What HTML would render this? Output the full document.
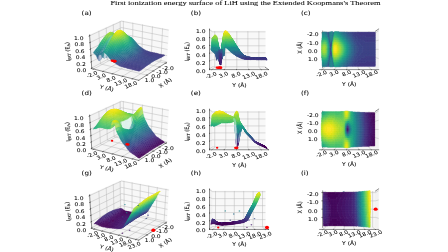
<!DOCTYPE html><html><head><meta charset="utf-8"><style>html,body{margin:0;padding:0;background:#fff;overflow:hidden}svg{display:block}text{stroke:#000;stroke-width:0.3px;stroke-opacity:0.35}</style></head><body><svg width="448" height="252" preserveAspectRatio="none" viewBox="0 0 746.666667 504" version="1.1"><defs><style type="text/css">*{stroke-linejoin: round; stroke-linecap: butt}</style></defs><g id="figure_1"><g id="patch_1"><path d="M 0 504 L 746.7 504 L 746.7 0 L 0 0 z" style="fill: #ffffff"/></g><g id="patch_2"><path d="M 136 164.8 L 292.3 164.8 L 292.3 35.8 L 136 35.8 z" style="fill: #ffffff"/></g><g id="pane3d_1"><g id="patch_3"><path d="M 203.2 104.7 L 277.8 124.8 L 281.3 58.9 L 202.5 41.1" style="fill: #f2f2f2; opacity: 0.5; stroke: #f2f2f2; stroke-linejoin: miter"/></g></g><g id="pane3d_2"><g id="patch_4"><path d="M 203.2 104.7 L 152.9 137.2 L 149.3 70 L 202.5 41.1" style="fill: #e6e6e6; opacity: 0.5; stroke: #e6e6e6; stroke-linejoin: miter"/></g></g><g id="pane3d_3"><g id="patch_5"><path d="M 203.2 104.7 L 152.9 137.2 L 231.2 160.6 L 277.8 124.8" style="fill: #ececec; opacity: 0.5; stroke: #ececec; stroke-linejoin: miter"/></g></g><g id="grid3d_1"><g id="Line3DCollection_1"><path d="M 275.9 126.3 L 201 106.1 L 200.2 42.3" style="fill: none; stroke: #b0b0b0; stroke-width: 0.8"/><path d="M 265.8 134 L 190.2 113.1 L 188.8 48.5" style="fill: none; stroke: #b0b0b0; stroke-width: 0.8"/><path d="M 255.5 142 L 179 120.3 L 177 55" style="fill: none; stroke: #b0b0b0; stroke-width: 0.8"/><path d="M 244.7 150.3 L 167.4 127.8 L 164.7 61.7" style="fill: none; stroke: #b0b0b0; stroke-width: 0.8"/></g></g><g id="grid3d_2"><g id="Line3DCollection_2"><path d="M 205.5 41.8 L 206.1 105.5 L 156 138.1" style="fill: none; stroke: #b0b0b0; stroke-width: 0.8"/><path d="M 221.4 45.4 L 221.1 109.6 L 171.7 142.8" style="fill: none; stroke: #b0b0b0; stroke-width: 0.8"/><path d="M 237.6 49 L 236.5 113.7 L 187.8 147.6" style="fill: none; stroke: #b0b0b0; stroke-width: 0.8"/><path d="M 254.1 52.8 L 252.2 117.9 L 204.2 152.6" style="fill: none; stroke: #b0b0b0; stroke-width: 0.8"/><path d="M 271 56.6 L 268.2 122.2 L 221 157.6" style="fill: none; stroke: #b0b0b0; stroke-width: 0.8"/></g></g><g id="grid3d_3"><g id="Line3DCollection_3"><path d="M 152.9 135.9 L 203.1 103.5 L 277.9 123.5" style="fill: none; stroke: #b0b0b0; stroke-width: 0.8"/><path d="M 152.2 123.6 L 203 91.8 L 278.5 111.4" style="fill: none; stroke: #b0b0b0; stroke-width: 0.8"/><path d="M 151.5 111 L 202.9 79.8 L 279.2 99" style="fill: none; stroke: #b0b0b0; stroke-width: 0.8"/><path d="M 150.8 98.1 L 202.8 67.6 L 279.8 86.4" style="fill: none; stroke: #b0b0b0; stroke-width: 0.8"/><path d="M 150.1 84.9 L 202.6 55.1 L 280.5 73.5" style="fill: none; stroke: #b0b0b0; stroke-width: 0.8"/><path d="M 149.4 71.5 L 202.5 42.4 L 281.2 60.3" style="fill: none; stroke: #b0b0b0; stroke-width: 0.8"/></g></g><g id="axis3d_1"><g id="line2d_1"><path d="M 277.8 124.8 L 231.2 160.6" style="fill: none; stroke: #000000; stroke-width: 0.8; stroke-linecap: square"/></g><g id="xtick_1"><g id="line2d_2"><path d="M 275.3 126.1 L 277.1 126.6" style="fill: none; stroke: #000000; stroke-width: 0.8; stroke-linecap: square"/></g><g id="text_1" transform="translate(-7.6 -7.5)"><text style="font-size: 10px; font-family: 'DejaVu Sans'; text-anchor: middle" x="287.5" y="146.8" transform="rotate(-0 287.5 146.8)">-2.0</text></g></g><g id="xtick_2"><g id="line2d_3"><path d="M 265.2 133.8 L 267.1 134.3" style="fill: none; stroke: #000000; stroke-width: 0.8; stroke-linecap: square"/></g><g id="text_2" transform="translate(-7.6 -7.5)"><text style="font-size: 10px; font-family: 'DejaVu Sans'; text-anchor: middle" x="277.7" y="154.7" transform="rotate(-0 277.7 154.7)">-1.0</text></g></g><g id="xtick_3"><g id="line2d_4"><path d="M 254.8 141.8 L 256.7 142.3" style="fill: none; stroke: #000000; stroke-width: 0.8; stroke-linecap: square"/></g><g id="text_3" transform="translate(-7.6 -7.5)"><text style="font-size: 10px; font-family: 'DejaVu Sans'; text-anchor: middle" x="267.5" y="163" transform="rotate(-0 267.5 163)">0.0</text></g></g><g id="xtick_4"><g id="line2d_5"><path d="M 244 150.1 L 246 150.6" style="fill: none; stroke: #000000; stroke-width: 0.8; stroke-linecap: square"/></g><g id="text_4" transform="translate(-7.6 -7.5)"><text style="font-size: 10px; font-family: 'DejaVu Sans'; text-anchor: middle" x="257" y="171.5" transform="rotate(-0 257 171.5)">1.0</text></g></g><g id="text_5" transform="translate(-6 -5)"><text style="font-size: 10px; font-family: 'DejaVu Sans'; text-anchor: middle" x="283.7" y="173.6" transform="rotate(-37.56 283.7 173.6)">X (Å)</text></g></g><g id="axis3d_2"><g id="line2d_6"><path d="M 152.9 137.2 L 231.2 160.6" style="fill: none; stroke: #000000; stroke-width: 0.8; stroke-linecap: square"/></g><g id="xtick_5"><g id="line2d_7"><path d="M 156.4 137.8 L 155.1 138.7" style="fill: none; stroke: #000000; stroke-width: 0.8; stroke-linecap: square"/></g><g id="text_6" transform="translate(5.4 -12.4)"><text style="font-size: 10px; font-family: 'DejaVu Sans'" transform="translate(140.3 168.3) rotate(-24)">-2.0</text></g></g><g id="xtick_6"><g id="line2d_8"><path d="M 172.1 142.5 L 170.9 143.4" style="fill: none; stroke: #000000; stroke-width: 0.8; stroke-linecap: square"/></g><g id="text_7" transform="translate(5.4 -12.4)"><text style="font-size: 10px; font-family: 'DejaVu Sans'" transform="translate(157.7 171.8) rotate(-24)">3.0</text></g></g><g id="xtick_7"><g id="line2d_9"><path d="M 188.2 147.3 L 186.9 148.2" style="fill: none; stroke: #000000; stroke-width: 0.8; stroke-linecap: square"/></g><g id="text_8" transform="translate(5.4 -12.4)"><text style="font-size: 10px; font-family: 'DejaVu Sans'" transform="translate(173.7 176.8) rotate(-24)">8.0</text></g></g><g id="xtick_8"><g id="line2d_10"><path d="M 204.6 152.3 L 203.4 153.2" style="fill: none; stroke: #000000; stroke-width: 0.8; stroke-linecap: square"/></g><g id="text_9" transform="translate(5.4 -12.4)"><text style="font-size: 10px; font-family: 'DejaVu Sans'" transform="translate(187.2 184.5) rotate(-24)">13.0</text></g></g><g id="xtick_9"><g id="line2d_11"><path d="M 221.4 157.3 L 220.2 158.2" style="fill: none; stroke: #000000; stroke-width: 0.8; stroke-linecap: square"/></g><g id="text_10" transform="translate(5.4 -12.4)"><text style="font-size: 10px; font-family: 'DejaVu Sans'" transform="translate(204 189.7) rotate(-24)">18.0</text></g></g><g id="text_11" transform="translate(4.2 -6.2)"><text style="font-size: 10px; font-family: 'DejaVu Sans'; text-anchor: middle" x="172.8" y="186.1" transform="rotate(-343.34 172.8 186.1)">Y (Å)</text></g></g><g id="axis3d_3"><g id="line2d_12"><path d="M 152.9 137.2 L 149.3 70" style="fill: none; stroke: #000000; stroke-width: 0.8; stroke-linecap: square"/></g><g id="xtick_10"><g id="line2d_13"><path d="M 153.3 135.6 L 152 136.5" style="fill: none; stroke: #000000; stroke-width: 0.8; stroke-linecap: square"/></g><g id="text_12" transform="translate(3.1 -1.5)"><text style="font-size: 10px; font-family: 'DejaVu Sans'; text-anchor: middle" x="132.9" y="145.5" transform="rotate(-0 132.9 145.5)">0.0</text></g></g><g id="xtick_11"><g id="line2d_14"><path d="M 152.6 123.3 L 151.3 124.1" style="fill: none; stroke: #000000; stroke-width: 0.8; stroke-linecap: square"/></g><g id="text_13" transform="translate(3.1 -1.5)"><text style="font-size: 10px; font-family: 'DejaVu Sans'; text-anchor: middle" x="132" y="133.1" transform="rotate(-0 132 133.1)">0.2</text></g></g><g id="xtick_12"><g id="line2d_15"><path d="M 152 110.7 L 150.6 111.5" style="fill: none; stroke: #000000; stroke-width: 0.8; stroke-linecap: square"/></g><g id="text_14" transform="translate(3.1 -1.5)"><text style="font-size: 10px; font-family: 'DejaVu Sans'; text-anchor: middle" x="131.1" y="120.5" transform="rotate(-0 131.1 120.5)">0.4</text></g></g><g id="xtick_13"><g id="line2d_16"><path d="M 151.3 97.8 L 149.9 98.6" style="fill: none; stroke: #000000; stroke-width: 0.8; stroke-linecap: square"/></g><g id="text_15" transform="translate(3.1 -1.5)"><text style="font-size: 10px; font-family: 'DejaVu Sans'; text-anchor: middle" x="130.1" y="107.6" transform="rotate(-0 130.1 107.6)">0.6</text></g></g><g id="xtick_14"><g id="line2d_17"><path d="M 150.6 84.7 L 149.2 85.4" style="fill: none; stroke: #000000; stroke-width: 0.8; stroke-linecap: square"/></g><g id="text_16" transform="translate(3.1 -1.5)"><text style="font-size: 10px; font-family: 'DejaVu Sans'; text-anchor: middle" x="129.2" y="94.4" transform="rotate(-0 129.2 94.4)">0.8</text></g></g><g id="xtick_15"><g id="line2d_18"><path d="M 149.8 71.2 L 148.4 72" style="fill: none; stroke: #000000; stroke-width: 0.8; stroke-linecap: square"/></g><g id="text_17" transform="translate(3.1 -1.5)"><text style="font-size: 10px; font-family: 'DejaVu Sans'; text-anchor: middle" x="128.2" y="80.9" transform="rotate(-0 128.2 80.9)">1.0</text></g></g><g id="text_18" transform="translate(7.7 -5.3) rotate(180 106.2 108.7)"><g transform="translate(102.4 89.5) rotate(-273.101591)"><text><tspan x="0" y="-0.4" style="font-size: 10px; font-family: 'DejaVu Sans'">I</tspan><tspan x="16.6" y="-0.4" style="font-size: 10px; font-family: 'DejaVu Sans'"></tspan><tspan x="19.8" y="-0.4" style="font-size: 10px; font-family: 'DejaVu Sans'">(</tspan><tspan x="23.7" y="-0.4" style="font-size: 10px; font-family: 'DejaVu Sans'">E</tspan><tspan x="34.8" y="-0.4" style="font-size: 10px; font-family: 'DejaVu Sans'">)</tspan><tspan x="3" y="1.2" style="font-style: oblique; font-size: 7px; font-family: 'DejaVu Sans'">E</tspan><tspan x="7.5" y="1.2" style="font-style: oblique; font-size: 7px; font-family: 'DejaVu Sans'">K</tspan><tspan x="12.1" y="1.2" style="font-style: oblique; font-size: 7px; font-family: 'DejaVu Sans'">T</tspan><tspan x="30.1" y="1.2" style="font-style: oblique; font-size: 7px; font-family: 'DejaVu Sans'">h</tspan></text></g></g></g><g id="axes_1"><g id="surf_0_0" transform="scale(0.5)" fill="currentColor" stroke="currentColor" stroke-width="1.2"><path d="M417 174l-4-4 3 19 4-6z" color="#485f93"/><path d="M420 183l-4 6 3-23 4-2z" color="#a7b9cd"/><path d="M414 166l-4-2 3 6 4 4z" color="#306a8e"/><path d="M413 170l-4-3 4 23 3-1z" color="#5975a0"/><path d="M410 161l-3-1 3 4 4 2z" color="#2b748e"/><path d="M407 157l-3-1 3 4 3 1z" color="#287c8e"/><path d="M404 153l-3 0 3 3 3 1z" color="#26828e"/><path d="M416 189l-3 1 2-22 4-2z" color="#b3c1d4"/><path d="M410 164l-4-2 3 5 4 3z" color="#2b748e"/><path d="M409 167l-3-3 3 22 4 4z" color="#5b81a4"/><path d="M407 160l-4-2 3 4 4 2z" color="#277e8e"/><path d="M401 153l-4-1 3 3 4 1z" color="#23898e"/><path d="M404 156l-4-1 3 3 4 2z" color="#25838e"/><path d="M413 190l-4-4 3-13 3-5z" color="#8ba4be"/><path d="M423 164l-4 2 3-4 4-2z" color="#287c8e"/><path d="M429 158l-4 1 3 18 4-9z" color="#3b8397"/><path d="M432 168l-4 9 4-19 3 8z" color="#48899e"/><path d="M426 160l-4 2 3-3 4-1z" color="#25838e"/><path d="M419 166l-4 2 4-5 3-1z" color="#287c8e"/><path d="M425 159l-3 2 3 24 3-8z" color="#508aa1"/><path d="M409 186l-4-7 3 1 4-7z" color="#32648e"/><path d="M406 162l-4-3 4 5 3 3z" color="#27808e"/><path d="M397 152l-4-2 3 2 4 3z" color="#21918c"/><path d="M400 155l-4-3 3 3 4 3z" color="#228d8d"/><path d="M403 158l-4-3 3 4 4 3z" color="#23888e"/><path d="M406 164l-4-4 3 19 4 7z" color="#5089a1"/><path d="M428 177l-3 8 3-32 4 5z" color="#c4dae0"/><path d="M422 161l-4 3 3 23 4-2z" color="#578ca5"/><path d="M422 162l-3 1 3-2 3-2z" color="#25848e"/><path d="M415 168l-3 5 3-8 4-2z" color="#297b8e"/><path d="M405 179l-4-7 4 19 3-11z" color="#3c6e94"/><path d="M412 173l-4 7 3-13 4-2z" color="#337d93"/><path d="M435 166l-3-8 3-9 3 1z" color="#339a96"/><path d="M393 150l-4-2 3 2 4 2z" color="#1f9a8a"/><path d="M419 163l-4 2 3-1 4-3z" color="#25848e"/><path d="M466 186l-3 0 3 3 4 0z" color="#355e8d"/><path d="M463 182l-3 0 3 4 3 0z" color="#32648e"/><path d="M470 189l-4 0 3 3 4 0z" color="#38598c"/><path d="M402 159l-3-4 3 5 4 4z" color="#228b8d"/><path d="M418 164l-4 6 4 12 3 5z" color="#45829b"/><path d="M460 179l-3-1 3 4 3 0z" color="#306a8e"/><path d="M473 192l-4 0 3 3 4-1z" color="#3a548c"/><path d="M457 175l-3-1 3 4 3 1z" color="#2d718e"/><path d="M476 194l-4 1 3 3 4-1z" color="#3c4f8a"/><path d="M396 152l-4-2 4 1 3 4z" color="#1f978b"/><path d="M425 185l-4 2 3-37 4 3z" color="#c9dee3"/><path d="M399 155l-3-4 3 4 3 4z" color="#20938c"/><path d="M401 172l-3-5 3 35 4-11z" color="#c6d4df"/><path d="M479 197l-4 1 4 2 3-1z" color="#3e4a89"/><path d="M408 180l-3 11 3-22 3-2z" color="#4c869f"/><path d="M454 170l-4-1 4 5 3 1z" color="#2a788e"/><path d="M482 199l-3 1 3 3 3-2z" color="#3f4788"/><path d="M451 166l-4-1 3 4 4 1z" color="#27808e"/><path d="M485 201l-3 2 3 2 3-2z" color="#414487"/><path d="M448 162l-4-2 3 5 4 1z" color="#24878e"/><path d="M405 191l-4 11 3-31 4-2z" color="#678fab"/><path d="M402 160l-4-4 3 16 4 7z" color="#41919c"/><path d="M445 158l-4-2 3 4 4 2z" color="#218f8d"/><path d="M488 203l-3 2 3 1 4-2z" color="#424186"/><path d="M441 154l-3-2 3 4 4 2z" color="#1f958b"/><path d="M415 165l-4 2 3 3 4-6z" color="#26828e"/><path d="M438 150l-3-1 3 3 3 2z" color="#1e9c89"/><path d="M492 204l-4 2 3 1 4-1z" color="#424086"/><path d="M401 202l-4 5 3-32 4-4z" color="#698aab"/><path d="M398 167l-4-3 3 43 4-5z" color="#ccd9e3"/><path d="M466 189l-3 0 3 3 3 0z" color="#355e8d"/><path d="M414 170l-3 10 3-7 4 9z" color="#2a768e"/><path d="M463 186l-4-1 4 4 3 0z" color="#32648e"/><path d="M469 192l-3 0 3 3 3 0z" color="#38598c"/><path d="M495 206l-4 1 4 2 3-2z" color="#423f85"/><path d="M472 195l-3 0 3 4 3-1z" color="#3a538b"/><path d="M460 182l-4-1 3 4 4 1z" color="#306a8e"/><path d="M475 198l-3 1 3 2 4-1z" color="#3d4e8a"/><path d="M457 178l-4-1 3 4 4 1z" color="#2d718e"/><path d="M411 167l-3 2 3 11 3-10z" color="#277e8e"/><path d="M479 200l-4 1 3 3 4-1z" color="#3e4a89"/><path d="M389 148l-4-2 4 1 3 3z" color="#20a386"/><path d="M454 174l-4-1 3 4 4 1z" color="#2a778e"/><path d="M498 207l-3 2 3 1 3-2z" color="#423f85"/><path d="M432 158l-4-5 3-6 4 2z" color="#23a08b"/><path d="M482 203l-4 1 4 2 3-1z" color="#404688"/><path d="M450 169l-3-1 3 5 4 1z" color="#27808e"/><path d="M421 187l-3-5 3-35 3 3z" color="#c8e1e3"/><path d="M408 169l-4 2 3 22 4-13z" color="#6d9fb1"/><path d="M485 205l-3 1 3 2 3-2z" color="#414487"/><path d="M399 155l-4-5 3 6 4 4z" color="#1f988b"/><path d="M392 150l-3-3 3 0 4 4z" color="#20a386"/><path d="M447 165l-3-2 3 5 3 1z" color="#24878e"/><path d="M404 171l-4 4 4 32 3-14z" color="#c7d6e0"/><path d="M501 208l-3 2 3 1 3-2z" color="#433e85"/><path d="M397 207l-3-3 2-21 4-8z" color="#6a88ab"/><path d="M396 151l-4-4 3 3 4 5z" color="#1fa188"/><path d="M444 160l-3-2 3 5 3 2z" color="#21908d"/><path d="M488 206l-3 2 3 1 3-2z" color="#414287"/><path d="M400 175l-4 8 4 30 4-6z" color="#cdd6e2"/><path d="M441 156l-4-2 4 4 3 2z" color="#1f978b"/><path d="M504 209l-3 2 3 1 4-2z" color="#433e85"/><path d="M438 152l-4-2 3 4 4 2z" color="#1f9e89"/><path d="M491 207l-3 2 3 2 4-2z" color="#424186"/><path d="M435 149l-4-2 3 3 4 2z" color="#20a386"/><path d="M411 180l-4 13 3-29 4 9z" color="#4b8ca0"/><path d="M469 195l-4 1 4 3 3 0z" color="#38588c"/><path d="M466 192l-4 0 3 4 4-1z" color="#355e8d"/><path d="M396 183l-3 14 3 12 4 4z" color="#9ba6c4"/><path d="M508 210l-4 2 3 1 4-2z" color="#433e85"/><path d="M472 199l-3 0 3 3 3-1z" color="#3b528b"/><path d="M463 189l-4-1 3 4 4 0z" color="#32648e"/><path d="M394 164l-4-1 4 41 3 3z" color="#cbdae3"/><path d="M398 156l-4-4 4 15 3 5z" color="#369b98"/><path d="M495 209l-4 2 3 1 4-2z" color="#424086"/><path d="M459 185l-3-1 3 4 4 1z" color="#306a8e"/><path d="M475 201l-3 1 3 3 3-1z" color="#3d4e8a"/><path d="M478 204l-3 1 3 3 4-2z" color="#3e4989"/><path d="M456 181l-3-1 3 4 3 1z" color="#2c718e"/><path d="M453 177l-3-2 3 5 3 1z" color="#2a788e"/><path d="M482 206l-4 2 3 1 4-1z" color="#404688"/><path d="M511 211l-4 2 4 1 3-3z" color="#433e85"/><path d="M498 210l-4 2 4 1 3-2z" color="#423f85"/><path d="M394 204l-4-9 3 2 3-14z" color="#3a6290"/><path d="M450 173l-4-2 4 4 3 2z" color="#27808e"/><path d="M385 146l-3-2 3-1 4 4z" color="#27ad81"/><path d="M485 208l-4 1 3 2 4-2z" color="#414487"/><path d="M447 168l-4-2 3 5 4 2z" color="#23888e"/><path d="M407 193l-3 14 2-49 4 6z" color="#6399ac"/><path d="M514 211l-3 3 3 0 3-2z" color="#433e85"/><path d="M501 211l-3 2 3 1 3-2z" color="#423f85"/><path d="M393 197l-4 19 3-18 4 11z" color="#3d4d8a"/><path d="M428 153l-4-3 3-6 4 3z" color="#23a983"/><path d="M488 209l-4 2 4 1 3-1z" color="#414287"/><path d="M444 163l-4-2 3 5 4 2z" color="#21918c"/><path d="M517 212l-3 2 3 1 4-2z" color="#433e85"/><path d="M504 212l-3 2 3 1 3-2z" color="#423f85"/><path d="M389 147l-4-4 3-1 4 5z" color="#29af7f"/><path d="M441 158l-4-3 3 6 4 2z" color="#1f998a"/><path d="M395 150l-4-4 3 6 4 4z" color="#21a585"/><path d="M491 211l-3 1 3 2 3-2z" color="#424186"/><path d="M418 182l-4-9 3-29 4 3z" color="#c7e5e2"/><path d="M390 195l-4-10 3 31 4-19z" color="#4e6d9a"/><path d="M437 154l-3-3 3 4 4 3z" color="#1fa188"/><path d="M469 199l-4 0 3 4 4-1z" color="#39568c"/><path d="M465 196l-3-1 3 4 4 0z" color="#365d8d"/><path d="M472 202l-4 1 3 3 4-1z" color="#3b518b"/><path d="M392 147l-4-5 3 4 4 4z" color="#27ad81"/><path d="M462 192l-3-1 3 4 3 1z" color="#33638d"/><path d="M475 205l-4 1 4 3 3-1z" color="#3e4c8a"/><path d="M434 150l-3-3 3 4 3 3z" color="#22a785"/><path d="M521 213l-4 2 3 1 4-2z" color="#433d84"/><path d="M507 213l-3 2 3 1 4-2z" color="#433e85"/><path d="M459 188l-4-1 4 4 3 1z" color="#306a8e"/><path d="M431 147l-4-3 4 3 3 3z" color="#27ad81"/><path d="M494 212l-3 2 3 1 4-2z" color="#424086"/><path d="M478 208l-3 1 3 2 3-2z" color="#3f4889"/><path d="M456 184l-4-1 3 4 4 1z" color="#2c718e"/><path d="M404 207l-4 6 2-59 4 4z" color="#6399ac"/><path d="M389 216l-3 16 2-45 4 11z" color="#cfd2e2"/><path d="M453 180l-4-2 3 5 4 1z" color="#29798e"/><path d="M524 214l-4 2 4 1 3-2z" color="#433d84"/><path d="M481 209l-3 2 3 1 3-1z" color="#404688"/><path d="M511 214l-4 2 4 0 3-2z" color="#433e85"/><path d="M498 213l-4 2 3 1 4-2z" color="#424086"/><path d="M386 185l-4-5 4 52 3-16z" color="#6d81aa"/><path d="M390 163l-4-1 4 33 4 9z" color="#cadee3"/><path d="M450 175l-4-2 3 5 4 2z" color="#26818e"/><path d="M394 152l-4-4 4 16 4 3z" color="#34a794"/><path d="M484 211l-3 1 3 2 4-2z" color="#404588"/><path d="M527 215l-3 2 3 1 3-2z" color="#433d84"/><path d="M514 214l-3 2 3 1 3-2z" color="#433e85"/><path d="M446 171l-3-3 3 5 4 2z" color="#23898e"/><path d="M501 214l-4 2 4 1 3-2z" color="#424086"/><path d="M488 212l-4 2 3 1 4-1z" color="#414287"/><path d="M382 144l-4-2 3-2 4 3z" color="#35b779"/><path d="M443 166l-3-3 3 5 3 3z" color="#20928c"/><path d="M530 216l-3 2 3 1 4-2z" color="#433d84"/><path d="M517 215l-3 2 3 1 3-2z" color="#433e85"/><path d="M504 215l-3 2 3 1 3-2z" color="#423f85"/><path d="M424 150l-3-3 3-6 3 3z" color="#2fb47c"/><path d="M491 214l-4 1 4 1 3-1z" color="#414287"/><path d="M471 206l-3 1 3 3 4-1z" color="#3c508b"/><path d="M468 203l-3 0 3 4 3-1z" color="#39558c"/><path d="M465 199l-4 1 4 3 3 0z" color="#365c8d"/><path d="M440 161l-4-4 4 6 3 3z" color="#1e9b8a"/><path d="M462 195l-4 0 3 5 4-1z" color="#33628d"/><path d="M475 209l-4 1 3 2 4-1z" color="#3e4c8a"/><path d="M382 180l-4-1 4 56 4-3z" color="#6e80aa"/><path d="M459 191l-4 0 3 4 4 0z" color="#306a8e"/><path d="M534 217l-4 2 4 1 3-2z" color="#433d84"/><path d="M520 216l-3 2 3 1 4-2z" color="#433e85"/><path d="M507 216l-3 2 3 1 4-3z" color="#423f85"/><path d="M437 155l-4-3 3 5 4 4z" color="#20a386"/><path d="M494 215l-3 1 3 1 3-1z" color="#424186"/><path d="M455 187l-3-1 3 5 4 0z" color="#2d718e"/><path d="M478 211l-4 1 3 2 4-2z" color="#3e4989"/><path d="M386 232l-4 3 2-54 4 6z" color="#ced3e2"/><path d="M385 143l-4-3 3-2 4 4z" color="#3bbb75"/><path d="M434 151l-4-3 3 4 4 3z" color="#25ac82"/><path d="M391 146l-4-5 3 7 4 4z" color="#2eb37c"/><path d="M400 213l-4-4 2-56 4 1z" color="#619eac"/><path d="M452 183l-3-2 3 5 3 1z" color="#29798e"/><path d="M481 212l-4 2 4 2 3-2z" color="#3f4788"/><path d="M537 218l-3 2 3 1 3-2z" color="#433d84"/><path d="M524 217l-4 2 4 1 3-2z" color="#433e85"/><path d="M431 147l-4-3 3 4 4 3z" color="#2db27d"/><path d="M511 216l-4 3 3 0 4-2z" color="#423f85"/><path d="M427 144l-3-3 3 3 4 3z" color="#35b779"/><path d="M497 216l-3 1 3 2 4-2z" color="#424186"/><path d="M388 142l-4-4 3 3 4 5z" color="#3bbb75"/><path d="M449 178l-3-2 3 5 3 2z" color="#26828e"/><path d="M414 173l-4-9 3-23 4 3z" color="#c4e8de"/><path d="M484 214l-3 2 3 1 3-2z" color="#404588"/><path d="M540 219l-3 2 3 1 4-3z" color="#433d84"/><path d="M527 218l-3 2 3 1 3-2z" color="#433e85"/><path d="M514 217l-4 2 4 1 3-2z" color="#423f85"/><path d="M501 217l-4 2 3 1 4-2z" color="#424086"/><path d="M446 173l-4-3 4 6 3 2z" color="#238a8d"/><path d="M487 215l-3 2 3 1 4-2z" color="#414487"/><path d="M390 148l-4-3 4 18 4 1z" color="#3cb292"/><path d="M378 179l-4 6 4 52 4-2z" color="#6e80aa"/><path d="M468 207l-4 0 3 4 4-1z" color="#3a538b"/><path d="M443 168l-4-3 3 5 4 3z" color="#20938c"/><path d="M544 219l-4 3 3 0 4-2z" color="#433d84"/><path d="M530 219l-3 2 3 1 4-2z" color="#433e85"/><path d="M465 203l-4 0 3 4 4 0z" color="#375a8c"/><path d="M517 218l-3 2 3 1 3-2z" color="#423f85"/><path d="M471 210l-4 1 4 2 3-1z" color="#3d4e8a"/><path d="M386 162l-4 1 4 22 4 10z" color="#c5dfe1"/><path d="M504 218l-4 2 4 1 3-2z" color="#424086"/><path d="M461 200l-3 0 3 3 4 0z" color="#34608d"/><path d="M382 235l-4 2 2-46 4-10z" color="#ced3e2"/><path d="M491 216l-4 2 3 1 4-2z" color="#414487"/><path d="M378 142l-4-2 3-3 4 3z" color="#46c06f"/><path d="M458 195l-3 0 3 5 3 0z" color="#31688e"/><path d="M474 212l-3 1 3 2 3-1z" color="#3e4c8a"/><path d="M440 163l-4-4 3 6 4 3z" color="#1e9c89"/><path d="M547 220l-4 2 4 1 3-2z" color="#433d84"/><path d="M534 220l-4 2 4 1 3-2z" color="#433e85"/><path d="M455 191l-4-1 4 5 3 0z" color="#2d708e"/><path d="M520 219l-3 2 3 1 4-2z" color="#423f85"/><path d="M507 219l-3 2 3 0 3-2z" color="#424086"/><path d="M477 214l-3 1 3 2 4-1z" color="#3f4889"/><path d="M494 217l-4 2 4 1 3-1z" color="#414287"/><path d="M421 147l-4-3 3-7 4 4z" color="#40bd72"/><path d="M436 157l-3-3 3 5 4 4z" color="#21a585"/><path d="M452 186l-4-1 3 5 4 1z" color="#2a788e"/><path d="M481 216l-4 1 3 2 4-2z" color="#3f4788"/><path d="M537 221l-3 2 3 1 3-2z" color="#433e85"/><path d="M524 220l-4 2 4 1 3-2z" color="#423f85"/><path d="M510 219l-3 2 3 1 4-2z" color="#424086"/><path d="M449 181l-4-2 3 6 4 1z" color="#26818e"/><path d="M497 219l-3 1 3 2 3-2z" color="#414287"/><path d="M433 152l-3-4 3 6 3 3z" color="#28ae80"/><path d="M378 237l-4-11 3-19 3-16z" color="#cfd2e2"/><path d="M381 140l-4-3 3-3 4 4z" color="#54c568"/><path d="M484 217l-4 2 4 1 3-2z" color="#404688"/><path d="M430 148l-4-4 4 4 3 4z" color="#34b679"/><path d="M540 222l-3 2 3 1 3-3z" color="#433d84"/><path d="M374 185l-4 10 4 31 4 11z" color="#6d81aa"/><path d="M527 221l-3 2 3 1 3-2z" color="#423f85"/><path d="M446 176l-4-3 3 6 4 2z" color="#238a8d"/><path d="M387 141l-4-4 3 8 4 3z" color="#42be71"/><path d="M514 220l-4 2 3 1 4-2z" color="#424086"/><path d="M500 220l-3 2 3 0 4-1z" color="#424186"/><path d="M396 209l-4-11 3-44 3-1z" color="#5da7ab"/><path d="M427 144l-4-4 3 4 4 4z" color="#40bd72"/><path d="M424 141l-4-4 3 3 4 4z" color="#4cc26c"/><path d="M464 207l-3 1 3 4 3-1z" color="#39568c"/><path d="M467 211l-3 1 3 3 4-2z" color="#3b518b"/><path d="M487 218l-3 2 3 1 3-2z" color="#404588"/><path d="M461 203l-4 1 4 4 3-1z" color="#355e8d"/><path d="M384 138l-4-4 3 3 4 4z" color="#54c568"/><path d="M458 200l-4 0 3 4 4-1z" color="#32658e"/><path d="M471 213l-4 2 3 2 4-2z" color="#3d4e8a"/><path d="M543 222l-3 3 3 1 4-3z" color="#433d84"/><path d="M442 170l-3-3 3 6 4 3z" color="#1f948c"/><path d="M530 222l-3 2 3 1 4-2z" color="#423f85"/><path d="M517 221l-4 2 4 1 3-2z" color="#424086"/><path d="M504 221l-4 1 3 1 4-2z" color="#424186"/><path d="M386 145l-4-3 4 20 4 1z" color="#4abc91"/><path d="M455 195l-4-1 3 6 4 0z" color="#2e6d8e"/><path d="M410 164l-4-6 3-20 4 3z" color="#a2dec3"/><path d="M474 215l-4 2 4 2 3-2z" color="#3e4a89"/><path d="M490 219l-3 2 3 1 4-2z" color="#414487"/><path d="M439 165l-4-3 4 5 3 3z" color="#1f9e89"/><path d="M534 223l-4 2 3 1 4-2z" color="#433e85"/><path d="M477 217l-3 2 3 2 3-2z" color="#3f4889"/><path d="M374 140l-4-2 3-3 4 2z" color="#5ac864"/><path d="M451 190l-3-1 3 5 4 1z" color="#2a768e"/><path d="M520 222l-3 2 3 1 4-2z" color="#424086"/><path d="M507 221l-4 2 4 1 3-2z" color="#424186"/><path d="M382 163l-4 1 4 16 4 5z" color="#7cc0bc"/><path d="M494 220l-4 2 3 2 4-2z" color="#414487"/><path d="M374 226l-4-14 3 12 4-17z" color="#3d4d8a"/><path d="M436 159l-4-3 3 6 4 3z" color="#22a785"/><path d="M448 185l-3-2 3 6 3 1z" color="#277f8e"/><path d="M480 219l-3 2 3 1 4-2z" color="#3f4788"/><path d="M537 224l-4 2 4 1 3-2z" color="#433e85"/><path d="M524 223l-4 2 3 1 4-2z" color="#424086"/><path d="M510 222l-3 2 3 1 3-2z" color="#424186"/><path d="M497 222l-4 2 4 0 3-2z" color="#414287"/><path d="M417 144l-4-3 3-8 4 4z" color="#5bc865"/><path d="M433 154l-4-4 3 6 4 3z" color="#2cb17e"/><path d="M445 179l-4-1 4 5 3 2z" color="#23898e"/><path d="M484 220l-4 2 3 1 4-2z" color="#404688"/><path d="M461 208l-4 1 3 4 4-1z" color="#375a8c"/><path d="M464 212l-4 1 4 3 3-1z" color="#3a548c"/><path d="M370 195l-3 14 3 3 4 14z" color="#4e6d9a"/><path d="M540 225l-3 2 3 1 3-2z" color="#433e85"/><path d="M527 224l-4 2 4 1 3-2z" color="#423f85"/><path d="M513 223l-3 2 3 1 4-2z" color="#424186"/><path d="M457 204l-3 0 3 5 4-1z" color="#33628d"/><path d="M467 215l-3 1 3 2 3-1z" color="#3b518b"/><path d="M500 222l-3 2 3 1 3-2z" color="#414287"/><path d="M377 137l-4-2 3-4 4 3z" color="#6ccd5a"/><path d="M430 148l-4-4 3 6 4 4z" color="#3aba76"/><path d="M487 221l-4 2 4 1 3-2z" color="#404688"/><path d="M454 200l-3 0 3 4 3 0z" color="#306a8e"/><path d="M470 217l-3 1 3 3 4-2z" color="#3d4d8a"/><path d="M442 173l-4-2 3 7 4 1z" color="#20938c"/><path d="M530 225l-3 2 3 1 3-2z" color="#423f85"/><path d="M517 224l-4 2 4 1 3-2z" color="#424186"/><path d="M383 137l-4-3 3 8 4 3z" color="#5cc863"/><path d="M474 219l-4 2 3 1 4-1z" color="#3e4a89"/><path d="M451 194l-4 0 4 6 3 0z" color="#2c728e"/><path d="M426 144l-3-4 3 4 4 4z" color="#4cc26c"/><path d="M503 223l-3 2 3 1 4-2z" color="#414287"/><path d="M382 142l-4-2 4 23 4-1z" color="#59c48f"/><path d="M490 222l-3 2 3 2 3-2z" color="#404588"/><path d="M423 140l-4-5 4 5 3 4z" color="#5ac864"/><path d="M420 137l-4-4 3 2 4 5z" color="#67cc5c"/><path d="M439 167l-4-2 3 6 4 2z" color="#1f9e89"/><path d="M380 134l-4-3 3 3 4 3z" color="#70cf57"/><path d="M477 221l-4 1 4 2 3-2z" color="#3e4989"/><path d="M533 226l-3 2 3 1 4-2z" color="#423f85"/><path d="M448 189l-4-1 3 6 4 0z" color="#287c8e"/><path d="M520 225l-3 2 3 1 3-2z" color="#424186"/><path d="M392 198l-4-11 3-32 4-1z" color="#5ab3a9"/><path d="M370 212l-4-10 4 31 3-9z" color="#9ba6c4"/><path d="M507 224l-4 2 4 1 3-2z" color="#414287"/><path d="M370 138l-4 0 3-4 4 1z" color="#69cd5b"/><path d="M378 164l-4 1 4 14 4 1z" color="#52b1a5"/><path d="M493 224l-3 2 3 0 4-2z" color="#414487"/><path d="M406 158l-4-4 3-19 4 3z" color="#9cddb1"/><path d="M435 162l-3-3 3 6 4 2z" color="#22a884"/><path d="M480 222l-3 2 3 1 3-2z" color="#3f4889"/><path d="M445 183l-4-1 3 6 4 1z" color="#24868e"/><path d="M537 227l-4 2 4 1 3-2z" color="#423f85"/><path d="M460 213l-3 2 3 2 4-1z" color="#39568c"/><path d="M523 226l-3 2 3 1 4-2z" color="#424186"/><path d="M457 209l-4 1 4 5 3-2z" color="#365d8d"/><path d="M510 225l-3 2 3 1 3-2z" color="#414287"/><path d="M367 209l-4 14 3-21 4 10z" color="#3a6290"/><path d="M497 224l-4 2 3 1 4-2z" color="#414487"/><path d="M464 216l-4 1 3 3 4-2z" color="#3a538b"/><path d="M483 223l-3 2 3 1 4-2z" color="#3f4788"/><path d="M454 204l-4 1 3 5 4-1z" color="#31668e"/><path d="M432 156l-3-3 3 6 3 3z" color="#2db27d"/><path d="M467 218l-4 2 3 3 4-2z" color="#3c4f8a"/><path d="M441 178l-3-2 3 6 4 1z" color="#21918c"/><path d="M527 227l-4 2 4 1 3-2z" color="#424086"/><path d="M451 200l-4 0 3 5 4-1z" color="#2e6e8e"/><path d="M513 226l-3 2 3 1 4-2z" color="#414287"/><path d="M470 221l-4 2 4 1 3-2z" color="#3e4c8a"/><path d="M500 225l-4 2 4 1 3-2z" color="#414487"/><path d="M413 141l-4-3 3-9 4 4z" color="#78d157"/><path d="M487 224l-4 2 3 2 4-2z" color="#404688"/><path d="M429 150l-4-3 4 6 3 3z" color="#3dbc74"/><path d="M447 194l-3 1 3 5 4 0z" color="#2a768e"/><path d="M373 135l-4-1 3-4 4 1z" color="#81d34d"/><path d="M530 228l-3 2 3 1 3-2z" color="#424086"/><path d="M473 222l-3 2 3 2 4-2z" color="#3e4a89"/><path d="M438 171l-3-2 3 7 3 2z" color="#1e9c89"/><path d="M517 227l-4 2 4 1 3-2z" color="#414287"/><path d="M374 165l-4 3 4 17 4-6z" color="#52b1a5"/><path d="M378 140l-4 0 4 24 4-1z" color="#63c98e"/><path d="M503 226l-3 2 3 1 4-2z" color="#414487"/><path d="M490 226l-4 2 4 1 3-3z" color="#404688"/><path d="M426 144l-4-4 3 7 4 3z" color="#54c568"/><path d="M379 134l-4-2 3 8 4 2z" color="#70cf57"/><path d="M477 224l-4 2 3 1 4-2z" color="#3e4989"/><path d="M444 188l-3 0 3 7 3-1z" color="#26828e"/><path d="M533 229l-3 2 3 1 4-2z" color="#424086"/><path d="M366 138l-4 0 3-4 4 0z" color="#77d153"/><path d="M363 223l-4 9 2-33 5 3z" color="#6a88ab"/><path d="M520 228l-3 2 3 1 3-2z" color="#414287"/><path d="M507 227l-4 2 3 1 4-2z" color="#414487"/><path d="M457 215l-4 2 3 2 4-2z" color="#38598c"/><path d="M493 226l-3 3 3 0 3-2z" color="#404588"/><path d="M435 165l-4-3 4 7 3 2z" color="#22a785"/><path d="M453 210l-3 2 3 5 4-2z" color="#34608d"/><path d="M423 140l-4-4 3 4 4 4z" color="#67cc5c"/><path d="M376 131l-4-1 3 2 4 2z" color="#89d548"/><path d="M366 202l-5-3 5 32 4 2z" color="#cdd6e2"/><path d="M460 217l-4 2 3 3 4-2z" color="#3a548c"/><path d="M480 225l-4 2 3 1 4-2z" color="#3f4889"/><path d="M370 168l-4 4 4 23 4-10z" color="#7cc0bc"/><path d="M463 220l-4 2 4 3 3-2z" color="#3c508b"/><path d="M419 135l-3-4 3 5 4 4z" color="#7ad151"/><path d="M416 133l-4-4 4 2 3 4z" color="#89d548"/><path d="M441 182l-4 0 4 6 3 0z" color="#228c8d"/><path d="M450 205l-3 2 3 5 3-2z" color="#31688e"/><path d="M402 154l-4-1 3-19 4 1z" color="#a5e1ab"/><path d="M523 229l-3 2 3 1 4-2z" color="#424186"/><path d="M388 187l-4-6 3-24 4-2z" color="#5bbca6"/><path d="M510 228l-4 2 4 1 3-2z" color="#414487"/><path d="M466 223l-3 2 3 1 4-2z" color="#3d4d8a"/><path d="M496 227l-3 2 3 1 4-2z" color="#404588"/><path d="M366 172l-3 4 4 33 3-14z" color="#c5dfe1"/><path d="M363 176l-4 6 4 41 4-14z" color="#cadee3"/><path d="M483 226l-4 2 4 2 3-2z" color="#3f4788"/><path d="M432 159l-4-3 3 6 4 3z" color="#2db27d"/><path d="M447 200l-4 2 4 5 3-2z" color="#2d718e"/><path d="M359 182l-4 6 4 44 4-9z" color="#cbdae3"/><path d="M527 230l-4 2 4 1 3-2z" color="#424186"/><path d="M470 224l-4 2 3 2 4-2z" color="#3e4c8a"/><path d="M438 176l-4-1 3 7 4 0z" color="#1f978b"/><path d="M513 229l-3 2 3 1 4-2z" color="#414487"/><path d="M500 228l-4 2 4 1 3-2z" color="#404588"/><path d="M486 228l-3 2 3 1 4-2z" color="#3f4788"/><path d="M444 195l-4 0 3 7 4-2z" color="#297a8e"/><path d="M374 140l-3 1 3 24 4-1z" color="#69cc8d"/><path d="M429 153l-4-3 3 6 4 3z" color="#3fbc73"/><path d="M473 226l-4 2 4 1 3-2z" color="#3e4a89"/><path d="M369 134l-4 0 3-5 4 1z" color="#90d743"/><path d="M530 231l-3 2 3 1 3-2z" color="#424186"/><path d="M517 230l-4 2 3 1 4-2z" color="#414487"/><path d="M503 229l-3 2 3 1 3-2z" color="#404588"/><path d="M453 217l-4 2 4 2 3-2z" color="#375a8c"/><path d="M409 138l-4-3 3-10 4 4z" color="#94d849"/><path d="M490 229l-4 2 3 1 4-3z" color="#404688"/><path d="M359 232l-4-1 2-31 4-1z" color="#698aab"/><path d="M435 169l-4-1 3 7 4 1z" color="#20a386"/><path d="M362 138l-4 2 3-5 4-1z" color="#7fd34e"/><path d="M441 188l-4 1 3 6 4 0z" color="#25858e"/><path d="M450 212l-4 1 3 6 4-2z" color="#34618d"/><path d="M355 188l-4 8 4 35 4 1z" color="#ccd9e3"/><path d="M456 219l-3 2 3 3 3-2z" color="#39558c"/><path d="M476 227l-3 2 3 2 3-3z" color="#3e4989"/><path d="M425 147l-4-4 4 7 4 3z" color="#54c568"/><path d="M459 222l-3 2 3 3 4-2z" color="#3b518b"/><path d="M375 132l-4 0 3 8 4 0z" color="#84d44b"/><path d="M384 181l-4 10 3-32 4-2z" color="#5bbca6"/><path d="M520 231l-4 2 4 1 3-2z" color="#414487"/><path d="M447 207l-4 1 3 5 4-1z" color="#306a8e"/><path d="M506 230l-3 2 3 1 4-2z" color="#404588"/><path d="M463 225l-4 2 3 2 4-3z" color="#3d4e8a"/><path d="M493 229l-4 3 4 1 3-3z" color="#404688"/><path d="M377 207l-4 17 2-57 4-4z" color="#5da7ab"/><path d="M479 228l-3 3 3 1 4-2z" color="#3f4889"/><path d="M372 130l-4-1 3 3 4 0z" color="#9bd93c"/><path d="M380 191l-3 16 2-44 4-4z" color="#5ab3a9"/><path d="M437 182l-3 0 3 7 4-1z" color="#21918c"/><path d="M373 224l-3 9 1-60 4-6z" color="#619eac"/><path d="M422 140l-4-3 3 6 4 4z" color="#6ece58"/><path d="M431 162l-3-1 3 7 4 1z" color="#29af7f"/><path d="M443 202l-3 1 3 5 4-1z" color="#2c738e"/><path d="M466 226l-4 3 4 1 3-2z" color="#3d4d8a"/><path d="M523 232l-3 2 3 1 4-2z" color="#414287"/><path d="M398 153l-3 1 3-21 3 1z" color="#b2e5ab"/><path d="M510 231l-4 2 4 1 3-2z" color="#404588"/><path d="M496 230l-3 3 3 0 4-2z" color="#404688"/><path d="M483 230l-4 2 3 1 4-2z" color="#3f4788"/><path d="M371 141l-4 3 3 24 4-3z" color="#69cc8d"/><path d="M361 199l-4 1 4 22 5 9z" color="#c7d6e0"/><path d="M419 136l-4-4 3 5 4 3z" color="#86d549"/><path d="M440 195l-4 2 4 6 3-1z" color="#287d8e"/><path d="M469 228l-3 2 3 1 4-2z" color="#3e4c8a"/><path d="M434 175l-4 0 4 7 3 0z" color="#1e9d89"/><path d="M412 129l-4-4 4 3 4 3z" color="#aadc32"/><path d="M416 131l-4-3 3 4 4 4z" color="#9bd93c"/><path d="M428 156l-4-2 4 7 3 1z" color="#3bbb75"/><path d="M527 233l-4 2 3 1 4-2z" color="#414287"/><path d="M513 232l-3 2 3 1 3-2z" color="#404588"/><path d="M500 231l-4 2 3 1 4-2z" color="#404688"/><path d="M358 140l-4 2 3-4 4-3z" color="#7fd34e"/><path d="M351 196l-4 10 4 19 4 6z" color="#c6d4df"/><path d="M449 219l-3 2 3 3 4-3z" color="#375b8d"/><path d="M486 231l-4 2 4 1 3-2z" color="#3f4788"/><path d="M365 134l-4 1 3-4 4-2z" color="#9bd93c"/><path d="M370 233l-4-2 1-50 4-8z" color="#6399ac"/><path d="M453 221l-4 3 3 3 4-3z" color="#39568c"/><path d="M446 213l-4 3 4 5 3-2z" color="#33628d"/><path d="M473 229l-4 2 3 2 4-2z" color="#3e4a89"/><path d="M456 224l-4 3 3 2 4-2z" color="#3b528b"/><path d="M437 189l-4 1 3 7 4-2z" color="#23888e"/><path d="M516 233l-3 2 3 1 4-2z" color="#404588"/><path d="M459 227l-4 2 4 2 3-2z" color="#3c4f8a"/><path d="M443 208l-4 2 3 6 4-3z" color="#2f6b8e"/><path d="M425 150l-4-3 3 7 4 2z" color="#52c569"/><path d="M503 232l-4 2 4 1 3-2z" color="#404688"/><path d="M489 232l-3 2 3 1 4-2z" color="#3f4788"/><path d="M371 132l-4 1 4 8 3-1z" color="#8bd646"/><path d="M476 231l-4 2 4 1 3-2z" color="#3f4889"/><path d="M431 168l-4-1 3 8 4 0z" color="#23a983"/><path d="M355 231l-4-6 2-23 4-2z" color="#678fab"/><path d="M367 144l-4 5 3 23 4-4z" color="#63c98e"/><path d="M440 203l-4 2 3 5 4-2z" color="#2b748e"/><path d="M462 229l-3 2 3 2 4-3z" color="#3d4d8a"/><path d="M405 135l-4-1 4-11 3 2z" color="#b0de39"/><path d="M368 129l-4 2 3 2 4-1z" color="#a5db36"/><path d="M520 234l-4 2 4 1 3-2z" color="#404588"/><path d="M434 182l-4 1 3 7 4-1z" color="#1f948c"/><path d="M506 233l-3 2 3 1 4-2z" color="#404688"/><path d="M493 233l-4 2 3 1 4-3z" color="#3f4788"/><path d="M479 232l-3 2 3 1 3-2z" color="#3f4889"/><path d="M421 143l-3-2 3 6 4 3z" color="#6ccd5a"/><path d="M354 142l-4 5 3-4 4-5z" color="#77d153"/><path d="M466 230l-4 3 3 1 4-3z" color="#3e4c8a"/><path d="M395 154l-4 1 3-22 4 0z" color="#bbe8ad"/><path d="M436 197l-3 2 3 6 4-2z" color="#277f8e"/><path d="M428 161l-4-1 3 7 4 1z" color="#32b67a"/><path d="M523 235l-3 2 3 1 3-2z" color="#414487"/><path d="M446 221l-4 3 3 2 4-2z" color="#375b8d"/><path d="M510 234l-4 2 3 1 4-2z" color="#404688"/><path d="M347 206l-3 11 3 2 4 6z" color="#3c6e94"/><path d="M496 233l-4 3 4 1 3-3z" color="#3f4788"/><path d="M361 135l-4 3 3-4 4-3z" color="#9bd93c"/><path d="M482 233l-3 2 3 1 4-2z" color="#3f4889"/><path d="M449 224l-4 2 3 3 4-2z" color="#39568c"/><path d="M442 216l-3 2 3 6 4-3z" color="#33628d"/><path d="M366 231l-5-9 3-30 3-11z" color="#6399ac"/><path d="M469 231l-4 3 4 1 3-2z" color="#3e4a89"/><path d="M430 175l-4 1 4 7 4-1z" color="#1fa188"/><path d="M452 227l-4 2 4 3 3-3z" color="#3b528b"/><path d="M363 149l-4 6 4 21 3-4z" color="#59c48f"/><path d="M418 137l-4-3 4 7 3 2z" color="#89d548"/><path d="M455 229l-3 3 3 2 4-3z" color="#3c4f8a"/><path d="M439 210l-4 3 4 5 3-2z" color="#2f6b8e"/><path d="M433 190l-4 2 4 7 3-2z" color="#238a8d"/><path d="M513 235l-4 2 4 1 3-2z" color="#404688"/><path d="M499 234l-3 3 3 1 4-3z" color="#3f4788"/><path d="M367 133l-4 3 4 8 4-3z" color="#8bd646"/><path d="M486 234l-4 2 4 1 3-2z" color="#3f4889"/><path d="M424 154l-4-1 4 7 4 1z" color="#4ac16d"/><path d="M472 233l-3 2 3 2 4-3z" color="#3e4989"/><path d="M350 147l-4 5 3-4 4-5z" color="#69cd5b"/><path d="M415 132l-4-3 3 5 4 3z" color="#a5db36"/><path d="M436 205l-4 3 3 5 4-3z" color="#2b748e"/><path d="M459 231l-4 3 3 1 4-2z" color="#3d4d8a"/><path d="M357 200l-4 2 4 11 4 9z" color="#6d9fb1"/><path d="M408 125l-3-2 3 2 4 3z" color="#c8e020"/><path d="M364 131l-4 3 3 2 4-3z" color="#a5db36"/><path d="M412 128l-4-3 3 4 4 3z" color="#bade28"/><path d="M427 167l-4 1 3 8 4-1z" color="#27ad81"/><path d="M359 155l-4 8 4 19 4-6z" color="#4abc91"/><path d="M516 236l-3 2 3 1 4-2z" color="#404588"/><path d="M503 235l-4 3 3 1 4-3z" color="#3f4788"/><path d="M476 234l-4 3 3 1 4-3z" color="#3f4889"/><path d="M489 235l-3 2 3 1 3-2z" color="#3f4889"/><path d="M430 183l-4 2 3 7 4-2z" color="#1f968b"/><path d="M357 138l-4 5 3-4 4-5z" color="#90d743"/><path d="M421 147l-4-1 3 7 4 1z" color="#63cb5f"/><path d="M462 233l-4 2 4 2 3-3z" color="#3e4c8a"/><path d="M344 217l-4 12 2-13 5 3z" color="#32648e"/><path d="M433 199l-4 3 3 6 4-3z" color="#277f8e"/><path d="M442 224l-4 3 3 2 4-3z" color="#375a8c"/><path d="M346 152l-4 6 3-3 4-7z" color="#5ac864"/><path d="M391 155l-4 2 3-23 4-1z" color="#c1eaae"/><path d="M351 225l-4-6 2-14 4-3z" color="#4c869f"/><path d="M439 218l-4 4 3 5 4-3z" color="#34618d"/><path d="M520 237l-4 2 3 1 4-2z" color="#404588"/><path d="M445 226l-4 3 4 3 3-3z" color="#39558c"/><path d="M506 236l-4 3 4 1 3-3z" color="#404688"/><path d="M479 235l-4 3 4 1 3-3z" color="#3f4889"/><path d="M492 236l-3 2 3 1 4-2z" color="#3f4788"/><path d="M355 163l-4 8 4 17 4-6z" color="#3cb292"/><path d="M448 229l-3 3 3 3 4-3z" color="#3b518b"/><path d="M465 234l-3 3 3 1 4-3z" color="#3e4a89"/><path d="M401 134l-3-1 3-12 4 2z" color="#c5e12e"/><path d="M363 136l-4 5 4 8 4-5z" color="#84d44b"/><path d="M361 222l-4-9 3-7 4-14z" color="#4b8ca0"/><path d="M424 160l-4 0 3 8 4-1z" color="#3bbb75"/><path d="M435 213l-3 3 3 6 4-4z" color="#306a8e"/><path d="M426 176l-3 2 3 7 4-2z" color="#1fa287"/><path d="M452 232l-4 3 3 2 4-3z" color="#3d4e8a"/><path d="M418 141l-4-2 3 7 4 1z" color="#81d34d"/><path d="M429 192l-4 3 4 7 4-3z" color="#238a8d"/><path d="M351 171l-4 9 4 16 4-8z" color="#34a794"/><path d="M342 158l-4 6 3-1 4-8z" color="#46c06f"/><path d="M360 134l-4 5 3 2 4-5z" color="#9bd93c"/><path d="M509 237l-3 3 3 1 4-3z" color="#404688"/><path d="M482 236l-3 3 3 1 4-3z" color="#3f4889"/><path d="M469 235l-4 3 3 1 4-2z" color="#3e4989"/><path d="M496 237l-4 2 4 1 3-2z" color="#3f4788"/><path d="M353 143l-4 5 3-3 4-6z" color="#81d34d"/><path d="M340 198l-4 9 4 22 4-12z" color="#5089a1"/><path d="M336 207l-4 8 4 23 4-9z" color="#5b81a4"/><path d="M343 189l-3 9 4 19 3-11z" color="#41919c"/><path d="M347 180l-4 9 4 17 4-10z" color="#369b98"/><path d="M432 208l-4 3 4 5 3-3z" color="#2c738e"/><path d="M455 234l-4 3 4 1 3-3z" color="#3d4d8a"/><path d="M340 229l-4 9 2-22 4 0z" color="#8ba4be"/><path d="M359 141l-4 7 4 7 4-6z" color="#70cf57"/><path d="M472 237l-4 2 4 1 3-2z" color="#3f4889"/><path d="M338 164l-4 7 3 0 4-8z" color="#35b779"/><path d="M414 134l-4-2 4 7 4 2z" color="#a0da39"/><path d="M513 238l-4 3 4 0 3-2z" color="#404688"/><path d="M486 237l-4 3 3 1 4-3z" color="#3f4889"/><path d="M499 238l-3 2 3 1 3-2z" color="#3f4788"/><path d="M420 153l-3 0 3 7 4 0z" color="#54c568"/><path d="M426 185l-4 3 3 7 4-3z" color="#1f968b"/><path d="M429 202l-4 3 3 6 4-3z" color="#287d8e"/><path d="M458 235l-3 3 3 1 4-2z" color="#3e4c8a"/><path d="M332 215l-4 8 4 19 4-4z" color="#5975a0"/><path d="M349 148l-4 7 3-2 4-8z" color="#6ccd5a"/><path d="M423 168l-4 2 4 8 3-2z" color="#2ab07f"/><path d="M438 227l-4 3 4 3 3-4z" color="#38598c"/><path d="M435 222l-4 3 3 5 4-3z" color="#34608d"/><path d="M356 139l-4 6 3 3 4-7z" color="#89d548"/><path d="M441 229l-3 4 3 2 4-3z" color="#3a548c"/><path d="M387 157l-4 2 3-22 4-3z" color="#c1eaae"/><path d="M334 171l-4 8 4 0 3-8z" color="#27ad81"/><path d="M475 238l-3 2 3 1 4-2z" color="#3f4889"/><path d="M445 232l-4 3 3 3 4-3z" color="#3c508b"/><path d="M411 129l-4-2 3 5 4 2z" color="#bddf26"/><path d="M355 148l-3 7 3 8 4-8z" color="#5cc863"/><path d="M357 213l-4-5 3 12 4-14z" color="#2a768e"/><path d="M516 239l-3 2 3 1 3-2z" color="#404688"/><path d="M489 238l-4 3 4 1 3-3z" color="#3f4889"/><path d="M502 239l-3 2 3 1 4-2z" color="#3f4788"/><path d="M462 237l-4 2 3 2 4-3z" color="#3e4a89"/><path d="M345 155l-4 8 3-2 4-8z" color="#54c568"/><path d="M432 216l-4 4 3 5 4-3z" color="#31688e"/><path d="M405 123l-4-2 3 2 4 2z" color="#dfe318"/><path d="M417 146l-4 0 4 7 3 0z" color="#70cf57"/><path d="M425 195l-3 3 3 7 4-3z" color="#23888e"/><path d="M448 235l-4 3 4 2 3-3z" color="#3d4d8a"/><path d="M408 125l-4-2 3 4 4 2z" color="#d2e21b"/><path d="M353 202l-4 3 4 3 4 5z" color="#277e8e"/><path d="M423 178l-4 3 3 7 4-3z" color="#1fa287"/><path d="M352 155l-4 9 3 7 4-8z" color="#42be71"/><path d="M352 145l-4 8 4 2 3-7z" color="#70cf57"/><path d="M330 179l-3 7 3 1 4-8z" color="#20a386"/><path d="M428 211l-4 4 4 5 4-4z" color="#2d718e"/><path d="M341 163l-4 8 4-1 3-9z" color="#3bbb75"/><path d="M465 238l-4 3 4 1 3-3z" color="#3f4889"/><path d="M479 239l-4 2 3 1 4-2z" color="#3f4889"/><path d="M420 160l-4 2 3 8 4-2z" color="#3fbc73"/><path d="M492 239l-3 3 3 1 4-3z" color="#3f4889"/><path d="M506 240l-4 2 4 1 3-2z" color="#3f4788"/><path d="M336 238l-4 4 2-24 4-2z" color="#b3c1d4"/><path d="M348 164l-4 9 3 7 4-9z" color="#2eb37c"/><path d="M347 219l-5-3 3-8 4-3z" color="#337d93"/><path d="M451 237l-3 3 3 1 4-3z" color="#3e4c8a"/><path d="M337 171l-3 8 3 0 4-9z" color="#29af7f"/><path d="M328 223l-4 9 4 9 4 1z" color="#485f93"/><path d="M398 133l-4 0 3-12 4 0z" color="#d5e327"/><path d="M348 153l-4 8 4 3 4-9z" color="#54c568"/><path d="M344 173l-4 10 3 6 4-9z" color="#21a585"/><path d="M425 205l-4 4 3 6 4-4z" color="#297a8e"/><path d="M340 183l-4 9 4 6 3-9z" color="#1f988b"/><path d="M344 161l-3 9 3 3 4-9z" color="#3bbb75"/><path d="M422 188l-4 4 4 6 3-3z" color="#1f948c"/><path d="M327 186l-4 6 3 2 4-7z" color="#1f9a8a"/><path d="M334 179l-4 8 3 1 4-9z" color="#20a386"/><path d="M414 139l-4 0 3 7 4 0z" color="#90d743"/><path d="M468 239l-3 3 3 1 4-3z" color="#3f4889"/><path d="M482 240l-4 2 4 1 3-2z" color="#3f4889"/><path d="M434 230l-3 4 3 2 4-3z" color="#39568c"/><path d="M341 170l-4 9 3 4 4-10z" color="#27ad81"/><path d="M496 240l-4 3 3 1 4-3z" color="#3f4788"/><path d="M431 225l-4 4 4 5 3-4z" color="#365d8d"/><path d="M509 241l-3 2 3 1 4-3z" color="#3f4788"/><path d="M336 192l-4 9 4 6 4-9z" color="#228b8d"/><path d="M455 238l-4 3 3 1 4-3z" color="#3e4a89"/><path d="M353 208l-4-1 3 23 4-10z" color="#45829b"/><path d="M337 179l-4 9 3 4 4-9z" color="#1fa188"/><path d="M419 170l-3 3 3 8 4-3z" color="#2ab07f"/><path d="M438 233l-4 3 3 3 4-4z" color="#3a538b"/><path d="M383 159l-4 4 3-21 4-5z" color="#bbe8ad"/><path d="M330 187l-4 7 3 3 4-9z" color="#1f978b"/><path d="M417 153l-4 2 3 7 4-2z" color="#5ac864"/><path d="M428 220l-4 4 3 5 4-4z" color="#31668e"/><path d="M333 188l-4 9 3 4 4-9z" color="#20938c"/><path d="M332 201l-3 8 3 6 4-8z" color="#27808e"/><path d="M441 235l-4 4 3 2 4-3z" color="#3c4f8a"/><path d="M422 198l-4 5 3 6 4-4z" color="#25858e"/><path d="M472 240l-4 3 3 1 4-3z" color="#3f4889"/><path d="M458 239l-4 3 3 2 4-3z" color="#3e4989"/><path d="M323 192l-4 6 3 4 4-8z" color="#21918c"/><path d="M485 241l-3 2 3 1 4-2z" color="#3f4889"/><path d="M499 241l-4 3 4 1 3-3z" color="#3f4788"/><path d="M513 241l-4 3 3 1 4-3z" color="#3f4788"/><path d="M424 215l-3 5 3 4 4-4z" color="#2e6e8e"/><path d="M410 132l-3 0 3 7 4 0z" color="#b2dd2d"/><path d="M419 181l-4 4 3 7 4-4z" color="#1fa188"/><path d="M444 238l-4 3 4 2 4-3z" color="#3e4c8a"/><path d="M326 194l-4 8 3 3 4-8z" color="#228d8d"/><path d="M329 197l-4 8 4 4 3-8z" color="#23888e"/><path d="M329 209l-4 7 3 7 4-8z" color="#2b748e"/><path d="M461 241l-4 3 4 1 4-3z" color="#3f4889"/><path d="M421 209l-4 5 4 6 3-5z" color="#2a768e"/><path d="M475 241l-4 3 4 1 3-3z" color="#3f4889"/><path d="M413 146l-4 2 4 7 4-2z" color="#77d153"/><path d="M416 162l-4 3 4 8 3-3z" color="#3fbc73"/><path d="M489 242l-4 2 3 1 4-2z" color="#3f4889"/><path d="M418 192l-3 5 3 6 4-5z" color="#21918c"/><path d="M448 240l-4 3 3 1 4-3z" color="#3e4a89"/><path d="M502 242l-3 3 3 0 4-2z" color="#3f4788"/><path d="M325 205l-4 7 4 4 4-7z" color="#277e8e"/><path d="M407 127l-4 0 4 5 3 0z" color="#d0e11c"/><path d="M332 242l-4-1 2-20 4-3z" color="#a7b9cd"/><path d="M325 216l-4 7 3 9 4-9z" color="#306a8e"/><path d="M319 198l-4 6 3 4 4-6z" color="#23898e"/><path d="M322 202l-4 6 3 4 4-7z" color="#25838e"/><path d="M379 163l-4 4 3-20 4-5z" color="#b2e5ab"/><path d="M427 229l-4 4 4 4 4-3z" color="#375a8c"/><path d="M431 234l-4 3 3 3 4-4z" color="#3a548c"/><path d="M349 205l-4 3 4-1 4 1z" color="#26828e"/><path d="M401 121l-4 0 3 2 4 0z" color="#f1e51d"/><path d="M465 242l-4 3 3 1 4-3z" color="#3f4788"/><path d="M404 123l-4 0 3 4 4 0z" color="#e5e419"/><path d="M349 207l-5 2 4 24 4-3z" color="#578ca5"/><path d="M416 173l-4 4 3 8 4-4z" color="#27ad81"/><path d="M394 133l-4 1 3-12 4-1z" color="#dce426"/><path d="M451 241l-4 3 3 2 4-4z" color="#3e4989"/><path d="M478 242l-3 3 3 1 4-3z" color="#3f4889"/><path d="M342 216l-4 0 3-5 4-3z" color="#297b8e"/><path d="M418 203l-4 5 3 6 4-5z" color="#26828e"/><path d="M424 224l-4 5 3 4 4-4z" color="#33628d"/><path d="M434 236l-4 4 3 2 4-3z" color="#3b518b"/><path d="M492 243l-4 2 4 1 3-2z" color="#3f4788"/><path d="M506 243l-4 2 3 1 4-2z" color="#3f4788"/><path d="M421 220l-4 5 3 4 4-5z" color="#306a8e"/><path d="M437 239l-4 3 4 3 3-4z" color="#3d4d8a"/><path d="M415 185l-4 5 4 7 3-5z" color="#1e9d89"/><path d="M410 139l-4 2 3 7 4-2z" color="#98d83e"/><path d="M321 212l-4 6 4 5 4-7z" color="#2b748e"/><path d="M413 155l-4 3 3 7 4-3z" color="#5ac864"/><path d="M468 243l-4 3 4 1 3-3z" color="#3f4788"/><path d="M454 242l-4 4 4 1 3-3z" color="#3f4889"/><path d="M318 208l-4 6 3 4 4-6z" color="#287c8e"/><path d="M482 243l-4 3 3 1 4-3z" color="#3f4788"/><path d="M440 241l-3 4 3 1 4-3z" color="#3e4a89"/><path d="M417 214l-4 5 4 6 4-5z" color="#2c728e"/><path d="M315 204l-4 6 3 4 4-6z" color="#26828e"/><path d="M415 197l-4 5 3 6 4-5z" color="#228c8d"/><path d="M495 244l-3 2 3 1 4-2z" color="#3f4788"/><path d="M509 244l-4 2 4 1 3-2z" color="#3f4788"/><path d="M375 167l-4 6 3-19 4-7z" color="#a5e1ab"/><path d="M412 165l-4 4 4 8 4-4z" color="#3bbb75"/><path d="M457 244l-3 3 3 1 4-3z" color="#3f4788"/><path d="M471 244l-3 3 3 1 4-3z" color="#3f4788"/><path d="M444 243l-4 3 3 1 4-3z" color="#3e4989"/><path d="M407 132l-4 2 3 7 4-2z" color="#bade28"/><path d="M414 208l-4 6 3 5 4-5z" color="#287c8e"/><path d="M412 177l-4 5 3 8 4-5z" color="#23a983"/><path d="M423 233l-3 4 3 4 4-4z" color="#39568c"/><path d="M485 244l-4 3 4 1 3-3z" color="#3f4788"/><path d="M409 148l-4 3 4 7 4-3z" color="#77d153"/><path d="M427 237l-4 4 3 3 4-4z" color="#3b518b"/><path d="M499 245l-4 2 3 1 4-3z" color="#3f4788"/><path d="M420 229l-4 4 4 4 3-4z" color="#355e8d"/><path d="M411 190l-4 5 4 7 4-5z" color="#1f978b"/><path d="M371 173l-4 8 3-20 4-7z" color="#9cddb1"/><path d="M417 225l-4 4 3 4 4-4z" color="#32658e"/><path d="M356 220l-4 10 2-38 4-8z" color="#c8e1e3"/><path d="M430 240l-4 4 4 2 3-4z" color="#3d4e8a"/><path d="M360 206l-4 14 2-36 4-8z" color="#c7e5e2"/><path d="M461 245l-4 3 3 1 4-3z" color="#3f4788"/><path d="M447 244l-4 3 4 2 3-3z" color="#3f4889"/><path d="M475 245l-4 3 3 1 4-3z" color="#3f4788"/><path d="M411 202l-4 6 3 6 4-6z" color="#24868e"/><path d="M403 127l-4 1 4 6 4-2z" color="#d8e219"/><path d="M390 134l-4 3 3-12 4-3z" color="#dce426"/><path d="M345 208l-4 3 3-2 5-2z" color="#25848e"/><path d="M364 192l-4 14 2-30 4-7z" color="#c4e8de"/><path d="M413 219l-3 6 3 4 4-4z" color="#2e6d8e"/><path d="M488 245l-3 3 3 1 4-3z" color="#3f4788"/><path d="M367 181l-3 11 2-23 4-8z" color="#a2dec3"/><path d="M409 158l-4 5 3 6 4-4z" color="#54c568"/><path d="M433 242l-3 4 3 2 4-3z" color="#3e4a89"/><path d="M338 216l-4 2 3-4 4-3z" color="#287c8e"/><path d="M502 245l-4 3 4 1 3-3z" color="#3f4788"/><path d="M397 121l-4 1 3 2 4-1z" color="#f8e621"/><path d="M344 209l-4 3 4 19 4 2z" color="#508aa1"/><path d="M406 141l-4 3 3 7 4-3z" color="#98d83e"/><path d="M400 123l-4 1 3 4 4-1z" color="#efe51c"/><path d="M408 169l-4 6 4 7 4-5z" color="#32b67a"/><path d="M352 230l-4 3 3-32 3-9z" color="#c9dee3"/><path d="M450 246l-3 3 3 1 4-3z" color="#3f4788"/><path d="M464 246l-4 3 4 1 4-3z" color="#404688"/><path d="M408 182l-4 6 3 7 4-5z" color="#20a386"/><path d="M437 245l-4 3 3 2 4-4z" color="#3f4889"/><path d="M410 214l-4 5 4 6 3-6z" color="#2a768e"/><path d="M478 246l-4 3 4 1 3-3z" color="#3f4788"/><path d="M407 195l-4 7 4 6 4-6z" color="#21918c"/><path d="M492 246l-4 3 3 1 4-3z" color="#3f4788"/><path d="M505 246l-3 3 3 1 4-3z" color="#3f4788"/><path d="M420 237l-4 5 3 3 4-4z" color="#3a538b"/><path d="M405 151l-3 5 3 7 4-5z" color="#70cf57"/><path d="M416 233l-4 5 4 4 4-5z" color="#375a8c"/><path d="M454 247l-4 3 3 1 4-3z" color="#404688"/><path d="M407 208l-4 6 3 5 4-5z" color="#277f8e"/><path d="M440 246l-4 4 4 1 3-4z" color="#3f4788"/><path d="M423 241l-4 4 3 2 4-3z" color="#3d4e8a"/><path d="M413 229l-4 5 3 4 4-5z" color="#34608d"/><path d="M468 247l-4 3 3 1 4-3z" color="#404688"/><path d="M403 134l-4 3 3 7 4-3z" color="#bade28"/><path d="M481 247l-3 3 3 1 4-3z" color="#3f4788"/><path d="M410 225l-4 5 3 4 4-5z" color="#31688e"/><path d="M405 163l-4 5 3 7 4-6z" color="#4ac16d"/><path d="M495 247l-4 3 4 1 3-3z" color="#3f4788"/><path d="M426 244l-4 3 4 2 4-3z" color="#3e4c8a"/><path d="M404 175l-3 6 3 7 4-6z" color="#29af7f"/><path d="M404 188l-4 7 3 7 4-7z" color="#1e9c89"/><path d="M386 137l-4 5 3-12 4-5z" color="#d5e327"/><path d="M403 202l-3 6 3 6 4-6z" color="#23898e"/><path d="M457 248l-4 3 4 1 3-3z" color="#404688"/><path d="M443 247l-3 4 3 1 4-3z" color="#404688"/><path d="M406 219l-4 6 4 5 4-5z" color="#2d708e"/><path d="M348 233l-4-2 3-20 4-10z" color="#c4dae0"/><path d="M430 246l-4 3 3 2 4-3z" color="#3f4889"/><path d="M471 248l-4 3 4 1 3-3z" color="#404688"/><path d="M402 144l-4 5 4 7 3-5z" color="#90d743"/><path d="M399 128l-4 4 4 5 4-3z" color="#d8e219"/><path d="M341 211l-4 3 3-2 4-3z" color="#25848e"/><path d="M485 248l-4 3 3 1 4-3z" color="#3f4788"/><path d="M334 218l-4 3 3-4 4-3z" color="#287c8e"/><path d="M403 214l-4 7 3 4 4-6z" color="#2a788e"/><path d="M498 248l-3 3 3 1 4-3z" color="#3f4788"/><path d="M393 122l-4 3 3 2 4-3z" color="#f8e621"/><path d="M402 156l-4 5 3 7 4-5z" color="#63cb5f"/><path d="M447 249l-4 3 3 1 4-3z" color="#404688"/><path d="M433 248l-4 3 3 2 4-3z" color="#3f4788"/><path d="M396 124l-4 3 3 5 4-4z" color="#efe51c"/><path d="M400 195l-4 7 4 6 3-6z" color="#20938c"/><path d="M460 249l-3 3 3 1 4-3z" color="#404588"/><path d="M401 181l-4 8 3 6 4-7z" color="#22a785"/><path d="M401 168l-4 7 4 6 3-6z" color="#3bbb75"/><path d="M416 242l-4 4 3 3 4-4z" color="#3c508b"/><path d="M412 238l-3 5 3 3 4-4z" color="#39558c"/><path d="M409 234l-4 5 4 4 3-5z" color="#365c8d"/><path d="M474 249l-3 3 3 1 4-3z" color="#404688"/><path d="M400 208l-4 7 3 6 4-7z" color="#26818e"/><path d="M406 230l-4 5 3 4 4-5z" color="#33628d"/><path d="M488 249l-4 3 4 1 3-3z" color="#404688"/><path d="M419 245l-4 4 4 2 3-4z" color="#3e4c8a"/><path d="M502 249l-4 3 4 1 3-3z" color="#3f4788"/><path d="M382 142l-4 5 3-11 4-6z" color="#c5e12e"/><path d="M399 137l-4 5 3 7 4-5z" color="#b2dd2d"/><path d="M436 250l-4 3 4 1 4-3z" color="#404688"/><path d="M402 225l-3 6 3 4 4-5z" color="#306a8e"/><path d="M450 250l-4 3 4 2 3-4z" color="#404588"/><path d="M464 250l-4 3 3 1 4-3z" color="#404588"/><path d="M340 212l-4 3 4 11 4 5z" color="#3b8397"/><path d="M397 189l-4 7 3 6 4-7z" color="#1f9e89"/><path d="M396 202l-4 8 4 5 4-7z" color="#238a8d"/><path d="M398 149l-4 6 4 6 4-5z" color="#81d34d"/><path d="M399 221l-4 6 4 4 3-6z" color="#2d718e"/><path d="M397 175l-4 8 4 6 4-8z" color="#2db27d"/><path d="M422 247l-3 4 3 2 4-4z" color="#3e4989"/><path d="M398 161l-4 8 3 6 4-7z" color="#52c569"/><path d="M478 250l-4 3 3 1 4-3z" color="#404688"/><path d="M491 250l-3 3 3 1 4-3z" color="#404688"/><path d="M396 215l-4 7 3 5 4-6z" color="#29798e"/><path d="M440 251l-4 3 3 1 4-3z" color="#404588"/><path d="M344 231l-4-5 3-3 4-12z" color="#48899e"/><path d="M453 251l-3 4 3 0 4-3z" color="#414487"/><path d="M395 132l-4 4 4 6 4-5z" color="#d0e11c"/><path d="M426 249l-4 4 3 2 4-4z" color="#3f4788"/><path d="M467 251l-4 3 4 1 4-3z" color="#404588"/><path d="M393 196l-4 8 3 6 4-8z" color="#1f948c"/><path d="M378 147l-4 7 3-10 4-8z" color="#b0de39"/><path d="M393 183l-4 8 4 5 4-7z" color="#22a884"/><path d="M389 125l-4 5 3 2 4-5z" color="#f1e51d"/><path d="M337 214l-4 3 3-2 4-3z" color="#25838e"/><path d="M392 127l-4 5 3 4 4-4z" color="#e5e419"/><path d="M481 251l-4 3 4 1 3-3z" color="#404688"/><path d="M394 169l-4 7 3 7 4-8z" color="#3fbc73"/><path d="M392 210l-4 7 4 5 4-7z" color="#26828e"/><path d="M405 239l-4 5 4 3 4-4z" color="#39568c"/><path d="M402 235l-4 6 3 3 4-5z" color="#365d8d"/><path d="M395 142l-4 6 3 7 4-6z" color="#a0da39"/><path d="M409 243l-4 4 3 3 4-4z" color="#3b518b"/><path d="M394 155l-4 7 4 7 4-8z" color="#6ccd5a"/><path d="M495 251l-4 3 4 1 3-3z" color="#404688"/><path d="M429 251l-4 4 3 1 4-3z" color="#404588"/><path d="M399 231l-4 6 3 4 4-6z" color="#33638d"/><path d="M443 252l-4 3 3 2 4-4z" color="#414487"/><path d="M412 246l-4 4 3 3 4-4z" color="#3e4c8a"/><path d="M457 252l-4 3 3 1 4-3z" color="#414487"/><path d="M395 227l-4 6 4 4 4-6z" color="#306a8e"/><path d="M389 191l-3 8 3 5 4-8z" color="#1f9e89"/><path d="M415 249l-4 4 4 2 4-4z" color="#3f4889"/><path d="M471 252l-4 3 3 1 4-3z" color="#404588"/><path d="M389 204l-4 8 3 5 4-7z" color="#238a8d"/><path d="M374 154l-4 7 3-9 4-8z" color="#94d849"/><path d="M390 176l-4 9 3 6 4-8z" color="#2db27d"/><path d="M392 222l-4 6 3 5 4-6z" color="#2c718e"/><path d="M484 252l-3 3 3 1 4-3z" color="#404688"/><path d="M432 253l-4 3 4 1 4-3z" color="#414487"/><path d="M391 136l-3 7 3 5 4-6z" color="#bddf26"/><path d="M390 162l-3 8 3 6 4-7z" color="#54c568"/><path d="M498 252l-3 3 3 1 4-3z" color="#404688"/><path d="M446 253l-4 4 4 1 4-3z" color="#414487"/><path d="M388 217l-3 7 3 4 4-6z" color="#29798e"/><path d="M419 251l-4 4 3 2 4-4z" color="#404688"/><path d="M391 148l-4 7 3 7 4-7z" color="#89d548"/><path d="M460 253l-4 3 4 1 3-3z" color="#414487"/><path d="M386 199l-4 8 3 5 4-8z" color="#20938c"/><path d="M386 185l-4 8 4 6 3-8z" color="#22a785"/><path d="M385 130l-4 6 3 2 4-6z" color="#dfe318"/><path d="M370 161l-4 8 3-9 4-8z" color="#78d157"/><path d="M388 132l-4 6 4 5 3-7z" color="#d2e21b"/><path d="M474 253l-4 3 4 1 3-3z" color="#404588"/><path d="M387 170l-4 8 3 7 4-9z" color="#3dbc74"/><path d="M385 212l-4 7 4 5 3-7z" color="#26818e"/><path d="M488 253l-4 3 3 1 4-3z" color="#404688"/><path d="M436 254l-4 3 3 2 4-4z" color="#414487"/><path d="M398 241l-4 4 3 4 4-5z" color="#38588c"/><path d="M422 253l-4 4 3 1 4-3z" color="#404588"/><path d="M395 237l-4 5 3 3 4-4z" color="#355e8d"/><path d="M450 255l-4 3 3 1 4-4z" color="#414287"/><path d="M401 244l-4 5 4 3 4-5z" color="#3b528b"/><path d="M391 233l-4 5 4 4 4-5z" color="#32648e"/><path d="M382 193l-4 8 4 6 4-8z" color="#1e9c89"/><path d="M387 155l-4 9 4 6 3-8z" color="#6ece58"/><path d="M366 169l-4 7 3-7 4-9z" color="#5bc865"/><path d="M388 143l-4 7 3 5 4-7z" color="#a5db36"/><path d="M388 228l-4 6 3 4 4-5z" color="#306a8e"/><path d="M382 207l-4 7 3 5 4-7z" color="#23898e"/><path d="M463 254l-3 3 3 1 4-3z" color="#414487"/><path d="M405 247l-4 5 3 2 4-4z" color="#3d4e8a"/><path d="M383 178l-4 9 3 6 4-8z" color="#2cb17e"/><path d="M408 250l-4 4 3 3 4-4z" color="#3e4989"/><path d="M477 254l-3 3 3 1 4-3z" color="#404588"/><path d="M385 224l-4 6 3 4 4-6z" color="#2c718e"/><path d="M381 136l-4 8 3 2 4-8z" color="#c8e020"/><path d="M384 138l-4 8 4 4 4-7z" color="#bade28"/><path d="M425 255l-4 3 4 2 3-4z" color="#414287"/><path d="M383 164l-4 8 4 6 4-8z" color="#54c568"/><path d="M491 254l-4 3 4 1 4-3z" color="#404588"/><path d="M362 176l-4 8 3-6 4-9z" color="#40bd72"/><path d="M439 255l-4 4 4 1 3-3z" color="#414287"/><path d="M379 187l-4 9 3 5 4-8z" color="#21a585"/><path d="M378 201l-4 8 4 5 4-7z" color="#20928c"/><path d="M381 219l-4 7 4 4 4-6z" color="#2a788e"/><path d="M384 150l-4 9 3 5 4-9z" color="#86d549"/><path d="M453 255l-4 4 3 1 4-4z" color="#414287"/><path d="M411 253l-4 4 4 2 4-4z" color="#404688"/><path d="M379 172l-4 9 4 6 4-9z" color="#3aba76"/><path d="M467 255l-4 3 3 1 4-3z" color="#414487"/><path d="M378 214l-4 7 3 5 4-7z" color="#27808e"/><path d="M377 144l-4 8 3 2 4-8z" color="#aadc32"/><path d="M380 146l-4 8 4 5 4-9z" color="#9bd93c"/><path d="M380 159l-4 9 3 4 4-8z" color="#67cc5c"/><path d="M358 184l-4 8 3-6 4-8z" color="#2fb47c"/><path d="M481 255l-4 3 3 1 4-3z" color="#404588"/><path d="M428 256l-3 4 3 1 4-4z" color="#414287"/><path d="M375 196l-4 8 3 5 4-8z" color="#1e9b8a"/><path d="M442 257l-3 3 3 1 4-3z" color="#414287"/><path d="M375 181l-4 9 4 6 4-9z" color="#28ae80"/><path d="M415 255l-4 4 3 1 4-3z" color="#414487"/><path d="M495 255l-4 3 3 1 4-3z" color="#404588"/><path d="M387 238l-4 6 4 3 4-5z" color="#355e8d"/><path d="M376 154l-3 9 3 5 4-9z" color="#7ad151"/><path d="M376 168l-4 9 3 4 4-9z" color="#4cc26c"/><path d="M374 209l-4 7 4 5 4-7z" color="#23888e"/><path d="M373 152l-4 8 4 3 3-9z" color="#89d548"/><path d="M384 234l-4 6 3 4 4-6z" color="#32648e"/><path d="M391 242l-4 5 3 3 4-5z" color="#38598c"/><path d="M456 256l-4 4 4 1 4-4z" color="#414287"/><path d="M394 245l-4 5 3 3 4-4z" color="#3a538b"/><path d="M381 230l-4 6 3 4 4-6z" color="#306a8e"/><path d="M470 256l-4 3 4 1 4-3z" color="#414487"/><path d="M397 249l-4 4 4 3 4-4z" color="#3d4e8a"/><path d="M354 192l-3 9 3-7 3-8z" color="#23a983"/><path d="M373 163l-4 9 3 5 4-9z" color="#5ac864"/><path d="M372 177l-4 9 3 4 4-9z" color="#34b679"/><path d="M369 160l-4 9 4 3 4-9z" color="#67cc5c"/><path d="M371 190l-3 8 3 6 4-8z" color="#20a386"/><path d="M377 226l-4 6 4 4 4-6z" color="#2d718e"/><path d="M484 256l-4 3 4 1 3-3z" color="#404588"/><path d="M432 257l-4 4 3 1 4-3z" color="#424186"/><path d="M418 257l-4 3 3 2 4-4z" color="#414287"/><path d="M371 204l-4 7 3 5 4-7z" color="#21918c"/><path d="M401 252l-4 4 3 2 4-4z" color="#3e4a89"/><path d="M446 258l-4 3 3 1 4-3z" color="#424186"/><path d="M374 221l-4 7 3 4 4-6z" color="#2a778e"/><path d="M369 172l-4 9 3 5 4-9z" color="#40bd72"/><path d="M365 169l-4 9 4 3 4-9z" color="#4cc26c"/><path d="M368 186l-4 8 4 4 3-8z" color="#25ac82"/><path d="M351 201l-4 10 3-10 4-7z" color="#23a08b"/><path d="M404 254l-4 4 3 3 4-4z" color="#404688"/><path d="M460 257l-4 4 3 1 4-4z" color="#414287"/><path d="M370 216l-4 7 4 5 4-7z" color="#27808e"/><path d="M368 198l-4 8 3 5 4-7z" color="#1f998a"/><path d="M365 181l-4 9 3 4 4-8z" color="#2db27d"/><path d="M474 257l-4 3 3 1 4-3z" color="#414487"/><path d="M421 258l-4 4 4 1 4-3z" color="#424186"/><path d="M347 211l-4 12 3-16 4-6z" color="#339a96"/><path d="M361 178l-4 8 4 4 4-9z" color="#35b779"/><path d="M435 259l-4 3 4 1 4-3z" color="#424186"/><path d="M487 257l-3 3 3 1 4-3z" color="#404588"/><path d="M407 257l-4 4 4 1 4-3z" color="#414487"/><path d="M449 259l-4 3 4 1 3-3z" color="#424186"/><path d="M364 194l-4 8 4 4 4-8z" color="#1fa188"/><path d="M367 211l-4 7 3 5 4-7z" color="#24878e"/><path d="M380 240l-4 5 3 4 4-5z" color="#355e8d"/><path d="M377 236l-4 5 3 4 4-5z" color="#32648e"/><path d="M383 244l-4 5 4 3 4-5z" color="#38598c"/><path d="M463 258l-4 4 4 1 3-4z" color="#414287"/><path d="M361 190l-4 8 3 4 4-8z" color="#22a785"/><path d="M373 232l-4 6 4 3 4-5z" color="#306a8e"/><path d="M387 247l-4 5 3 2 4-4z" color="#3a548c"/><path d="M357 186l-3 8 3 4 4-8z" color="#27ad81"/><path d="M477 258l-4 3 4 1 3-3z" color="#414487"/><path d="M370 228l-4 6 3 4 4-6z" color="#2d718e"/><path d="M425 260l-4 3 3 1 4-3z" color="#424086"/><path d="M364 206l-4 7 3 5 4-7z" color="#21908d"/><path d="M390 250l-4 4 3 3 4-4z" color="#3c4f8a"/><path d="M411 259l-4 3 3 2 4-4z" color="#414287"/><path d="M439 260l-4 3 3 1 4-3z" color="#424086"/><path d="M491 258l-4 3 4 1 3-3z" color="#414487"/><path d="M393 253l-4 4 4 3 4-4z" color="#3e4a89"/><path d="M366 223l-3 6 3 5 4-6z" color="#2a788e"/><path d="M452 260l-3 3 3 1 4-3z" color="#424186"/><path d="M360 202l-4 7 4 4 4-7z" color="#1f978b"/><path d="M466 259l-3 4 3 1 4-4z" color="#414287"/><path d="M357 198l-4 7 3 4 4-7z" color="#1f9e89"/><path d="M397 256l-4 4 3 2 4-4z" color="#3f4788"/><path d="M363 218l-4 6 4 5 3-6z" color="#27808e"/><path d="M414 260l-4 4 3 1 4-3z" color="#424186"/><path d="M354 194l-4 7 3 4 4-7z" color="#20a386"/><path d="M428 261l-4 3 3 1 4-3z" color="#424086"/><path d="M480 259l-3 3 3 1 4-3z" color="#414487"/><path d="M442 261l-4 3 3 1 4-3z" color="#424086"/><path d="M400 258l-4 4 3 2 4-3z" color="#414487"/><path d="M360 213l-4 6 3 5 4-6z" color="#24878e"/><path d="M456 261l-4 3 3 1 4-3z" color="#424186"/><path d="M470 260l-4 4 3 1 4-4z" color="#414287"/><path d="M356 209l-4 6 4 4 4-6z" color="#218f8d"/><path d="M417 262l-4 3 4 1 4-3z" color="#424086"/><path d="M403 261l-4 3 4 2 4-4z" color="#424186"/><path d="M431 262l-4 3 4 1 4-3z" color="#424086"/><path d="M484 260l-4 3 3 1 4-3z" color="#414287"/><path d="M353 205l-4 6 3 4 4-6z" color="#1f958b"/><path d="M445 262l-4 3 4 1 4-3z" color="#424086"/><path d="M350 201l-4 6 3 4 4-6z" color="#1e9c89"/><path d="M459 262l-4 3 4 1 4-3z" color="#424186"/><path d="M421 263l-4 3 3 1 4-3z" color="#423f85"/><path d="M473 261l-4 4 4 1 4-4z" color="#414287"/><path d="M407 262l-4 4 3 1 4-3z" color="#424086"/><path d="M435 263l-4 3 3 1 4-3z" color="#423f85"/><path d="M487 261l-4 3 4 1 4-3z" color="#414287"/><path d="M449 263l-4 3 3 1 4-3z" color="#424086"/><path d="M463 263l-4 3 3 1 4-3z" color="#424186"/><path d="M410 264l-4 3 4 1 3-3z" color="#423f85"/><path d="M424 264l-4 3 4 1 3-3z" color="#423f85"/><path d="M477 262l-4 4 3 1 4-4z" color="#424186"/><path d="M438 264l-4 3 4 1 3-3z" color="#423f85"/><path d="M452 264l-4 3 4 1 3-3z" color="#424086"/><path d="M466 264l-4 3 4 1 3-3z" color="#424186"/><path d="M413 265l-3 3 3 1 4-3z" color="#423f85"/><path d="M427 265l-3 3 3 1 4-3z" color="#423f85"/><path d="M480 263l-4 4 4 1 3-4z" color="#424186"/><path d="M441 265l-3 3 3 1 4-3z" color="#423f85"/><path d="M455 265l-3 3 3 1 4-3z" color="#424086"/><path d="M469 265l-3 3 3 1 4-3z" color="#424186"/><path d="M417 266l-4 3 3 1 4-3z" color="#433e85"/><path d="M431 266l-4 3 3 1 4-3z" color="#433e85"/><path d="M483 264l-3 4 3 1 4-4z" color="#424186"/><path d="M445 266l-4 3 3 1 4-3z" color="#423f85"/><path d="M459 266l-4 3 3 1 4-3z" color="#424086"/><path d="M473 266l-4 3 3 1 4-3z" color="#424086"/><path d="M420 267l-4 3 4 1 4-3z" color="#433e85"/><path d="M434 267l-4 3 4 1 4-3z" color="#433e85"/><path d="M448 267l-4 3 4 1 4-3z" color="#423f85"/><path d="M462 267l-4 3 4 1 4-3z" color="#424086"/><path d="M424 268l-4 3 3 2 4-4z" color="#433e85"/><path d="M476 267l-4 3 4 1 4-3z" color="#424086"/><path d="M438 268l-4 3 3 1 4-3z" color="#433e85"/><path d="M452 268l-4 3 3 1 4-3z" color="#423f85"/><path d="M466 268l-4 3 3 1 4-3z" color="#423f85"/><path d="M427 269l-4 4 3 1 4-4z" color="#433e85"/><path d="M480 268l-4 3 3 1 4-3z" color="#424086"/><path d="M441 269l-4 3 3 1 4-3z" color="#433e85"/><path d="M455 269l-4 3 4 1 3-3z" color="#423f85"/><path d="M469 269l-4 3 4 1 3-3z" color="#423f85"/><path d="M430 270l-4 4 4 1 4-4z" color="#433e85"/><path d="M444 270l-4 3 4 2 4-4z" color="#433e85"/><path d="M458 270l-3 3 3 1 4-3z" color="#423f85"/><path d="M472 270l-3 3 3 1 4-3z" color="#423f85"/><path d="M434 271l-4 4 3 1 4-4z" color="#433e85"/><path d="M448 271l-4 4 3 1 4-4z" color="#433e85"/><path d="M462 271l-4 3 3 1 4-3z" color="#423f85"/><path d="M476 271l-4 3 4 1 3-3z" color="#423f85"/><path d="M437 272l-4 4 4 1 3-4z" color="#433d84"/><path d="M451 272l-4 4 4 1 4-4z" color="#433e85"/><path d="M465 272l-4 3 4 1 4-3z" color="#433e85"/><path d="M440 273l-3 4 3 1 4-3z" color="#433d84"/><path d="M455 273l-4 4 3 1 4-4z" color="#433e85"/><path d="M469 273l-4 3 3 1 4-3z" color="#433e85"/><path d="M444 275l-4 3 3 1 4-3z" color="#433d84"/><path d="M458 274l-4 4 4 1 3-4z" color="#433e85"/><path d="M472 274l-4 3 4 2 4-4z" color="#433e85"/><path d="M447 276l-4 3 4 1 4-3z" color="#433d84"/><path d="M461 275l-3 4 3 1 4-4z" color="#433e85"/><path d="M451 277l-4 3 3 1 4-3z" color="#433d84"/><path d="M465 276l-4 4 3 1 4-4z" color="#433d84"/><path d="M454 278l-4 3 4 1 4-3z" color="#433d84"/><path d="M468 277l-4 4 4 1 4-3z" color="#433d84"/><path d="M458 279l-4 3 3 1 4-3z" color="#433d84"/><path d="M461 280l-4 3 4 1 3-3z" color="#433d84"/><path d="M464 281l-3 3 3 1 4-3z" color="#433d84"/></g><g id="Path3DCollection_1"><g clip-path="url(#p0fc404df47)"><circle cx="186.5" cy="121.2" r="2.2" style="fill: #ff0000"/></g></g><g id="Path3DCollection_2"><g clip-path="url(#p0fc404df47)"><circle cx="188.4" cy="121.8" r="2.4" style="fill: #ff0000"/></g></g><g id="Path3DCollection_3"><g clip-path="url(#p0fc404df47)"><circle cx="189.9" cy="122.2" r="2.7" style="fill: #ff0000"/></g></g><g id="Path3DCollection_4"><g clip-path="url(#p0fc404df47)"><circle cx="191.5" cy="122.6" r="2.9" style="fill: #ff0000"/></g></g><g id="text_19"><text style="font-size: 12px; font-family: 'DejaVu Sans'; text-anchor: start" x="136" y="29.8" transform="rotate(-0 136 29.8)">(a)</text></g></g><g id="patch_6"><path d="M 318.1 164.8 L 474.4 164.8 L 474.4 35.8 L 318.1 35.8 z" style="fill: #ffffff"/></g><g id="pane3d_4"><g id="patch_7"><path d="M 354.3 134.9 L 442.4 134.9 L 442.4 62.2 L 354.3 62.2" style="fill: #f2f2f2; opacity: 0.5; stroke: #f2f2f2; stroke-linejoin: miter"/></g></g><g id="pane3d_5"><g id="patch_8"><path d="M 354.3 134.9 L 349.2 139.2 L 349.2 58 L 354.3 62.2" style="fill: #e6e6e6; opacity: 0.5; stroke: #e6e6e6; stroke-linejoin: miter"/></g></g><g id="pane3d_6"><g id="patch_9"><path d="M 354.3 134.9 L 349.2 139.2 L 447.6 139.2 L 442.4 134.9" style="fill: #ececec; opacity: 0.5; stroke: #ececec; stroke-linejoin: miter"/></g></g><g id="grid3d_4"/><g id="grid3d_5"><g id="Line3DCollection_4"><path d="M 357.9 62.2 L 357.9 134.9 L 353.2 139.2" style="fill: none; stroke: #b0b0b0; stroke-width: 0.8"/><path d="M 376.3 62.2 L 376.3 134.9 L 373.7 139.2" style="fill: none; stroke: #b0b0b0; stroke-width: 0.8"/><path d="M 394.7 62.2 L 394.7 134.9 L 394.3 139.2" style="fill: none; stroke: #b0b0b0; stroke-width: 0.8"/><path d="M 413.1 62.2 L 413.1 134.9 L 414.8 139.2" style="fill: none; stroke: #b0b0b0; stroke-width: 0.8"/><path d="M 431.5 62.2 L 431.5 134.9 L 435.3 139.2" style="fill: none; stroke: #b0b0b0; stroke-width: 0.8"/></g></g><g id="grid3d_6"><g id="Line3DCollection_5"><path d="M 349.2 137.5 L 354.3 133.5 L 442.4 133.5" style="fill: none; stroke: #b0b0b0; stroke-width: 0.8"/><path d="M 349.2 121.9 L 354.3 119.5 L 442.4 119.5" style="fill: none; stroke: #b0b0b0; stroke-width: 0.8"/><path d="M 349.2 106.4 L 354.3 105.5 L 442.4 105.5" style="fill: none; stroke: #b0b0b0; stroke-width: 0.8"/><path d="M 349.2 90.8 L 354.3 91.6 L 442.4 91.6" style="fill: none; stroke: #b0b0b0; stroke-width: 0.8"/><path d="M 349.2 75.2 L 354.3 77.6 L 442.4 77.6" style="fill: none; stroke: #b0b0b0; stroke-width: 0.8"/><path d="M 349.2 59.6 L 354.3 63.7 L 442.4 63.7" style="fill: none; stroke: #b0b0b0; stroke-width: 0.8"/></g></g><g id="axis3d_4"><g id="line2d_19"><path d="M 442.4 134.9 L 447.6 139.2" style="fill: none; stroke: #000000; stroke-width: 0.8; stroke-linecap: square"/></g></g><g id="axis3d_5"><g id="line2d_20"><path d="M 349.2 139.2 L 447.6 139.2" style="fill: none; stroke: #000000; stroke-width: 0.8; stroke-linecap: square"/></g><g id="xtick_16"><g id="line2d_21"><path d="M 353.2 139.1 L 353.1 139.2" style="fill: none; stroke: #000000; stroke-width: 0.8; stroke-linecap: square"/></g><g id="text_20" transform="translate(-0.3 -10)"><text style="font-size: 10px; font-family: 'DejaVu Sans'" transform="translate(344.6 167.6) rotate(-24)">-2.0</text></g></g><g id="xtick_17"><g id="line2d_22"><path d="M 373.7 139.1 L 373.7 139.2" style="fill: none; stroke: #000000; stroke-width: 0.8; stroke-linecap: square"/></g><g id="text_21" transform="translate(-0.3 -10)"><text style="font-size: 10px; font-family: 'DejaVu Sans'" transform="translate(367.1 166.1) rotate(-24)">3.0</text></g></g><g id="xtick_18"><g id="line2d_23"><path d="M 394.3 139.1 L 394.2 139.2" style="fill: none; stroke: #000000; stroke-width: 0.8; stroke-linecap: square"/></g><g id="text_22" transform="translate(-0.3 -10)"><text style="font-size: 10px; font-family: 'DejaVu Sans'" transform="translate(388 166.1) rotate(-24)">8.0</text></g></g><g id="xtick_19"><g id="line2d_24"><path d="M 414.8 139.1 L 414.8 139.2" style="fill: none; stroke: #000000; stroke-width: 0.8; stroke-linecap: square"/></g><g id="text_23" transform="translate(-0.3 -10)"><text style="font-size: 10px; font-family: 'DejaVu Sans'" transform="translate(406 168.7) rotate(-24)">13.0</text></g></g><g id="xtick_20"><g id="line2d_25"><path d="M 435.3 139.1 L 435.4 139.2" style="fill: none; stroke: #000000; stroke-width: 0.8; stroke-linecap: square"/></g><g id="text_24" transform="translate(-0.3 -10)"><text style="font-size: 10px; font-family: 'DejaVu Sans'" transform="translate(427 168.7) rotate(-24)">18.0</text></g></g><g id="text_25" transform="translate(0.8 0.6)"><text style="font-size: 10px; font-family: 'DejaVu Sans'; text-anchor: middle" x="398.4" y="172.5" transform="rotate(-0 398.4 172.5)">Y (Å)</text></g></g><g id="axis3d_6"><g id="line2d_26"><path d="M 349.2 139.2 L 349.2 58" style="fill: none; stroke: #000000; stroke-width: 0.8; stroke-linecap: square"/></g><g id="xtick_21"><g id="line2d_27"><path d="M 349.2 137.5 L 349.1 137.6" style="fill: none; stroke: #000000; stroke-width: 0.8; stroke-linecap: square"/></g><g id="text_26" transform="translate(1.9 -0.6)"><text style="font-size: 10px; font-family: 'DejaVu Sans'; text-anchor: middle" x="332.8" y="145.8" transform="rotate(-0 332.8 145.8)">0.0</text></g></g><g id="xtick_22"><g id="line2d_28"><path d="M 349.2 121.9 L 349.1 122" style="fill: none; stroke: #000000; stroke-width: 0.8; stroke-linecap: square"/></g><g id="text_27" transform="translate(1.9 -0.6)"><text style="font-size: 10px; font-family: 'DejaVu Sans'; text-anchor: middle" x="332.8" y="130" transform="rotate(-0 332.8 130)">0.2</text></g></g><g id="xtick_23"><g id="line2d_29"><path d="M 349.2 106.3 L 349.1 106.4" style="fill: none; stroke: #000000; stroke-width: 0.8; stroke-linecap: square"/></g><g id="text_28" transform="translate(1.9 -0.6)"><text style="font-size: 10px; font-family: 'DejaVu Sans'; text-anchor: middle" x="332.8" y="114.1" transform="rotate(-0 332.8 114.1)">0.4</text></g></g><g id="xtick_24"><g id="line2d_30"><path d="M 349.2 90.8 L 349.1 90.7" style="fill: none; stroke: #000000; stroke-width: 0.8; stroke-linecap: square"/></g><g id="text_29" transform="translate(1.9 -0.6)"><text style="font-size: 10px; font-family: 'DejaVu Sans'; text-anchor: middle" x="332.8" y="98.2" transform="rotate(-0 332.8 98.2)">0.6</text></g></g><g id="xtick_25"><g id="line2d_31"><path d="M 349.2 75.2 L 349.1 75.1" style="fill: none; stroke: #000000; stroke-width: 0.8; stroke-linecap: square"/></g><g id="text_30" transform="translate(1.9 -0.6)"><text style="font-size: 10px; font-family: 'DejaVu Sans'; text-anchor: middle" x="332.8" y="82.3" transform="rotate(-0 332.8 82.3)">0.8</text></g></g><g id="xtick_26"><g id="line2d_32"><path d="M 349.2 59.6 L 349.1 59.5" style="fill: none; stroke: #000000; stroke-width: 0.8; stroke-linecap: square"/></g><g id="text_31" transform="translate(1.9 -0.6)"><text style="font-size: 10px; font-family: 'DejaVu Sans'; text-anchor: middle" x="332.8" y="66.5" transform="rotate(-0 332.8 66.5)">1.0</text></g></g><g id="text_32" transform="translate(-0.5 4.8)"><g transform="translate(315.5 118) rotate(-90)"><text><tspan x="0" y="-0.4" style="font-size: 10px; font-family: 'DejaVu Sans'">I</tspan><tspan x="16.6" y="-0.4" style="font-size: 10px; font-family: 'DejaVu Sans'"></tspan><tspan x="19.8" y="-0.4" style="font-size: 10px; font-family: 'DejaVu Sans'">(</tspan><tspan x="23.7" y="-0.4" style="font-size: 10px; font-family: 'DejaVu Sans'">E</tspan><tspan x="34.8" y="-0.4" style="font-size: 10px; font-family: 'DejaVu Sans'">)</tspan><tspan x="3" y="1.2" style="font-style: oblique; font-size: 7px; font-family: 'DejaVu Sans'">E</tspan><tspan x="7.5" y="1.2" style="font-style: oblique; font-size: 7px; font-family: 'DejaVu Sans'">K</tspan><tspan x="12.1" y="1.2" style="font-style: oblique; font-size: 7px; font-family: 'DejaVu Sans'">T</tspan><tspan x="30.1" y="1.2" style="font-style: oblique; font-size: 7px; font-family: 'DejaVu Sans'">h</tspan></text></g></g></g><g id="axes_2"><g id="surf_0_1" transform="scale(0.5)" fill="currentColor" stroke="currentColor" stroke-width="2.0"><path d="M712 200l-1-3 2 2 1 3zM738 200l0 0 2-2 0 1zM748 215l0-10 2-18 0 5zM715 201l0-4 2 2 0 4zM738 200l0-1 2-1 0 0zM769 200l0-3 2 2 0 3zM719 200l0-4 2 1 0 5zM736 202l0-1 2-2 0 0zM773 201l0-4 2 3 0 4zM736 201l0 0 2-2 0 0zM742 201l0 5-2-9 0 0zM775 200l-1-5 2 3 0 4zM736 201l0-1 1-1 1 0zM778 200l0-4 2 2 0 4zM736 200l-1 0 2-1 0 0zM739 198l0 3-2-2 0 0zM782 201l0-5 2 3 0 4zM737 199l0 0-2 3 0-2zM788 201l0-4 2 3 0 3zM790 200l0-3 2 2 0 3zM792 199l0-2 2 3 0 2zM794 200l0-3 2 4 0 2zM796 199l0-1 2 3 0 1zM796 198l0-1 2 4 0 0zM738 215l-1 0 2-29 1 0zM798 201l0 0-2-4 0 0zM798 201l0 0-2-3 0-1zM798 201l0 1-2-3 0-1zM796 201l0 2-2-3 0-3zM794 200l0 2-2-3 0-2zM792 199l0 4-2-3 0-3zM790 200l0 4-3-3 0-4zM732 202l0-1 2-2 0 0zM732 201l-1-1 2-1 1 0zM734 199l-1 0 3-1 0 3zM783 199l0 4-2-2 0-5zM733 199l0 0-2 2 0-1zM779 198l0 5-2-3 0-4zM733 199l0 0-2 3 0-1zM735 197l0 0 2 4 0 5zM775 198l0 4-2-2 0-5zM714 197l0 6-2-2 0-6zM733 199l0 1-2 2 0 0zM773 200l0 4-2-2 0-5zM710 199l-1 4-2-2 1-4zM735 198l0 0-2 2 0 0zM768 199l0 4-2-2 0-4zM705 199l0 3-2-2 0-2zM735 198l-1 1-2 1 1 0zM745 186l0 6-2 25 0-11z" color="#26828e"/><path d="M714 202l-1-3 2 2 1 3zM737 203l-1-1 2-2 0 0zM744 202l0 4-2-9 0 0zM767 201l0-3 2 2 0 3zM717 203l0-4 2 1 0 4zM736 202l0 0 2-3 0 1zM771 202l0-3 2 2 0 4zM721 202l0-5 1 3 1 4zM724 202l0-6 2 5 0 5zM776 202l0-4 2 2 0 4zM726 201l0-6 2 6 0 7zM780 202l0-4 2 3 0 3zM784 203l0-4 2 3 0 3zM728 196l-1-5 2 14 0 8zM739 201l0 7-2-9 0 0zM786 202l0-4 2 3 0 3zM737 199l0 1-2 7 0-5zM790 203l0-3 2 2 0 4zM792 202l0-3 2 3 0 3zM729 192l0-3 2 17 0 10zM794 202l0-2 2 3 0 2zM796 201l0-2 2 3 0 2zM798 201l0 0 2 3 0 1zM800 204l0 0-2-3 0 0zM800 204l0 1-2-4 0 0zM798 202l0 2-2-3 0-2zM728 206l0 11-2-25 0-4zM796 203l0 2-2-3 0-2zM794 202l0 3-2-2 0-4zM732 207l0-5 2-3 0 1zM792 203l0 3-2-2 0-4zM726 205l-1 9-2-19 1-5zM734 199l0 0 2 2 0 7zM787 201l0 4-2-3 0-4zM785 202l0 4-2-3 0-4zM723 202l0 7-2-8 0-6zM781 201l0 4-2-2 0-5zM721 201l-1 6-2-5 1-6zM777 200l0 5-2-3 0-4zM716 200l0 5-2-2 0-6zM712 201l0 4-3-2 1-4zM733 200l0 0-3 3 1-1zM771 202l-1 3-2-2 0-4zM707 201l0 4-2-3 0-3zM733 200l-1 0-2 3 0 0zM737 197l0 0 2 5 0 5zM766 201l0 3-2-2 0-4z" color="#277f8e"/><path d="M716 204l-1-3 2 2 0 3zM735 206l-1-1 2-3 1 1zM769 203l0-3 2 2 0 3zM719 204l0-4 2 2 0 4zM734 205l0-1 2-2 0 0zM744 206l0 7-2-15 0-1zM773 205l0-4 2 3 0 3zM723 204l-1-4 2 2 1 5zM734 204l0 0 2-3 0 1zM746 222l0-8 2-27 0 8zM775 204l0-4 1 2 1 4zM734 204l0 1 2-4 0 0zM778 204l0-4 2 2 0 4zM736 201l0-1-2 8 0-3zM742 206l-1 8-2-16 1-1zM782 204l0-3 2 2 0 4zM743 224l0-6 2-35 0 9zM786 205l0-3 2 2 0 4zM788 204l0-3 2 2 0 4zM741 230l-1-11 2-39 1 6zM796 203l0-2 2 3 0 2zM798 204l0-2 2 4 0 1zM730 194l0-3 2 19 0 13zM798 202l0-1 2 4 0 1zM731 210l0 13-2-30 0-2zM800 205l0 1-2-4 0-1zM800 206l0 1-2-3 0-2zM798 204l0 2-2-3 0-2zM741 179l-1 7-2 45 1-11zM790 204l-1 3-2-2 0-4zM742 182l0 10-2 34 0-7zM787 205l0 4-2-3 0-4zM729 209l0-3 2-5 0-1zM736 198l-1-1 2 9 1 9zM783 203l0 4-2-2 0-4zM729 206l0-1 2-3 0-1zM779 203l0 4-2-2 0-5zM718 202l0 5-2-2 0-5zM731 202l0 0-2 3 0 0zM743 186l0 9-2 29 0-9zM775 202l0 4-2-2 0-4zM714 203l0 4-2-2 0-4zM731 202l-1 1-2 3 1-1zM737 198l0-1 2 10 0 8zM773 204l0 4-3-3 1-3zM709 203l0 4-2-2 0-4zM730 203l0 0-2 3 0 0zM768 203l0 3-2-2 0-3z" color="#297b8e"/><path d="M717 206l0-3 2 1 0 4zM771 205l0-3 2 3 0 3zM721 206l0-4 2 2 0 5zM775 207l0-3 2 2 0 3zM725 207l-1-5 2 4 1 5zM777 206l-1-4 2 2 0 4zM778 208l0-4 2 2 0 3zM780 206l0-4 2 2 0 4zM784 207l0-4 2 2 0 4zM736 200l-1 0-2 15 1-7zM790 207l0-4 2 3 0 3zM739 208l0 11-2-19 0-1zM792 206l0-4 2 3 0 3zM737 200l0 4-2 12 0-9zM794 205l0-3 2 3 0 3zM796 205l0-2 2 3 0 2zM798 206l0-2 2 3 0 2zM800 206l0-1 2 2 0 1zM738 231l0-16 2-29 0 3zM800 205l0-1 2 3 0 0zM802 207l0 0-2-3 0 0zM739 186l0 3-2 42 0-16zM802 207l0 1-2-3 0-1zM802 208l0 1-2-3 0-1zM800 207l0 2-2-3 0-2zM798 206l0 2-2-3 0-2zM732 217l0-10 2-7 0 5zM796 205l0 3-2-3 0-3zM734 200l0-1 2 9 0 11zM794 205l0 4-2-3 0-3zM792 206l0 3-3-2 1-3zM730 216l-1-7 2-9 1 1zM785 206l0 4-2-3 0-4zM781 205l0 4-2-2 0-4zM720 207l0 6-2-6 0-5zM777 205l0 3-2-2 0-4zM779 207l0 4-2-3 0-3zM716 205l0 5-2-3 0-4zM775 206l0 4-2-2 0-4zM712 205l-1 4-2-2 0-4zM770 205l0 4-2-3 0-3z" color="#2a778e"/><path d="M719 208l0-4 2 2 0 4zM733 210l0 0 1-5 1 1zM773 208l0-3 2 2 0 3zM723 209l0-5 2 3 0 4zM734 205l0-1-2 9 1-3zM777 209l0-3 1 2 1 3zM744 213l0 7-2-19 0-3zM780 209l0-3 2 2 0 3zM726 206l0-5 2 7 0 9zM782 208l0-4 2 3 0 3zM786 209l0-4 2 3 0 3zM728 201l0-5 1 17 1 9zM788 208l0-4 2 3 0 3zM792 209l0-3 2 2 0 3zM794 208l0-3 2 3 0 2zM729 197l0-5 2 24 0 10zM796 208l0-3 2 3 0 2zM798 208l0-2 2 3 0 2zM800 209l0-2 2 3 0 1zM800 207l0-1 2 2 0 2zM802 208l0-1 2 3 0 1zM802 207l0 0 2 3 0 0zM804 210l0 0-2-3 0 0zM804 210l0 0-2-2 0-1zM804 210l0 1-2-2 0-1zM802 209l0 1-2-3 0-1zM802 210l0 2-2-3 0-2zM800 209l0 2-2-3 0-2zM728 217l0 10-2-30 0-5zM798 208l0 3-2-3 0-3zM796 208l0 3-2-2 0-4zM794 209l0 3-2-3 0-3zM725 214l0 10-2-22 0-7zM789 207l0 4-2-2 0-4zM787 209l0 3-2-2 0-4zM723 209l0 9-3-11 1-6zM783 207l0 4-2-2 0-4zM737 201l0-3 2 17 0 7zM781 209l0 4-2-2 0-4zM718 207l0 5-2-2 0-5zM727 215l-1-3 2-6 1-1zM777 208l0 4-2-2 0-4zM714 207l-1 4-2-2 1-4zM726 212l0-1 2-5 0 0zM773 208l-1 3-2-2 0-4z" color="#2c738e"/><path d="M721 210l0-4 2 3 0 3zM775 210l0-3 2 2 0 3zM779 211l-1-3 2 1 0 3zM734 204l0 0-2 14 0-5zM782 211l0-3 2 2 0 3zM784 210l0-3 2 2 0 3zM788 211l0-3 2 2 0 3zM741 214l0 10-2-23 0-3zM790 210l0-3 2 2 0 3zM735 200l0 2-2 23 0-10zM794 211l0-3 2 2 0 3zM796 210l0-2 2 2 0 3zM798 210l0-2 2 3 0 2zM800 211l0-2 2 2 0 2zM802 210l0-2 2 3 0 1zM804 210l0 0 2 2 0 1zM806 212l0 0-2-2 0 0zM806 212l0 1-2-3 0 0zM804 211l0 1-2-2 0-1zM802 212l0 2-2-3 0-2zM800 211l0 3-2-3 0-3zM798 211l0 3-2-3 0-3zM730 226l0-10 2-15 0 1zM796 211l0 3-2-2 0-3zM736 201l0-3 2 17 0 10zM792 209l0 4-3-2 0-4zM789 211l0 3-2-2 0-3zM785 210l0 3-2-2 0-4zM727 220l0-5 2-10 0 0zM783 211l0 4-2-2 0-4zM779 211l0 3-2-2 0-4zM716 210l-1 4-2-3 1-4zM775 210l0 3-3-2 1-3z" color="#2d708e"/><path d="M723 212l0-3 2 2 0 4zM777 212l0-3 2 2 0 2zM779 213l0-2 1 1 0 3zM725 211l0-4 2 4 0 6zM746 224l0-2 2-27 0 10zM780 212l0-3 2 2 0 3zM784 213l0-3 2 2 0 3zM734 204l0 1-2 20 0-7zM744 220l-1 5-1-19 0-5zM786 212l0-3 2 2 0 3zM743 225l0-1 2-32 0 11zM790 213l0-3 2 2 0 3zM792 212l0-3 2 2 0 3zM796 213l0-3 2 3 0 2zM798 213l0-3 2 3 0 2zM741 235l0-5 2-44 0 10zM800 213l0-2 2 2 0 2zM802 213l0-2 2 2 0 2zM802 211l0-1 2 2 0 1zM730 198l0-4 2 29 0 13zM804 212l0-1 2 2 0 1zM804 211l0-1 2 3 0 0zM808 215l0 0-2-3 0 0zM806 213l0 1-2-3 0-1zM731 223l0 13-2-38 0-5zM806 214l0 1-2-3 0-1zM804 212l0 2-2-2 0-2zM804 214l0 2-2-2 0-2zM740 186l0 10-2 40 0-5zM802 214l0 2-2-2 0-3zM800 214l0 2-2-2 0-3zM798 214l0 2-2-2 0-3zM794 212l0 3-2-2 0-4zM742 192l0 12-3 23 1-1zM792 213l0 3-3-2 0-3zM727 227l0-7 2-15 0 1zM737 206l0-5 2 21 0 5zM787 212l0 4-2-3 0-3zM785 213l0 4-2-2 0-4zM720 213l0 6-2-7 0-5zM743 195l0 11-2 21 0-3zM781 213l0 3-2-2 0-3zM718 212l0 5-3-3 1-4zM777 212l0 3-2-2 0-3zM779 214l0 3-2-2 0-3z" color="#2f6c8e"/><path d="M725 215l0-4 2 6 0 7zM746 222l0 2 2-19 0 10zM782 216l0-2 2 2 0 2zM746 224l0-2-2-9 0-7zM784 216l0-3 2 2 0 3zM788 217l0-3 2 2 0 2zM744 220l-1 5 2-22 1 11zM792 217l0-2 2 1 0 3zM728 208l0-7 2 21 0 8zM734 205l0 3-2 23 0-6zM743 225l0-1-2-10 1-8zM794 216l0-2 2 2 0 2zM796 216l0-3 2 2 0 3zM741 224l0 8-2-24 0-7zM800 218l0-3 2 2 0 2zM735 202l0 5-2 28 0-10zM741 232l0 3 2-39 0 11zM802 217l0-2 2 2 0 2zM804 217l0-2 2 2 0 2zM737 204l-1 9-1 17 0-14zM806 217l0-1 2 2 0 1zM806 216l0-2 2 3 0 1zM808 217l0-1 2 2 0 1zM808 216l0-1 2 3 0 0zM808 215l0 0 2 2 0 1zM810 217l0 1-2-3 0 0zM810 218l0 0-2-3 0 0zM810 218l0 1-2-3 0-1zM810 219l0 1-2-3 0-1zM808 217l0 2-2-3 0-1zM733 231l-1-14 2-12 1 8zM808 219l0 1-2-2 0-2zM806 218l0 2-2-2 0-2zM730 237l0-11 2-24 0 5zM740 196l0 12-2 26 0 2zM804 218l0 2-2-2 0-2zM736 208l0-7 2 24 0 9zM802 218l0 2-2-1 0-3zM798 216l0 3-2-2 0-3zM725 224l0 8-2-23 0-7zM727 233l0-6 2-21 0 3zM738 215l-1-9 2 21 1-1zM796 217l0 3-2-2 0-3zM742 204l-1 11-2 7 0 5zM794 218l0 3-2-2 0-3zM789 217l0 3-2-1 0-3zM739 215l0-8 2 20 0-3zM785 217l0 2-2-1 0-3zM720 219l0 8-2-10 0-5zM743 206l0 11-2 7 0 3zM783 218l0 2-2-2 0-2z" color="#32648e"/><path d="M727 224l0-7 2 15 0 4zM800 228l0-1 2 1 0 1zM802 229l0-1 1 1 0 1zM802 228l0-2 1 1 0 2zM803 229l0-2 2 1 0 1zM805 229l0-1 2 1 0 1zM805 228l0-1 2 1 0 1zM807 229l0-1 2 1 0 1zM807 228l0-1 2 1 0 1zM809 229l0-1 2 1 0 1zM809 228l0-1 2 1 0 1zM811 229l0-1 2 1 0 1zM811 228l0-1 2 1 0 1zM813 229l0-1 2 1 0 1zM815 230l0-1 2 0 0 1zM815 229l0-1 2 0 0 1zM817 229l0-1 2 1 0 1zM819 230l0-1 2 1 0 0zM733 225l0 10-2-9 0 7zM817 228l0-1 2 1 0 1zM819 229l0-1 2 1 0 1zM821 230l0-1 2 1 0 0zM733 235l0 8-2-27 0 10zM741 235l0-5-2 2 0-13zM819 228l0-1 2 1 0 1zM821 229l0-1 2 1 0 1zM823 230l0-1 2 1 0 0zM825 230l0 0 2 0 0 1zM821 228l0 0 2 1 0 0zM823 229l0 0 2 0 0 1zM825 230l0-1 2 0 0 1zM827 230l0-1 2 1 0 0zM829 230l0 0 2 0 0 0zM736 213l0 14-2 18 1-15zM738 245l0 5 2-43 0 12zM823 229l0-1 2 1 0 0zM825 229l0 0 2 0 0 0zM827 229l0 0 2 0 0 1zM829 230l0-1 2 1 0 0zM831 230l0 0 2 0 0 0zM833 230l0 0 2 0 0 1zM825 229l1-1 2 1-1 0zM827 229l1 0 2 0-1 0zM829 229l1 0 2 0-1 1zM831 230l1-1 2 1-1 0zM833 230l1 0 2 0-1 0zM835 230l1 0 1 0 0 0zM837 230l0 0 2 1 0 0zM828 229l0 0 2 0 0 0zM830 229l0 0 2 0 0 0zM832 229l0 0 2 0 0 1zM834 230l0-1 2 1 0 0zM836 230l0 0 2 0-1 0zM837 230l1 0 2 0-1 1zM839 231l1-1 2 1-1 0zM828 229l0 0 2 0 0 0zM830 229l0 0 2 0 0 0zM832 229l0 0 2 0 0 0zM834 229l0 0 2 1 0 0zM836 230l0 0 2 0 0 0zM838 230l0 0 2 0 0 0zM840 230l0 0 2 1 0 0zM832 229l0 0-2 0 0 0zM834 229l0 1-2-1 0 0zM836 230l0 0-2 0 0-1zM838 230l0 0-2 0 0 0zM840 230l0 1-2-1 0 0zM842 231l0 0-2 0 0-1zM830 229l0 0-2 0 0 0zM832 229l0 1-2-1 0 0zM834 230l0 0-2 0 0-1zM836 230l0 0-2 0 0 0zM838 230l0 0-2 0 0 0zM840 231l0 0-2-1 0 0zM842 231l0 0-2 0 0 0zM830 229l0 1-2-1 0 0zM832 230l0 0-2 0 0-1zM834 230l0 0-2 0 0 0zM836 230l0 1-2-1 0 0zM838 230l0 1-2 0 0-1zM840 231l0 0-2 0 0-1zM842 231l0 0-2 0 0 0zM828 229l0 1-2 0 0-1zM830 230l0 0-2 0 0-1zM832 230l0 0-2 0 0 0zM834 230l0 1-2-1 0 0zM836 231l0 0-2 0 0-1zM838 231l0 0-2 0 0 0zM840 231l0 1-2-1 0 0zM733 246l0-15 2-18 0 14zM739 207l0 13-2 26 0 5zM826 230l0 0-2 0 0-1zM828 230l0 1-2-1 0 0zM830 230l0 1-2 0 0-1zM832 230l0 1-2 0 0-1zM834 231l0 0-2 0 0-1zM836 231l0 1-2-1 0 0zM824 230l0 0-2-1 0 0zM826 230l0 1-2-1 0 0zM828 231l0 0-2 0 0-1zM830 231l0 1-2-1 0 0zM832 231l1 1-3 0 0-1zM730 245l0-8-2-10 0-10zM736 234l0-15 2 17 0-5zM822 229l0 1-2 0 0-1zM824 230l0 1-2-1 0-1zM826 231l0 1-2-1 0-1zM828 231l1 1-3 0 0-1zM728 227l0 8 2-9 0 11zM820 230l0 1-2-1 0-1zM822 230l0 1-2 0 0-1zM824 231l1 1-3-1 0-1zM818 230l0 1-2-1 0-1zM820 231l0 1-2-1 0-1zM822 231l1 1-3 0 0-1zM814 230l0 1-2-1 0-1zM816 230l0 2-2-1 0-1zM818 231l0 1-2 0 0-2zM812 230l0 2-2-2 0-1zM814 231l0 2-2-1 0-2zM810 230l0 2-2-1 0-2zM812 232l0 1-2-1 0-2zM808 231l0 1-2-1 0-1zM810 232l0 1-2-1 0-1zM804 230l0 2-2-1 0-2zM806 231l0 2-2-1 0-2zM808 232l0 2-2-1 0-2zM722 236l0 5-2-14 0-8zM802 231l0 1-2-1 0-1zM804 232l0 1-2-1 0-1z" color="#3e4989"/><path d="M729 236l0-4 2-4 0-5zM803 230l0-1 2 0 0 1zM805 230l0-1 2 1 0 1zM807 231l0-1 2 1 0 1zM729 232l-1-7 2 7 1-4zM807 230l0-1 2 1 0 1zM809 231l0-1 2 1 0 1zM809 230l0-1 2 1 0 1zM811 231l0-1 2 1 0 1zM813 232l0-1 2 0 0 1zM811 230l0-1 2 1 0 1zM813 231l0-1 2 0 0 1zM815 231l0-1 2 1 0 1zM817 232l0-1 2 0 0 1zM813 230l0-1 2 1 0 0zM815 230l0 0 2 0 0 1zM817 231l0-1 2 1 0 0zM819 231l0 0 2 0 0 1zM821 232l0-1 2 1 0 0zM817 230l0-1 2 1 0 1zM819 231l0-1 2 0 0 1zM821 231l0-1 2 1 0 1zM823 232l0-1 2 0 0 1zM825 232l0-1 2 1 0 0zM821 230l0 0 2 0 0 1zM823 231l0-1 2 1 0 0zM825 231l0 0 2 0 0 1zM827 232l0-1 2 0 0 1zM829 232l0-1 2 0 0 1zM831 232l0-1 2 1 0 0zM833 232l0 0 2 0 0 0zM823 230l0 0 2 0 0 1zM825 231l0-1 2 1 0 0zM827 231l0 0 2 0 0 0zM829 231l0 0 2 0 0 0zM831 231l0 0 2 0 0 1zM833 232l0-1 2 0 0 1zM835 232l0-1 2 1 0 0zM837 232l0 0 2 0 0 0zM839 232l0 0 2 0 0 0zM827 231l0-1 2 0 0 1zM829 231l0-1 2 0 0 1zM831 231l0-1 2 1 0 0zM833 231l0 0 2 0 0 0zM835 231l0 0 2 0 0 1zM837 232l0-1 2 0 0 1zM839 232l0-1 2 1 0 0zM841 232l0 0 2 0 0 0zM843 232l0 0 2 0 0 0zM845 232l0 0 2 0 0 0zM847 232l0 0 2 0 0 0zM849 232l0 0 2 0 0 0zM851 232l0 0 2 0 0 0zM853 232l0 0 2 0 0 0zM855 232l0 0 2 0 0 0zM857 232l0 0 2 0 0 0zM859 232l0 0 2 0-1 0zM860 232l1 0 2 0-1 0zM862 232l1 0 2 0-1 0zM739 232l-1 13 2-26 1 11zM831 230l0 0 2 0 0 1zM833 231l0-1 2 1 0 0zM835 231l0 0 2 0 0 0zM837 231l0 0 2 0 0 0zM839 231l0 0 2 0 0 1zM841 232l0-1 2 0 0 1zM843 232l0-1 2 1 0 0zM845 232l0 0 2 0 0 0zM847 232l0 0 2 0 0 0zM849 232l0 0 2 0 0 0zM851 232l0 0 2 0 0 0zM853 232l0 0 2 0 0 0zM855 232l0 0 2 0 0 0zM857 232l0 0 2 0 0 0zM859 232l0 0 2 0 0 0zM861 232l0 0 2 0 0 0zM863 232l0 0 2 0 0 0zM865 232l0 0 2 0 0 0zM867 232l0 0 2 0 0 0zM869 232l0 0 2 0 0 0zM871 232l0 0 2 0 0 0zM873 232l0 0 2 0-1 0zM874 232l1 0 2 0-1 0zM876 232l1 0 2 0-1 0zM878 232l1 0 2 0-1 0zM880 232l1 0 2 0-1 0zM882 232l1 0 2 0-1 0zM835 231l0-1 2 0 0 1zM837 231l0-1 2 1 0 0zM839 231l0 0 2 0 0 0zM841 231l0 0 2 0 0 0zM843 231l0 0 2 0 0 1zM845 232l0-1 2 0 0 1zM847 232l0-1 2 0 0 1zM849 232l0-1 2 0 0 1zM851 232l0-1 2 0 0 1zM853 232l0-1 2 0 0 1zM855 232l0-1 2 0 0 1zM857 232l0-1 2 0 0 1zM859 232l0-1 2 1 0 0zM861 232l0 0 2 0 0 0zM863 232l0 0 2 0 0 0zM865 232l0 0 2 0 0 0zM867 232l0 0 2 0 0 0zM869 232l0 0 2 0 0 0zM871 232l0 0 2 0 0 0zM873 232l0 0 2 0 0 0zM875 232l0 0 2 0 0 0zM877 232l0 0 2 0 0 0zM879 232l0 0 2 0 0 0zM881 232l0 0 2 0 0 0zM883 232l0 0 2 0 0 0zM839 231l0 0 2 0 0 0zM841 231l0 0 2 0 0 0zM843 231l0 0 2 0 0 0zM845 231l0 0 2 0 0 0zM847 231l0 0 2 0 0 0zM849 231l0 0 2 0 0 0zM851 231l0 0 2 0 0 0zM853 231l0 0 2 0 0 0zM855 231l0 0 2 0 0 0zM857 231l0 0 2 0 0 0zM859 231l0 0 2 0 0 1zM861 232l0-1 2 0 0 1zM863 232l0-1 2 0 0 1zM865 232l0-1 2 0 0 1zM867 232l0-1 2 0 0 1zM869 232l0-1 2 1 0 0zM871 232l0 0 2 0 0 0zM873 232l0 0 2 0 0 0zM875 232l0 0 2 0 0 0zM877 232l0 0 2 0 0 0zM879 232l0 0 2 0 0 0zM881 232l0 0 2 0 0 0zM883 232l0 0 2 0 0 0zM841 231l1 0 2 0-1 0zM843 231l1 0 2 0-1 0zM845 231l1 0 2 0-1 0zM847 231l1 0 2 0-1 0zM849 231l1 0 2 0-1 0zM851 231l1 0 2 0-1 0zM853 231l1 0 2 0-1 0zM855 231l1 0 2 0-1 0zM857 231l1 0 2 0-1 0zM859 231l1 0 2 0-1 0zM861 231l1 0 2 0-1 0zM863 231l1 0 2 0-1 0zM865 231l1 0 2 0-1 0zM867 231l1 0 2 0-1 0zM869 231l1 0 2 0-1 1zM871 232l1-1 2 0-1 1zM873 232l1-1 2 0-1 1zM875 232l1-1 2 1-1 0zM877 232l1 0 2 0-1 0zM879 232l1 0 2 0-1 0zM881 232l1 0 2 0-1 0zM883 232l1 0 2 0-1 0zM842 231l0 0 2 0 0 0zM846 231l0 0-2 0 0 0zM848 231l0 0-2 0 0 0zM850 231l0 0-2 0 0 0zM852 231l0 0-2 0 0 0zM854 231l0 0-2 0 0 0zM856 231l0 0-2 0 0 0zM858 231l0 0-2 0 0 0zM860 231l0 0-2 0 0 0zM862 231l0 0-2 0 0 0zM864 231l0 0-2 0 0 0zM866 231l0 0-2 0 0 0zM868 231l0 0-2 0 0 0zM870 231l0 0-2 0 0 0zM872 231l0 0-2 0 0 0zM874 231l0 0-2 0 0 0zM876 231l0 1-2-1 0 0zM878 232l0 0-2 0 0-1zM880 232l0 0-2 0 0 0zM882 232l0 0-2 0 0 0zM884 232l0 0-2 0 0 0zM886 232l0 0-2 0 0 0zM844 231l0 0-2 0 0 0zM846 231l0 0-2 0 0 0zM848 231l0 0-2 0 0 0zM850 231l0 0-2 0 0 0zM852 231l0 0-2 0 0 0zM854 231l0 0-2 0 0 0zM856 231l0 0-2 0 0 0zM858 231l0 0-2 0 0 0zM860 231l0 0-2 0 0 0zM862 231l0 0-2 0 0 0zM864 231l0 0-2 0 0 0zM866 231l0 0-2 0 0 0zM868 231l0 0-2 0 0 0zM870 231l0 1-2-1 0 0zM872 231l0 1-2 0 0-1zM874 231l0 1-2 0 0-1zM876 232l0 0-2 0 0-1zM878 232l0 0-2 0 0 0zM880 232l0 0-2 0 0 0zM882 232l0 0-2 0 0 0zM884 232l0 0-2 0 0 0zM886 232l0 0-2 0 0 0zM844 231l0 0-2 0 0 0zM846 231l0 0-2 0 0 0zM848 231l0 0-2 0 0 0zM850 231l0 0-2 0 0 0zM852 231l0 0-2 0 0 0zM854 231l0 0-2 0 0 0zM856 231l0 1-2-1 0 0zM858 231l0 1-2 0 0-1zM860 231l0 1-2 0 0-1zM862 231l0 1-2 0 0-1zM864 231l0 1-2 0 0-1zM866 231l0 1-2 0 0-1zM868 231l0 1-2 0 0-1zM870 232l0 0-2 0 0-1zM872 232l0 0-2 0 0 0zM874 232l0 0-2 0 0 0zM876 232l0 0-2 0 0 0zM878 232l0 0-2 0 0 0zM880 232l0 0-2 0 0 0zM882 232l0 0-2 0 0 0zM884 232l0 0-2 0 0 0zM886 232l0 0-2 0 0 0zM844 231l0 1-2-1 0 0zM846 231l0 1-2 0 0-1zM848 231l0 1-2 0 0-1zM850 231l0 1-2 0 0-1zM852 231l0 1-2 0 0-1zM854 231l0 1-2 0 0-1zM856 232l0 0-2 0 0-1zM858 232l0 0-2 0 0 0zM860 232l0 0-2 0 0 0zM862 232l0 0-2 0 0 0zM864 232l1 0-3 0 0 0zM866 232l1 0-2 0-1 0zM868 232l1 0-2 0-1 0zM870 232l1 0-2 0-1 0zM872 232l1 0-2 0-1 0zM874 232l1 0-2 0-1 0zM876 232l1 0-2 0-1 0zM878 232l1 0-2 0-1 0zM880 232l1 0-2 0-1 0zM882 232l1 0-2 0-1 0zM884 232l1 0-2 0-1 0zM886 232l1 0-2 0-1 0zM842 231l0 1-2 0 0-1zM844 232l0 0-2 0 0-1zM846 232l0 0-2 0 0 0zM848 232l0 0-2 0 0 0zM850 232l1 0-3 0 0 0zM852 232l1 0-2 0-1 0zM854 232l1 0-2 0-1 0zM856 232l1 0-2 0-1 0zM858 232l1 0-2 0-1 0zM860 232l1 0-2 0-1 0zM862 232l1 0-2 0-1 0zM865 232l0 0-2 0-1 0zM867 232l0 0-2 0 0 0zM869 232l0 0-2 0 0 0zM871 232l0 0-2 0 0 0zM873 232l0 1-2-1 0 0zM875 232l0 1-2 0 0-1zM877 232l0 1-2 0 0-1zM879 232l0 1-2 0 0-1zM881 232l0 1-2 0 0-1zM883 232l0 1-2 0 0-1zM885 232l0 1-2 0 0-1zM887 232l0 1-2 0 0-1zM838 231l0 1-2 0 0-1zM840 232l1 0-3 0 0-1zM842 232l1 0-2 0-1 0zM844 232l1 1-2-1-1 0zM846 232l1 1-2 0-1-1zM848 232l1 1-2 0-1-1zM851 232l0 1-2 0-1-1zM853 232l0 1-2 0 0-1zM855 232l0 1-2 0 0-1zM857 232l0 1-2 0 0-1zM859 232l0 1-2 0 0-1zM861 232l0 1-2 0 0-1zM863 232l0 1-2 0 0-1zM865 232l0 1-2 0 0-1zM867 232l0 1-2 0 0-1zM869 232l0 1-2 0 0-1zM871 232l0 1-2 0 0-1zM873 233l0 0-2 0 0-1zM875 233l0 0-2 0 0 0zM877 233l0 0-2 0 0 0zM879 233l0 0-2 0 0 0zM881 233l0 0-2 0 0 0zM883 233l0 0-2 0 0 0zM885 233l0 0-2 0 0 0zM887 233l0 0-2 0 0 0zM737 246l-1-12 2-3 1-11zM834 231l1 1-2 0-1-1zM836 232l1 0-2 0-1-1zM838 232l1 0-2 0-1 0zM841 232l0 1-2-1-1 0zM843 232l0 1-2 0 0-1zM845 233l0 0-2 0 0-1zM847 233l0 0-2 0 0 0zM849 233l0 0-2 0 0 0zM851 233l0 0-2 0 0 0zM853 233l0 0-2 0 0 0zM855 233l0 0-2 0 0 0zM857 233l0 0-2 0 0 0zM859 233l0 0-2 0 0 0zM861 233l0 0-2 0 0 0zM863 233l0 0-2 0 0 0zM865 233l0 0-2 0 0 0zM867 233l0 0-2 0 0 0zM869 233l0 1-2-1 0 0zM871 233l0 1-2 0 0-1zM873 233l0 1-2 0 0-1zM875 233l0 1-2 0 0-1zM877 233l0 1-2 0 0-1zM879 233l1 1-3 0 0-1zM881 233l1 1-2 0-1-1zM883 233l1 1-2 0-1-1zM885 233l1 1-2 0-1-1zM887 233l1 1-2 0-1-1zM830 232l1 0-2 0-1-1zM833 232l0 1-2-1-1 0zM835 232l0 1-2 0 0-1zM837 232l0 1-2 0 0-1zM839 232l0 1-2 0 0-1zM841 233l0 0-2 0 0-1zM843 233l0 1-2-1 0 0zM845 233l0 1-2 0 0-1zM847 233l0 1-2 0 0-1zM849 233l0 1-2 0 0-1zM851 233l0 1-2 0 0-1zM853 233l0 1-2 0 0-1zM855 233l0 1-2 0 0-1zM857 233l0 1-2 0 0-1zM859 233l0 1-2 0 0-1zM861 233l0 1-2 0 0-1zM863 233l0 1-2 0 0-1zM865 233l0 1-2 0 0-1zM867 233l1 1-3 0 0-1zM826 232l1 1-2-1-1-1zM829 232l0 1-2 0-1-1zM831 232l0 1-2 0 0-1zM833 233l0 0-2 0 0-1zM835 233l0 1-2-1 0 0zM837 233l0 1-2 0 0-1zM839 233l0 1-2 0 0-1zM841 233l0 1-2 0 0-1zM843 234l0 0-2 0 0-1zM825 232l0 1-2-1-1-1zM827 233l0 1-2-1 0-1zM829 233l0 1-2 0 0-1zM831 233l0 1-2 0 0-1zM833 233l0 1-2 0 0-1zM835 234l0 0-2 0 0-1zM837 234l0 0-2 0 0 0zM820 232l1 1-3-1 0-1zM823 232l0 1-2 0-1-1zM825 233l0 1-2-1 0-1zM827 234l0 0-2 0 0-1zM829 234l0 1-2-1 0 0zM816 232l0 1-2 0 0-2zM818 232l1 1-3 0 0-1zM821 233l0 1-2-1-1-1zM823 233l0 1-2 0 0-1zM825 234l0 1-2-1 0-1zM814 233l0 1-2-1 0-1zM816 233l1 1-3 0 0-1zM819 233l0 2-2-1-1-1zM821 234l0 1-2 0 0-2zM812 233l0 1-2-1 0-1zM814 234l1 1-3-1 0-1zM817 234l0 1-2 0-1-1zM724 235l0-4-2 5 0-8zM810 233l0 2-2-1 0-2zM812 234l1 1-3 0 0-2zM722 236l0 5 2-15 0 5zM806 233l0 1-2-1 0-1zM808 234l0 1-2-1 0-1zM810 235l0 1-2-1 0-1z" color="#404588"/><path d="M733 210l0 0-2 18 0-5zM784 218l0-2 2 2 0 2zM786 218l0-3 2 2 0 2zM788 219l0-2 2 1 0 2zM744 213l0 7 2-6 0 8zM790 218l0-2 2 1 0 3zM792 220l0-3 2 2 0 2zM794 219l0-3 2 2 0 2zM796 218l0-2 2 2 0 2zM798 218l0-3 2 3 0 2zM800 220l0-2 2 1 0 2zM802 219l0-2 2 2 0 2zM804 219l0-2 2 2 0 2zM806 219l0-2 2 2 0 2zM808 219l0-1 2 2 0 1zM808 218l0-1 2 2 0 1zM810 219l0-1 2 3 0 0zM810 218l0 0 2 2 0 1zM810 218l0-1 2 3 0 0zM812 220l0 0-2-2 0-1zM812 220l0 1-2-3 0 0zM812 221l0 0-2-2 0-1zM812 221l0 1-2-2 0-1zM810 220l0 1-2-2 0-2zM810 221l0 1-2-2 0-1zM808 220l0 2-2-2 0-2zM806 220l0 2-2-2 0-2zM804 220l0 2-2-2 0-2zM800 219l0 2-2-2 0-3zM802 220l0 3-2-2 0-2zM798 219l0 3-2-2 0-3zM796 220l0 2-2-1 0-3zM741 215l0 9-2-9 0 7zM792 219l-1 3-2-2 0-3zM794 221l0 2-3-1 1-3zM787 219l0 2-2-2 0-2zM789 220l0 3-2-2 0-2zM724 231l0-5 2-15 0 1zM785 219l0 3-2-2 0-2z" color="#34608d"/><path d="M740 199l0-1 2-1 0 0zM765 199l0-3 2 2 0 3zM711 197l0-2 2 1 0 3zM713 199l0-3 2 1 0 4zM742 197l0 1-2 0 0 0zM767 198l0-4 2 3 0 3zM717 199l0-5 2 2 0 4zM738 199l0 0 2-2 0 1zM742 198l0 3-2-4 0 1zM771 199l0-4 2 2 0 4zM722 200l0-6 2 2 0 6zM738 199l0 0 2-2 0 0zM740 197l-1 1-2 1 1 0zM776 198l0-5 2 3 0 4zM780 198l0-4 2 2 0 5zM784 199l0-4 2 3 0 4zM786 198l0-4 2 3 0 4zM788 197l0-3 2 3 0 3zM792 197l0-3 2 3 0 3zM794 197l0-1 2 3 0 2zM794 196l0-2 2 4 0 1zM730 191l0-1 2 10 0 10zM731 200l0 10-2-19 0-1zM796 198l0 1-2-3 0-2zM796 199l0 2-2-4 0-1zM794 197l0 3-2-3 0-3zM790 197l0 3-3-3 1-3zM787 197l0 4-2-3 0-4zM785 198l0 4-2-3 0-4zM781 196l0 5-2-3 0-4zM733 199l0 0 2-2 1 1zM777 196l0 4-2-2 0-5zM719 196l-1 6-2-2 1-6zM733 199l0 0 2-2 0 0zM712 195l0 6-2-2 0-5zM735 197l0 1-2 2 0-1zM735 197l0 1 2 0 0 3zM771 197l0 5-3-3 1-4zM706 196l-1 3-2-1 0-4zM708 197l-1 4-2-2 1-3zM735 198l0 0 2-1 0 1zM766 197l0 4-2-3 0-4zM737 197l0 0-3 2 1-1zM764 198l0 4-2-3 0-3z" color="#24868e"/><path d="M746 222l0 2-2-18 0-4zM780 215l0-3 2 2 0 2zM782 214l0-3 2 2 0 3zM727 211l-1-5 2 11 0 8zM786 215l0-3 2 2 0 3zM788 214l0-3 2 2 0 3zM790 216l0-3 2 2 0 2zM792 215l0-3 2 2 0 2zM794 214l0-3 2 2 0 3zM798 215l0-2 2 2 0 3zM729 205l0-8 2 29 0 7zM800 215l0-2 2 2 0 2zM739 219l0 13-2-28 0-4zM802 215l0-2 2 2 0 2zM804 215l0-2 2 3 0 1zM804 213l0-1 2 2 0 2zM806 214l0-1 2 3 0 1zM738 244l0-13 2-42 0 7zM806 213l0 0 2 2 0 1zM806 213l0-1 2 3 0 0zM808 215l0 0-2-2 0-1zM739 189l0 7-2 49 0-14zM808 215l0 1-2-2 0-1zM808 216l0 1-2-2 0-1zM806 215l0 1-2-2 0-2zM806 216l0 2-2-2 0-2zM734 205l0-5 2 19 0 15zM804 216l0 2-2-2 0-2zM728 227l0 8-2-30 0-8zM802 216l0 2-2-2 0-2zM800 216l0 3-2-3 0-2zM796 214l0 3-2-2 0-3zM794 215l0 3-2-2 0-3zM789 214l0 3-2-1 0-4zM792 216l0 3-3-2 0-3zM723 218l-1 10-2-15 0-6zM787 216l0 3-2-2 0-4zM783 215l0 3-2-2 0-3zM739 207l0-5 2 22 0 3zM781 216l0 2-2-1 0-3z" color="#31688e"/><path d="M750 192l0-5 2-4 0 3zM754 188l0-3 2 1 0 4zM757 188l0-4 2 2 0 4zM761 188l0-5 2 2 0 5zM765 188l0-5 2 2 0 5zM713 188l-1-4 2 0 0 5zM714 189l0-5 2 0 0 6zM716 190l0-6 2 0 0 6zM718 190l0-6 2 2 0 6zM745 203l0-11 2-17 0 6zM769 188l0-5 2 3 0 4zM772 188l0-5 2 3 0 5zM776 189l0-5 2 2 0 5zM743 207l0-11 2-25 0 5zM782 188l0-4 2 3 0 4zM784 187l0-4 2 4 0 3zM786 187l0-3 2 4 0 2zM740 207l0-11 2-23 0 2zM728 184l0-1 2 8 0 3zM788 185l0-1 2 3 0 2zM730 191l0-1-2-8 0 1zM730 190l-1 0-2-8 1 0zM729 190l0 1-2-8 0-1zM729 191l0 2-2-9 0-1zM790 187l0 2-2-4 0-1zM741 172l0 3-2 32 0-11zM788 187l0 3-2-3 0-3zM786 187l-1 3-2-3 0-4zM783 187l0 4-2-4 0-4zM742 169l0 6-2 33 0-12zM777 186l0 5-2-3 0-5zM773 185l0 5-2-2 0-6zM709 183l-1 5-2 0 1-5zM711 183l-1 6-2-1 1-5zM713 184l-1 6-2-1 1-6zM715 185l0 7-3-2 1-6zM744 174l0 5-2 25 0-12zM769 185l0 5-2-3 0-5zM764 185l0 5-2-3 0-5zM760 184l0 5-2-2 0-5zM756 185l0 4-2-2 0-4zM747 181l0 4-2 7 0-6zM751 185l0 4-2-2 0-4z" color="#1f9a8a"/><path d="M752 186l0-3 2 2 0 3zM756 186l-1-4 2 2 0 4zM748 195l0-8 1-9 1 5zM759 186l0-5 2 2 0 5zM711 188l-1-4 2 0 1 4zM722 188l0-6 2 2 0 6zM771 186l-1-6 2 3 0 5zM774 186l0-5 2 3 0 5zM725 184l0-6 2 8 0 5zM778 186l0-5 2 4 0 4zM780 185l0-5 2 4 0 4zM727 182l0-4 2 11 0 3zM786 184l0-2 2 3 0 3zM788 184l0-1 2 4 0 0zM790 187l0 0-2-4 0 0zM790 187l0 0-2-3 0-1zM788 185l0 2-2-3 0-3zM726 188l0 4-2-11 0-4zM781 183l0 4-2-3 0-4zM724 186l0 4-2-7 0-6zM779 184l0 5-2-3 0-5zM775 183l0 5-2-3 0-5zM719 183l0 7-2-2 0-7zM771 182l0 6-2-3 0-6zM707 183l-1 5-2-1 0-4zM746 177l-1 4-2 14 0-9zM758 182l0 5-2-2 0-5zM754 183l0 4-3-2 1-4zM749 183l0 4-2-2 0-4z" color="#1f9e89"/><path d="M756 190l0-4 1 2 1 4zM759 190l0-4 2 2 0 4zM763 190l0-5 2 3 0 4zM711 191l0-3 2 0 0 4zM767 190l0-5 2 3 0 5zM720 192l0-6 2 2 0 6zM771 190l0-4 1 2 1 5zM724 190l0-6 2 6 0 5zM774 191l0-5 2 3 0 4zM726 190l-1-6 2 7 1 5zM778 191l0-5 2 3 0 5zM780 189l0-4 2 3 0 4zM727 186l0-4 2 10 0 5zM788 188l0-3 2 4 0 2zM790 189l0-2 2 4 0 1zM790 187l0 0 2 3 0 1zM792 190l0 0-2-3 0 0zM792 190l0 1-2-4 0 0zM792 191l0 1-2-3 0-2zM790 189l0 2-2-4 0-2zM726 192l0 5-2-11 0-5zM781 187l0 5-2-3 0-5zM724 190l-1 5-2-6 1-6zM779 189l0 5-2-3 0-5zM721 189l0 6-2-5 0-7zM775 188l0 5-2-3 0-5zM717 188l0 6-2-2 0-7zM771 188l0 5-2-3 0-5zM706 188l0 4-2-1 0-4zM767 187l-1 5-2-2 0-5zM762 187l0 5-2-3 0-5zM758 187l0 4-2-2 0-4zM754 187l-1 4-2-2 0-4z" color="#1f968b"/><path d="M758 192l-1-4 2 2 0 3zM761 192l0-4 2 2 0 4zM765 192l0-4 2 2 0 4zM713 192l0-4 1 1 1 4zM715 193l-1-4 2 1 1 4zM769 193l0-5 2 2 0 5zM722 194l0-6 2 2 0 6zM773 193l-1-5 2 3 0 4zM776 193l0-4 2 2 0 5zM782 192l0-4 2 3 0 4zM784 191l0-4 2 3 0 4zM786 190l0-3 2 3 0 4zM788 190l0-2 2 3 0 3zM728 186l0-2 2 10 0 4zM790 191l0-2 2 3 0 2zM792 191l0-1 2 4 0 0zM794 194l0 0-2-4 0 0zM794 194l0 0-2-3 0-1zM729 193l0 5-2-12 0-2zM792 192l0 2-2-3 0-2zM790 191l0 2-2-3 0-3zM788 190l0 4-3-4 1-3zM785 190l0 4-2-3 0-4zM783 191l0 4-2-3 0-5zM777 191l0 5-2-3 0-5zM719 190l0 6-2-2 0-6zM773 190l0 5-2-2 0-5zM708 188l0 5-2-1 0-4zM710 189l0 5-2-1 0-5zM769 190l0 5-3-3 1-5zM764 190l0 4-2-2 0-5zM760 189l0 4-2-2 0-4zM756 189l0 4-3-2 1-4z" color="#20928c"/><path d="M759 193l0-3 2 2 0 3zM761 195l0-3 2 2 0 3zM748 205l0-10 2-12 0 4zM763 194l0-4 2 2 0 4zM711 195l0-4 2 1 0 4zM767 194l0-4 2 3 0 4zM717 194l-1-4 2 0 1 6zM719 196l-1-6 2 2 1 5zM771 195l0-5 2 3 0 4zM774 195l0-4 2 2 0 5zM780 194l0-5 2 3 0 4zM786 194l0-4 2 4 0 3zM788 194l0-4 2 4 0 3zM790 194l0-3 2 3 0 3zM792 192l0-1 2 3 0 2zM794 194l0 2-2-4 0-1zM792 194l0 3-2-4 0-2zM790 193l0 4-2-3 0-4zM788 194l-1 3-2-3 0-4zM781 192l0 4-2-2 0-5zM775 193l0 5-2-3 0-5zM712 190l0 5-2-1 0-5zM715 192l-1 5-2-2 0-5zM771 193l0 4-2-2 0-5zM706 192l0 4-3-2 1-3zM766 192l0 5-2-3 0-4zM745 181l0 5-2 20 0-11zM762 192l0 4-2-3 0-4zM758 191l0 4-2-2 0-4zM760 193l0 4-2-2 0-4z" color="#218e8d"/><path d="M763 197l0-3 2 2 0 3zM765 196l0-4 2 2 0 4zM713 196l0-4 2 1 0 4zM715 197l0-4 2 1 0 5zM769 197l0-4 2 2 0 4zM721 197l-1-5 2 2 0 6zM746 214l-1-11 2-22 1 6zM773 197l0-4 1 2 1 5zM724 196l0-6 2 5 0 6zM726 195l0-5 2 6 0 5zM778 196l0-5 2 3 0 4zM743 218l0-11 2-31 0 7zM782 196l0-4 2 3 0 4zM727 191l0-5 2 11 0 8zM784 195l0-4 2 3 0 4zM790 197l0-3 2 3 0 2zM729 189l-1-3 2 12 1 8zM740 219l0-12 2-32 0 5zM792 194l0-2 2 4 0 1zM794 194l0 0 2 3 0 1zM732 200l-1 0-2-10 1 0zM796 197l0 0-2-3 0 0zM796 197l0 1-2-4 0 0zM794 196l0 1-2-3 0-2zM729 198l-1 8-2-18 1-2zM741 175l0 4-2 41 0-13zM792 197l0 2-2-2 0-4zM726 197l0 8-2-15 0-4zM785 194l0 4-2-3 0-4zM742 175l0 7-2 37 0-11zM783 195l0 4-2-3 0-4zM723 195l0 7-2-7 0-6zM779 194l0 4-2-2 0-5zM721 195l0 6-2-5 0-6zM717 194l-1 6-2-3 1-5zM744 179l-1 7-2 29 1-11zM773 195l0 5-2-3 0-4zM708 193l0 4-2-1 0-4zM710 194l0 5-2-2 0-4zM769 195l-1 4-2-2 0-5zM764 194l0 4-2-2 0-4zM762 196l0 3-2-2 0-4z" color="#238a8d"/><path d="M786 220l0-2 2 1 0 2zM788 221l0-2 2 1 0 2zM733 210l-1 3-2 19 1-4zM790 220l0-2 2 2 0 2zM794 221l0-2 2 1 0 2zM796 220l0-2 2 2 0 2zM798 220l0-2 2 2 0 2zM800 222l0-2 2 1 0 2zM743 224l0-6-2 6 0-10zM802 221l0-2 2 2 0 2zM729 213l0-8 2 28 0 2zM741 224l0 8 2-25 0 11zM804 221l0-2 2 2-1 1zM806 221l0-2 2 2-1 1zM808 221l0-2 2 2-1 2zM810 221l0-1 2 2-1 1zM731 206l-1-8 2 38 1 7zM810 220l0-1 2 2 0 1zM812 221l0 0 2 1 0 1zM812 221l0-1 2 2 0 0zM812 220l0 0 2 2 0 0zM814 222l0 0-2-2 0 0zM816 223l0 0-2-1 0 0zM814 222l0 0-2-1 0-1zM814 222l0 1-2-2 0 0zM814 223l0 0-2-1 0-1zM731 236l0 9-3-39 1-8zM812 222l0 1-2-2 0-1zM812 223l0 1-2-2 0-1zM810 222l0 2-2-2 0-2zM808 222l0 2-2-2 0-2zM728 235l0 2-3-23 1-9zM738 234l0-9 2-6 0-11zM806 222l0 2-2-2 0-2zM738 225l0-10 2 11 0-7zM804 222l0 2-2-1 0-3zM800 221l0 3-2-2 0-3zM802 223l0 2-2-1 0-3zM798 222l0 2-2-2 0-2zM796 222l0 3-2-2 0-2zM724 235l0-4 2-19 1 3zM791 222l0 2-2-1 0-3zM787 221l0 3-2-2 0-3zM789 223l0 2-2-1 0-3z" color="#365c8d"/><path d="M790 222l0-2 2 2 0 1zM792 223l0-1 2 1 0 2zM727 217l0-6 1 14 1 7zM792 222l0-2 2 1 0 2zM794 223l0-2 2 1 0 2zM796 222l0-2 2 2 0 2zM728 217l0-9 2 22 0 3zM798 222l0-2 2 2 0 2zM800 224l0-2 2 1 0 2zM802 223l0-2 2 2 0 1zM734 208l-1 7-2 20 1-4zM804 223l0-2 1 1 0 2zM805 222l1-1 1 1 0 2zM741 232l0 3-2-16 0-11zM807 222l1-1 1 2 0 1zM809 223l1-2 1 2 0 2zM739 232l-1 13-2-32 1-9zM811 223l1-1 2 2-1 1zM812 222l0-1 2 2 0 1zM814 224l0-1 2 1-1 1zM814 223l0-1 2 1 0 1zM816 224l0-1 2 1 0 1zM814 222l0 0 2 1 0 0zM816 223l0 0 2 1 0 0zM814 222l0 0 2 1 0 0zM816 223l0 0 2 1 0 0zM734 244l-1 0-2-44 1 0zM818 224l0 0-2-1 0 0zM816 223l0 0-2-1 0 0zM818 224l0 0-2-1 0 0zM816 223l0 1-2-1 0-1zM818 224l0 1-2-1 0-1zM816 224l0 1-2-2 0 0zM818 225l0 1-2-1 0-1zM814 223l0 2-2-2 0-1zM816 225l0 1-2-1 0-2zM735 213l-1-8 2 29 1 12zM814 225l0 1-2-2 0-1zM812 224l0 2-2-2 0-2zM736 219l0-11 2 26 0 2zM810 224l0 2-2-2 0-2zM808 224l0 2-2-2 0-2zM728 237l-1-4 2-24 1 7zM806 224l0 2-2-2 0-2zM804 224l0 2-2-1 0-2zM725 232l0 4-2-18 0-9zM800 224l0 2-2-2 0-2zM802 225l0 2-2-1 0-2zM798 224l0 2-2-1 0-3zM722 228l0 8-2-17 0-6zM794 223l0 2-3-1 0-2zM796 225l0 2-2-2 0-2zM791 224l0 2-2-1 0-2zM794 225l0 2-3-1 0-2z" color="#38588c"/><path d="M794 225l0-2 2 1 0 2zM796 224l0-2 2 2 0 1zM732 213l0 5-2 15 0-1zM798 224l0-2 2 2 0 1zM800 225l0-1 2 1 0 1zM802 225l0-2 2 1-1 2zM804 224l0-1 1 1 0 2zM805 226l0-2 2 1 0 2zM730 222l-1-9 2 22 1-4zM805 224l0-2 2 2 0 1zM807 225l0-1 2 2 0 1zM807 224l0-2 2 2 0 2zM809 226l0-2 2 2 0 1zM809 224l0-1 2 2 0 1zM811 226l0-1 2 1 0 1zM735 207l0 9-2 27 0-8zM811 225l0-2 2 2 0 1zM813 226l0-1 2 1 0 1zM813 225l1-1 1 1 0 1zM815 226l0-1 2 1 0 0zM815 225l1-1 2 1-1 1zM817 226l1-1 2 1-1 1zM738 250l0-6 2-48 0 11zM818 225l0-1 2 2 0 0zM818 224l0 0 2 1 0 1zM820 226l0-1 2 1 0 1zM818 224l0 0 2 1 0 0zM820 225l0 0 2 1 0 0zM820 225l0 0-2-1 0 0zM822 226l0 0-2-1 0 0zM820 225l0 1-2-2 0 0zM822 226l0 1-2-1 0-1zM820 226l0 0-2-1 0-1zM822 227l0 0-2-1 0 0zM739 196l0 11-2 44 0-6zM820 226l0 1-2-1 0-1zM818 226l0 1-2-1 0-1zM820 227l0 1-2-1 0-1zM816 226l0 1-2-1 0-1zM818 227l0 1-2-1 0-1zM730 245l0-8 2-30 0 10zM814 226l0 1-2-1 0-2zM816 227l0 1-2-1 0-1zM812 226l0 1-2-1 0-2zM814 227l0 1-2-1 0-1zM810 226l0 1-2-1 0-2zM812 227l0 2-2-2 0-1zM728 237l-1-4-2-9 0-10zM808 226l0 1-2-1 0-2zM810 227l0 2-2-2 0-1zM806 226l0 2-2-2 0-2zM808 227l0 2-2-1 0-2zM804 226l0 2-2-1 0-2zM725 236l-1-1 3-20 0 5zM800 226l0 2-2-2 0-2zM802 227l0 2-2-1 0-2zM798 226l0 2-2-1 0-2zM796 227l0 2-2-2 0-2z" color="#3a538b"/><path d="M796 226l0-2 2 1 0 2zM798 227l0-2 2 2 0 1zM798 225l0-1 2 1 0 2zM800 227l0-2 2 1 0 2zM728 225l0-8 2 16 0-1zM802 226l0-1 1 1 0 1zM803 227l0-1 2 1 0 1zM732 218l0 7-2 5 0 3zM803 226l1-2 1 2 0 1zM805 227l0-1 2 1 0 1zM730 230l0-8 2 9 0-6zM807 227l0-2 2 2 0 1zM809 227l0-1 2 1 0 1zM733 215l0 10-2 8 0 2zM811 227l0-1 2 1 0 1zM813 228l0-1 2 1 0 1zM813 227l0-1 2 1 0 1zM815 228l0-1 2 0 0 1zM815 227l0-1 2 0 0 1zM817 227l0-1 2 1 0 1zM731 216l0-10 2 37 0 0zM817 226l0 0 2 1 0 0zM819 227l0 0 2 1 0 0zM819 227l1-1 1 1 0 1zM821 228l0-1 2 1 0 1zM820 226l0 0 2 1-1 0zM821 227l1 0 2 1-1 0zM823 228l1 0 2 0-1 1zM822 227l0-1 2 2 0 0zM824 228l0 0 2 0 0 0zM826 228l0 0 2 1 0 0zM732 210l0-10 2 44 0 11zM822 226l0 0 2 2 0 0zM824 228l0 0 2 0 0 0zM826 228l0 0 2 1 0 0zM824 228l0 0-2-2 0 0zM826 228l0 0-2 0 0 0zM828 229l0 0-2-1 0 0zM830 229l0 0-2 0 0 0zM733 244l0 12-2-46 0-10zM824 228l0 0-2-1 0-1zM826 228l0 1-2-1 0 0zM828 229l0 0-2 0 0-1zM824 228l0 0-2-1 0 0zM826 229l0 0-2-1 0 0zM828 229l0 0-2 0 0 0zM822 227l0 1-2-1 0-1zM824 228l0 1-2-1 0-1zM826 229l0 1-2-1 0-1zM822 228l0 1-2-1 0-1zM824 229l0 1-2-1 0-1zM731 245l-1 0-2-28 0-11zM820 228l0 1-2-1 0-1zM822 229l0 0-2 0 0-1zM818 228l0 1-2-1 0-1zM820 229l0 1-2-1 0-1zM816 228l0 1-2-1 0-1zM818 229l0 1-2-1 0-1zM728 235l0 2 2-21 0 10zM814 228l0 2-2-1 0-2zM816 229l0 1-2 0 0-2zM812 229l0 1-2-1 0-2zM727 233l0-6-2 5 0-8zM810 229l0 1-2-1 0-2zM725 232l0 4 2-16 0 7zM806 228l0 2-2-2 0-2zM808 229l0 2-2-1 0-2zM725 236l-1-1-2-7 1-10zM804 228l0 2-2-1 0-2zM806 230l0 1-2-1 0-2zM800 228l0 2-2-2 0-2zM802 229l0 2-2-1 0-2zM798 228l0 2-2-1 0-2zM800 230l0 1-2-1 0-2z" color="#3d4e8a"/><path d="M809 232l0-1 2 1 0 1zM811 233l0-1 2 0 0 1zM813 233l0-1 2 1 0 0zM815 233l0 0 2 0 0 0zM817 233l0 0 2 0 0 1zM811 232l0-1 2 1 0 0zM813 232l0 0 2 0 0 1zM815 233l0-1 2 0 0 1zM817 233l0-1 2 1 0 0zM819 233l0 0 2 0 0 0zM821 233l0 0 2 0 0 1zM815 232l0-1 2 1 0 0zM817 232l0 0 2 0 0 1zM819 233l0-1 2 0 0 1zM821 233l0-1 2 1 0 0zM823 233l0 0 2 0 0 0zM825 233l0 0 2 0 0 1zM827 234l0-1 2 0-1 1zM828 234l1-1 1 0 0 1zM830 234l0-1 2 1 0 0zM819 232l0-1 2 1 0 0zM821 232l0 0 2 0 0 1zM823 233l0-1 2 1 0 0zM825 233l0 0 2 0 0 0zM827 233l0 0 2 0 0 0zM829 233l0 0 2 0-1 0zM830 233l1 0 2 0-1 1zM832 234l1-1 1 0 0 1zM834 234l0-1 2 0 0 1zM836 234l0-1 2 0 0 1zM838 234l0-1 2 1 0 0zM840 234l0 0 2 0 0 0zM842 234l0 0 2 0 0 0zM844 234l0 0 2 0 0 0zM823 232l0 0 2 0 0 1zM825 233l0-1 2 0 0 1zM827 233l0-1 2 0 0 1zM829 233l0-1 2 1 0 0zM831 233l0 0 2 0 0 0zM833 233l0 0 2 0-1 0zM834 233l1 0 2 0-1 0zM836 233l1 0 1 0 0 0zM838 233l0 0 2 0 0 1zM840 234l0-1 2 0 0 1zM842 234l0-1 2 0 0 1zM844 234l0-1 2 0 0 1zM846 234l0-1 2 0 0 1zM848 234l0-1 2 0 0 1zM850 234l0-1 2 0 0 1zM852 234l0-1 2 0 0 1zM854 234l0-1 2 0 0 1zM856 234l0-1 2 0 0 1zM858 234l0-1 2 1 0 0zM860 234l0 0 2 0 0 0zM862 234l0 0 2 0 0 0zM864 234l0 0 2 0-1 0zM865 234l1 0 2 0-1 0zM867 234l1 0 2 0-1 0zM869 234l1 0 1 0 0 0zM871 234l0 0 2 0 0 0zM873 234l0 0 2 0 0 0zM875 234l0 0 2 0 0 0zM827 232l0 0 2 0 0 0zM829 232l0 0 2 0 0 1zM831 233l0-1 2 0 0 1zM833 233l0-1 2 0 0 1zM835 233l0-1 2 0 0 1zM837 233l0-1 2 1-1 0zM838 233l1 0 2 0-1 0zM840 233l1 0 2 0-1 0zM842 233l1 0 1 0 0 0zM844 233l0 0 2 0 0 0zM846 233l0 0 2 0 0 0zM848 233l0 0 2 0 0 0zM850 233l0 0 2 0 0 0zM852 233l0 0 2 0 0 0zM854 233l0 0 2 0 0 0zM856 233l0 0 2 0 0 0zM858 233l0 0 2 0 0 1zM860 234l0-1 2 0 0 1zM862 234l0-1 2 0 0 1zM864 234l0-1 2 0 0 1zM866 234l0-1 2 0 0 1zM868 234l0-1 2 0 0 1zM870 234l0-1 2 0-1 1zM871 234l1-1 2 0-1 1zM873 234l1-1 2 0-1 1zM875 234l1-1 2 0-1 1zM877 234l1-1 2 0-1 1zM879 234l1-1 1 0 0 1zM881 234l0-1 2 0 0 1zM835 232l0 0 2 0 0 0zM837 232l0 0 2 0 0 1zM839 233l0-1 2 0 0 1zM841 233l0-1 2 1 0 0zM843 233l0 0 2 0-1 0zM844 233l1 0 2 0-1 0zM846 233l1 0 2 0-1 0zM848 233l1 0 1 0 0 0zM850 233l0 0 2 0 0 0zM852 233l0 0 2 0 0 0zM854 233l0 0 2 0 0 0zM856 233l0 0 2 0 0 0zM858 233l0 0 2 0 0 0zM860 233l0 0 2 0 0 0zM862 233l0 0 2 0 0 0zM864 233l0 0 2 0 0 0zM866 233l0 0 2 0 0 0zM868 233l0 0 2 0 0 0zM870 233l0 0 2 0 0 0zM872 233l0 0 2 0 0 0zM874 233l0 0 2 0 0 0zM876 233l0 0 2 0 0 0zM878 233l0 0 2 0 0 0zM880 233l0 0 2 0-1 0zM881 233l1 0 2 0-1 0zM841 232l0 0 2 0 0 1zM843 233l0-1 2 0 0 1zM845 233l0-1 2 0 0 1zM847 233l0-1 2 0 0 1zM849 233l0-1 2 0-1 1zM850 233l1-1 2 0-1 1zM852 233l1-1 2 0-1 1zM854 233l1-1 2 0-1 1zM856 233l1-1 2 0-1 1zM858 233l1-1 1 0 0 1zM860 233l0-1 2 0 0 1zM862 233l0-1 2 0 0 1zM864 233l0-1 2 1 0 0zM866 233l0 0 2 0 0 0zM868 233l0 0 2 0 0 0zM870 233l0 0 2 0 0 0zM872 233l0 0 2 0 0 0zM874 233l0 0 2 0 0 0zM876 233l0 0 2 0 0 0zM878 233l0 0 2 0 0 0zM880 233l0 0 2 0 0 0zM882 233l0 0 2 0 0 0zM864 232l1 0 2 0-1 1zM866 233l1-1 2 0-1 1zM868 233l1-1 2 0-1 1zM870 233l1-1 2 0-1 1zM872 233l1-1 1 0 0 1zM874 233l0-1 2 0 0 1zM876 233l0-1 2 0 0 1zM878 233l0-1 2 0 0 1zM880 233l0-1 2 0 0 1zM882 233l0-1 2 0 0 1zM735 216l0 14-2 13 0 0zM738 245l0 5-2-23 0-14zM735 227l0-14 2 33 0 5zM731 245l-1 0 2-28 1 14zM869 234l1 0-2 0-1-1zM871 234l1 0-2 0-1 0zM873 234l1 0-2 0-1 0zM875 234l1 0-2 0-1 0zM877 234l1 0-2 0-1 0zM880 234l0 0-2 0-1 0zM882 234l0 0-2 0 0 0zM884 234l0 0-2 0 0 0zM886 234l0 0-2 0 0 0zM888 234l0 0-2 0 0 0zM845 234l0 0-2 0 0 0zM847 234l0 0-2 0 0 0zM849 234l0 0-2 0 0 0zM851 234l0 0-2 0 0 0zM853 234l0 1-2-1 0 0zM855 234l0 1-2 0 0-1zM857 234l0 1-2 0 0-1zM859 234l1 1-3 0 0-1zM861 234l1 1-2 0-1-1zM863 234l1 1-2 0-1-1zM865 234l1 1-2 0-1-1zM868 234l0 1-2 0-1-1zM870 234l0 1-2 0 0-1zM872 234l0 1-2 0 0-1zM874 234l0 1-2 0 0-1zM876 234l0 1-2 0 0-1zM878 234l0 1-2 0 0-1zM880 234l0 1-2 0 0-1zM882 234l0 1-2 0 0-1zM884 234l0 1-2 0 0-1zM886 234l0 1-2 0 0-1zM888 234l0 1-2 0 0-1zM839 234l0 1-2-1 0 0zM841 234l0 1-2 0 0-1zM843 234l0 1-2 0 0-1zM845 234l0 1-2 0 0-1zM847 234l0 1-2 0 0-1zM849 234l0 1-2 0 0-1zM851 234l0 1-2 0 0-1zM853 235l1 0-3 0 0-1zM855 235l1 0-2 0-1 0zM857 235l1 0-2 0-1 0zM860 235l0 0-2 0-1 0zM862 235l0 0-2 0 0 0zM864 235l0 0-2 0 0 0zM866 235l0 0-2 0 0 0zM868 235l0 0-2 0 0 0zM870 235l0 0-2 0 0 0zM872 235l0 0-2 0 0 0zM874 235l0 0-2 0 0 0zM876 235l0 1-2-1 0 0zM878 235l0 1-2 0 0-1zM880 235l0 1-2 0 0-1zM882 235l0 1-2 0 0-1zM884 235l1 1-3 0 0-1zM886 235l1 1-2 0-1-1zM888 235l1 1-2 0-1-1zM831 234l0 1-2 0 0-1zM833 234l0 1-2 0 0-1zM835 234l0 1-2 0 0-1zM837 234l0 1-2 0 0-1zM839 235l0 0-2 0 0-1zM841 235l0 0-2 0 0 0zM843 235l0 1-2-1 0 0zM845 235l0 1-2 0 0-1zM847 235l1 1-3 0 0-1zM849 235l1 1-2 0-1-1zM851 235l1 1-2 0-1-1zM854 235l0 1-2 0-1-1zM856 235l0 1-2 0 0-1zM858 235l0 1-2 0 0-1zM860 235l0 1-2 0 0-1zM862 235l0 1-2 0 0-1zM864 235l0 1-2 0 0-1zM866 235l0 1-2 0 0-1zM868 235l0 1-2 0 0-1zM870 235l0 1-2 0 0-1zM872 235l0 1-2 0 0-1zM874 235l0 1-2 0 0-1zM876 236l1 0-3 0 0-1zM878 236l1 0-2 0-1 0zM880 236l1 0-2 0-1 0zM882 236l1 0-2 0-1 0zM885 236l0 0-2 0-1 0zM887 236l0 0-2 0 0 0zM889 236l0 0-2 0 0 0zM827 234l0 1-2 0 0-1zM829 235l0 0-2 0 0-1zM831 235l0 1-2-1 0 0zM833 235l0 1-2 0 0-1zM835 235l0 1-2 0 0-1zM837 235l0 1-2 0 0-1zM839 235l0 1-2 0 0-1zM841 235l0 1-2 0 0-1zM843 236l1 0-3 0 0-1zM845 236l1 0-2 0-1 0zM848 236l0 0-2 0-1 0zM850 236l0 0-2 0 0 0zM852 236l0 0-2 0 0 0zM854 236l0 0-2 0 0 0zM856 236l0 0-2 0 0 0zM858 236l0 0-2 0 0 0zM860 236l0 1-2-1 0 0zM862 236l0 1-2 0 0-1zM864 236l0 1-2 0 0-1zM866 236l0 1-2 0 0-1zM868 236l1 1-3 0 0-1zM870 236l1 1-2 0-1-1zM872 236l1 1-2 0-1-1zM874 236l1 1-2 0-1-1zM877 236l0 1-2 0-1-1zM879 236l0 1-2 0 0-1zM881 236l0 1-2 0 0-1zM883 236l0 1-2 0 0-1zM823 234l0 1-2 0 0-1zM825 235l0 1-2-1 0-1zM827 235l0 1-2 0 0-1zM829 235l0 1-2 0 0-1zM831 236l0 0-2 0 0-1zM833 236l0 0-2 0 0 0zM835 236l0 1-2-1 0 0zM837 236l0 1-2 0 0-1zM839 236l1 1-3 0 0-1zM841 236l1 1-2 0-1-1zM844 236l0 1-2 0-1-1zM846 236l0 1-2 0 0-1zM848 236l0 1-2 0 0-1zM850 236l0 1-2 0 0-1zM819 235l0 1-2-1 0-1zM821 235l0 1-2 0 0-1zM823 235l0 1-2 0 0-1zM825 236l0 1-2-1 0-1zM827 236l0 1-2 0 0-1zM829 236l0 1-2 0 0-1zM831 236l0 1-2 0 0-1zM833 236l0 1-2 0 0-1zM835 237l1 0-3 0 0-1zM815 235l0 1-2-1-1-1zM817 235l0 1-2 0 0-1zM819 236l0 0-2 0 0-1zM821 236l0 1-2-1 0 0zM823 236l0 1-2 0 0-1zM825 237l0 0-2 0 0-1zM813 235l0 1-3 0 0-1zM815 236l0 1-2-1 0-1zM817 236l0 1-2 0 0-1zM819 236l0 1-2 0 0-1zM821 237l0 0-2 0 0-1z" color="#424086"/><path d="M819 234l0-1 2 0 0 1zM821 234l0-1 2 1 0 0zM823 234l0 0 2 0-1 0zM824 234l1 0 1 0 0 0zM826 234l0 0 2 0 0 0zM828 234l0 0 2 0 0 0zM830 234l0 0 2 0 0 0zM832 234l0 0 2 0 0 0zM834 234l0 0 2 0 0 0zM836 234l0 0 2 0 0 0zM838 234l0 0 2 0 0 0zM840 234l0 0 2 0 0 0zM842 234l0 0 2 0 0 1zM844 235l0-1 2 0-1 1zM845 235l1-1 2 0-1 1zM847 235l1-1 1 0 0 1zM849 235l0-1 2 0 0 1zM851 235l0-1 2 0 0 1zM853 235l0-1 2 1 0 0zM855 235l0 0 2 0 0 0zM857 235l0 0 2 0 0 0zM859 235l0 0 2 0 0 0zM861 235l0 0 2 0 0 0zM863 235l0 0 2 0 0 0zM865 235l0 0 2 0-1 0zM866 235l1 0 2 0-1 0zM868 235l1 0 2 0-1 0zM870 235l1 0 1 0 0 0zM872 235l0 0 2 0 0 0zM874 235l0 0 2 0 0 0zM876 235l0 0 2 0 0 0zM878 235l0 0 2 0 0 0zM880 235l0 0 2 0 0 0zM823 234l0-1 2 0 0 1zM825 234l0-1 2 1-1 0zM826 234l1 0 1 0 0 0zM828 234l0 0 2 0 0 0zM830 234l0 0 2 0 0 0zM832 234l0 0 2 0 0 0zM834 234l0 0 2 0 0 0zM836 234l0 0 2 0 0 0zM838 234l0 0 2 0 0 0zM840 234l0 0 2 0 0 0zM842 234l0 0 2 0 0 0zM844 234l0 0 2 0 0 0zM846 234l0 0 2 0 0 0zM848 234l0 0 2 0-1 0zM849 234l1 0 2 0-1 0zM851 234l1 0 1 0 0 0zM853 234l0 0 2 0 0 1zM855 235l0-1 2 0 0 1zM857 235l0-1 2 0 0 1zM859 235l0-1 2 0 0 1zM861 235l0-1 2 0 0 1zM863 235l0-1 2 0 0 1zM865 235l0-1 2 0 0 1zM867 235l0-1 2 0 0 1zM869 235l0-1 2 1 0 0zM871 235l0 0 2 0-1 0zM872 235l1 0 2 0-1 0zM874 235l1 0 2 0-1 0zM876 235l1 0 1 0 0 0zM878 235l0 0 2 0 0 0zM880 235l0 0 2 0 0 0zM832 234l0 0 2 0 0 0zM834 234l0 0 2 0 0 0zM836 234l0 0 2 0 0 0zM838 234l0 0 2 0 0 0zM840 234l0 0 2 0 0 0zM842 234l0 0 2 0 0 0zM844 234l0 0 2 0 0 0zM846 234l0 0 2 0 0 0zM848 234l0 0 2 0 0 0zM850 234l0 0 2 0 0 0zM852 234l0 0 2 0-1 0zM853 234l1 0 2 0-1 0zM855 234l1 0 1 0 0 0zM857 234l0 0 2 0 0 0zM859 234l0 0 2 0 0 0zM861 234l0 0 2 0 0 0zM863 234l0 0 2 0 0 0zM865 234l0 0 2 0 0 0zM867 234l0 0 2 0 0 0zM869 234l0 0 2 0 0 1zM871 235l0-1 2 0 0 1zM873 235l0-1 2 0 0 1zM875 235l0-1 2 0 0 1zM877 235l0-1 2 0-1 1zM878 235l1-1 2 0-1 1zM880 235l1-1 2 0-1 1zM846 234l0 0 2 0 0 0zM848 234l0 0 2 0 0 0zM850 234l0 0 2 0 0 0zM852 234l0 0 2 0 0 0zM854 234l0 0 2 0 0 0zM856 234l0 0 2 0-1 0zM857 234l1 0 2 0-1 0zM859 234l1 0 2 0-1 0zM861 234l1 0 2 0-1 0zM863 234l1 0 1 0 0 0zM865 234l0 0 2 0 0 0zM867 234l0 0 2 0 0 0zM869 234l0 0 2 0 0 0zM871 234l0 0 2 0 0 0zM873 234l0 0 2 0 0 0zM875 234l0 0 2 0 0 0zM877 234l0 0 2 0 0 0zM879 234l0 0 2 0 0 0zM881 234l0 0 2 0 0 0zM877 234l0 0 2 0 0 0zM879 234l0 0 2 0 0 0zM881 234l0 0 2 0 0 0zM732 223l0-13 2 45 0 1zM733 256l0 1-2-34 0-13zM885 236l0 1-2 0 0-1zM887 236l0 1-2 0 0-1zM889 236l0 1-2 0 0-1zM852 236l0 1-2 0 0-1zM854 236l0 1-2 0 0-1zM856 236l0 1-2 0 0-1zM858 236l0 1-2 0 0-1zM860 237l0 0-2 0 0-1zM862 237l1 0-3 0 0 0zM864 237l1 0-2 0-1 0zM866 237l1 0-2 0-1 0zM869 237l0 0-2 0-1 0zM871 237l0 0-2 0 0 0zM873 237l0 0-2 0 0 0zM875 237l0 0-2 0 0 0zM877 237l0 0-2 0 0 0zM879 237l0 0-2 0 0 0zM881 237l0 0-2 0 0 0zM883 237l0 0-2 0 0 0zM885 237l0 0-2 0 0 0zM887 237l1 0-3 0 0 0zM889 237l1 1-2-1-1 0zM837 237l1 0-2 0-1 0zM840 237l0 0-2 0-1 0zM842 237l0 0-2 0 0 0zM844 237l0 0-2 0 0 0zM846 237l0 0-2 0 0 0zM848 237l0 0-2 0 0 0zM850 237l0 1-2-1 0 0zM852 237l0 1-2 0 0-1zM854 237l0 1-2 0 0-1zM856 237l0 1-2 0 0-1zM858 237l1 1-3 0 0-1zM860 237l1 1-2 0-1-1zM863 237l0 1-2 0-1-1zM865 237l0 1-2 0 0-1zM867 237l0 1-2 0 0-1zM869 237l0 1-2 0 0-1zM871 237l0 1-2 0 0-1zM873 237l0 1-2 0 0-1zM875 237l0 1-2 0 0-1zM877 237l0 1-2 0 0-1zM879 237l1 1-3 0 0-1zM881 237l1 1-2 0-1-1zM883 237l1 1-2 0-1-1zM885 237l1 1-2 0-1-1zM888 237l0 1-2 0-1-1zM890 238l0 0-2 0 0-1zM827 237l0 0-2 0 0 0zM829 237l0 1-2-1 0 0zM831 237l0 1-2 0 0-1zM833 237l1 1-3 0 0-1zM836 237l0 1-2 0-1-1zM838 237l0 1-2 0 0-1zM840 237l0 1-2 0 0-1zM842 237l0 1-2 0 0-1zM844 237l0 1-2 0 0-1zM846 237l0 1-2 0 0-1zM848 237l0 1-2 0 0-1zM850 238l0 0-2 0 0-1zM852 238l0 0-2 0 0 0zM854 238l1 0-3 0 0 0zM856 238l1 0-2 0-1 0zM859 238l0 0-2 0-1 0zM861 238l0 0-2 0 0 0zM863 238l0 0-2 0 0 0zM865 238l0 0-2 0 0 0zM867 238l0 0-2 0 0 0zM869 238l0 0-2 0 0 0zM871 238l0 0-2 0 0 0zM873 238l1 0-3 0 0 0zM875 238l1 0-2 0-1 0zM877 238l1 0-2 0-1 0zM880 238l0 0-2 0-1 0zM882 238l0 0-2 0 0 0zM884 238l0 0-2 0 0 0zM886 238l0 0-2 0 0 0zM888 238l0 1-2-1 0 0zM890 238l0 1-2 0 0-1zM823 237l0 1-2-1 0 0zM825 237l0 1-2 0 0-1zM827 237l0 1-2 0 0-1zM829 238l0 0-2 0 0-1zM831 238l1 0-3 0 0 0zM834 238l0 0-2 0-1 0zM836 238l0 0-2 0 0 0zM838 238l0 0-2 0 0 0zM840 238l0 0-2 0 0 0zM842 238l0 0-2 0 0 0zM844 238l0 0-2 0 0 0zM846 238l0 0-2 0 0 0zM848 238l0 0-2 0 0 0zM850 238l1 0-3 0 0 0zM852 238l1 0-2 0-1 0zM855 238l0 1-2-1-1 0zM857 238l0 1-2 0 0-1zM859 238l0 1-2 0 0-1zM861 238l0 1-2 0 0-1zM863 238l0 1-2 0 0-1zM865 238l0 1-2 0 0-1zM867 238l0 1-2 0 0-1zM869 238l1 1-3 0 0-1zM871 238l1 1-2 0-1-1zM874 238l0 1-2 0-1-1zM876 238l0 1-2 0 0-1zM878 238l0 1-2 0 0-1zM880 238l0 1-2 0 0-1zM882 238l0 1-2 0 0-1zM884 238l0 1-2 0 0-1zM886 238l0 1-2 0 0-1zM888 239l1 0-3 0 0-1zM890 239l1 0-2 0-1 0z" color="#443b84"/><path d="M750 187l0-4 2-4 0 4zM754 185l-1-4 2 1 1 4zM757 184l0-4 2 1 0 5zM763 185l0-5 2 3 0 5zM767 185l0-5 2 3 0 5zM718 184l0-6 2 2 0 6zM720 186l0-6 2 2 0 6zM724 184l-1-7 2 7 1 6zM776 184l0-5 2 2 0 5zM782 184l0-4 2 3 0 4zM727 178l-1-3 2 11 1 3zM784 183l0-3 2 4 0 3zM740 196l0-7 2-18 0 2zM786 182l0-2 2 4 0 1zM741 171l0 1-2 24 0-7zM788 184l0 1-2-4 0-1zM727 186l-1 2-2-11 1-3zM786 184l0 3-3-4 1-3zM783 183l0 4-2-4 0-4zM777 181l0 5-2-3 0-5zM722 183l-1 6-2-6 1-7zM715 179l0 6-2-1 0-7zM717 181l0 7-2-3 0-6zM767 182l0 5-3-2 1-6zM762 182l0 5-2-3 0-5zM756 180l0 5-2-2 0-5zM747 177l0 4-2 5 0-5zM752 181l-1 4-2-2 1-4z" color="#1fa187"/><path d="M752 183l0-4 1 2 1 4zM755 182l0-4 2 2 0 4zM761 183l0-5 2 2 0 5zM765 183l0-5 2 2 0 5zM710 184l0-5 2 0 0 5zM712 184l0-5 2 0 0 5zM714 184l0-5 2 0 0 5zM716 184l0-5 2-1 0 6zM745 192l0-9 2-13 0 5zM769 183l-1-5 2 2 1 6zM772 183l0-5 2 3 0 5zM743 196l0-10 2-20 0 5zM778 181l0-4 2 3 0 5zM780 180l0-4 2 4 0 4zM782 180l0-4 2 4 0 3zM784 180l0-2 2 4 0 2zM786 180l0-1 2 4 0 1zM788 183l0 0-2-4 0 0zM788 183l0 1-2-4 0-1zM786 181l0 3-2-4 0-3zM784 180l-1 3-2-4 0-3zM781 179l0 4-2-3 0-4zM743 165l-1 4-2 27 0-10zM779 180l0 4-2-3 0-5zM773 180l0 5-2-3 0-5zM707 178l0 5-3 0 1-5zM709 178l0 5-2 0 0-5zM711 178l0 5-2 0 0-5zM713 177l0 7-2-1 0-5zM744 168l0 6-2 18 0-10zM769 179l0 6-2-3 0-6zM765 179l-1 6-2-3 1-6zM760 179l0 5-2-2 0-5zM754 178l0 5-2-2 0-5zM750 179l-1 4-2-2 0-4z" color="#21a585"/><path d="M750 183l-1-5 2-3 1 4zM753 181l0-5 2 2 0 4zM748 187l-1-6 2-7 0 4zM759 181l0-5 2 2 0 5zM763 180l0-5 2 3 0 5zM767 180l0-5 1 3 1 5zM722 182l-1-7 2 2 1 7zM770 180l0-5 2 3 0 5zM774 181l0-5 2 3 0 5zM725 178l0-6 2 10 0 4zM776 179l0-5 2 3 0 4zM726 175l0-3 2 12 0 2zM726 172l0-2 2 13 0 1zM784 178l0-2 2 4 0 2zM740 189l0-3 2-15 0 0zM784 176l0-1 2 4 0 1zM740 186l-1 0 2-15 1 0zM741 171l0 0-2 18 0-3zM786 179l0 1-2-4 0-1zM727 183l0 1-2-12 0-2zM786 180l0 1-2-4 0-1zM727 184l0 2-2-12 0-2zM724 181l0 5-2-9 0-6zM777 176l0 5-2-3 0-5zM775 178l0 5-2-3 0-5zM720 176l-1 7-2-2 0-7zM771 177l0 5-2-3 0-5zM767 176l0 6-2-3 0-6zM763 176l-1 6-2-3 0-5zM746 172l0 5-3 9 1-7zM758 177l0 5-2-2 0-5zM748 173l-1 4-2 4 1-4zM752 176l0 5-2-2 0-5z" color="#23a983"/><path d="M752 179l-1-4 2 1 0 5zM755 178l0-5 2 1 0 6zM757 180l0-6 2 2 0 5zM761 178l0-5 2 2 0 5zM765 178l0-6 2 3 0 5zM710 179l0-4 2-1 0 5zM712 179l0-5 2 0 0 5zM714 179l0-5 2-1 0 6zM718 178l0-6 1 1 1 7zM720 180l-1-7 2 2 1 7zM768 178l0-6 2 3 0 5zM723 177l0-6 2 7 0 6zM772 178l0-5 2 3 0 5zM778 177l0-4 2 3 0 4zM780 176l0-3 2 3 0 4zM782 176l0-2 2 4 0 2zM728 183l0-1-2-13 0 1zM728 182l-1 0-2-13 1 0zM786 179l0 0-2-4 0 0zM727 182l0 1-2-13 0-1zM784 177l0 3-3-4 1-3zM781 176l0 3-2-3 0-4zM779 176l0 4-2-4 0-4zM722 177l0 6-2-7 0-6zM773 175l0 5-2-3 0-6zM707 173l0 5-2 0 0-4zM709 172l0 6-2 0 0-5zM711 171l0 7-2 0 0-6zM715 172l0 7-2-2 0-6zM717 174l0 7-2-2 0-7zM769 174l0 5-2-3 0-5zM765 173l0 6-2-3 0-6zM760 174l0 5-2-2 0-6zM754 173l0 5-2-2 0-5zM756 175l0 5-2-2 0-5zM750 174l0 5-3-2 1-4z" color="#26ad81"/><path d="M749 178l0-4 2-4 0 5zM753 176l0-5 2 2 0 5zM747 181l0-6 2-6 0 5zM759 176l0-5 2 2 0 5zM716 179l0-6 2-1 0 6zM745 183l0-7 2-11 0 5zM770 175l0-6 2 4 0 5zM774 176l0-5 2 3 0 5zM725 172l0-5 2 11 0 4zM743 186l-1-6 2-17 1 3zM782 174l0-2 2 4 0 2zM782 172l0-1 2 4 0 1zM784 175l0 1-2-4 0-1zM784 176l0 1-2-4 0-1zM724 177l0 4-2-10 0-5zM743 162l0 3-3 21 1-7zM775 173l0 5-2-3 0-5zM771 171l0 6-2-3 0-6zM713 171l0 6-2 1 0-7zM744 163l0 5-2 14 0-7zM746 167l0 5-2 7 0-5zM758 171l0 6-2-2 0-6zM748 168l0 5-2 4 0-5zM752 171l0 5-2-2 0-5z" color="#2ab07f"/><path d="M751 175l0-5 2 1 0 5zM757 174l0-5 2 2 0 5zM763 175l0-6 2 3 0 6zM767 175l-1-6 2 3 0 6zM710 175l-1-4 2-2 1 5zM721 175l0-6 2 2 0 6zM723 171l0-6 2 7 0 6zM772 173l0-6 2 4 0 5zM776 174l0-5 2 4 0 4zM778 173l0-4 2 4 0 3zM780 173l0-3 2 4 0 2zM784 175l0 0-2-4 0 0zM782 173l-1 3-2-4 1-3zM779 172l0 4-2-4 0-4zM777 172l0 4-2-3 0-5zM722 171l0 6-2-7 0-7zM773 170l0 5-2-4 0-5zM707 168l0 5-2 1 0-5zM720 170l0 6-3-2 1-6zM767 171l0 5-2-3 0-5zM763 170l0 6-3-2 1-6zM756 169l0 6-2-2 0-6zM750 169l0 5-2-1 0-5z" color="#2fb47c"/><path d="M749 174l0-5 2-5 0 6zM751 170l0-6 2 2 0 5zM753 171l0-5 2 1 0 6zM747 175l0-5 2-6 0 5zM759 171l0-6 2 2 0 6zM763 169l0-6 1 3 1 6zM745 176l0-5 2-11 0 5zM766 169l0-6 2 3 0 6zM709 171l0-5 2-1 0 4zM770 169l0-5 2 3 0 6zM724 163l0-4 2 13 0 3zM778 166l0-2 2 4 0 2zM780 168l0 1-2-4 0-2zM725 172l0 2-2-12 0-4zM708 163l-1 5-2 1 1-4zM771 166l0 5-2-3 0-5zM744 159l0 4-2 12 0-6zM767 165l0 6-2-3 0-6zM763 165l0 5-2-2 0-6zM746 162l0 5-2 7 0-6zM758 165l0 6-2-2 0-6zM748 162l0 6-2 4 0-5zM750 164l0 5-2-1 0-6zM752 165l0 6-2-2 0-5z" color="#3bbb75"/><path d="M755 173l0-6 2 2 0 5zM761 173l0-6 2 2 0 6zM765 172l-1-6 2 3 1 6zM712 174l-1-5 2-1 1 6zM714 174l-1-6 2-1 1 6zM716 173l-1-6 2-1 1 6zM718 172l-1-6 2 1 0 6zM719 173l0-6 2 2 0 6zM768 172l0-6 2 3 0 6zM774 171l0-5 2 3 0 5zM725 167l-1-4 2 12 1 3zM742 180l0-5 2-15 0 3zM776 169l0-3 2 3 0 4zM778 169l0-3 2 4 0 3zM780 170l0-2 2 4 0 2zM780 168l0-1 2 4 0 1zM782 171l0 0-2-4 0 0zM782 171l0 1-2-4 0-1zM782 172l0 1-2-4 0-1zM780 169l-1 3-2-4 1-3zM725 174l-1 3-2-11 1-4zM743 159l0 3-2 17 0-4zM777 168l0 4-2-4 0-3zM775 168l0 5-2-3 0-5zM710 167l-1 5-2 1 0-5zM712 166l-1 5-2 1 1-5zM714 164l-1 7-2 0 1-5zM716 166l-1 6-2-1 1-7zM718 168l-1 6-2-2 1-6zM769 168l0 6-2-3 0-6zM765 168l0 5-2-3 0-5zM761 168l-1 6-2-3 0-6zM754 167l0 6-2-2 0-6z" color="#35b779"/><path d="M749 169l0-5 2-5 0 5zM753 166l0-6 2 1 0 6zM755 167l0-6 2 2 0 6zM747 170l0-5 2-6 0 5zM761 167l0-6 2 2 0 6zM764 166l0-6 2 3 0 6zM713 168l0-5 2-2 0 6zM715 167l0-6 2-1 0 6zM717 166l0-6 2 1 0 6zM719 167l0-6 2 2 0 6zM745 171l0-5 2-10 0 4zM709 166l0-4 2-2 0 5zM770 164l0-5 2 4 0 4zM724 159l0-3 2 14 0 2zM742 173l0-2 2-15 0 1zM776 162l0-2 2 4 0 2zM726 170l0-1-2-14 0 1zM742 171l0 0 2-16 0 1zM742 171l-1 0 2-16 1 0zM725 169l0 1-2-14 0-1zM741 171l0 0 2-16 0 0zM725 170l0 2-2-14 0-2zM741 171l0 1 2-15 0-2zM778 163l0 2-3-3 1-2zM708 159l0 4-2 2 0-4zM771 162l0 4-2-3 0-5zM712 160l0 6-2 1 0-5zM714 158l0 6-2 2 0-6zM716 159l0 7-2-2 0-6zM718 161l0 7-2-2 0-7zM745 154l-1 5-2 10 1-4zM765 162l0 6-2-3 0-6zM746 157l0 5-2 6 0-5zM761 162l0 6-3-3 1-6zM748 156l0 6-2 5 0-5zM752 159l0 6-2-1 0-6zM754 161l0 6-2-2 0-6z" color="#4ac16d"/><path d="M751 164l0-5 2 1 0 6zM759 165l0-6 2 2 0 6zM763 163l-1-6 2 3 0 6zM766 163l0-5 2 3 0 5zM711 165l0-5 2-2 0 5zM721 163l0-6 2 2 0 6zM723 159l-1-5 2 9 1 4zM772 163l0-4 2 3 0 4zM774 162l0-3 2 3 0 4zM776 160l0-1 2 4 0 1zM726 169l-1 0-2-14 1 0zM778 163l0 0-2-4 0 0zM778 163l0 0-2-3 0-1zM775 162l0 3-2-4 0-3zM723 162l-1 4-2-8 1-5zM773 161l0 4-2-3 0-4zM710 157l0 5-2 1 0-4zM720 158l0 5-2-2 0-5zM767 160l0 5-2-3 0-6zM763 159l0 6-2-3 0-6zM759 159l-1 6-2-2 1-6zM750 158l0 6-2-2 0-6z" color="#52c569"/><path d="M757 169l0-6 2 2 0 6zM711 169l0-4 2-2 0 5zM721 169l0-6 2 2 0 6zM768 166l0-5 2 3 0 5zM723 165l0-6 2 8 0 5zM772 167l0-4 2 3 0 5zM774 166l0-4 2 4 0 3zM742 175l0-2 2-16 0 3zM776 166l0-4 2 4 0 3zM778 164l0-1 2 4 0 1zM780 167l0 0-2-4 0 0zM780 167l0 1-2-5 0 0zM743 157l0 2-2 16 0-3zM778 165l-1 3-2-3 0-3zM775 165l0 3-2-3 0-4zM722 166l0 5-2-8 0-5zM773 165l0 5-2-4 0-4zM710 162l0 5-3 1 1-5zM720 163l0 7-2-2 0-7zM769 163l0 5-2-3 0-5zM756 163l0 6-2-2 0-6z" color="#42be71"/><path d="M749 164l0-5 2-6 0 6zM753 160l0-6 2 1 0 6zM759 159l-1-6 2 2 1 6zM715 161l0-5 2-2 0 6zM717 160l0-6 2 1 0 6zM766 158l0-5 2 3 0 5zM711 160l0-4 1-2 1 4zM709 159l-1-3 2-3 1 3zM722 154l0-4 2 9 0 4zM774 157l0-2 2 4 0 1zM774 155l0 0 2 4 0 0zM776 159l0 1-2-4 0-1zM709 153l-1 3-2 2 1-3zM723 158l0 4-2-9 0-4zM710 153l0 4-2 2 0-3zM714 153l0 5-2 2 0-5zM716 154l0 5-2-1 0-5zM767 155l0 5-2-4 0-5zM759 153l0 6-2-2 0-6zM748 151l0 5-2 6 0-5zM752 153l0 6-2-1 0-6z" color="#65cb5e"/><path d="M751 159l0-6 2 1 0 6zM757 157l0-6 1 2 1 6zM762 157l0-5 2 3 0 5zM713 158l-1-4 2-2 1 4zM721 157l-1-5 2 2 1 5zM744 163l0-3 2-12 0 4zM768 156l0-4 2 3 0 4zM770 155l0-3 2 3 0 4zM772 155l0-2 2 4 0 2zM772 153l0-1 2 3 0 2zM774 155l0 1-2-3 0-1zM774 156l-1 2-2-3 1-2zM771 155l0 3-2-4 0-3zM712 150l0 5-2 2 0-4zM721 153l-1 5-2-2 1-5zM745 147l0 3-2 12 0-3zM769 154l0 4-2-3 0-4zM763 153l0 6-2-3 0-6zM757 151l0 6-2-2 0-7zM750 152l0 6-2-2 0-5z" color="#6ece58"/><path d="M755 161l0-6 2 2 0 6zM757 163l0-6 2 2 0 6zM747 165l0-5 2-7 0 6zM761 161l-1-6 2 2 1 6zM764 160l0-5 2 3 0 5zM713 163l0-5 2-2 0 5zM719 161l0-6 2 2 0 6zM745 166l-1-3 2-11 1 4zM768 161l0-5 2 3 0 5zM709 162l0-3 2-3 0 4zM770 159l0-4 2 4 0 4zM772 159l0-4 2 4 0 3zM774 159l0-2 2 3 0 2zM776 160l-1 2-2-4 1-2zM773 158l0 3-2-3 0-3zM708 156l0 3-2 2 0-3zM771 158l0 4-2-4 0-4zM712 155l0 5-2 2 0-5zM718 156l0 5-2-2 0-5zM745 150l0 4-2 11 0-3zM769 158l0 5-2-3 0-5zM765 156l0 6-2-3 0-6zM746 151l0 6-2 6 0-4zM761 156l0 6-2-3 0-6zM755 155l-1 6-2-2 0-6zM757 157l-1 6-2-2 1-6z" color="#5ac864"/><path d="M749 159l0-6 2-6 0 6zM755 155l0-6 2 2 0 6zM747 160l0-4 1-8 1 5zM760 155l0-6 2 3 0 5zM764 155l0-5 2 3 0 5zM715 156l-1-4 2-3 1 5zM719 155l-1-5 2 2 1 5zM766 153l0-5 2 4 0 4zM711 156l-1-3 2-2 0 3zM744 160l0-3 2-12 0 3zM708 156l0-2 2-3 0 2zM722 150l0-3 2 9 0 3zM770 152l0-3 2 4 0 2zM708 154l0-1 2-3 0 1zM708 153l-1 0 2-3 1 0zM772 152l0 0 2 3 0 0zM709 150l0 1-2 3 0-1zM709 151l0 2-2 2 0-1zM723 156l0 2-2-9 0-3zM772 153l-1 2-2-4 1-2zM711 150l-1 3-2 3 1-3zM745 144l0 3-2 12 0-2zM714 148l0 5-2 2 0-5zM719 151l-1 5-2-2 1-5zM767 151l0 4-2-4 0-4zM765 151l0 5-2-3 0-5zM747 146l-1 5-2 8 1-5zM761 150l0 6-2-3 0-6zM749 145l-1 6-2 6 0-6zM755 148l0 7-3-2 1-6z" color="#77d153"/><path d="M751 153l0-6 2 1 0 6zM753 154l0-6 2 1 0 6zM758 153l0-6 2 2 0 6zM762 152l0-6 2 4 0 5zM717 154l-1-5 2 1 1 5zM712 154l0-3 2-3 0 4zM720 152l0-4 2 2 0 4zM768 152l0-4 2 4 0 3zM710 153l0-2 2-3 0 3zM744 157l0-1 2-13 0 2zM722 147l0-2 2 10 0 1zM770 149l0-1 2 4 0 1zM724 155l-1 0-2-10 1 0zM770 148l0 0 2 4 0 0zM723 155l0 1-2-10 0-1zM772 152l0 1-2-4 0-1zM711 148l0 2-2 3 0-2zM745 142l0 2-2 13 0-2zM713 147l-1 3-2 3 1-3zM721 149l0 4-2-2 0-4zM769 151l0 3-2-3 0-3zM717 149l-1 5-2-1 0-5zM763 148l0 5-2-3 0-5zM759 147l0 6-2-2 0-6zM751 146l-1 6-2-1 1-6zM753 147l-1 6-2-1 1-6z" color="#81d34d"/><path d="M749 153l-1-5 2-7 1 6zM755 149l-1-6 2 2 1 6zM760 149l0-5 2 2 0 6zM716 149l0-4 2 1 0 4zM720 148l0-3 2 2 0 3zM712 148l0-1 2-3 0 1zM768 146l0-1 2 3 0 1zM712 147l-1 0 2-3 1 0zM768 145l0-1 2 4 0 0zM713 144l0 1-2 3 0-1zM770 148l0 1-3-4 1-1zM721 146l0 3-2-2 0-3zM717 145l0 4-3-1 1-4zM761 145l0 5-2-3 0-5zM749 139l0 6-3 6 1-5zM755 143l0 5-2-1 0-6z" color="#95d840"/><path d="M751 147l-1-6 2 1 1 6zM753 148l-1-6 2 1 1 6zM758 147l0-5 2 2 0 5zM746 152l0-4 2-9 0 4zM762 146l0-4 2 3 0 5zM764 145l0-4 2 4 0 3zM714 148l0-3 2-3 0 3zM716 145l0-3 2 1 0 3zM718 146l0-3 2 2 0 3zM766 145l0-3 2 4 0 2zM718 143l0-2 2 2 0 2zM720 145l0-2 2 2 0 2zM766 142l0-1 2 4 0 1zM722 145l-1 0-2-2 1 0zM719 143l0 1-2-2 0-1zM721 145l0 1-2-2 0-1zM768 144l-1 1-2-3 1-1zM715 142l0 2-2 3 0-2zM717 142l0 3-2-1 0-2zM719 144l0 3-2-2 0-3zM767 145l0 3-2-4 0-2zM765 144l0 3-2-3 0-4zM747 138l0 4-2 8 0-3zM763 144l0 4-2-3 0-5zM759 142l0 5-2-2 0-5zM751 140l0 6-2-1 0-6zM753 141l0 6-2-1 0-6z" color="#a0da39"/><path d="M757 151l-1-6 2 2 0 6zM747 156l-1-4 2-9 0 5zM764 150l0-5 2 3 0 5zM714 152l0-4 2-3 0 4zM718 150l0-4 2 2 0 4zM766 148l0-3 2 3 0 4zM712 151l0-3 2-3 0 3zM768 148l0-2 2 3 0 3zM710 151l0-1 2-3 0 1zM744 156l0-1 2-13 0 1zM710 150l-1 0 2-3 1 0zM744 155l-1 0 2-13 1 0zM711 147l0 1-2 3 0-1zM743 155l0 0 2-13 0 0zM713 145l0 2-2 3 0-2zM770 149l-1 2-2-3 0-3zM715 144l-1 4-2 2 1-3zM719 147l0 4-2-2 0-4zM767 148l0 3-2-4 0-3zM765 147l0 4-2-3 0-4zM747 142l0 4-2 8 0-4zM757 145l0 6-2-3 0-5z" color="#8bd646"/><path d="M748 148l0-5 2-7 0 5zM756 145l0-6 2 3 0 5zM760 144l0-5 2 3 0 4zM746 148l0-3 2-9 0 3zM762 142l0-4 2 3 0 4zM764 141l0-2 2 3 0 3zM714 145l0-1 2-3 0 1zM716 142l0-1 2 0 0 2zM714 144l-1 0 2-3 1 0zM716 141l-1 0 2 0 1 0zM720 143l-1 0-2-2 1 0zM766 141l0 0 2 3 0 1zM715 141l0 1-2 3 0-1zM717 141l0 1-2 0 0-1zM765 142l0 2-2-4 0-2zM747 135l0 3-2 9 0-3zM763 140l0 4-2-4 0-3zM761 140l0 5-2-3 0-4zM749 134l0 5-2 7 0-4zM757 140l0 5-2-2 0-6z" color="#aadc32"/><path d="M750 141l0-5 2 1 0 5zM748 143l0-4 2-7 0 4zM756 139l0-5 2 3 0 5zM760 139l0-3 2 2 0 4zM762 138l0-3 2 4 0 2zM746 143l0-1 2-10 0 2zM746 142l-1 0 2-10 1 0zM747 132l0 1-2 9 0 0zM763 138l0 2-2-3 0-2zM761 137l0 3-2-2 0-4zM749 130l0 4-2 8 0-4zM757 135l0 5-2-3 0-4zM751 135l0 5-2-1 0-5z" color="#c0df25"/><path d="M752 142l0-5 2 1 0 5zM754 143l0-5 2 1 0 6zM758 142l0-5 2 2 0 5zM746 145l0-2 2-9 0 2zM764 139l0-2 2 4 0 1zM764 137l0 0 2 4 0 0zM766 141l-1 1-2-4 1-1zM747 133l0 2-2 9 0-2zM759 138l0 4-2-2 0-5zM753 136l0 5-2-1 0-5zM755 137l0 6-2-2 0-5z" color="#b5de2b"/><path d="M735 230l-1 15-2-9 1 7zM736 260l-1 0 2-45 1 0zM731 236l0 9 2-14 0 15z" color="#453781"/><path d="M750 136l0-4 2 0 0 5zM752 137l0-5 2 1 0 5zM748 139l0-3 2-8 0 4zM756 134l0-3 2 2 0 4zM758 133l0-3 2 3 0 3zM760 133l0-2 2 3 0 1zM760 131l0 0 2 3 0 0zM762 134l-1 1-2-3 1-1zM759 132l0 2-2-2 0-2zM749 127l0 3-2 8 0-3zM757 132l0 3-2-2 0-4zM751 131l0 4-2-1 0-4zM753 131l0 5-2-1 0-4z" color="#d5e21a"/><path d="M754 138l0-5 2 1 0 5zM758 137l0-4 2 3 0 3zM760 136l0-3 2 2 0 3zM762 135l0-1 2 3 0 2zM762 134l0 0 2 3 0 0zM764 137l-1 1-2-3 1-1zM761 135l0 2-2-3 0-2zM759 134l0 4-2-3 0-3zM755 133l0 4-2-1 0-5z" color="#cae11f"/><path d="M734 245l0 11-2-33 0 13zM738 250l0-6-2-1 0-16zM736 257l0 3 2-45 0 16zM737 215l0 16-2 26 0 3zM733 257l0-11-2-10 0-13zM735 244l0-17 2 24 0-6z" color="#46327e"/><path d="M736 227l0 16-2 13 0-11zM733 257l0-11 2-19 0 17z" color="#472d7b"/><path d="M750 132l0-4 2 1 0 3zM754 129l0-3 2 2 0 3zM756 131l0-3 2 2 0 3zM748 134l0-2 2-8 0 1zM756 128l0-2 2 3 0 1zM748 132l-1 0 3-8 0 0zM758 129l0 0 2 2 0 0zM750 124l-1 1-2 8 0-1zM758 129l-1 1-2-3 1-1zM755 127l0 2-2-1 0-2zM757 130l0 2-2-3 0-2zM751 127l0 4-2-1 0-3z" color="#eae51a"/><path d="M752 132l0-3 2 0 0 4zM754 133l0-4 2 2 0 3zM748 136l0-2 2-9 0 3zM758 130l0-1 2 2 0 2zM760 131l-1 1-2-2 1-1zM749 125l0 2-2 8 0-2zM753 128l0 3-2 0 0-4zM755 129l0 4-2-2 0-3z" color="#dfe318"/><path d="M736 243l0 14-2-2 0 1zM734 255l0-11 2 16 0-3zM736 260l-1 0-2-16 1 0zM735 260l0-3-2-1 0-12zM733 256l0 1 2-13 0 13z" color="#471365"/><path d="M736 243l0 14 2-26 0 13zM735 257l0-13 2 1 0-14z" color="#482878"/><path d="M750 128l0-3 2 1 0 3zM752 129l0-3 2 0 0 3zM754 126l0-1 2 1 0 2zM756 126l0 0 2 3 0 0zM756 126l-1 1-2-1 1-1zM751 125l0 2-2 0 0-2zM753 126l0 2-2-1 0-2z" color="#f4e61e"/><path d="M750 125l0-1 2 0 0 2zM752 126l0-2 2 1 0 1zM750 124l0 0 2 0 0 0zM752 124l0 0 2 1 0 0zM754 125l0 0 2 1 0 0zM752 124l-1 1-2 0 1-1zM754 125l-1 1-2-1 1-1z" color="#fde725"/></g><g id="Path3DCollection_5"><g clip-path="url(#pd40494ff04)"><circle cx="361.5" cy="135.4" r="2.2" style="fill: #ff0000"/></g></g><g id="Path3DCollection_6"><g clip-path="url(#pd40494ff04)"><circle cx="363.8" cy="135.4" r="2.4" style="fill: #ff0000"/></g></g><g id="Path3DCollection_7"><g clip-path="url(#pd40494ff04)"><circle cx="365.8" cy="135.4" r="2.7" style="fill: #ff0000"/></g></g><g id="Path3DCollection_8"><g clip-path="url(#pd40494ff04)"><circle cx="367.7" cy="135.4" r="2.9" style="fill: #ff0000"/></g></g><g id="text_33"><text style="font-size: 12px; font-family: 'DejaVu Sans'; text-anchor: start" x="318.1" y="29.8" transform="rotate(-0 318.1 29.8)">(b)</text></g></g><g id="patch_10"><path d="M 501.6 164.8 L 657.9 164.8 L 657.9 35.8 L 501.6 35.8 z" style="fill: #ffffff"/></g><g id="pane3d_7"><g id="patch_11"><path d="M 537.8 134.9 L 625.9 134.9 L 631.1 139.2 L 532.7 139.2" style="fill: #f2f2f2; opacity: 0.5; stroke: #f2f2f2; stroke-linejoin: miter"/></g></g><g id="pane3d_8"><g id="patch_12"><path d="M 625.9 62.2 L 625.9 134.9 L 631.1 139.2 L 631.1 58" style="fill: #e6e6e6; opacity: 0.5; stroke: #e6e6e6; stroke-linejoin: miter"/></g></g><g id="pane3d_9"><g id="patch_13"><path d="M 537.8 62.2 L 537.8 134.9 L 625.9 134.9 L 625.9 62.2" style="fill: #ececec; opacity: 0.5; stroke: #ececec; stroke-linejoin: miter"/></g></g><g id="grid3d_7"><g id="Line3DCollection_6"><path d="M 537.8 65.5 L 625.9 65.5 L 631.1 61.7" style="fill: none; stroke: #b0b0b0; stroke-width: 0.8"/><path d="M 537.8 82 L 625.9 82 L 631.1 80.1" style="fill: none; stroke: #b0b0b0; stroke-width: 0.8"/><path d="M 537.8 98.6 L 625.9 98.6 L 631.1 98.6" style="fill: none; stroke: #b0b0b0; stroke-width: 0.8"/><path d="M 537.8 115.1 L 625.9 115.1 L 631.1 117" style="fill: none; stroke: #b0b0b0; stroke-width: 0.8"/></g></g><g id="grid3d_8"><g id="Line3DCollection_7"><path d="M 536.7 139.2 L 541.4 134.9 L 541.4 62.2" style="fill: none; stroke: #b0b0b0; stroke-width: 0.8"/><path d="M 557.2 139.2 L 559.8 134.9 L 559.8 62.2" style="fill: none; stroke: #b0b0b0; stroke-width: 0.8"/><path d="M 577.8 139.2 L 578.2 134.9 L 578.2 62.2" style="fill: none; stroke: #b0b0b0; stroke-width: 0.8"/><path d="M 598.3 139.2 L 596.6 134.9 L 596.6 62.2" style="fill: none; stroke: #b0b0b0; stroke-width: 0.8"/><path d="M 618.8 139.2 L 615 134.9 L 615 62.2" style="fill: none; stroke: #b0b0b0; stroke-width: 0.8"/></g></g><g id="grid3d_9"/><g id="axis3d_7"><g id="line2d_33"><path d="M 537.8 134.9 L 537.8 62.2" style="fill: none; stroke: #000000; stroke-width: 0.8; stroke-linecap: square"/></g><g id="xtick_27"><g id="line2d_34"><path d="M 538.5 65.5 L 536.4 65.5" style="fill: none; stroke: #000000; stroke-width: 0.8; stroke-linecap: square"/></g><g id="text_34" transform="translate(-3.8 -0.6)"><text style="font-size: 10px; font-family: 'DejaVu Sans'; text-anchor: middle" x="525.1" y="73.6" transform="rotate(-0 525.1 73.6)">-2.0</text></g></g><g id="xtick_28"><g id="line2d_35"><path d="M 538.5 82 L 536.4 82" style="fill: none; stroke: #000000; stroke-width: 0.8; stroke-linecap: square"/></g><g id="text_35" transform="translate(-3.8 -0.6)"><text style="font-size: 10px; font-family: 'DejaVu Sans'; text-anchor: middle" x="525.1" y="89.9" transform="rotate(-0 525.1 89.9)">-1.0</text></g></g><g id="xtick_29"><g id="line2d_36"><path d="M 538.5 98.6 L 536.4 98.6" style="fill: none; stroke: #000000; stroke-width: 0.8; stroke-linecap: square"/></g><g id="text_36" transform="translate(-3.8 -0.6)"><text style="font-size: 10px; font-family: 'DejaVu Sans'; text-anchor: middle" x="525.1" y="106.2" transform="rotate(-0 525.1 106.2)">0.0</text></g></g><g id="xtick_30"><g id="line2d_37"><path d="M 538.5 115.1 L 536.4 115.1" style="fill: none; stroke: #000000; stroke-width: 0.8; stroke-linecap: square"/></g><g id="text_37" transform="translate(-3.8 -0.6)"><text style="font-size: 10px; font-family: 'DejaVu Sans'; text-anchor: middle" x="525.1" y="122.4" transform="rotate(-0 525.1 122.4)">1.0</text></g></g><g id="text_38" transform="translate(-11 -3.4)"><text style="font-size: 10px; font-family: 'DejaVu Sans'; text-anchor: middle" x="513.9" y="98.6" transform="rotate(-90 513.9 98.6)">X (Å)</text></g></g><g id="axis3d_8"><g id="line2d_38"><path d="M 631.1 139.2 L 532.7 139.2" style="fill: none; stroke: #000000; stroke-width: 0.8; stroke-linecap: square"/></g><g id="xtick_31"><g id="line2d_39"><path d="M 536.7 139.1 L 536.6 139.2" style="fill: none; stroke: #000000; stroke-width: 0.8; stroke-linecap: square"/></g><g id="text_39" transform="translate(0.1 -13)"><text style="font-size: 10px; font-family: 'DejaVu Sans'" transform="translate(528.1 167.6) rotate(-24)">-2.0</text></g></g><g id="xtick_32"><g id="line2d_40"><path d="M 557.2 139.1 L 557.2 139.2" style="fill: none; stroke: #000000; stroke-width: 0.8; stroke-linecap: square"/></g><g id="text_40" transform="translate(0.1 -13)"><text style="font-size: 10px; font-family: 'DejaVu Sans'" transform="translate(550.6 166.1) rotate(-24)">3.0</text></g></g><g id="xtick_33"><g id="line2d_41"><path d="M 577.8 139.1 L 577.7 139.2" style="fill: none; stroke: #000000; stroke-width: 0.8; stroke-linecap: square"/></g><g id="text_41" transform="translate(0.1 -13)"><text style="font-size: 10px; font-family: 'DejaVu Sans'" transform="translate(571.5 166.1) rotate(-24)">8.0</text></g></g><g id="xtick_34"><g id="line2d_42"><path d="M 598.3 139.1 L 598.3 139.2" style="fill: none; stroke: #000000; stroke-width: 0.8; stroke-linecap: square"/></g><g id="text_42" transform="translate(0.1 -13)"><text style="font-size: 10px; font-family: 'DejaVu Sans'" transform="translate(589.5 168.7) rotate(-24)">13.0</text></g></g><g id="xtick_35"><g id="line2d_43"><path d="M 618.8 139.1 L 618.9 139.2" style="fill: none; stroke: #000000; stroke-width: 0.8; stroke-linecap: square"/></g><g id="text_43" transform="translate(0.1 -13)"><text style="font-size: 10px; font-family: 'DejaVu Sans'" transform="translate(610.5 168.7) rotate(-24)">18.0</text></g></g><g id="text_44" transform="translate(0.2 -1.4)"><text style="font-size: 10px; font-family: 'DejaVu Sans'; text-anchor: middle" x="581.9" y="172.5" transform="rotate(-0 581.9 172.5)">Y (Å)</text></g></g><g id="axis3d_9"><g id="line2d_44"><path d="M 625.9 62.2 L 631.1 58" style="fill: none; stroke: #000000; stroke-width: 0.8; stroke-linecap: square"/></g></g><g id="axes_3"><g id="Path3DCollection_9"><g clip-path="url(#p53922de5e3)"><circle cx="546.8" cy="98.6" r="2.2" style="fill: #ff0000"/></g></g><g id="Path3DCollection_10"><g clip-path="url(#p53922de5e3)"><circle cx="549.1" cy="98.6" r="2.4" style="fill: #ff0000"/></g></g><g id="Path3DCollection_11"><g clip-path="url(#p53922de5e3)"><circle cx="550.9" cy="98.6" r="2.7" style="fill: #ff0000"/></g></g><g id="Path3DCollection_12"><g clip-path="url(#p53922de5e3)"><circle cx="552.7" cy="98.6" r="2.9" style="fill: #ff0000"/></g></g><g id="surf_0_2" transform="scale(0.5)" fill="currentColor" stroke="currentColor" stroke-width="2.0"><path d="M1105 184l1 6-3 0 0-6zM1106 204l-1 7-2 0 0-7z" color="#471365"/><path d="M1106 190l-1 7-3 0 1-7zM1105 197l1 7-3 0-1-7z" color="#481d6f"/><path d="M1104 177l1 7-2 0-1-7zM1105 211l-1 7-2-1 1-6z" color="#453781"/><path d="M1251 129l0 7-3 0 0-7zM1251 258l0 7-3 0 0-7zM1248 129l0 7-2 0-1-7zM1248 258l0 7-3 0 1-7zM1245 129l1 7-3 0 0-7zM1246 258l-1 7-2 0 0-7zM1243 129l0 7-3 0 0-7zM1243 258l0 7-3 0 0-7zM1240 129l0 7-2 0 0-7zM1240 258l0 7-2 0 0-7zM1238 129l0 7-3 0 0-7zM1238 258l0 7-3 0 0-7zM1235 129l0 7-2 0 0-7zM1235 258l0 7-2 0 0-7zM1233 258l0 7-3 0 0-7zM1233 129l0 7-3 0 0-7zM1230 129l0 7-2 0 0-7zM1230 258l0 7-2 0 0-7zM1228 129l0 7-3 0 0-7zM1228 258l0 7-3 0 0-7zM1225 129l0 7-2 0 0-7zM1225 258l0 7-2 0 0-7zM1223 129l0 7-3 0 0-7zM1223 258l0 7-3 0 0-7zM1220 129l0 7-2 0 0-7zM1220 258l0 7-2 0 0-7zM1218 258l0 7-3 0 0-7zM1218 129l0 7-3 0 0-7zM1215 129l0 7-2 0 0-7zM1215 258l0 7-2 0 0-7zM1251 136l0 7-3 0 0-7zM1251 251l0 7-3 0 0-7zM1213 258l0 7-3 0 0-7zM1213 129l0 7-3 0 0-7zM1248 136l0 7-2 0 0-7zM1248 251l0 7-2 0 0-7zM1210 129l0 7-2 0 0-7zM1210 258l0 7-2 0 0-7zM1246 136l0 7-3 0 0-7zM1246 251l0 7-3 0 0-7zM1243 136l0 7-2 0-1-7zM1243 251l0 7-3 0 1-7zM1208 129l0 7-3 0 0-7zM1208 258l0 7-3 0 0-7zM1240 136l1 7-3 0 0-7zM1241 251l-1 7-2 0 0-7zM1205 129l0 7-2 0 0-7zM1205 258l0 7-2 0 0-7zM1238 136l0 7-3 0 0-7zM1238 251l0 7-3 0 0-7zM1203 129l0 7-3 0 0-7zM1203 258l0 7-3 0 0-7zM1235 136l0 7-2 0 0-7zM1235 251l0 7-2 0 0-7zM1233 136l0 7-3 0 0-7zM1233 251l0 7-3 0 0-7zM1200 129l0 7-2 0 0-7zM1200 258l0 7-2 0 0-7zM1230 136l0 7-2 0 0-7zM1230 251l0 7-2 0 0-7zM1198 129l0 7-3 0 0-7zM1198 258l0 7-3 0 0-7zM1228 136l0 7-3 0 0-7zM1228 251l0 7-3 0 0-7zM1225 251l0 7-2 0 0-7zM1225 136l0 7-2 0 0-7zM1223 136l0 7-3 0 0-7zM1223 251l0 7-3 0 0-7zM1195 129l0 7-2 0 0-7zM1195 258l0 7-2 0 0-7zM1220 136l0 7-2 0 0-7zM1220 251l0 7-2 0 0-7zM1218 136l0 7-3 0 0-7zM1218 251l0 7-3 0 0-7zM1215 136l0 7-2 0 0-7zM1215 251l0 7-2 0 0-7zM1213 136l0 7-3 0 0-7zM1213 251l0 7-3 0 0-7zM1210 136l0 7-2 0 0-7zM1210 251l0 7-2 0 0-7zM1251 143l0 7-3 0 0-7zM1251 245l0 6-3 0 0-6zM1248 143l0 7-2 0 0-7zM1248 245l0 6-2 0 0-6zM1193 129l0 7-3 0 0-7zM1193 258l0 7-3 0 0-7zM1208 251l0 7-3 0 0-7zM1208 136l0 7-3 0 0-7zM1246 143l0 7-3 0 0-7zM1246 245l0 6-3 0 0-6zM1243 143l0 7-2 0 0-7zM1243 245l0 6-2 0 0-6zM1241 143l0 7-3 0 0-7zM1241 245l0 6-3 0 0-6zM1205 136l0 7-2 0 0-7zM1205 251l0 7-2 0 0-7zM1238 143l0 7-2 0-1-7zM1238 245l0 6-3 0 1-6zM1235 143l1 7-3 0 0-7zM1236 245l-1 6-2 0 0-6zM1203 136l0 7-3 0 0-7zM1203 251l0 7-3 0 0-7zM1233 143l0 7-3 0 0-7zM1233 245l0 6-3 0 0-6zM1230 143l0 7-2 0 0-7zM1230 245l0 6-2 0 0-6zM1200 136l0 7-2 0 0-7zM1200 251l0 7-2 0 0-7zM1228 143l0 7-3 0 0-7zM1228 245l0 6-3 0 0-6zM1190 129l0 7-2 0 0-7zM1190 258l0 7-2 0 0-7zM1225 143l0 7-2 0 0-7zM1225 245l0 6-2 0 0-6zM1223 143l0 7-3 0 0-7zM1223 245l0 6-3 0 0-6zM1198 136l0 7-3 0 0-7zM1198 251l0 7-3 0 0-7zM1220 143l0 7-2 0 0-7zM1220 245l0 6-2 0 0-6z" color="#443b84"/><path d="M1218 143l0 7-3 0 0-7zM1218 245l0 6-3 0 0-6zM1215 245l0 6-2 0 0-6zM1215 143l0 7-2 0 0-7zM1195 136l0 7-2 0 0-7zM1195 251l0 7-2 0 0-7zM1213 143l0 7-3 0 0-7zM1213 245l0 6-3 0 0-6zM1210 143l0 7-2 0 0-7zM1210 245l0 6-2 0 0-6zM1188 129l0 7-3 0 0-7zM1188 258l0 7-3 0 0-7zM1251 150l0 6-3 0 0-6zM1251 238l0 7-3 0 0-7zM1248 238l0 7-2 0 0-7zM1248 150l0 6-2 0 0-6zM1208 143l0 7-3 0 0-7zM1208 245l0 6-3 0 0-6zM1246 150l0 6-3 0 0-6zM1246 238l0 7-3 0 0-7zM1243 150l0 6-2 0 0-6zM1243 238l0 7-2 0 0-7zM1193 136l0 7-3 0 0-7zM1193 251l0 7-3 0 0-7zM1241 150l0 6-3 0 0-6zM1241 238l0 7-3 0 0-7zM1205 143l0 7-2 0 0-7zM1205 245l0 6-2 0 0-6zM1238 238l0 7-2 0 0-7zM1238 150l0 6-2 0 0-6zM1236 150l0 6-3 0 0-6zM1236 238l0 7-3 0 0-7zM1233 150l0 6-2 0-1-6zM1233 238l0 7-3 0 1-7zM1185 129l0 7-2 0 0-7zM1185 258l0 7-2 0 0-7zM1230 150l1 6-3 0 0-6zM1231 238l-1 7-2 0 0-7zM1203 143l0 7-3 0 0-7zM1203 245l0 6-3 0 0-6zM1228 150l0 6-3 0 0-6zM1228 238l0 7-3 0 0-7zM1225 150l0 6-2 0 0-6zM1225 238l0 7-2 0 0-7zM1223 150l0 6-3 0 0-6zM1223 238l0 7-3 0 0-7zM1200 143l0 7-2 0 0-7zM1200 245l0 6-2 0 0-6zM1220 150l0 6-2 0 0-6zM1220 238l0 7-2 0 0-7zM1218 238l0 7-3 0 0-7zM1218 150l0 6-3 0 0-6zM1190 251l0 7-2 0 0-7zM1190 136l0 7-2 0 0-7zM1215 150l0 6-2 0 0-6zM1215 238l0 7-2 0 0-7zM1198 245l0 6-3 0 0-6zM1198 143l0 7-3 0 0-7zM1213 150l0 6-3 0 0-6zM1213 238l0 7-3 0 0-7zM1183 129l0 7-3 0 0-7zM1183 258l0 7-3 0 0-7zM1210 150l0 6-2 0 0-6zM1210 238l0 7-2 0 0-7zM1251 156l0 7-3 0 0-7zM1251 231l0 7-3 0 0-7zM1195 143l0 7-2 0 0-7zM1195 245l0 6-2 0 0-6zM1248 231l0 7-2 0 0-7zM1248 156l0 7-2 0 0-7zM1208 238l0 7-3 0 0-7zM1208 150l0 6-3 0 0-6zM1246 231l0 7-3 0 0-7zM1246 156l0 7-3 0 0-7zM1243 156l0 7-2 0 0-7zM1243 231l0 7-2 0 0-7zM1241 156l0 7-3 0 0-7zM1241 231l0 7-3 0 0-7zM1238 156l0 7-2 0 0-7zM1238 231l0 7-2 0 0-7zM1188 136l0 7-3 0 0-7zM1188 251l0 7-3 0 0-7zM1236 156l0 7-3 0 0-7zM1236 231l0 7-3 0 0-7zM1205 150l0 6-2 0 0-6zM1205 238l0 7-2 0 0-7zM1233 156l0 7-2 0 0-7zM1233 231l0 7-2 0 0-7zM1193 143l0 7-3 0 0-7zM1193 245l0 6-3 0 0-6zM1231 156l0 7-3 0 0-7zM1231 231l0 7-3 0 0-7zM1228 156l0 7-3 0 0-7zM1228 231l0 7-3 0 0-7zM1225 156l0 7-2 0 0-7zM1225 231l0 7-2 0 0-7zM1180 129l0 7-2 0 0-7zM1180 258l0 7-2 0 0-7zM1203 150l0 6-3 0 0-6zM1203 238l0 7-3 0 0-7zM1223 156l0 7-3 0 0-7zM1223 231l0 7-3 0 0-7zM1220 156l0 7-2 0 0-7zM1220 231l0 7-2 0 0-7zM1218 156l0 7-3 0 0-7zM1218 231l0 7-3 0 0-7zM1215 156l0 7-2 0 0-7zM1215 231l0 7-2 0 0-7zM1213 156l0 7-3 0 0-7zM1213 231l0 7-3 0 0-7zM1200 150l0 6-2 0 0-6zM1200 238l0 7-2 0 0-7zM1185 136l0 7-2 0 0-7zM1185 251l0 7-2 0 0-6zM1210 156l0 7-2 0 0-7zM1210 231l0 7-2 0 0-7zM1251 163l0 7-3 0 0-7zM1251 224l0 7-3 0 0-7zM1248 163l0 7-2 0 0-7zM1248 224l0 7-2 0 0-7zM1198 238l0 7-3 0 0-7zM1198 150l0 6-3 0 0-6zM1190 143l0 7-2 0 0-7zM1190 245l0 6-2 0 0-6zM1246 163l0 7-3 0 0-7zM1246 224l0 7-3 0 0-7zM1243 224l0 7-2 0 0-7zM1243 163l0 7-2 0 0-7zM1208 156l0 7-3 0 0-7zM1208 231l0 7-3 0 0-7zM1241 163l0 7-3 0 0-7zM1241 224l0 7-3 0 0-7zM1238 224l0 7-2 0 0-7zM1238 163l0 7-2 0 0-7zM1236 163l0 7-3 0 0-7zM1236 224l0 7-3 0 0-7zM1195 150l0 6-2 0 0-6zM1195 238l0 7-2 0 0-7zM1233 163l0 7-2 0 0-7zM1233 224l0 7-2 0 0-7zM1107 183l-1 7 0 0-1-6zM1106 204l1 7-2 0 1-7zM1231 163l0 7-3 0 0-7zM1231 224l0 7-3 0 0-7zM1183 136l0 7-3 0 0-7zM1183 252l0 6-3 0 0-6zM1205 156l0 7-2 0 0-7zM1205 231l0 7-2 0 0-7zM1228 163l0 7-2 0-1-7zM1228 224l0 7-3 0 1-7zM1225 163l1 7-3 0 0-7zM1226 224l-1 7-2 0 0-7zM1223 163l0 7-3 0 0-7zM1223 224l0 7-3 0 0-7zM1220 224l0 7-2 0 0-7zM1220 163l0 7-2 0 0-7zM1218 224l0 7-3 0 0-7zM1218 163l0 7-3 0 0-7zM1107 177l0 6-2 1-1-7zM1107 211l0 6-3 1 1-7z" color="#424086"/><path d="M1215 163l0 7-2 0 0-7zM1215 224l0 7-2 0 0-7zM1203 156l0 7-3 0 0-7zM1203 231l0 7-3 0 0-7zM1193 150l0 6-3 0 0-6zM1193 238l0 7-3 0 0-7zM1213 163l0 7-3 0 0-7zM1213 224l0 7-3 0 0-7zM1188 143l0 7-3-1 0-6zM1188 245l0 6-3 0 0-6zM1251 170l0 7-3 0 0-7zM1251 218l0 6-3 0 0-6zM1178 129l0 7-3 0 0-7zM1178 258l0 7-3 0 0-7zM1248 218l0 6-2 0 0-6zM1248 170l0 7-2 0 0-7zM1210 163l0 7-2 0 0-7zM1210 224l0 7-2 0 0-7zM1246 170l0 7-3 0 0-7zM1246 218l0 6-3 0 0-6zM1243 170l0 7-2 0 0-7zM1243 218l0 6-2 0 0-6zM1200 231l0 7-2 0 0-7zM1200 156l0 7-2 0 0-7zM1241 170l0 7-3 0 0-7zM1241 218l0 6-3 0 0-6zM1238 170l0 7-2 0 0-7zM1238 218l0 6-2 0 0-6zM1236 170l0 7-3 0 0-7zM1236 218l0 6-3 0 0-6zM1208 163l0 7-3 0 0-7zM1208 224l0 7-3 0 0-7zM1233 170l0 7-2 0 0-7zM1233 218l0 6-2 0 0-6zM1231 170l0 7-3 0 0-7zM1231 218l0 6-3 0 0-6zM1180 136l0 7-2 0 0-7zM1180 252l0 6-2 0 0-6zM1198 156l0 7-3 0 0-7zM1198 231l0 7-3 0 0-7zM1228 170l0 7-2 0 0-7zM1228 218l0 6-2 0 0-6zM1226 170l0 7-3 0 0-7zM1226 218l0 6-3 0 0-6zM1223 170l0 7-2 0-1-7zM1223 218l0 6-3 0 1-6zM1220 170l1 7-3 0 0-7zM1221 218l-1 6-2 0 0-6zM1190 150l0 6-2 0 0-6zM1190 238l0 7-2 0 0-7zM1185 143l0 6-2 0 0-6zM1185 245l0 6-2 1 0-7zM1205 163l0 7-2 0 0-7zM1205 224l0 7-2 0 0-7zM1218 170l0 7-3 0 0-7zM1218 218l0 6-3 0 0-6zM1251 177l0 7-3 0 0-7zM1251 211l0 7-3 0 0-7zM1103 211l-1 6-3 1-1-7zM1102 177l1 7-5-1 1-6zM1215 170l0 7-2 0 0-7zM1215 218l0 6-2 0 0-6zM1248 177l0 7-2 0 0-7zM1248 211l0 7-2 0 0-7zM1195 156l0 7-2 0 0-7zM1195 231l0 7-2 0 0-7zM1213 170l0 7-3 0 0-7zM1213 218l0 6-3 0 0-6zM1246 177l0 7-3 0 0-7zM1246 211l0 7-3 0 0-7zM1243 177l0 7-2 0 0-7zM1243 211l0 7-2 0 0-7zM1241 177l0 7-3 0 0-7zM1241 211l0 7-3 0 0-7zM1210 218l0 6-2 0 0-6zM1210 170l0 7-2 0 0-7zM1238 177l0 7-2 0 0-7zM1238 211l0 7-2 0 0-7zM1203 163l0 7-3 0 0-7zM1203 224l0 7-3 0 0-7zM1236 177l0 7-3 0 0-7zM1236 211l0 7-3 0 0-7zM1233 177l0 7-2 0 0-7zM1233 211l0 7-2 0 0-7zM1231 177l0 7-3 0 0-7zM1231 211l0 7-3 0 0-7zM1228 177l0 7-2 0 0-7zM1228 211l0 7-2 0 0-7zM1251 184l0 6-3 0 0-6zM1251 204l0 7-3 0 0-7zM1226 177l0 7-3 0 0-7zM1226 211l0 7-3 0 0-7zM1208 170l0 7-3 0 0-7zM1208 218l0 6-3 0 0-6zM1193 231l0 7-3 0 0-7zM1193 156l0 7-3 0 0-7zM1248 184l0 6-2 0 0-6zM1248 204l0 7-2 0 0-7zM1223 177l0 7-2 0 0-7zM1223 211l0 7-2 0 0-7zM1246 184l0 6-3 0 0-6zM1246 204l0 7-3 0 0-7zM1221 177l0 7-3 0 0-7zM1221 211l0 7-3 0 0-7zM1200 163l0 7-2 0 0-7zM1200 224l0 7-2 0 0-7zM1183 143l0 6-3 0 0-6zM1183 245l0 7-3 0 0-7zM1243 184l0 6-2 0 0-6zM1243 204l0 7-2 0 0-7zM1218 177l0 7-3 0 0-7zM1218 211l0 7-3 0 0-7zM1241 184l0 6-3 0 0-6zM1241 204l0 7-3 0 0-7zM1215 177l0 7-2 0 0-7zM1215 211l0 7-2 0 0-7zM1175 129l0 7-2 0 0-7zM1175 258l0 7-2 0 0-7zM1251 190l0 7-3 0 0-7zM1251 197l0 7-3 0 0-7zM1238 184l0 6-2 0 0-6zM1238 204l0 7-2 0 0-7zM1213 177l0 7-3-1 0-6zM1213 211l0 7-3 0 0-7zM1248 190l0 7-2 0 0-7zM1248 197l0 7-2 0 0-7zM1236 204l0 7-3 0 0-7zM1236 184l0 6-3 0 0-6zM1188 150l0 6-3 0 0-7zM1188 238l0 7-3 0 0-7zM1246 190l0 7-3 0 0-7zM1246 197l0 7-3 0 0-7zM1233 184l0 6-2 0 0-6zM1233 204l0 7-2 0 0-7zM1243 190l0 7-2 0 0-7zM1243 197l0 7-2 0 0-7zM1205 170l0 7-2 0 0-7zM1205 218l0 6-2 0 0-6zM1231 184l0 6-3 0 0-6zM1231 204l0 7-3 0 0-7zM1210 211l0 7-2 0 0-7zM1210 177l0 6-2 0 0-6zM1198 163l0 7-3 0 0-7zM1198 224l0 7-3 0 0-7zM1241 190l0 7-3 0 0-7zM1241 197l0 7-3 0 0-7zM1228 184l0 6-2 0 0-6zM1228 204l0 7-2 0 0-7zM1238 190l0 7-2 0 0-7zM1238 197l0 7-2 0 0-7zM1226 184l0 6-3 0 0-6zM1226 204l0 7-3 0 0-7zM1236 190l0 7-3 0 0-7zM1236 197l0 7-3 0 0-7zM1223 184l0 6-2 0 0-6zM1223 204l0 7-2 0 0-7zM1233 190l0 7-2 0 0-7zM1233 197l0 7-2 0 0-7zM1178 136l0 7-3 0 0-7zM1178 252l0 6-3 0 0-6zM1221 204l0 7-3 0 0-7zM1221 184l0 6-3 0 0-6zM1231 190l0 7-3 0 0-7zM1231 197l0 7-3 0 0-7zM1218 184l0 6-3 0 0-6zM1218 204l0 7-3 0 0-7zM1228 190l0 7-2 0 0-7zM1228 197l0 7-2 0 0-7zM1215 184l0 6-2 0 0-6zM1215 204l0 7-2 0 0-7zM1208 177l0 6-3 0 0-6zM1208 211l0 7-3 0 0-7zM1226 190l0 7-3 0 0-7zM1226 197l0 7-3 0 0-7zM1213 184l0 6-3 0 0-7zM1213 204l0 7-3 0 0-7zM1203 218l0 6-3 0 0-6zM1203 170l0 7-3 0 0-7zM1195 163l0 7-2 0 0-7zM1195 224l0 7-2 0 0-7zM1223 190l0 7-2 0 0-7zM1223 197l0 7-2 0 0-7zM1190 156l0 7-2 0 0-7zM1190 231l0 7-2 0 0-7zM1221 190l0 7-3 0 0-7zM1221 197l0 7-3 0 0-7zM1210 183l0 7-2 0 0-7zM1210 204l0 7-2 0 0-7zM1218 190l0 7-2 0-1-7zM1218 197l0 7-3 0 1-7zM1215 190l1 7-3 0 0-7zM1216 197l-1 7-2 0 0-7zM1213 190l0 7-3 0 0-7zM1213 197l0 7-3 0 0-7zM1180 143l0 6-2 0 0-6zM1180 245l0 7-2 0 0-7zM1185 149l0 7-2 0 0-7zM1185 238l0 7-2 0 0-7zM1200 170l0 7-2 0 0-7zM1200 218l0 6-2 0 0-6zM1205 177l0 6-2 0 0-6zM1205 211l0 7-2 0 0-7zM1210 190l0 7-2 0 0-7zM1210 197l0 7-2 0 0-7z" color="#404588"/><path d="M1208 183l0 7-3 0 0-7zM1208 204l0 7-3 0 0-7zM1193 163l0 7-3 0 0-7zM1193 224l0 7-3 0 0-7zM1198 170l0 7-3 0 0-7zM1198 218l0 6-3 0 0-6zM1208 190l0 7-3 0 0-7zM1208 197l0 7-3 0 0-7zM1203 177l0 6-3 0 0-6zM1203 211l0 7-3 0 0-7zM1173 129l0 7-3 0 0-7zM1173 258l0 7-3 0 0-7zM1205 183l0 7-2 0 0-7zM1205 204l0 7-2 0 0-7zM1188 156l0 7-3 0 0-7zM1188 231l0 7-3 0 0-7zM1195 170l0 7-2 0 0-7zM1195 218l0 6-2 0 0-6zM1183 149l0 7-3 0 0-7zM1183 238l0 7-3 0 0-7zM1200 211l0 7-2 0 0-7zM1200 177l0 6-2 0 0-6zM1205 190l0 7-2 0 0-7zM1205 197l0 7-2 0 0-7zM1101 170l1 7-3 0 1-7zM1102 217l-1 8-1-1-1-6zM1203 183l0 7-3 0 0-7zM1203 204l0 7-3 0 0-7zM1175 136l0 7-2 0 0-7zM1175 252l0 6-2 0 0-6zM1190 163l0 7-2 0 0-7zM1190 224l0 7-2 0 0-7zM1198 177l0 6-3 0 0-6zM1198 211l0 7-3 0 0-7zM1193 170l0 7-3 0 0-7zM1193 218l0 6-3 0 0-6zM1203 197l0 7-3 0 0-7zM1203 190l0 7-3 0 0-7zM1200 183l0 7-2 0 0-7zM1200 204l0 7-2 0 0-7zM1178 143l0 6-3 0 0-6zM1178 245l0 7-3 0 0-7zM1195 177l0 6-2 0 0-6zM1195 211l0 7-2 0 0-7zM1185 156l0 7-2 0 0-7zM1185 231l0 7-2 0 0-7zM1170 258l0 7-2 0 0-6zM1170 129l0 7-2 0 0-7zM1200 190l0 7-2 0 0-7zM1200 197l0 7-2 0 0-7zM1198 183l0 7-3 0 0-7zM1198 204l0 7-3 0 0-7zM1180 149l0 7-2 0 0-7zM1180 238l0 7-2 0 0-7zM1198 190l0 7-3 0 0-7zM1198 197l0 7-3 0 0-7zM1193 177l0 6-3 0 0-6zM1193 211l0 7-3 0 0-7zM1188 163l0 7-3 0 0-7zM1188 224l0 7-3 0 0-7zM1195 183l0 7-2 0 0-7zM1195 204l0 7-2 0 0-7zM1190 170l0 7-2 0 0-7zM1190 218l0 6-2 0 0-6z" color="#3e4989"/><path d="M1173 136l0 7-3-1 0-6zM1173 252l0 6-3 0 0-6zM1195 190l0 7-2 0 0-7zM1195 197l0 7-2 0 0-7zM1183 156l0 7-3 0 0-7zM1183 231l0 7-3 0 0-7zM1193 183l0 7-3 0 0-7zM1193 204l0 7-3 0 0-7zM1103 204l0 7-5 0 0-7zM1103 184l0 6-5 0 0-7zM1096 128l1 8-3 0 1-7zM1097 259l-1 7-1-1-1-7zM1168 129l0 7-3 0 0-7zM1168 259l0 6-3 0 0-6zM1193 190l0 7-3 0 0-7zM1193 197l0 7-3 0 0-7zM1175 143l0 6-2 0 0-6zM1175 245l0 7-2 0 0-7zM1190 177l0 6-2 0 0-6zM1190 211l0 7-2 0 0-7zM1185 163l0 7-2 0 0-7zM1185 224l0 7-2 0 0-7zM1188 170l0 7-3 0 0-7zM1188 218l0 6-3 0 0-6zM1178 149l0 7-3 0 0-7zM1178 238l0 7-3 0 0-7zM1180 156l0 7-2 0 0-7zM1180 231l0 7-2 0 0-7zM1170 136l0 6-2 0 0-6zM1170 252l0 6-2 1 0-7zM1190 183l0 7-2 0 0-7zM1190 204l0 7-2 0 0-7zM1097 136l0 7-3-1 0-6zM1097 252l0 7-3-1 0-6zM1190 197l0 7-2 0 0-7zM1190 190l0 7-2 0 0-7zM1183 224l0 7-3 0 0-7zM1183 163l0 7-3 0 0-7zM1107 170l0 7-3 0-1-8zM1107 217l0 7-4 1 1-7zM1188 177l0 6-3 0 0-6zM1188 211l0 7-3 0 0-7zM1105 197l1 7 0 0-1-7zM1106 190l-1 7 0 0 1-7z" color="#3d4e8a"/><path d="M1165 259l0 6-3 0 0-6zM1165 129l0 7-3 0 0-7zM1185 170l0 7-2 0 0-7zM1185 218l0 6-2 0 0-6zM1173 245l0 7-3 0 0-7zM1173 143l0 6-3 0 0-7zM1095 129l-1 7-3-1 0-6zM1094 258l1 7-4 1 0-7zM1188 183l0 7-3 0 0-7zM1188 204l0 7-3 0 0-7zM1168 136l0 6-3 0 0-6zM1168 252l0 7-3 0 0-7zM1175 149l0 7-2 0 0-7zM1175 238l0 7-2 0 0-7zM1178 156l0 7-3 0 0-7zM1178 231l0 7-3 0 0-7zM1180 163l0 7-2 0 0-7zM1180 224l0 7-2 0 0-7zM1188 190l0 7-3 0 0-7zM1188 197l0 7-3 0 0-7zM1183 218l0 6-3 0 0-6zM1183 170l0 7-3 0 0-7zM1185 177l0 6-2 0 0-6zM1185 211l0 7-2 0 0-7zM1162 129l0 7-2-1 0-6zM1162 259l0 6-2 0 0-6zM1170 142l0 7-2 0 0-7zM1170 245l0 7-2 0 0-7zM1100 231l-1 7-2 0-1-6zM1099 156l1 7-4 0 1-7z" color="#3a538b"/><path d="M1185 183l0 7-2 0 0-7zM1185 204l0 7-2 0 0-7zM1101 162l0 8-1 0 0-7zM1101 225l0 7-1-1 0-7zM1099 149l0 7-2 0 0-6zM1099 238l0 7-2 0 0-7zM1165 136l0 6-3 0 0-6zM1165 252l0 7-3 0 0-7zM1185 190l0 7-2 0 0-7zM1185 197l0 7-2 0 0-7zM1183 211l0 7-3 0 0-7zM1183 177l0 6-3 0 0-6zM1173 149l0 7-3 0 0-7zM1173 238l0 7-3 0 0-7zM1180 170l0 7-2 0 0-7zM1180 218l0 6-2 0 0-6zM1178 163l0 7-3 0 0-7zM1178 224l0 7-3 0 0-6zM1175 156l0 7-2 0 0-7zM1175 231l0 7-2 0 0-7zM1160 129l0 6-3 0 0-6zM1160 259l0 6-3 1 0-7zM1168 142l0 7-3 0 0-7zM1168 245l0 7-3 0 0-7zM1097 143l0 7-4-1 1-7zM1097 245l0 7-3 0-1-6zM1183 183l0 7-3 0 0-7zM1183 204l0 7-3 0 0-7zM1183 190l0 7-3 0 0-7zM1183 197l0 7-3 0 0-7z" color="#38588c"/><path d="M1180 177l0 6-2 0 0-6zM1180 211l0 7-2 0 0-7zM1162 136l0 6-2 0 0-7zM1162 252l0 7-2 0 0-7zM1170 238l0 7-2 0 0-7zM1170 149l0 7-2 0 0-7zM1100 163l0 7-5-1 1-6zM1100 224l0 7-4 1-1-7zM1098 142l1 7-2 1 0-7zM1099 245l-1 7-1 0 0-7zM1157 129l0 6-2 0 0-6zM1157 259l0 7-2 0 0-7zM1178 170l0 7-3 0 0-7zM1178 218l0 6-3 1 0-7zM1173 156l0 7-3 0 0-7zM1173 231l0 7-3 0 0-7zM1180 183l0 7-2 0 0-7zM1180 204l0 7-2 0 0-7zM1165 142l0 7-3 0 0-7zM1165 245l0 7-3 0 0-7zM1175 163l0 7-2 0 0-7zM1175 225l0 6-2 0 0-6zM1180 190l0 7-2 0 0-7zM1180 197l0 7-2 0 0-7z" color="#365c8d"/><path d="M1160 135l0 7-3 0 0-7zM1160 252l0 7-3 0 0-7zM1168 149l0 7-3 0 0-7zM1168 238l0 7-3 0 0-7zM1103 169l1 8-2 0-1-7zM1104 218l-1 7-2 0 1-8zM1155 129l0 6-3 0 0-6zM1155 259l0 7-3 0 0-7zM1178 177l0 6-3 0 0-6zM1178 211l0 7-3 0 0-7zM1109 163l-1 6-1 1 0-7zM1108 225l1 7-2-1 0-7zM1170 156l0 7-2 0 0-7zM1170 231l0 7-2 0 0-6zM1109 156l0 7-2 0-1-7zM1109 232l0 6-3 1 1-8zM1162 142l0 7-2 0 0-7zM1162 245l0 7-2 0 0-7zM1175 170l0 7-2-1 0-6zM1175 218l0 7-2 0 0-7zM1173 163l0 7-3 0 0-7zM1173 225l0 6-3 0 0-6zM1178 183l0 7-3 0 0-7zM1178 204l0 7-3 0 0-7zM1157 135l0 7-2 0 0-7zM1157 252l0 7-2 0 0-7zM1103 190l-1 7-4 0 0-7zM1102 197l1 7-5 0 0-7zM1098 135l0 7-1 1 0-7zM1098 252l0 7-1 0 0-7z" color="#34608d"/><path d="M1178 190l0 7-3 0 0-7zM1178 197l0 7-3 0 0-7zM1152 129l0 6-2 0 0-7zM1152 259l0 7-2 0 0-7zM1165 149l0 7-3 0 0-7zM1165 238l0 7-3 0 0-7zM1107 163l0 7-4-1 0-7zM1107 224l0 7-4 1 0-7zM1094 252l0 6-3 1-1-6zM1094 136l0 6-4 0 1-7zM1101 155l0 7-1 1-1-7zM1101 232l0 7-2-1 1-7zM1175 211l0 7-2 0 0-7zM1175 177l0 6-2 0 0-7zM1168 156l0 7-3 0 0-7zM1168 232l0 6-3 0 0-6zM1160 142l0 7-3 0 0-7zM1160 245l0 7-3 0 0-7zM1108 169l0 7-1 1 0-7zM1108 218l0 7-1-1 0-7z" color="#32648e"/><path d="M1155 135l0 7-3 0 0-7zM1155 252l0 7-3 0 0-7zM1170 163l0 7-2 0 0-7zM1170 225l0 6-2 1 0-7zM1173 170l0 6-3 0 0-6zM1173 218l0 7-3 0 0-7zM1097 238l0 7-4 1 0-7zM1097 150l0 6-4-1 0-6zM1150 128l0 7-3 0 0-7zM1150 259l0 7-3 0 0-7zM1100 170l-1 7-4-1 0-7zM1099 218l1 6-5 1 0-7zM1109 149l0 7-3 0 0-8zM1109 238l0 7-3 1 0-7zM1175 183l0 7-2 0 0-7zM1175 204l0 7-2 0 0-7zM1112 136l-1 6-2 0-1-7zM1111 252l1 7-4 1 1-8zM1162 149l0 7-2 0 0-7zM1162 238l0 7-2 0 0-6zM1098 128l0 7-1 1-1-8zM1098 259l0 7-2 0 1-7zM1091 129l0 6-3 0 0-7zM1091 259l0 7-3 0 0-7zM1175 190l0 7-2 0 0-7zM1175 197l0 7-2 0 0-7zM1157 142l0 7-2 0 0-7zM1157 245l0 7-2 0 0-7z" color="#31688e"/><path d="M1165 156l0 7-3 0 0-7zM1165 232l0 6-3 0 0-6zM1152 135l0 7-2 0 0-7zM1152 252l0 7-2 0 0-7zM1173 211l0 7-3 0 0-7zM1173 176l0 7-3 0 0-7zM1112 129l0 7-4-1 0-8zM1112 259l0 7-4 1 0-7zM1111 142l0 6-2 1 0-7zM1111 246l0 6-2 0 0-7zM1147 259l0 7-2 0-1-7zM1147 128l0 7-3 0 1-7zM1168 163l0 7-3-1 0-6zM1168 225l0 7-3 0 0-7zM1170 218l0 7-2 0 0-7zM1170 170l0 6-2 0 0-6zM1160 149l0 7-3 0 0-7zM1160 239l0 6-3 0 0-6zM1173 204l0 7-3 0 0-7zM1173 183l0 7-3 0 0-7zM1113 260l1 6-2 0 0-7zM1114 128l-1 6-1 2 0-7z" color="#2f6c8e"/><path d="M1155 142l0 7-3 0 0-7zM1155 245l0 7-3 0 0-6zM1173 197l0 7-3 0 0-7zM1173 190l0 7-3 0 0-7zM1150 135l0 7-3 0 0-7zM1150 252l0 7-3 0 0-6zM1145 128l-1 7-2 0 0-7zM1144 259l1 7-3 0 0-7zM1162 156l0 7-2-1 0-6zM1162 232l0 6-2 1 0-7zM1170 176l0 7-2 0 0-7zM1170 211l0 7-2 0 0-7zM1101 148l0 7-2 1 0-7zM1101 239l0 7-2-1 0-7zM1088 128l0 7-3 0 1-7zM1088 259l0 7-2 0-1-6zM1168 170l0 6-3 0 0-7zM1168 218l0 7-3 0 0-7zM1165 163l0 6-3 0 0-6zM1165 225l0 7-3 0 0-7z" color="#2d708e"/><path d="M1109 142l0 7-3-1 0-7zM1109 245l0 7-3 1 0-7zM1157 149l0 7-2 0 0-7zM1157 239l0 6-2 0 0-6zM1152 246l0 6-2 0 0-6zM1152 142l0 7-2 0 0-7zM1170 183l0 7-2 0 0-7zM1170 204l0 7-2 0 0-7zM1147 135l0 7-3 0 0-7zM1147 253l0 6-3 0 0-6zM1142 128l0 7-3 0 0-7zM1142 259l0 7-3 0 0-6zM1111 148l-1 7-1 1 0-7zM1110 239l1 7-2-1 0-7zM1106 156l1 7-4-1 0-7zM1107 231l-1 8-3 0 0-7zM1170 197l0 7-2 0 0-7zM1170 190l0 7-2 0 0-7z" color="#2c738e"/><path d="M1160 156l0 6-3 0 0-6zM1160 232l0 7-3 0 0-7zM1094 142l-1 7-3-1 0-6zM1093 246l1 6-4 1 0-7zM1091 135l-1 7-2-1 0-6zM1090 253l1 6-3 0 0-6zM1108 176l-1 7 0 0 0-6zM1107 211l1 7-1-1 0-6zM1168 176l0 7-3 0 0-7zM1168 211l0 7-3 0 0-7zM1086 128l-1 7-2 0 0-7zM1085 260l1 6-3 0 0-6zM1155 149l0 7-3-1 0-6zM1155 239l0 6-3 1 0-7zM1103 162l0 7-2 1 0-8zM1103 225l0 7-2 0 0-7zM1162 163l0 6-2 0 0-7zM1162 225l0 7-2 0 0-7zM1101 246l0 7-3-1 1-7zM1101 141l0 7-2 1-1-7zM1165 169l0 7-3 0 0-7zM1165 218l0 7-3 0 0-7zM1097 156l-1 7-4-1 1-7zM1096 232l1 6-4 1-1-7zM1144 135l0 7-2-1 0-6zM1144 253l0 6-2 0 0-6zM1150 142l0 7-3-1 0-6zM1150 246l0 6-3 1 0-7z" color="#2a778e"/><path d="M1098 211l1 7-4 0 0-7zM1099 177l-1 6-3 0 0-7zM1101 128l0 7-3 0 0-7zM1101 260l0 7-3-1 0-7zM1139 128l0 7-2 0 0-7zM1139 260l0 6-2 0 0-6zM1168 183l0 7-3 0 0-7zM1168 204l0 7-3 0 0-7zM1101 135l0 6-3 1 0-7zM1101 253l0 7-3-1 0-7zM1083 128l0 7-3-1 0-6zM1083 260l0 6-3 0 0-6zM1157 232l0 7-2 0 0-7zM1157 156l0 6-2 0 0-6zM1168 190l0 7-3 0 0-7zM1168 197l0 7-3 0 0-7zM1108 135l1 7-3-1 0-7zM1109 252l-1 8-2 0 0-7zM1088 135l0 6-3 0 0-6zM1088 253l0 6-3 1 0-7zM1113 134l0 7-2 1 1-6zM1113 253l0 7-1-1-1-7zM1152 149l0 6-2 0 0-6zM1152 239l0 7-2 0 0-7z" color="#297b8e"/><path d="M1142 135l0 6-3 0 0-6zM1142 253l0 6-3 1 0-7zM1165 211l0 7-3 0 0-7zM1165 176l0 7-3 0 0-7zM1147 142l0 6-3 0 0-6zM1147 246l0 7-3 0 0-7zM1160 162l0 7-3 0 0-7zM1160 225l0 7-3 0 0-7zM1137 128l0 7-3-1 0-6zM1137 260l0 6-3 1 0-7zM1162 169l0 7-2 0 0-7zM1162 218l0 7-2 0 0-7zM1080 128l0 6-3 0 0-6zM1080 260l0 6-3 1 0-7zM1106 239l0 7-3 0 0-7zM1106 148l0 8-3-1 0-7zM1103 127l0 7-2 1 0-7zM1103 260l0 7-2 0 0-7z" color="#277f8e"/><path d="M1155 156l0 6-3 0 0-7zM1155 232l0 7-3 0 0-7zM1103 232l0 7-2 0 0-7zM1103 155l0 7-2 0 0-7zM1103 253l0 7-2 0 0-7zM1103 134l0 7-2 0 0-6zM1085 135l0 6-3 0 1-6zM1085 253l0 7-2 0-1-7zM1165 183l0 7-3 0 0-7zM1165 204l0 7-3 0 0-7zM1103 246l0 7-2 0 0-7zM1103 141l0 7-2 0 0-7zM1108 260l0 7-2 0 0-7zM1108 127l0 8-2-1 0-7zM1144 246l0 7-2 0 0-7zM1144 142l0 6-2 0 0-7zM1150 149l0 6-3 0 0-7zM1150 239l0 7-3 0 0-7zM1139 135l0 6-2 0 0-6zM1139 253l0 7-2 0 0-7zM1103 239l0 7-2 0 0-7zM1103 148l0 7-2 0 0-7zM1077 128l0 6-3 0 1-6zM1077 260l0 7-2 0-1-7zM1165 197l0 7-3 0 0-7zM1165 190l0 7-3 0 0-7zM1090 142l0 6-3 0 1-7zM1090 246l0 7-2 0-1-7zM1110 155l0 7-1 1 0-7zM1110 233l0 6-1-1 0-6zM1157 162l0 7-2 0 0-7zM1157 225l0 7-2 0 0-7zM1134 128l0 6-3 0 0-6zM1134 260l0 7-3 0 0-7z" color="#26828e"/><path d="M1106 141l0 7-3 0 0-7zM1106 246l0 7-3 0 0-7zM1106 260l0 7-3 0 0-7zM1106 127l0 7-3 0 0-7zM1162 176l0 7-2 0 0-7zM1162 211l0 7-2 0 0-7zM1083 135l-1 6-3 0 1-7zM1082 253l1 7-3 0-1-7zM1106 253l0 7-3 0 0-7zM1106 134l0 7-3 0 0-7zM1160 169l0 7-3 0 0-7zM1160 218l0 7-3 0 0-7zM1093 239l0 7-3 0 0-7zM1093 149l0 6-3 0 0-7zM1152 155l0 7-3 0 1-7zM1152 232l0 7-2 0-1-7zM1142 141l0 7-3 0 0-7zM1142 246l0 7-3 0 0-7zM1137 135l0 6-3 0 0-7zM1137 253l0 7-3 0 0-7z" color="#24868e"/><path d="M1080 134l-1 7-2 0 0-7zM1079 253l1 7-3 0 0-7zM1147 148l0 7-3 0 0-7zM1147 239l0 7-3 0 0-7zM1098 183l0 7-3 0 0-7zM1098 204l0 7-3 0 0-7zM1131 128l0 6-2 0 0-7zM1131 260l0 7-2 0 0-7zM1162 183l0 7-2 0 0-7zM1162 204l0 7-2 0 0-7zM1096 163l-1 6-3 0 0-7zM1095 225l1 7-4 0 0-7zM1088 141l-1 7-3 0 1-7zM1087 246l1 7-3 0-1-7zM1107 183l0 7-1 0 1-7zM1107 204l0 7 0 0-1-7zM1155 162l0 7-3 0 0-7zM1155 225l0 7-3 0 0-7zM1077 253l0 7-3 0 0-7zM1077 134l0 7-3 0 0-7zM1162 190l0 7-2 0 0-7zM1162 197l0 7-2 0 0-7z" color="#238a8d"/><path d="M1160 176l0 7-3 0 0-7zM1160 211l0 7-3 0 0-7zM1157 169l0 7-2 0 0-7zM1157 218l0 7-2 0 0-7zM1139 141l0 7-3 0 1-7zM1139 246l0 7-2 0-1-7zM1134 134l0 7-3 0 0-7zM1134 253l0 7-3 0 0-7zM1150 155l-1 7-2 0 0-7zM1149 232l1 7-3 0 0-7zM1129 127l0 7-3 0 0-7zM1129 260l0 7-3 0 0-7zM1144 148l0 7-2 0 0-7zM1144 239l0 7-2 0 0-7zM1085 141l-1 7-2 0 0-7zM1084 246l1 7-3 0 0-7zM1113 141l-1 7-1 0 0-6zM1112 247l1 6-2-1 0-6z" color="#218e8d"/><path d="M1160 183l0 7-3 0 0-7zM1160 204l0 7-3 0 0-7zM1116 127l-1 7-2 0 1-6zM1115 261l1 6-2-1-1-6zM1082 141l0 7-3 0 0-7zM1082 246l0 7-3 0 0-7zM1152 162l0 7-3 0 0-7zM1152 225l0 7-3 0 0-7zM1098 190l0 7-3 0 0-7zM1098 197l0 7-3 0 0-7zM1126 260l0 7-3 0 0-7zM1126 127l0 7-3 0 0-7zM1090 148l0 7-3 0 0-7zM1090 239l0 7-3 0 0-7zM1131 134l0 7-2 0 0-7zM1131 253l0 7-2 0 0-7zM1079 141l0 7-3 0 1-7zM1079 246l0 7-2 0-1-7zM1160 190l0 7-3 0 0-7zM1160 197l0 7-3 0 0-7zM1137 141l-1 7-2 0 0-7zM1136 246l1 7-3 0 0-7z" color="#20928c"/><path d="M1157 176l0 7-2 0 0-7zM1157 211l0 7-2 0 0-7zM1155 169l0 7-3 0 0-7zM1155 218l0 7-3 0 0-7zM1142 148l0 7-3 0 0-7zM1142 239l0 7-3 0 0-7zM1147 155l0 7-3 0 0-7zM1147 232l0 7-3 0 0-7zM1077 141l-1 7-2 0 0-7zM1076 246l1 7-3 0 0-7zM1093 155l-1 7-3 0 1-7zM1092 232l1 7-3 0-1-7zM1123 127l0 7-2 0 0-7zM1123 260l0 7-2 0 0-7zM1095 169l0 7-3 0 0-7zM1095 218l0 7-3 0 0-7zM1110 162l-1 7-1 0 1-6zM1109 226l1 7-1-1-1-7z" color="#1f968b"/><path d="M1129 134l0 7-3 0 0-7zM1129 253l0 7-3 0 0-7zM1157 183l0 7-2 0 0-7zM1157 204l0 7-2 0 0-7zM1149 162l0 7-2 0 0-7zM1149 225l0 7-2 0 0-7zM1087 148l0 7-3 0 0-7zM1087 239l0 7-3 0 0-7zM1134 141l0 7-3 0 0-7zM1134 246l0 7-3 0 0-7zM1107 197l0 7-1 0-1-7zM1107 190l0 7-2 0 1-7zM1139 148l0 7-3 0 0-7zM1139 239l0 7-3 0 0-7zM1144 155l0 7-3 0 1-7zM1144 232l0 7-2 0-1-7zM1121 127l0 7-3 0 0-7zM1121 260l0 7-3 0 0-6z" color="#1f9a8a"/><path d="M1155 176l0 7-3 0 0-7zM1155 211l0 7-3 0 0-7zM1157 190l0 7-2 0 0-7zM1157 197l0 7-2 0 0-7zM1152 169l0 7-3 0 0-7zM1152 218l0 7-3 0 0-7zM1126 134l0 7-3 0 0-7zM1126 253l0 7-3 0 0-6zM1084 148l0 7-3 0 1-7zM1084 239l0 7-2 0-1-6zM1118 261l0 6-2 0-1-6zM1118 127l0 7-3 0 1-7z" color="#1f9e89"/><path d="M1131 246l0 7-2 0-1-6zM1131 141l0 7-3 0 1-7zM1082 148l-1 7-2 0 0-7zM1081 240l1 6-3 0 0-6zM1079 148l0 7-3 0 0-7zM1079 240l0 6-3 0 0-7zM1095 176l0 7-4 0 1-7zM1095 211l0 7-3 0-1-7zM1076 148l0 7-3 0 1-7zM1076 239l0 7-2 0-1-7zM1115 134l0 6-2 1 0-7zM1115 254l0 7-2-1 0-7zM1147 162l0 7-3 0 0-7zM1147 225l0 7-3 0 0-7zM1136 148l0 7-2 0 0-7zM1136 239l0 7-2 0 0-6zM1142 155l-1 7-2 0 0-7zM1141 232l1 7-3 0 0-6zM1123 134l0 7-3 0 1-7zM1123 254l0 6-2 0-1-6zM1155 183l0 7-3 0 0-7zM1155 204l0 7-3 0 0-7z" color="#1fa187"/><path d="M1090 155l-1 7-3 0 1-7zM1089 232l1 7-3 0-1-6zM1149 169l0 7-2 0 0-7zM1149 218l0 7-2 0 0-7zM1112 148l0 6-2 1 1-7zM1112 240l0 7-1-1-1-7zM1152 176l0 7-3 0 0-7zM1152 211l0 7-3 0 0-7zM1155 190l0 7-3 0 0-7zM1155 197l0 7-3 0 0-7zM1092 162l0 7-3 0 0-7zM1092 225l0 7-3 0 0-6zM1129 141l-1 7-2 0 0-7zM1128 247l1 6-3 0 0-6zM1121 134l-1 7-2-1 0-6zM1120 254l1 6-3 1 0-7zM1095 183l0 7-4 0 0-7zM1095 204l0 7-4 0 0-7z" color="#21a585"/><path d="M1134 148l0 7-3 0 0-7zM1134 240l0 6-3 0 0-6zM1144 162l0 7-3 0 0-7zM1144 225l0 7-3 0 0-7zM1139 155l0 7-3 0 0-7zM1139 233l0 6-3 0 0-6zM1118 134l0 6-3 0 0-6zM1118 254l0 7-3 0 0-7zM1095 190l0 7-4 0 0-7zM1095 197l0 7-4 0 0-7zM1126 141l0 7-3-1 0-6zM1126 247l0 6-3 1 0-7zM1087 155l-1 7-3 0 1-7zM1086 233l1 6-3 0-1-6zM1109 169l0 7-1 0 0-7zM1109 219l0 7-1-1 0-7zM1152 183l0 7-3 0 0-7zM1152 204l0 7-3 0 0-7z" color="#23a983"/><path d="M1147 169l0 7-3 0 0-7zM1147 218l0 7-3 0 0-7zM1076 155l-1 7-2 0 0-7zM1075 233l1 6-3 0 0-6zM1149 176l0 7-2 0 0-7zM1149 211l0 7-2 0 0-7zM1131 240l0 6-3 1 0-7zM1131 148l0 7-3-1 0-6zM1079 155l-1 7-3 0 1-7zM1078 233l1 7-3-1-1-6zM1152 197l0 7-3 0 0-7zM1152 190l0 7-3 0 0-7zM1084 155l-1 7-2 0 0-7zM1083 233l1 6-3 1 0-7zM1123 141l0 6-3 0 0-6zM1123 247l0 7-3 0 0-7zM1115 140l0 7-3 1 1-7zM1115 247l0 7-2-1-1-6z" color="#26ad81"/><path d="M1141 162l0 7-2 0 0-7zM1141 225l0 7-2 1 0-7zM1136 155l0 7-3 0 1-7zM1136 233l0 6-2 1-1-7zM1081 155l0 7-3 0 1-7zM1081 233l0 7-2 0-1-7zM1092 169l0 7-4 0 1-7zM1092 218l0 7-3 1-1-7zM1120 141l0 6-3 0 1-7zM1120 247l0 7-2 0-1-7z" color="#2ab07f"/><path d="M1128 148l0 6-3 0 1-6zM1128 240l0 7-2 0-1-7zM1089 226l0 6-3 1 0-7zM1089 162l0 7-3 0 0-7zM1149 183l0 7-2 0 0-7zM1149 204l0 7-2 0 0-7zM1144 169l0 7-3 0 0-7zM1144 218l0 7-3 0 0-6zM1118 140l-1 7-2 0 0-7zM1117 247l1 7-3 0 0-7zM1112 154l0 7-2 1 0-7zM1112 233l0 7-2-1 0-6zM1134 155l-1 7-2-1 0-6zM1133 233l1 7-3 0 0-7zM1147 176l0 7-3 0 0-7zM1147 211l0 7-3 0 0-7zM1139 162l0 7-3 0 0-7zM1139 226l0 7-3 0 0-7z" color="#2fb47c"/><path d="M1149 190l0 7-2 0 0-7zM1149 197l0 7-2 0 0-7zM1109 176l0 7-2 0 1-7zM1109 211l0 8-1-1-1-7zM1126 148l-1 6-2 0 0-7zM1125 240l1 7-3 0 0-7zM1075 162l0 7-3 0 1-7zM1075 226l0 7-2 0-1-7z" color="#35b779"/><path d="M1086 162l0 7-3-1 0-6zM1086 226l0 7-3 0 0-7zM1141 169l0 7-2 0 0-7zM1141 219l0 6-2 1 0-7zM1115 147l0 7-3 0 0-6zM1115 240l0 7-3 0 0-7zM1078 162l0 7-3 0 0-7zM1078 226l0 7-3 0 0-7zM1092 176l-1 7-3 0 0-7zM1091 211l1 7-4 1 0-8zM1131 155l0 6-3 0 0-7zM1131 233l0 7-3 0 0-7zM1123 147l0 7-3 0 0-7zM1123 240l0 7-3 0 0-7zM1147 204l0 7-3 0 0-7zM1147 183l0 7-3 0 0-7zM1136 226l0 7-3 0 0-7zM1136 162l0 7-3-1 0-6z" color="#3bbb75"/><path d="M1144 176l0 7-3 0 0-7zM1144 211l0 7-3 1 0-8zM1081 162l-1 6-2 1 0-7zM1080 226l1 7-3 0 0-7zM1083 162l0 6-3 0 1-6zM1083 226l0 7-2 0-1-7zM1109 183l0 7-2 0 0-7zM1109 204l0 7-2 0 0-7zM1120 147l0 7-3 0 0-7zM1120 240l0 7-3 0 0-7zM1147 190l0 7-3 0 0-7zM1147 197l0 7-3 0 0-7zM1109 190l0 7-2 0 0-7zM1109 197l0 7-2 0 0-7z" color="#42be71"/><path d="M1117 147l0 7-2 0 0-7zM1117 240l0 7-2 0 0-7zM1128 154l0 7-3 0 0-7zM1128 233l0 7-3 0 0-7zM1139 169l0 7-3 0 0-7zM1139 219l0 7-3 0 0-7zM1089 169l-1 7-3 0 1-7zM1088 219l1 7-3 0-1-7zM1112 161l0 7-3 1 1-7zM1112 226l0 7-2 0-1-7zM1091 183l0 7-3 0 0-7zM1091 204l0 7-3 0 0-7zM1075 169l0 7-3 0 0-7zM1075 219l0 7-3 0 0-7zM1133 162l0 6-3 0 1-7zM1133 226l0 7-2 0-1-7z" color="#4ac16d"/><path d="M1144 183l0 7-3 0 0-7zM1144 204l0 7-3 0 0-7zM1141 176l0 7-3 0 1-7zM1141 211l0 8-2 0-1-8zM1125 233l0 7-2 0-1-7zM1125 154l0 7-3 0 1-7zM1091 197l0 7-3 0-1-7zM1091 190l0 7-4 0 1-7zM1078 169l-1 7-2 0 0-7zM1077 219l1 7-3 0 0-7zM1115 154l-1 7-2 0 0-7zM1114 233l1 7-3 0 0-7z" color="#52c569"/><path d="M1144 190l0 7-3 0 0-7zM1144 197l0 7-3 0 0-7zM1136 169l0 7-3 0 0-8zM1136 219l0 7-3 0 0-7zM1086 169l-1 7-3 0 1-8zM1085 219l1 7-3 0-1-7zM1130 226l1 7-3 0 0-7zM1131 161l-1 7-2 0 0-7zM1123 154l-1 7-2 0 0-7zM1122 233l1 7-3 0 0-7zM1080 168l0 8-3 0 1-7zM1080 219l0 7-2 0-1-7z" color="#5ac864"/><path d="M1141 183l0 7-3 0 0-7zM1141 204l0 7-3 0 0-7zM1139 176l-1 7-2 0 0-7zM1138 211l1 8-3 0 0-7zM1075 176l-1 7-2 0 0-7zM1074 212l1 7-3 0 0-8zM1083 168l-1 8-2 0 0-8zM1082 219l1 7-3 0 0-7zM1111 219l1 7-3 0 0-7zM1112 168l-1 7-2 1 0-7zM1120 154l0 7-3 0 0-7zM1120 233l0 7-3 0 0-7zM1088 176l0 7-3 0 0-7zM1088 211l0 8-3 0 0-7zM1117 154l0 7-3 0 1-7zM1117 233l0 7-2 0-1-7z" color="#65cb5e"/><path d="M1128 161l0 7-3 0 0-7zM1128 226l0 7-3 0 0-7zM1141 190l0 7-3 0 0-7zM1141 197l0 7-3 0 0-7zM1133 168l0 8-3-1 0-7zM1133 219l0 7-3 0 0-7zM1077 212l0 7-2 0-1-7zM1077 176l0 7-3 0 1-7z" color="#6ece58"/><path d="M1074 183l0 7-2 0 0-7zM1074 204l0 8-2-1 0-7zM1136 176l0 7-3 0 0-7zM1136 212l0 7-3 0 0-7zM1138 183l0 7-2 0 0-7zM1138 204l0 7-2 1 0-8zM1114 161l0 7-2 0 0-7zM1114 226l0 7-2 0 0-7zM1125 226l0 7-3 0 0-7zM1125 161l0 7-3 0 0-7zM1111 175l0 8-2 0 0-7zM1111 212l0 7-2 0 0-8zM1085 176l0 7-3 0 0-7zM1085 212l0 7-3 0 0-7z" color="#77d153"/><path d="M1074 190l0 7-2 0 0-7zM1074 197l0 7-2 0 0-7zM1079 212l1 7-3 0 0-7zM1080 176l-1 7-2 0 0-7zM1088 183l0 7-4 0 1-7zM1088 204l0 7-3 1-1-8zM1130 168l0 7-3 0 1-7zM1130 219l0 7-2 0-1-7zM1138 197l0 7-2 0 0-7zM1138 190l0 7-2 0 0-7zM1082 176l0 7-3 0 1-7zM1082 212l0 7-2 0-1-7zM1077 183l-1 7-2 0 0-7zM1076 204l1 8-3 0 0-8zM1122 161l0 7-3 0 1-7zM1122 226l0 7-2 0-1-7z" color="#81d34d"/><path d="M1133 176l0 7-3 0 0-8zM1133 212l0 7-3 0 0-7zM1136 204l0 8-3 0 0-8zM1136 183l0 7-3 0 0-7zM1111 183l0 7-2 0 0-7zM1111 204l0 8-2-1 0-7zM1088 190l-1 7-3 0 0-7zM1087 197l1 7-4 0 0-7zM1120 161l-1 7-2 0 0-7zM1119 226l1 7-3 0 0-7zM1076 190l0 7-2 0 0-7zM1076 197l0 7-2 0 0-7zM1117 161l0 7-3 0 0-7zM1117 226l0 7-3 0 0-7zM1128 168l-1 7-2 0 0-7zM1127 219l1 7-3 0 0-7z" color="#8bd646"/><path d="M1111 190l0 7-2 0 0-7zM1111 197l0 7-2 0 0-7zM1085 183l-1 7-2 0 0-7zM1084 204l1 8-3 0 0-8zM1079 204l0 8-2 0-1-8zM1079 183l0 7-3 0 1-7zM1136 190l0 7-3 0 0-7zM1136 197l0 7-3 0 0-7zM1114 168l0 7-3 0 1-7zM1114 219l0 7-2 0-1-7z" color="#95d840"/><path d="M1082 183l0 7-3 0 0-7zM1082 204l0 8-3 0 0-8zM1130 175l0 8-3 0 0-8zM1130 212l0 7-3 0 0-7zM1125 219l0 7-3 0 0-7zM1125 168l0 7-3 0 0-7zM1133 183l0 7-3 0 0-7zM1133 204l0 8-3 0 0-8zM1079 190l0 7-3 0 0-7zM1079 197l0 7-3 0 0-7zM1084 190l0 7-2 0 0-7zM1084 197l0 7-2 0 0-7z" color="#a0da39"/><path d="M1082 190l0 7-3 0 0-7zM1082 197l0 7-3 0 0-7zM1122 168l0 7-3 0 0-7zM1122 219l0 7-3 0 0-7zM1133 190l0 7-3 0 0-7zM1133 197l0 7-3 0 0-7z" color="#aadc32"/><path d="M1127 212l0 7-2 0-1-7zM1127 175l0 8-3 0 1-8zM1117 168l-1 7-2 0 0-7zM1116 219l1 7-3 0 0-7zM1119 168l0 7-3 0 1-7zM1119 219l0 7-2 0-1-7zM1114 175l-1 7-2 1 0-8zM1113 212l1 7-3 0 0-7zM1130 183l0 7-3 0 0-7zM1130 204l0 8-3 0 0-8z" color="#b5de2b"/><path d="M1125 175l-1 8-2-1 0-7zM1124 212l1 7-3 0 0-7zM1130 190l0 7-3 0 0-7zM1130 197l0 7-3 0 0-7z" color="#c0df25"/><path d="M1127 183l0 7-3 0 0-7zM1127 204l0 8-3 0 0-8zM1113 182l0 8-2 0 0-7zM1113 204l0 8-2 0 0-8zM1122 175l0 7-3 0 0-7zM1122 212l0 7-3 0 0-7z" color="#cae11f"/><path d="M1116 175l0 7-3 0 1-7zM1116 212l0 7-2 0-1-7zM1127 190l0 7-3 0 0-7zM1127 197l0 7-3 0 0-7zM1119 175l0 7-3 0 0-7zM1119 212l0 7-3 0 0-7zM1113 190l0 7-2 0 0-7zM1113 197l0 7-2 0 0-7zM1124 183l0 7-2 0 0-8zM1124 204l0 8-2 0 0-8z" color="#d5e21a"/><path d="M1124 190l0 7-2 0 0-7zM1124 197l0 7-2 0 0-7zM1122 182l0 8-3 0 0-8zM1122 204l0 8-3 0 0-8zM1116 204l0 8-3 0 0-8zM1116 182l0 8-3 0 0-8z" color="#eae51a"/><path d="M1119 182l0 8-3 0 0-8zM1119 204l0 8-3 0 0-8zM1122 190l0 7-3 0 0-7zM1122 197l0 7-3 0 0-7z" color="#f4e61e"/><path d="M1116 190l0 7-3 0 0-7zM1116 197l0 7-3 0 0-7zM1119 190l0 7-3 0 0-7zM1119 197l0 7-3 0 0-7z" color="#fde725"/></g><g id="text_45"><text style="font-size: 12px; font-family: 'DejaVu Sans'; text-anchor: start" x="501.6" y="29.8" transform="rotate(-0 501.6 29.8)">(c)</text></g></g><g id="patch_14"><path d="M 136 325.1 L 292.3 325.1 L 292.3 196.1 L 136 196.1 z" style="fill: #ffffff"/></g><g id="pane3d_10"><g id="patch_15"><path d="M 203.2 265 L 277.8 285.1 L 281.3 219.2 L 202.5 201.4" style="fill: #f2f2f2; opacity: 0.5; stroke: #f2f2f2; stroke-linejoin: miter"/></g></g><g id="pane3d_11"><g id="patch_16"><path d="M 203.2 265 L 152.9 297.5 L 149.3 230.3 L 202.5 201.4" style="fill: #e6e6e6; opacity: 0.5; stroke: #e6e6e6; stroke-linejoin: miter"/></g></g><g id="pane3d_12"><g id="patch_17"><path d="M 203.2 265 L 152.9 297.5 L 231.2 320.9 L 277.8 285.1" style="fill: #ececec; opacity: 0.5; stroke: #ececec; stroke-linejoin: miter"/></g></g><g id="grid3d_10"><g id="Line3DCollection_8"><path d="M 275.9 286.6 L 201 266.4 L 200.2 202.6" style="fill: none; stroke: #b0b0b0; stroke-width: 0.8"/><path d="M 265.8 294.3 L 190.2 273.4 L 188.8 208.8" style="fill: none; stroke: #b0b0b0; stroke-width: 0.8"/><path d="M 255.5 302.3 L 179 280.6 L 177 215.3" style="fill: none; stroke: #b0b0b0; stroke-width: 0.8"/><path d="M 244.7 310.6 L 167.4 288.1 L 164.7 222" style="fill: none; stroke: #b0b0b0; stroke-width: 0.8"/></g></g><g id="grid3d_11"><g id="Line3DCollection_9"><path d="M 205.5 202.1 L 206.1 265.8 L 156 298.4" style="fill: none; stroke: #b0b0b0; stroke-width: 0.8"/><path d="M 221.4 205.7 L 221.1 269.9 L 171.7 303.1" style="fill: none; stroke: #b0b0b0; stroke-width: 0.8"/><path d="M 237.6 209.3 L 236.5 274 L 187.8 307.9" style="fill: none; stroke: #b0b0b0; stroke-width: 0.8"/><path d="M 254.1 213.1 L 252.2 278.2 L 204.2 312.9" style="fill: none; stroke: #b0b0b0; stroke-width: 0.8"/><path d="M 271 216.9 L 268.2 282.5 L 221 317.9" style="fill: none; stroke: #b0b0b0; stroke-width: 0.8"/></g></g><g id="grid3d_12"><g id="Line3DCollection_10"><path d="M 152.9 296.2 L 203.1 263.8 L 277.9 283.8" style="fill: none; stroke: #b0b0b0; stroke-width: 0.8"/><path d="M 152.2 283.9 L 203 252.1 L 278.5 271.7" style="fill: none; stroke: #b0b0b0; stroke-width: 0.8"/><path d="M 151.5 271.3 L 202.9 240.1 L 279.2 259.3" style="fill: none; stroke: #b0b0b0; stroke-width: 0.8"/><path d="M 150.8 258.4 L 202.8 227.9 L 279.8 246.7" style="fill: none; stroke: #b0b0b0; stroke-width: 0.8"/><path d="M 150.1 245.2 L 202.6 215.4 L 280.5 233.8" style="fill: none; stroke: #b0b0b0; stroke-width: 0.8"/><path d="M 149.4 231.8 L 202.5 202.7 L 281.2 220.6" style="fill: none; stroke: #b0b0b0; stroke-width: 0.8"/></g></g><g id="axis3d_10"><g id="line2d_45"><path d="M 277.8 285.1 L 231.2 320.9" style="fill: none; stroke: #000000; stroke-width: 0.8; stroke-linecap: square"/></g><g id="xtick_36"><g id="line2d_46"><path d="M 275.3 286.4 L 277.1 286.9" style="fill: none; stroke: #000000; stroke-width: 0.8; stroke-linecap: square"/></g><g id="text_46" transform="translate(-7.6 -7.5)"><text style="font-size: 10px; font-family: 'DejaVu Sans'; text-anchor: middle" x="287.5" y="307.1" transform="rotate(-0 287.5 307.1)">-2.0</text></g></g><g id="xtick_37"><g id="line2d_47"><path d="M 265.2 294.1 L 267.1 294.6" style="fill: none; stroke: #000000; stroke-width: 0.8; stroke-linecap: square"/></g><g id="text_47" transform="translate(-7.6 -7.5)"><text style="font-size: 10px; font-family: 'DejaVu Sans'; text-anchor: middle" x="277.7" y="315" transform="rotate(-0 277.7 315)">-1.0</text></g></g><g id="xtick_38"><g id="line2d_48"><path d="M 254.8 302.1 L 256.7 302.6" style="fill: none; stroke: #000000; stroke-width: 0.8; stroke-linecap: square"/></g><g id="text_48" transform="translate(-7.6 -7.5)"><text style="font-size: 10px; font-family: 'DejaVu Sans'; text-anchor: middle" x="267.5" y="323.3" transform="rotate(-0 267.5 323.3)">0.0</text></g></g><g id="xtick_39"><g id="line2d_49"><path d="M 244 310.4 L 246 310.9" style="fill: none; stroke: #000000; stroke-width: 0.8; stroke-linecap: square"/></g><g id="text_49" transform="translate(-7.6 -7.5)"><text style="font-size: 10px; font-family: 'DejaVu Sans'; text-anchor: middle" x="257" y="331.8" transform="rotate(-0 257 331.8)">1.0</text></g></g><g id="text_50" transform="translate(-6 -5)"><text style="font-size: 10px; font-family: 'DejaVu Sans'; text-anchor: middle" x="283.7" y="333.9" transform="rotate(-37.56 283.7 333.9)">X (Å)</text></g></g><g id="axis3d_11"><g id="line2d_50"><path d="M 152.9 297.5 L 231.2 320.9" style="fill: none; stroke: #000000; stroke-width: 0.8; stroke-linecap: square"/></g><g id="xtick_40"><g id="line2d_51"><path d="M 156.4 298.1 L 155.1 299" style="fill: none; stroke: #000000; stroke-width: 0.8; stroke-linecap: square"/></g><g id="text_51" transform="translate(5.4 -12.4)"><text style="font-size: 10px; font-family: 'DejaVu Sans'" transform="translate(140.3 328.6) rotate(-24)">-2.0</text></g></g><g id="xtick_41"><g id="line2d_52"><path d="M 172.1 302.8 L 170.9 303.7" style="fill: none; stroke: #000000; stroke-width: 0.8; stroke-linecap: square"/></g><g id="text_52" transform="translate(5.4 -12.4)"><text style="font-size: 10px; font-family: 'DejaVu Sans'" transform="translate(157.7 332.1) rotate(-24)">3.0</text></g></g><g id="xtick_42"><g id="line2d_53"><path d="M 188.2 307.6 L 186.9 308.5" style="fill: none; stroke: #000000; stroke-width: 0.8; stroke-linecap: square"/></g><g id="text_53" transform="translate(5.4 -12.4)"><text style="font-size: 10px; font-family: 'DejaVu Sans'" transform="translate(173.7 337.1) rotate(-24)">8.0</text></g></g><g id="xtick_43"><g id="line2d_54"><path d="M 204.6 312.6 L 203.4 313.5" style="fill: none; stroke: #000000; stroke-width: 0.8; stroke-linecap: square"/></g><g id="text_54" transform="translate(5.4 -12.4)"><text style="font-size: 10px; font-family: 'DejaVu Sans'" transform="translate(187.2 344.8) rotate(-24)">13.0</text></g></g><g id="xtick_44"><g id="line2d_55"><path d="M 221.4 317.6 L 220.2 318.5" style="fill: none; stroke: #000000; stroke-width: 0.8; stroke-linecap: square"/></g><g id="text_55" transform="translate(5.4 -12.4)"><text style="font-size: 10px; font-family: 'DejaVu Sans'" transform="translate(204 350) rotate(-24)">18.0</text></g></g><g id="text_56" transform="translate(4.2 -6.2)"><text style="font-size: 10px; font-family: 'DejaVu Sans'; text-anchor: middle" x="172.8" y="346.4" transform="rotate(-343.34 172.8 346.4)">Y (Å)</text></g></g><g id="axis3d_12"><g id="line2d_56"><path d="M 152.9 297.5 L 149.3 230.3" style="fill: none; stroke: #000000; stroke-width: 0.8; stroke-linecap: square"/></g><g id="xtick_45"><g id="line2d_57"><path d="M 153.3 295.9 L 152 296.8" style="fill: none; stroke: #000000; stroke-width: 0.8; stroke-linecap: square"/></g><g id="text_57" transform="translate(3.1 -1.5)"><text style="font-size: 10px; font-family: 'DejaVu Sans'; text-anchor: middle" x="132.9" y="305.8" transform="rotate(-0 132.9 305.8)">0.0</text></g></g><g id="xtick_46"><g id="line2d_58"><path d="M 152.6 283.6 L 151.3 284.4" style="fill: none; stroke: #000000; stroke-width: 0.8; stroke-linecap: square"/></g><g id="text_58" transform="translate(3.1 -1.5)"><text style="font-size: 10px; font-family: 'DejaVu Sans'; text-anchor: middle" x="132" y="293.4" transform="rotate(-0 132 293.4)">0.2</text></g></g><g id="xtick_47"><g id="line2d_59"><path d="M 152 271 L 150.6 271.8" style="fill: none; stroke: #000000; stroke-width: 0.8; stroke-linecap: square"/></g><g id="text_59" transform="translate(3.1 -1.5)"><text style="font-size: 10px; font-family: 'DejaVu Sans'; text-anchor: middle" x="131.1" y="280.8" transform="rotate(-0 131.1 280.8)">0.4</text></g></g><g id="xtick_48"><g id="line2d_60"><path d="M 151.3 258.1 L 149.9 258.9" style="fill: none; stroke: #000000; stroke-width: 0.8; stroke-linecap: square"/></g><g id="text_60" transform="translate(3.1 -1.5)"><text style="font-size: 10px; font-family: 'DejaVu Sans'; text-anchor: middle" x="130.1" y="267.9" transform="rotate(-0 130.1 267.9)">0.6</text></g></g><g id="xtick_49"><g id="line2d_61"><path d="M 150.6 245 L 149.2 245.7" style="fill: none; stroke: #000000; stroke-width: 0.8; stroke-linecap: square"/></g><g id="text_61" transform="translate(3.1 -1.5)"><text style="font-size: 10px; font-family: 'DejaVu Sans'; text-anchor: middle" x="129.2" y="254.7" transform="rotate(-0 129.2 254.7)">0.8</text></g></g><g id="xtick_50"><g id="line2d_62"><path d="M 149.8 231.5 L 148.4 232.3" style="fill: none; stroke: #000000; stroke-width: 0.8; stroke-linecap: square"/></g><g id="text_62" transform="translate(3.1 -1.5)"><text style="font-size: 10px; font-family: 'DejaVu Sans'; text-anchor: middle" x="128.2" y="241.2" transform="rotate(-0 128.2 241.2)">1.0</text></g></g><g id="text_63" transform="translate(7.7 -5.3) rotate(180 106.2 269)"><g transform="translate(102.4 249.8) rotate(-273.101591)"><text><tspan x="0" y="-0.4" style="font-size: 10px; font-family: 'DejaVu Sans'">I</tspan><tspan x="16.6" y="-0.4" style="font-size: 10px; font-family: 'DejaVu Sans'"></tspan><tspan x="19.8" y="-0.4" style="font-size: 10px; font-family: 'DejaVu Sans'">(</tspan><tspan x="23.7" y="-0.4" style="font-size: 10px; font-family: 'DejaVu Sans'">E</tspan><tspan x="34.8" y="-0.4" style="font-size: 10px; font-family: 'DejaVu Sans'">)</tspan><tspan x="3" y="1.2" style="font-style: oblique; font-size: 7px; font-family: 'DejaVu Sans'">E</tspan><tspan x="7.5" y="1.2" style="font-style: oblique; font-size: 7px; font-family: 'DejaVu Sans'">K</tspan><tspan x="12.1" y="1.2" style="font-style: oblique; font-size: 7px; font-family: 'DejaVu Sans'">T</tspan><tspan x="30.1" y="1.2" style="font-style: oblique; font-size: 7px; font-family: 'DejaVu Sans'">h</tspan></text></g></g></g><g id="axes_4"><g id="surf_1_0" transform="scale(0.5)" fill="currentColor" stroke="currentColor" stroke-width="1.2"><path d="M404 462l-4-1 3-1 4 1z" color="#22a785"/><path d="M407 461l-4-1 4-1 3 1z" color="#24aa83"/><path d="M410 460l-3-1 3-1 3 1z" color="#27ad81"/><path d="M400 461l-3-1 3-1 3 1z" color="#26ad81"/><path d="M413 459l-3-1 3-1 3 1z" color="#2cb17e"/><path d="M403 460l-3-1 3-2 4 2z" color="#2ab07f"/><path d="M416 458l-3-1 3-1 3 1z" color="#2fb47c"/><path d="M407 459l-4-2 3-1 4 2z" color="#2fb47c"/><path d="M397 460l-4-2 3-1 4 2z" color="#2fb47c"/><path d="M419 457l-3-1 3-1 4 0z" color="#35b779"/><path d="M410 458l-4-2 3-1 4 2z" color="#35b779"/><path d="M400 459l-4-2 3-2 4 2z" color="#35b779"/><path d="M423 455l-4 0 3-1 4 0z" color="#3bbb75"/><path d="M413 457l-4-2 3-1 4 2z" color="#3bbb75"/><path d="M426 454l-4 0 3 0 4 1z" color="#3fbc73"/><path d="M403 457l-4-2 3-1 4 2z" color="#3bbb75"/><path d="M429 455l-4-1 3 1 4 1z" color="#3fbc73"/><path d="M416 456l-4-2 3-1 4 2z" color="#40bd72"/><path d="M393 458l-4-2 3-1 4 2z" color="#3bbb75"/><path d="M432 456l-4-1 4 1 3 0z" color="#3fbc73"/><path d="M406 456l-4-2 3-1 4 2z" color="#42be71"/><path d="M520 545l-3 2 3 3 3-2z" color="#472d7b"/><path d="M517 540l-3 2 3 5 3-2z" color="#463480"/><path d="M523 548l-3 2 3 3 4-3z" color="#482878"/><path d="M419 455l-4-2 3-1 4 2z" color="#48c16e"/><path d="M527 550l-4 3 3 2 4-2z" color="#482374"/><path d="M396 457l-4-2 3-2 4 2z" color="#42be71"/><path d="M435 456l-3 0 3 1 3 0z" color="#40bd72"/><path d="M514 535l-3 2 3 5 3-2z" color="#433e85"/><path d="M530 553l-4 2 4 3 3-2z" color="#481d6f"/><path d="M533 556l-3 2 3 2 3-2z" color="#481a6c"/><path d="M536 558l-3 2 3 3 3-2z" color="#481467"/><path d="M511 531l-4 2 4 4 3-2z" color="#3f4889"/><path d="M409 455l-4-2 3-1 4 2z" color="#4ac16d"/><path d="M539 561l-3 2 3 3 3-3z" color="#470e61"/><path d="M422 454l-4-2 4 1 3 1z" color="#4ac16d"/><path d="M438 457l-3 0 3 0 3 0z" color="#40bd72"/><path d="M542 563l-3 3 3 2 4-2z" color="#46085c"/><path d="M508 526l-4 2 3 5 4-2z" color="#3b518b"/><path d="M546 566l-4 2 4 3 3-2z" color="#450457"/><path d="M399 455l-4-2 3-2 4 3z" color="#4cc26c"/><path d="M505 521l-4 2 3 5 4-2z" color="#375b8d"/><path d="M425 454l-3-1 3 1 3 1z" color="#4cc26c"/><path d="M441 457l-3 0 3 1 4 0z" color="#40bd72"/><path d="M517 547l-4 2 4 3 3-2z" color="#472d7b"/><path d="M514 542l-4 2 3 5 4-2z" color="#463480"/><path d="M412 454l-4-2 4-1 3 2z" color="#50c46a"/><path d="M520 550l-3 2 3 3 3-2z" color="#482878"/><path d="M389 456l-4-2 3-1 4 2z" color="#4ac16d"/><path d="M502 516l-4 2 3 5 4-2z" color="#33638d"/><path d="M523 553l-3 2 3 2 3-2z" color="#482475"/><path d="M428 455l-3-1 3 1 4 1z" color="#4ac16d"/><path d="M511 537l-4 3 3 4 4-2z" color="#423f85"/><path d="M526 555l-3 2 3 3 4-2z" color="#481f70"/><path d="M445 458l-4 0 3 1 4 0z" color="#40bd72"/><path d="M498 511l-3 2 3 5 4-2z" color="#2f6c8e"/><path d="M530 558l-4 2 3 3 4-3z" color="#481a6c"/><path d="M533 560l-4 3 4 2 3-2z" color="#481467"/><path d="M402 454l-4-3 3-1 4 3z" color="#54c568"/><path d="M507 533l-3 2 3 5 4-3z" color="#3e4989"/><path d="M536 563l-3 2 3 3 3-2z" color="#471063"/><path d="M495 506l-3 2 3 5 3-2z" color="#2b748e"/><path d="M432 456l-4-1 3 1 4 1z" color="#4ac16d"/><path d="M415 453l-3-2 3 0 3 1z" color="#58c765"/><path d="M448 459l-4 0 3 1 4-1z" color="#40bd72"/><path d="M539 566l-3 2 3 3 3-3z" color="#460a5d"/><path d="M504 528l-3 2 3 5 3-2z" color="#3b528b"/><path d="M542 568l-3 3 3 2 4-2z" color="#450457"/><path d="M392 455l-4-2 3-2 4 2z" color="#56c667"/><path d="M435 457l-4-1 3 1 4 0z" color="#4ac16d"/><path d="M501 523l-3 2 3 5 3-2z" color="#365c8d"/><path d="M492 499l-3 1 3 8 3-2z" color="#277f8e"/><path d="M513 549l-3 3 3 2 4-2z" color="#472e7c"/><path d="M418 452l-3-1 3 0 4 2z" color="#5ac864"/><path d="M405 453l-4-3 4 0 3 2z" color="#5cc863"/><path d="M451 459l-4 1 4-1 3 0z" color="#42be71"/><path d="M510 544l-3 3 3 5 3-3z" color="#453581"/><path d="M517 552l-4 2 3 3 4-2z" color="#482979"/><path d="M498 518l-3 2 3 5 3-2z" color="#32648e"/><path d="M520 555l-4 2 4 3 3-3z" color="#482475"/><path d="M438 457l-4 0 3 1 4 0z" color="#48c16e"/><path d="M523 557l-3 3 3 2 3-2z" color="#481f70"/><path d="M507 540l-3 2 3 5 3-3z" color="#424086"/><path d="M495 513l-3 2 3 5 3-2z" color="#2e6d8e"/><path d="M422 453l-4-2 3 1 4 2z" color="#5ac864"/><path d="M526 560l-3 2 3 3 3-2z" color="#481b6d"/><path d="M529 563l-3 2 3 3 4-3z" color="#481668"/><path d="M395 453l-4-2 3-2 4 2z" color="#60ca60"/><path d="M489 491l-3 2 3 7 3-1z" color="#228c8d"/><path d="M504 535l-3 2 3 5 3-2z" color="#3e4989"/><path d="M441 458l-4 0 4 1 3 0z" color="#48c16e"/><path d="M454 459l-3 0 3 0 3-1z" color="#48c16e"/><path d="M533 565l-4 3 3 2 4-2z" color="#471063"/><path d="M492 508l-4 2 4 5 3-2z" color="#2b758e"/><path d="M408 452l-3-2 3-1 4 2z" color="#63cb5f"/><path d="M536 568l-4 2 4 3 3-2z" color="#460a5d"/><path d="M385 454l-4-2 3-2 4 3z" color="#5cc863"/><path d="M425 454l-4-2 3 2 4 1z" color="#58c765"/><path d="M501 530l-4 2 4 5 3-2z" color="#3a538b"/><path d="M539 571l-3 2 3 3 3-3z" color="#450457"/><path d="M444 459l-3 0 3 1 3 0z" color="#48c16e"/><path d="M428 455l-4-1 3 1 4 1z" color="#56c667"/><path d="M498 525l-4 2 3 5 4-2z" color="#365d8d"/><path d="M489 500l-4 2 3 8 4-2z" color="#27808e"/><path d="M510 552l-3 2 3 2 3-2z" color="#472f7d"/><path d="M457 458l-3 1 3 0 4-1z" color="#4cc26c"/><path d="M486 484l-3 2 3 7 3-2z" color="#1f988b"/><path d="M507 547l-4 2 4 5 3-2z" color="#453781"/><path d="M398 451l-4-2 4-1 3 2z" color="#69cd5b"/><path d="M513 554l-3 2 3 3 3-2z" color="#472a7a"/><path d="M412 451l-4-2 3 0 4 2z" color="#69cd5b"/><path d="M495 520l-4 2 3 5 4-2z" color="#32658e"/><path d="M516 557l-3 2 3 3 4-2z" color="#482576"/><path d="M431 456l-4-1 4 1 3 1z" color="#56c667"/><path d="M447 460l-3 0 3 0 4-1z" color="#4ac16d"/><path d="M520 560l-4 2 3 2 4-2z" color="#482071"/><path d="M504 542l-4 2 3 5 4-2z" color="#424186"/><path d="M388 453l-4-3 4-2 3 3z" color="#69cd5b"/><path d="M523 562l-4 2 4 3 3-2z" color="#481b6d"/><path d="M492 515l-4 2 3 5 4-2z" color="#2e6e8e"/><path d="M526 565l-3 2 3 3 3-2z" color="#481769"/><path d="M434 457l-3-1 3 2 3 0z" color="#54c568"/><path d="M415 451l-4-2 3 1 4 1z" color="#6ccd5a"/><path d="M501 537l-4 2 3 5 4-2z" color="#3e4a89"/><path d="M486 493l-4 2 3 7 4-2z" color="#228d8d"/><path d="M529 568l-3 2 3 2 3-2z" color="#471164"/><path d="M483 477l-4 1 4 8 3-2z" color="#21a585"/><path d="M488 510l-3 1 3 6 4-2z" color="#2a768e"/><path d="M401 450l-3-2 3-1 4 3z" color="#73d056"/><path d="M532 570l-3 2 3 3 4-2z" color="#460b5e"/><path d="M451 459l-4 1 3 0 4-1z" color="#4ec36b"/><path d="M536 573l-4 2 4 3 3-2z" color="#450559"/><path d="M434 558l-4 12 3-4 4-12z" color="#482374"/><path d="M497 532l-3 2 3 5 4-2z" color="#3a548c"/><path d="M430 570l-4 7 3-5 4-6z" color="#471063"/><path d="M437 458l-3 0 3 1 4 0z" color="#52c569"/><path d="M418 451l-4-1 3 0 4 2z" color="#6ccd5a"/><path d="M494 527l-3 1 3 6 3-2z" color="#355e8d"/><path d="M507 554l-4 2 3 2 4-2z" color="#472f7d"/><path d="M485 502l-3 2 3 7 3-1z" color="#26818e"/><path d="M391 451l-3-3 3-2 3 3z" color="#77d153"/><path d="M483 486l-4 1 3 8 4-2z" color="#1f998a"/><path d="M503 549l-3 2 3 5 4-2z" color="#453882"/><path d="M441 459l-4 0 3 1 4 0z" color="#52c569"/><path d="M421 452l-4-2 3 2 4 2z" color="#69cd5b"/><path d="M510 556l-4 2 4 3 3-2z" color="#472c7a"/><path d="M454 459l-4 1 3 0 4-1z" color="#50c46a"/><path d="M405 450l-4-3 3-1 4 3z" color="#7ad151"/><path d="M381 452l-4-2 3-2 4 2z" color="#70cf57"/><path d="M513 559l-3 2 3 3 3-2z" color="#482677"/><path d="M491 522l-3 1 3 5 3-1z" color="#31678e"/><path d="M480 467l-4 2 3 9 4-1z" color="#2fb37d"/><path d="M516 562l-3 2 3 3 3-3z" color="#482173"/><path d="M500 544l-3 2 3 5 3-2z" color="#414287"/><path d="M461 458l-4 1 3-12 4-3z" color="#7ad26a"/><path d="M424 454l-4-2 4 2 3 1z" color="#65cb5e"/><path d="M519 564l-3 3 3 2 4-2z" color="#481c6e"/><path d="M488 517l-3 1 3 5 3-1z" color="#2e6f8e"/><path d="M523 567l-4 2 3 3 4-2z" color="#481769"/><path d="M444 460l-4 0 3 0 4 0z" color="#52c569"/><path d="M437 539l-3 19 3-4 3-18z" color="#4d508f"/><path d="M526 570l-4 2 4 3 3-3z" color="#471164"/><path d="M497 539l-3 1 3 6 3-2z" color="#3e4c8a"/><path d="M482 495l-3 1 3 8 3-2z" color="#218e8d"/><path d="M427 455l-3-1 3 1 4 1z" color="#63cb5f"/><path d="M479 478l-3 2 3 7 4-1z" color="#21a685"/><path d="M529 572l-3 3 3 2 3-2z" color="#460b5e"/><path d="M485 511l-4 2 4 5 3-1z" color="#2a778e"/><path d="M408 449l-4-3 3 0 4 3z" color="#7fd34e"/><path d="M394 449l-3-3 3-1 4 3z" color="#81d34d"/><path d="M532 575l-3 2 3 3 4-2z" color="#46075a"/><path d="M426 577l-4-1 4-5 3 1z" color="#471063"/><path d="M494 534l-4 1 4 5 3-1z" color="#39558c"/><path d="M431 456l-4-1 3 2 4 1z" color="#60ca60"/><path d="M447 460l-4 0 4 0 3 0z" color="#54c568"/><path d="M384 450l-4-2 4-2 4 2z" color="#7fd34e"/><path d="M491 528l-4 2 3 5 4-1z" color="#355f8d"/><path d="M411 449l-4-3 3 1 4 3z" color="#81d34d"/><path d="M503 556l-3 2 3 3 3-3z" color="#46307e"/><path d="M482 504l-4 1 3 8 4-2z" color="#26828e"/><path d="M434 458l-4-1 3 1 4 1z" color="#5ec962"/><path d="M500 551l-4 2 4 5 3-2z" color="#443983"/><path d="M506 558l-3 3 3 2 4-2z" color="#472c7a"/><path d="M479 487l-4 2 4 7 3-1z" color="#1e9b8a"/><path d="M477 454l-4 3 3 12 4-2z" color="#6dce80"/><path d="M510 561l-4 2 3 3 4-2z" color="#482878"/><path d="M398 448l-4-3 3-1 4 3z" color="#89d548"/><path d="M476 469l-3 2 3 9 3-2z" color="#2fb47c"/><path d="M488 523l-4 2 3 5 4-2z" color="#31688e"/><path d="M450 460l-3 0 3 1 3-1z" color="#56c667"/><path d="M513 564l-4 2 4 3 3-2z" color="#482374"/><path d="M457 459l-4 1 4-11 3-2z" color="#79d265"/><path d="M414 450l-4-3 3 1 4 2z" color="#7fd34e"/><path d="M497 546l-4 2 3 5 4-2z" color="#414487"/><path d="M516 567l-3 2 3 3 3-3z" color="#481d6f"/><path d="M437 459l-4-1 3 2 4 0z" color="#5cc863"/><path d="M437 554l-4 12 3-15 4-11z" color="#5d5895"/><path d="M519 569l-3 3 3 2 3-2z" color="#48186a"/><path d="M485 518l-4 2 3 5 4-2z" color="#2d718e"/><path d="M522 572l-3 2 3 3 4-2z" color="#471365"/><path d="M494 540l-4 2 3 6 4-2z" color="#3d4d8a"/><path d="M433 566l-4 6 4-15 3-6z" color="#624c8f"/><path d="M417 450l-4-2 4 2 3 2z" color="#7cd250"/><path d="M526 575l-4 2 3 3 4-3z" color="#470d60"/><path d="M479 496l-4 2 3 7 4-1z" color="#21908d"/><path d="M388 448l-4-2 3-3 4 3z" color="#90d743"/><path d="M476 480l-4 1 3 8 4-2z" color="#22a884"/><path d="M377 450l-4-1 4-3 3 2z" color="#84d44b"/><path d="M481 513l-3 2 3 5 4-2z" color="#29798e"/><path d="M529 577l-4 3 4 2 3-2z" color="#46075a"/><path d="M440 460l-4 0 4 0 3 0z" color="#5cc863"/><path d="M401 447l-4-3 3-1 4 3z" color="#93d741"/><path d="M420 452l-3-2 3 2 4 2z" color="#77d153"/><path d="M441 517l-4 22 3-3 4-19z" color="#457899"/><path d="M490 535l-3 2 3 5 4-2z" color="#39568c"/><path d="M430 517l-3 9 3 44 4-12z" color="#7e8cb2"/><path d="M440 536l-3 18 3-14 4-14z" color="#4f6b99"/><path d="M424 454l-4-2 3 2 4 1z" color="#73d056"/><path d="M487 530l-3 2 3 5 3-2z" color="#34608d"/><path d="M500 558l-4 2 3 3 4-2z" color="#46327e"/><path d="M443 460l-3 0 3 1 4-1z" color="#5cc863"/><path d="M427 526l-4 4 3 47 4-7z" color="#8183b0"/><path d="M473 457l-3 4 3 10 3-2z" color="#61ca79"/><path d="M496 553l-3 2 3 5 4-2z" color="#443a83"/><path d="M478 505l-3 2 3 8 3-2z" color="#25838e"/><path d="M503 561l-4 2 4 2 3-2z" color="#472d7b"/><path d="M475 489l-3 1 3 8 4-2z" color="#1e9c89"/><path d="M427 455l-4-1 3 2 4 1z" color="#6ece58"/><path d="M506 563l-3 2 3 3 3-2z" color="#482878"/><path d="M404 446l-4-3 3 1 4 2z" color="#98d83e"/><path d="M473 471l-4 3 3 7 4-1z" color="#31b57b"/><path d="M484 525l-3 2 3 5 3-2z" color="#30698e"/><path d="M391 446l-4-3 3-1 4 3z" color="#9bd93c"/><path d="M509 566l-3 2 3 3 4-2z" color="#482374"/><path d="M434 505l-4 12 4 41 3-19z" color="#779bb4"/><path d="M453 460l-3 1 3-9 4-3z" color="#77d15f"/><path d="M464 444l-4 3 4-12 3-3z" color="#bbe254"/><path d="M493 548l-3 2 3 5 3-2z" color="#404588"/><path d="M513 569l-4 2 3 3 4-2z" color="#481d6f"/><path d="M380 448l-3-2 3-3 4 3z" color="#95d840"/><path d="M447 460l-4 1 3 1 4-1z" color="#5cc863"/><path d="M430 457l-4-1 4 2 3 0z" color="#69cd5b"/><path d="M516 572l-4 2 4 3 3-3z" color="#481a6c"/><path d="M481 520l-4 2 4 5 3-2z" color="#2c718e"/><path d="M429 572l-3-1 3-15 4 1z" color="#624c8f"/><path d="M519 574l-3 3 3 2 3-2z" color="#481467"/><path d="M407 446l-4-2 3 1 4 2z" color="#98d83e"/><path d="M490 542l-3 2 3 6 3-2z" color="#3d4e8a"/><path d="M422 576l-3-8 3-4 4 7z" color="#482374"/><path d="M522 577l-3 2 3 3 3-2z" color="#470e61"/><path d="M475 498l-4 2 4 7 3-2z" color="#21918c"/><path d="M433 458l-3 0 3 1 3 1z" color="#67cc5c"/><path d="M472 481l-3 2 3 7 3-1z" color="#23a983"/><path d="M525 580l-3 2 3 3 4-3z" color="#46085c"/><path d="M478 515l-4 1 3 6 4-2z" color="#297a8e"/><path d="M394 445l-4-3 3 0 4 2z" color="#a2da37"/><path d="M487 537l-4 2 4 5 3-2z" color="#38588c"/><path d="M410 447l-4-2 4 1 3 2z" color="#95d840"/><path d="M474 434l-4 3 3 20 4-3z" color="#ade060"/><path d="M444 517l-4 19 4-10 3-15z" color="#3a7e96"/><path d="M470 461l-4 4 3 9 4-3z" color="#51c471"/><path d="M436 460l-3-1 3 1 4 0z" color="#65cb5e"/><path d="M496 560l-3 2 3 3 3-2z" color="#46337f"/><path d="M423 530l-4 1 3 45 4 1z" color="#8183b0"/><path d="M413 448l-3-2 3 3 4 1z" color="#90d743"/><path d="M484 532l-4 2 3 5 4-2z" color="#34618d"/><path d="M373 449l-4-1 4-3 4 1z" color="#98d83e"/><path d="M493 555l-4 2 4 5 3-2z" color="#443a83"/><path d="M499 563l-3 2 3 3 4-3z" color="#472e7c"/><path d="M475 507l-4 2 3 7 4-1z" color="#25858e"/><path d="M438 493l-4 12 3 34 4-22z" color="#70adb4"/><path d="M384 446l-4-3 3-2 4 2z" color="#a8db34"/><path d="M460 447l-3 2 3-10 4-4z" color="#b5e04b"/><path d="M503 565l-4 3 3 2 4-2z" color="#482979"/><path d="M469 474l-3 2 3 7 3-2z" color="#31b57b"/><path d="M472 490l-4 2 3 8 4-2z" color="#1f9e89"/><path d="M417 450l-4-1 3 2 4 1z" color="#8bd646"/><path d="M445 495l-4 22 3 0 4-20z" color="#349697"/><path d="M506 568l-4 2 4 3 3-2z" color="#482475"/><path d="M440 460l-4 0 3 1 4 0z" color="#65cb5e"/><path d="M481 527l-4 2 3 5 4-2z" color="#306a8e"/><path d="M397 444l-4-2 3-1 4 2z" color="#aadc32"/><path d="M450 461l-4 1 3-8 4-2z" color="#73d05a"/><path d="M490 550l-4 2 3 5 4-2z" color="#404588"/><path d="M509 571l-3 2 3 3 3-2z" color="#481f70"/><path d="M420 452l-4-1 3 2 4 1z" color="#84d44b"/><path d="M512 574l-3 2 3 3 4-2z" color="#481a6c"/><path d="M516 577l-4 2 3 3 4-3z" color="#481467"/><path d="M477 522l-3 2 3 5 4-2z" color="#2c728e"/><path d="M423 454l-4-1 4 2 3 1z" color="#7cd250"/><path d="M443 461l-4 0 3 2 4-1z" color="#65cb5e"/><path d="M487 544l-4 2 3 6 4-2z" color="#3c4f8a"/><path d="M519 579l-4 3 4 2 3-2z" color="#470e61"/><path d="M470 437l-3 5 3 19 3-4z" color="#a5de62"/><path d="M522 582l-3 2 3 3 3-2z" color="#46085c"/><path d="M469 483l-4 3 3 6 4-2z" color="#24aa83"/><path d="M471 500l-3 1 3 8 4-2z" color="#20928c"/><path d="M466 465l-4 5 4 6 3-2z" color="#48c16e"/><path d="M426 456l-3-1 3 2 4 1z" color="#77d153"/><path d="M400 443l-4-2 3 1 4 2z" color="#b0dd2f"/><path d="M474 516l-3 2 3 6 3-2z" color="#297b8e"/><path d="M467 432l-3 3 3-4 4-3z" color="#dde318"/><path d="M387 443l-4-2 3-1 4 2z" color="#b5de2b"/><path d="M448 497l-4 20 3-6 4-14z" color="#22918d"/><path d="M483 539l-3 2 3 5 4-2z" color="#38598c"/><path d="M377 446l-4-1 3-3 4 1z" color="#aadc32"/><path d="M457 449l-4 3 3-8 4-5z" color="#a6dc40"/><path d="M430 458l-4-1 3 2 4 0z" color="#75d054"/><path d="M493 562l-4 2 3 3 4-2z" color="#463480"/><path d="M403 444l-4-2 4 1 3 2z" color="#b0dd2f"/><path d="M480 534l-3 2 3 5 3-2z" color="#33628d"/><path d="M440 540l-4 11 4-20 3-8z" color="#a1b8cb"/><path d="M466 476l-4 4 3 6 4-3z" color="#2fb47c"/><path d="M471 428l-4 3 3 6 4-3z" color="#dde318"/><path d="M496 565l-4 2 4 3 3-2z" color="#472f7d"/><path d="M489 557l-3 2 3 5 4-2z" color="#443b84"/><path d="M442 480l-4 13 3 24 4-22z" color="#52b5a3"/><path d="M499 568l-3 2 3 3 3-3z" color="#472a7a"/><path d="M471 509l-4 2 4 7 3-2z" color="#24868e"/><path d="M468 492l-3 2 3 7 3-1z" color="#1f9f88"/><path d="M444 526l-4 14 3-17 4-11z" color="#83aebd"/><path d="M433 459l-4 0 3 1 4 0z" color="#70cf57"/><path d="M502 570l-3 3 3 3 4-3z" color="#482576"/><path d="M467 442l-4 6 3 17 4-4z" color="#9adb63"/><path d="M426 571l-4-7 3-14 4 6z" color="#5d5895"/><path d="M477 529l-4 2 4 5 3-2z" color="#2f6b8e"/><path d="M390 442l-4-2 3-1 4 3z" color="#bade28"/><path d="M406 445l-3-2 3 1 4 2z" color="#addc30"/><path d="M446 462l-4 1 4-6 3-3z" color="#73d056"/><path d="M506 573l-4 3 3 2 4-2z" color="#482071"/><path d="M486 552l-3 2 3 5 3-2z" color="#404688"/><path d="M462 470l-3 7 3 3 4-4z" color="#3fbc73"/><path d="M369 448l-3-1 3-3 4 1z" color="#a8db34"/><path d="M436 551l-3 6 3-22 4-4z" color="#b0bed2"/><path d="M509 576l-4 2 4 3 3-2z" color="#481b6d"/><path d="M512 579l-3 2 3 3 3-2z" color="#481668"/><path d="M436 460l-4 0 4 1 3 0z" color="#70cf57"/><path d="M410 446l-4-2 3 3 4 2z" color="#a5db36"/><path d="M448 476l-3 19 3 2 4-17z" color="#2fb185"/><path d="M474 524l-4 2 3 5 4-2z" color="#2c738e"/><path d="M464 435l-4 4 3-4 4-4z" color="#d5e21a"/><path d="M447 511l-3 15 3-14 4-10z" color="#58a5a9"/><path d="M515 582l-3 2 3 3 4-3z" color="#471063"/><path d="M452 480l-4 17 3 0 4-11z" color="#24aa83"/><path d="M483 546l-4 3 4 5 3-2z" color="#3c508b"/><path d="M465 486l-4 3 4 5 3-2z" color="#24aa83"/><path d="M380 443l-4-1 3-3 4 2z" color="#bddf26"/><path d="M413 449l-4-2 3 2 4 2z" color="#9dd93b"/><path d="M519 584l-4 3 3 3 4-3z" color="#460a5d"/><path d="M453 452l-4 2 4-4 3-6z" color="#98d83e"/><path d="M468 501l-4 2 3 8 4-2z" color="#20938c"/><path d="M419 531l-4-4 4 41 3 8z" color="#7e8cb2"/><path d="M439 461l-3 0 3 3 3-1z" color="#6ccd5a"/><path d="M416 451l-4-2 4 3 3 1z" color="#95d840"/><path d="M463 448l-4 7 3 15 4-5z" color="#87d666"/><path d="M471 518l-4 2 3 6 4-2z" color="#287d8e"/><path d="M459 477l-4 9 3 0 4-6z" color="#32b67a"/><path d="M393 442l-4-3 3 0 4 2z" color="#c2df23"/><path d="M480 541l-4 2 3 6 4-3z" color="#375a8c"/><path d="M467 431l-4 4 4 7 3-5z" color="#d2e21b"/><path d="M462 480l-4 6 3 3 4-3z" color="#2db27d"/><path d="M451 497l-4 14 4-9 4-9z" color="#289f8f"/><path d="M419 453l-3-1 3 3 4 0z" color="#8ed645"/><path d="M455 486l-4 11 4-4 3-7z" color="#25ab82"/><path d="M456 466l-4 14 3 6 4-9z" color="#40bd75"/><path d="M489 564l-3 3 3 3 3-3z" color="#463480"/><path d="M445 468l-3 12 3 15 3-19z" color="#49bf82"/><path d="M459 455l-3 11 3 11 3-7z" color="#69cd6c"/><path d="M423 455l-4 0 3 1 4 1z" color="#86d549"/><path d="M477 536l-4 2 3 5 4-2z" color="#33638d"/><path d="M492 567l-3 3 3 2 4-2z" color="#472f7d"/><path d="M486 559l-4 2 4 6 3-3z" color="#433d84"/><path d="M496 570l-4 2 3 3 4-2z" color="#472a7a"/><path d="M465 494l-4 3 3 6 4-2z" color="#1f9f88"/><path d="M373 445l-4-1 3-3 4 1z" color="#bade28"/><path d="M460 439l-4 5 4-4 3-5z" color="#c8e020"/><path d="M467 511l-3 1 3 8 4-2z" color="#24878e"/><path d="M499 573l-4 2 4 3 3-2z" color="#482576"/><path d="M396 441l-4-2 3 1 4 2z" color="#c8e020"/><path d="M419 568l-4-14 3-3 4 13z" color="#4d508f"/><path d="M426 457l-4-1 3 2 4 1z" color="#81d34d"/><path d="M383 441l-4-2 3-1 4 2z" color="#cae11f"/><path d="M449 454l-3 3 3 1 4-8z" color="#8bd646"/><path d="M502 576l-3 2 3 3 3-3z" color="#482071"/><path d="M473 531l-3 2 3 5 4-2z" color="#2f6c8e"/><path d="M442 463l-3 1 3-4 4-3z" color="#75d054"/><path d="M483 554l-4 2 3 5 4-2z" color="#3f4788"/><path d="M433 557l-4-1 3-20 4-1z" color="#b0bed2"/><path d="M505 578l-3 3 3 3 4-3z" color="#481b6d"/><path d="M452 460l-4 16 4 4 4-14z" color="#56c667"/><path d="M463 435l-3 5 3 8 4-6z" color="#c5e021"/><path d="M458 486l-3 7 3 0 3-4z" color="#26ad81"/><path d="M509 581l-4 3 3 2 4-2z" color="#481668"/><path d="M461 489l-3 4 3 4 4-3z" color="#22a884"/><path d="M429 459l-4-1 4 2 3 0z" color="#7cd250"/><path d="M399 442l-4-2 4 1 4 2z" color="#c5e021"/><path d="M512 584l-4 2 4 3 3-2z" color="#471063"/><path d="M470 526l-3 2 3 5 3-2z" color="#2b748e"/><path d="M479 549l-3 2 3 5 4-2z" color="#3b518b"/><path d="M366 447l-4 1 3-3 4-1z" color="#b2dd2d"/><path d="M449 458l-4 10 3 8 4-16z" color="#67cc5c"/><path d="M515 587l-3 2 3 3 3-2z" color="#460a5d"/><path d="M456 444l-3 6 3-2 4-8z" color="#b5de2b"/><path d="M464 503l-3 3 3 6 3-1z" color="#20938c"/><path d="M432 460l-3 0 3 2 4-1z" color="#7ad151"/><path d="M446 457l-4 3 3 8 4-10z" color="#7ad151"/><path d="M386 440l-4-2 3 0 4 1z" color="#d2e21b"/><path d="M403 443l-4-2 3 2 4 1z" color="#c2df23"/><path d="M460 440l-4 8 3 7 4-7z" color="#addc30"/><path d="M453 450l-4 8 3 2 4-12z" color="#93d741"/><path d="M467 520l-4 2 4 6 3-2z" color="#277e8e"/><path d="M456 448l-4 12 4 6 3-11z" color="#86d549"/><path d="M476 543l-3 3 3 5 3-2z" color="#375b8d"/><path d="M455 493l-4 9 3-3 4-6z" color="#21a585"/><path d="M436 461l-4 1 3 2 4 0z" color="#75d054"/><path d="M406 444l-4-1 3 3 4 1z" color="#bade28"/><path d="M486 567l-4 2 3 3 4-2z" color="#453581"/><path d="M376 442l-4-1 3-3 4 1z" color="#cde11d"/><path d="M409 447l-4-1 3 2 4 1z" color="#b0dd2f"/><path d="M489 570l-4 2 3 3 4-3z" color="#46307e"/><path d="M482 561l-3 3 3 5 4-2z" color="#433d84"/><path d="M473 538l-4 2 4 6 3-3z" color="#32648e"/><path d="M461 497l-4 4 4 5 3-3z" color="#1f9f88"/><path d="M451 502l-4 10 3-7 4-6z" color="#1f9a8a"/><path d="M442 460l-4 4 4 16 3-12z" color="#78d272"/><path d="M492 572l-4 3 4 3 3-3z" color="#472c7a"/><path d="M412 449l-4-1 4 3 4 1z" color="#a8db34"/><path d="M495 575l-3 3 3 2 4-2z" color="#482677"/><path d="M458 493l-4 6 3 2 4-4z" color="#21a585"/><path d="M464 512l-4 3 3 7 4-2z" color="#23888e"/><path d="M416 452l-4-1 3 3 4 1z" color="#9dd93b"/><path d="M499 578l-4 2 3 3 4-2z" color="#482173"/><path d="M389 439l-4-1 3-1 4 2z" color="#d8e219"/><path d="M447 512l-4 11 4-12 3-6z" color="#2b9492"/><path d="M439 464l-4 0 3 0 4-4z" color="#77d153"/><path d="M479 556l-4 3 4 5 3-3z" color="#3f4788"/><path d="M470 533l-4 2 3 5 4-2z" color="#2e6d8e"/><path d="M502 581l-4 2 4 3 3-2z" color="#481c6e"/><path d="M419 455l-4-1 3 2 4 0z" color="#95d840"/><path d="M438 464l-3 3 3 26 4-13z" color="#a8e1b7"/><path d="M369 444l-4 1 3-3 4-1z" color="#c5e021"/><path d="M505 584l-3 2 3 3 3-3z" color="#481769"/><path d="M508 586l-3 3 3 3 4-3z" color="#471164"/><path d="M422 456l-4 0 3 2 4 0z" color="#8ed645"/><path d="M476 551l-4 2 3 6 4-3z" color="#3b518b"/><path d="M467 528l-4 2 3 5 4-2z" color="#2b758e"/><path d="M435 467l-4 3 3 35 4-12z" color="#e1f5eb"/><path d="M443 523l-3 8 3-14 4-6z" color="#3a9199"/><path d="M512 589l-4 3 3 3 4-3z" color="#460b5e"/><path d="M379 439l-4-1 3 0 4 0z" color="#dae319"/><path d="M392 439l-4-2 4 2 3 1z" color="#dae319"/><path d="M362 448l-4 2 3-3 4-2z" color="#b8de29"/><path d="M461 506l-4 2 3 7 4-3z" color="#1f948c"/><path d="M422 564l-4-13 3-10 4 9z" color="#4f6b99"/><path d="M425 458l-4 0 4 2 4 0z" color="#89d548"/><path d="M473 546l-4 2 3 5 4-2z" color="#365c8d"/><path d="M463 522l-3 2 3 6 4-2z" color="#277e8e"/><path d="M431 470l-4 4 3 43 4-12z" color="#dff3ec"/><path d="M454 499l-4 6 4-1 3-3z" color="#1fa188"/><path d="M429 556l-4-6 3-17 4 3z" color="#a1b8cb"/><path d="M429 460l-4 0 3 2 4 0z" color="#84d44b"/><path d="M482 569l-4 3 4 3 3-3z" color="#453581"/><path d="M395 440l-3-1 3 1 4 1z" color="#d8e219"/><path d="M457 501l-3 3 3 4 4-2z" color="#1e9d89"/><path d="M485 572l-3 3 3 2 3-2z" color="#46307e"/><path d="M479 564l-4 2 3 6 4-3z" color="#433d84"/><path d="M415 527l-4-7 4 34 4 14z" color="#779bb4"/><path d="M432 462l-4 0 3 3 4-1z" color="#7cd250"/><path d="M469 540l-3 3 3 5 4-2z" color="#32658e"/><path d="M488 575l-3 2 3 3 4-2z" color="#472c7a"/><path d="M382 438l-4 0 3-1 4 1z" color="#e2e418"/><path d="M440 531l-4 4 3-15 4-3z" color="#42909d"/><path d="M492 578l-4 2 3 3 4-3z" color="#482677"/><path d="M399 441l-4-1 3 2 4 1z" color="#d5e21a"/><path d="M460 515l-4 2 4 7 3-2z" color="#23898e"/><path d="M372 441l-4 1 3-3 4-1z" color="#dae319"/><path d="M427 474l-4 3 4 49 3-9z" color="#def2ed"/><path d="M495 580l-4 3 4 3 3-3z" color="#482173"/><path d="M475 559l-3 2 3 5 4-2z" color="#3f4889"/><path d="M435 464l-4 1 4 2 3-3z" color="#77d153"/><path d="M466 535l-3 2 3 6 3-3z" color="#2e6e8e"/><path d="M498 583l-3 3 3 3 4-3z" color="#481c6e"/><path d="M402 443l-4-1 3 3 4 1z" color="#cde11d"/><path d="M405 446l-4-1 4 3 3 0z" color="#c2df23"/><path d="M502 586l-4 3 3 3 4-3z" color="#481769"/><path d="M408 448l-3 0 3 3 4 0z" color="#b5de2b"/><path d="M450 505l-3 6 3-3 4-4z" color="#1e9b8a"/><path d="M505 589l-4 3 4 3 3-3z" color="#471164"/><path d="M365 445l-4 2 3-3 4-2z" color="#cde11d"/><path d="M412 451l-4 0 3 3 4 0z" color="#aadc32"/><path d="M472 553l-3 3 3 5 3-2z" color="#3b528b"/><path d="M508 592l-3 3 3 2 3-2z" color="#460b5e"/><path d="M463 530l-4 2 4 5 3-2z" color="#2a768e"/><path d="M415 454l-4 0 3 2 4 0z" color="#a2da37"/><path d="M358 450l-4 3 3-4 4-2z" color="#b8de29"/><path d="M457 508l-4 3 3 6 4-2z" color="#1f948c"/><path d="M385 438l-4-1 3 0 4 0z" color="#eae51a"/><path d="M418 456l-4 0 4 3 3-1z" color="#9bd93c"/><path d="M469 548l-4 2 4 6 3-3z" color="#365c8d"/><path d="M454 504l-4 4 3 3 4-3z" color="#1e9c89"/><path d="M460 524l-4 3 3 5 4-2z" color="#277f8e"/><path d="M423 477l-4 2 4 51 4-4z" color="#ddf1ed"/><path d="M375 438l-4 1 3-1 4 0z" color="#e7e419"/><path d="M478 572l-3 2 3 3 4-2z" color="#453581"/><path d="M421 458l-3 1 3 2 4-1z" color="#93d741"/><path d="M482 575l-4 2 3 3 4-3z" color="#46307e"/><path d="M475 566l-4 3 4 5 3-2z" color="#433d84"/><path d="M388 437l-4 0 4 1 4 1z" color="#ece51b"/><path d="M466 543l-4 2 3 5 4-2z" color="#32658e"/><path d="M485 577l-4 3 4 3 3-3z" color="#472c7a"/><path d="M447 511l-4 6 3-5 4-4z" color="#1f978b"/><path d="M425 460l-4 1 3 2 4-1z" color="#8bd646"/><path d="M436 535l-4 1 3-14 4-2z" color="#42909d"/><path d="M488 580l-3 3 3 3 3-3z" color="#482677"/><path d="M456 517l-3 2 3 8 4-3z" color="#23898e"/><path d="M428 462l-4 1 3 3 4-1z" color="#84d44b"/><path d="M491 583l-3 3 3 3 4-3z" color="#482173"/><path d="M472 561l-4 3 3 5 4-3z" color="#3f4889"/><path d="M431 465l-4 1 4 4 4-3z" color="#77d153"/><path d="M392 439l-4-1 3 2 4 0z" color="#e7e419"/><path d="M495 586l-4 3 3 3 4-3z" color="#481c6e"/><path d="M463 537l-4 3 3 5 4-2z" color="#2e6e8e"/><path d="M368 442l-4 2 3-4 4-1z" color="#dfe318"/><path d="M498 589l-4 3 4 2 3-2z" color="#481769"/><path d="M378 438l-4 0 3 0 4-1z" color="#efe51c"/><path d="M501 592l-3 2 3 3 4-2z" color="#471164"/><path d="M415 554l-4-17 3 0 4 14z" color="#457899"/><path d="M354 453l-4 3 3-3 4-4z" color="#b2dd2d"/><path d="M361 447l-4 2 3-3 4-2z" color="#cde11d"/><path d="M469 556l-4 2 3 6 4-3z" color="#3b528b"/><path d="M505 595l-4 2 3 3 4-3z" color="#460b5e"/><path d="M395 440l-4 0 3 1 4 1z" color="#e5e419"/><path d="M459 532l-3 2 3 6 4-3z" color="#2a768e"/><path d="M453 511l-4 3 4 5 3-2z" color="#1f948c"/><path d="M398 442l-4-1 3 4 4 0z" color="#dae319"/><path d="M450 508l-4 4 3 2 4-3z" color="#1f9a8a"/><path d="M401 445l-4 0 4 3 4 0z" color="#d0e11c"/><path d="M405 448l-4 0 3 3 4 0z" color="#c2df23"/><path d="M465 550l-3 3 3 5 4-2z" color="#365c8d"/><path d="M408 451l-4 0 3 3 4 0z" color="#b5de2b"/><path d="M456 527l-4 2 4 5 3-2z" color="#277f8e"/><path d="M411 454l-4 0 4 3 3-1z" color="#aadc32"/><path d="M475 574l-4 3 3 3 4-3z" color="#453581"/><path d="M419 479l-4 2 4 50 4-1z" color="#ddf1ed"/><path d="M443 517l-4 3 3-5 4-3z" color="#1f948c"/><path d="M381 437l-4 1 3-1 4 0z" color="#f4e61e"/><path d="M478 577l-4 3 4 3 3-3z" color="#46307e"/><path d="M471 569l-3 3 3 5 4-3z" color="#433d84"/><path d="M414 456l-3 1 3 2 4 0z" color="#a2da37"/><path d="M425 550l-4-9 3-14 4 6z" color="#83aebd"/><path d="M481 580l-3 3 3 3 4-3z" color="#472c7a"/><path d="M462 545l-4 3 4 5 3-3z" color="#32658e"/><path d="M371 439l-4 1 3 0 4-2z" color="#ece51b"/><path d="M485 583l-4 3 3 3 4-3z" color="#482677"/><path d="M418 459l-4 0 3 3 4-1z" color="#9bd93c"/><path d="M350 456l-4 5 3-3 4-5z" color="#a8db34"/><path d="M488 586l-4 3 4 2 3-2z" color="#482173"/><path d="M453 519l-4 3 3 7 4-2z" color="#23898e"/><path d="M468 564l-4 2 4 6 3-3z" color="#3f4788"/><path d="M427 466l-3 2 3 6 4-4z" color="#77d153"/><path d="M491 589l-3 2 3 3 3-2z" color="#481c6e"/><path d="M421 461l-4 1 3 2 4-1z" color="#93d741"/><path d="M459 540l-4 2 3 6 4-3z" color="#2e6e8e"/><path d="M384 437l-4 0 4 2 4-1z" color="#f6e620"/><path d="M357 449l-4 4 3-3 4-4z" color="#c5e021"/><path d="M364 444l-4 2 3-3 4-3z" color="#dfe318"/><path d="M424 463l-4 1 4 4 3-2z" color="#89d548"/><path d="M494 592l-3 2 3 3 4-3z" color="#481769"/><path d="M498 594l-4 3 3 3 4-3z" color="#471164"/><path d="M465 558l-4 3 3 5 4-2z" color="#3b518b"/><path d="M501 597l-4 3 4 3 3-3z" color="#460b5e"/><path d="M432 536l-4-3 4-12 3 1z" color="#3a9199"/><path d="M456 534l-4 3 3 5 4-2z" color="#2a768e"/><path d="M388 438l-4 1 3 1 4 0z" color="#f1e51d"/><path d="M374 438l-4 2 3-1 4-1z" color="#f4e61e"/><path d="M418 551l-4-14 3-6 4 10z" color="#3a7e96"/><path d="M449 514l-3 2 3 6 4-3z" color="#1f948c"/><path d="M446 512l-4 3 4 1 3-2z" color="#1f998a"/><path d="M462 553l-4 3 3 5 4-3z" color="#365c8d"/><path d="M346 461l-4 6 3-3 4-6z" color="#98d83e"/><path d="M391 440l-4 0 3 2 4-1z" color="#efe51c"/><path d="M452 529l-3 3 3 5 4-3z" color="#277f8e"/><path d="M471 577l-4 3 4 3 3-3z" color="#463480"/><path d="M411 520l-4-8 4 25 4 17z" color="#70adb4"/><path d="M439 520l-4 2 4-5 3-2z" color="#1f948c"/><path d="M474 580l-3 3 3 3 4-3z" color="#472f7d"/><path d="M394 441l-4 1 3 3 4 0z" color="#e5e419"/><path d="M468 572l-4 3 3 5 4-3z" color="#433d84"/><path d="M397 445l-4 0 4 4 4-1z" color="#d8e219"/><path d="M401 448l-4 1 3 3 4-1z" color="#cae11f"/><path d="M404 451l-4 1 3 4 4-2z" color="#bddf26"/><path d="M478 583l-4 3 3 3 4-3z" color="#472a7a"/><path d="M458 548l-3 2 3 6 4-3z" color="#32658e"/><path d="M353 453l-4 5 3-3 4-5z" color="#bade28"/><path d="M367 440l-4 3 3 0 4-3z" color="#ece51b"/><path d="M407 454l-4 2 4 2 4-1z" color="#b2dd2d"/><path d="M481 586l-4 3 4 2 3-2z" color="#482576"/><path d="M377 438l-4 1 3 0 4-2z" color="#fbe723"/><path d="M484 589l-3 2 3 3 4-3z" color="#482071"/><path d="M411 457l-4 1 3 3 4-2z" color="#aadc32"/><path d="M360 446l-4 4 3-3 4-4z" color="#dae319"/><path d="M415 481l-3 2 3 44 4 4z" color="#def2ed"/><path d="M464 566l-3 3 3 6 4-3z" color="#3f4788"/><path d="M449 522l-4 2 4 8 3-3z" color="#23898e"/><path d="M424 468l-4 2 3 7 4-3z" color="#77d153"/><path d="M488 591l-4 3 3 3 4-3z" color="#481b6d"/><path d="M455 542l-4 3 4 5 3-2z" color="#2e6e8e"/><path d="M342 467l-4 6 3-2 4-7z" color="#84d44b"/><path d="M414 459l-4 2 3 2 4-1z" color="#a2da37"/><path d="M491 594l-4 3 4 3 3-3z" color="#481668"/><path d="M494 597l-3 3 3 3 3-3z" color="#471063"/><path d="M417 462l-4 1 4 3 3-2z" color="#98d83e"/><path d="M461 561l-4 3 4 5 3-3z" color="#3b518b"/><path d="M420 464l-3 2 3 4 4-2z" color="#8ed645"/><path d="M380 437l-4 2 4 1 4-1z" color="#fbe723"/><path d="M497 600l-3 3 3 3 4-3z" color="#460a5d"/><path d="M452 537l-4 3 3 5 4-3z" color="#2a768e"/><path d="M370 440l-4 3 3-1 4-3z" color="#f4e61e"/><path d="M446 516l-4 3 3 5 4-2z" color="#1f948c"/><path d="M442 515l-3 2 3 2 4-3z" color="#1f998a"/><path d="M349 458l-4 6 3-3 4-6z" color="#aadc32"/><path d="M384 439l-4 1 3 2 4-2z" color="#f6e620"/><path d="M458 556l-4 3 3 5 4-3z" color="#375b8d"/><path d="M338 473l-4 7 3-3 4-6z" color="#70cf57"/><path d="M449 532l-4 2 3 6 4-3z" color="#277f8e"/><path d="M467 580l-3 3 3 3 4-3z" color="#463480"/><path d="M356 450l-4 5 3-2 4-6z" color="#cde11d"/><path d="M363 443l-4 4 3 0 4-4z" color="#e7e419"/><path d="M471 583l-4 3 3 3 4-3z" color="#472f7d"/><path d="M464 575l-4 3 4 5 3-3z" color="#443b84"/><path d="M387 440l-4 2 3 2 4-2z" color="#f4e61e"/><path d="M474 586l-4 3 4 3 3-3z" color="#472a7a"/><path d="M455 550l-4 3 3 6 4-3z" color="#32648e"/><path d="M477 589l-3 3 3 2 4-3z" color="#482576"/><path d="M390 442l-4 2 4 3 3-2z" color="#eae51a"/><path d="M393 445l-3 2 3 4 4-2z" color="#dde318"/><path d="M397 449l-4 2 3 3 4-2z" color="#d0e11c"/><path d="M400 452l-4 2 3 3 4-1z" color="#c2df23"/><path d="M373 439l-4 3 3 0 4-3z" color="#fbe723"/><path d="M435 522l-3-1 3-3 4-1z" color="#1f978b"/><path d="M345 464l-4 7 3-3 4-7z" color="#95d840"/><path d="M481 591l-4 3 3 3 4-3z" color="#482071"/><path d="M403 456l-4 1 4 3 4-2z" color="#b8de29"/><path d="M461 569l-4 3 3 6 4-3z" color="#404688"/><path d="M334 480l-4 6 3-2 4-7z" color="#5cc863"/><path d="M445 524l-4 3 4 7 4-2z" color="#23898e"/><path d="M428 533l-4-6 4-7 4 1z" color="#2b9492"/><path d="M484 594l-4 3 4 3 3-3z" color="#481b6d"/><path d="M451 545l-3 3 3 5 4-3z" color="#2e6d8e"/><path d="M420 470l-4 2 3 7 4-2z" color="#77d153"/><path d="M407 458l-4 2 3 3 4-2z" color="#addc30"/><path d="M487 597l-3 3 3 3 4-3z" color="#481668"/><path d="M421 541l-4-10 4-9 3 5z" color="#58a5a9"/><path d="M491 600l-4 3 3 3 4-3z" color="#471063"/><path d="M410 461l-4 2 3 2 4-2z" color="#a5db36"/><path d="M366 443l-4 4 3-1 4-4z" color="#efe51c"/><path d="M457 564l-3 3 3 5 4-3z" color="#3c508b"/><path d="M352 455l-4 6 3-2 4-6z" color="#bddf26"/><path d="M376 439l-4 3 4 1 4-3z" color="#fbe723"/><path d="M494 603l-4 3 4 3 3-3z" color="#460a5d"/><path d="M448 540l-4 3 4 5 3-3z" color="#2b758e"/><path d="M413 463l-4 2 4 3 4-2z" color="#9bd93c"/><path d="M417 466l-4 2 3 4 4-2z" color="#8ed645"/><path d="M341 471l-4 6 3-2 4-7z" color="#7fd34e"/><path d="M330 486l-4 7 3-2 4-7z" color="#4ac16d"/><path d="M359 447l-4 6 3-1 4-5z" color="#dae319"/><path d="M442 519l-4 2 3 6 4-3z" color="#1f948c"/><path d="M454 559l-4 3 4 5 3-3z" color="#375a8c"/><path d="M439 517l-4 1 3 3 4-2z" color="#1f9a8a"/><path d="M380 440l-4 3 3 2 4-3z" color="#f6e620"/><path d="M445 534l-4 3 3 6 4-3z" color="#277e8e"/><path d="M464 583l-4 3 3 3 4-3z" color="#46337f"/><path d="M412 483l-4 1 3 36 4 7z" color="#dff3ec"/><path d="M460 578l-3 3 3 5 4-3z" color="#443a83"/><path d="M467 586l-4 3 4 3 3-3z" color="#472e7c"/><path d="M337 477l-4 7 3-2 4-7z" color="#69cd5b"/><path d="M348 461l-4 7 3-2 4-7z" color="#a8db34"/><path d="M451 553l-4 3 3 6 4-3z" color="#33638d"/><path d="M470 589l-3 3 3 3 4-3z" color="#482979"/><path d="M369 442l-4 4 3 0 4-4z" color="#f4e61e"/><path d="M383 442l-4 3 3 1 4-2z" color="#f4e61e"/><path d="M326 493l-4 7 3-2 4-7z" color="#3bbb75"/><path d="M411 537l-4-17 3 2 4 15z" color="#349697"/><path d="M474 592l-4 3 3 3 4-4z" color="#482475"/><path d="M386 444l-4 2 4 4 4-3z" color="#eae51a"/><path d="M390 447l-4 3 3 3 4-2z" color="#dde318"/><path d="M393 451l-4 2 3 4 4-3z" color="#d0e11c"/><path d="M396 454l-4 3 4 3 3-3z" color="#c2df23"/><path d="M457 572l-4 3 4 6 3-3z" color="#404588"/><path d="M477 594l-4 4 4 2 3-3z" color="#481f70"/><path d="M362 447l-4 5 3-1 4-5z" color="#e2e418"/><path d="M355 453l-4 6 3-1 4-6z" color="#cae11f"/><path d="M399 457l-3 3 3 3 4-3z" color="#b8de29"/><path d="M441 527l-3 2 3 8 4-3z" color="#23898e"/><path d="M448 548l-4 3 3 5 4-3z" color="#2f6c8e"/><path d="M480 597l-3 3 3 3 4-3z" color="#481a6c"/><path d="M416 472l-4 2 3 7 4-2z" color="#77d153"/><path d="M333 484l-4 7 3-1 4-8z" color="#56c667"/><path d="M403 460l-4 3 3 2 4-2z" color="#addc30"/><path d="M484 600l-4 3 3 3 4-3z" color="#481467"/><path d="M344 468l-4 7 3-2 4-7z" color="#90d743"/><path d="M372 442l-4 4 4 1 4-4z" color="#f6e620"/><path d="M454 567l-4 3 3 5 4-3z" color="#3c4f8a"/><path d="M487 603l-4 3 4 3 3-3z" color="#470e61"/><path d="M406 463l-4 2 3 3 4-3z" color="#a5db36"/><path d="M432 521l-4-1 3-1 4-1z" color="#1e9b8a"/><path d="M444 543l-3 3 3 5 4-3z" color="#2b748e"/><path d="M322 500l-4 6 3-1 4-7z" color="#2fb47c"/><path d="M490 606l-3 3 3 3 4-3z" color="#46085c"/><path d="M409 465l-4 3 4 2 4-2z" color="#9bd93c"/><path d="M413 468l-4 2 3 4 4-2z" color="#8ed645"/><path d="M376 443l-4 4 3 2 4-4z" color="#f1e51d"/><path d="M351 459l-4 7 3-1 4-7z" color="#b5de2b"/><path d="M414 537l-4-15 3 0 4 9z" color="#22918d"/><path d="M450 562l-3 3 3 5 4-3z" color="#38598c"/><path d="M438 521l-4 2 4 6 3-2z" color="#1f948c"/><path d="M365 446l-4 5 3 0 4-5z" color="#eae51a"/><path d="M340 475l-4 7 3-1 4-8z" color="#77d153"/><path d="M329 491l-4 7 3-1 4-7z" color="#42be71"/><path d="M358 452l-4 6 3-1 4-6z" color="#d2e21b"/><path d="M441 537l-4 3 4 6 3-3z" color="#277e8e"/><path d="M460 586l-4 3 3 3 4-3z" color="#46327e"/><path d="M457 581l-4 3 3 5 4-3z" color="#443a83"/><path d="M435 518l-4 1 3 4 4-2z" color="#1e9c89"/><path d="M463 589l-4 3 4 3 4-3z" color="#472d7b"/><path d="M379 445l-4 4 3 1 4-4z" color="#efe51c"/><path d="M447 556l-4 4 4 5 3-3z" color="#33628d"/><path d="M467 592l-4 3 3 3 4-3z" color="#482878"/><path d="M382 446l-4 4 4 4 4-4z" color="#e5e419"/><path d="M318 506l-4 6 3-1 4-6z" color="#26ad81"/><path d="M386 450l-4 4 3 3 4-4z" color="#d8e219"/><path d="M347 466l-4 7 3-1 4-7z" color="#9bd93c"/><path d="M389 453l-4 4 3 3 4-3z" color="#cae11f"/><path d="M407 512l-4-9 4 17 4 17z" color="#52b5a3"/><path d="M470 595l-4 3 3 3 4-3z" color="#482374"/><path d="M336 482l-4 8 3-2 4-7z" color="#60ca60"/><path d="M392 457l-4 3 4 4 4-4z" color="#bddf26"/><path d="M424 527l-3-5 3-4 4 2z" color="#1f9a8a"/><path d="M368 446l-4 5 4 1 4-5z" color="#ece51b"/><path d="M453 575l-3 4 3 5 4-3z" color="#404588"/><path d="M396 460l-4 4 3 2 4-3z" color="#b2dd2d"/><path d="M473 598l-4 3 4 2 4-3z" color="#481d6f"/><path d="M325 498l-4 7 3-2 4-6z" color="#35b779"/><path d="M444 551l-4 3 3 6 4-4z" color="#2f6b8e"/><path d="M354 458l-4 7 3-1 4-7z" color="#bade28"/><path d="M438 529l-4 3 3 8 4-3z" color="#23888e"/><path d="M477 600l-4 3 3 3 4-3z" color="#481a6c"/><path d="M399 463l-4 3 3 3 4-4z" color="#aadc32"/><path d="M361 451l-4 6 4 0 3-6z" color="#d8e219"/><path d="M480 603l-4 3 4 3 3-3z" color="#481467"/><path d="M412 474l-4 3 4 6 3-2z" color="#77d153"/><path d="M343 473l-4 8 3-1 4-8z" color="#81d34d"/><path d="M372 447l-4 5 3 2 4-5z" color="#e7e419"/><path d="M450 570l-4 3 4 6 3-4z" color="#3d4e8a"/><path d="M402 465l-4 4 4 2 3-3z" color="#a2da37"/><path d="M483 606l-3 3 3 3 4-3z" color="#470e61"/><path d="M332 490l-4 7 3-2 4-7z" color="#4cc26c"/><path d="M441 546l-4 3 3 5 4-3z" color="#2c738e"/><path d="M487 609l-4 3 3 3 4-3z" color="#46085c"/><path d="M405 468l-3 3 3 3 4-4z" color="#98d83e"/><path d="M409 470l-4 4 3 3 4-3z" color="#8ed645"/><path d="M408 484l-4 2 3 26 4 8z" color="#e1f5eb"/><path d="M350 465l-4 7 3-1 4-7z" color="#a2da37"/><path d="M314 512l-4 5 3-1 4-5z" color="#22a785"/><path d="M375 449l-4 5 3 1 4-5z" color="#e5e419"/><path d="M447 565l-4 3 3 5 4-3z" color="#38588c"/><path d="M321 505l-4 6 3-1 4-7z" color="#2ab07f"/><path d="M339 481l-4 7 3-1 4-7z" color="#69cd5b"/><path d="M364 451l-3 6 3 1 4-6z" color="#dae319"/><path d="M434 523l-3 2 3 7 4-3z" color="#1f948c"/><path d="M437 540l-4 3 4 6 4-3z" color="#287d8e"/><path d="M456 589l-4 3 4 3 3-3z" color="#46307e"/><path d="M357 457l-4 7 4-1 4-6z" color="#c2df23"/><path d="M378 450l-4 5 4 3 4-4z" color="#dae319"/><path d="M382 454l-4 4 3 3 4-4z" color="#d0e11c"/><path d="M328 497l-4 6 3-1 4-7z" color="#3bbb75"/><path d="M417 531l-4-9 4-5 4 5z" color="#289f8f"/><path d="M453 584l-4 3 3 5 4-3z" color="#443983"/><path d="M459 592l-3 3 3 3 4-3z" color="#472c7a"/><path d="M385 457l-4 4 3 4 4-5z" color="#c2df23"/><path d="M388 460l-4 5 4 3 4-4z" color="#b5de2b"/><path d="M443 560l-3 3 3 5 4-3z" color="#34618d"/><path d="M428 520l-4-2 3 2 4-1z" color="#1fa188"/><path d="M463 595l-4 3 3 3 4-3z" color="#482878"/><path d="M346 472l-4 8 4-1 3-8z" color="#89d548"/><path d="M392 464l-4 4 3 2 4-4z" color="#aadc32"/><path d="M368 452l-4 6 3 1 4-5z" color="#d8e219"/><path d="M431 519l-4 1 4 5 3-2z" color="#1e9d89"/><path d="M466 598l-4 3 4 3 3-3z" color="#482374"/><path d="M335 488l-4 7 3-1 4-7z" color="#54c568"/><path d="M450 579l-4 3 3 5 4-3z" color="#414487"/><path d="M395 466l-4 4 3 2 4-3z" color="#a2da37"/><path d="M469 601l-3 3 3 3 4-4z" color="#481d6f"/><path d="M440 554l-4 3 4 6 3-3z" color="#306a8e"/><path d="M353 464l-4 7 4 0 4-8z" color="#aadc32"/><path d="M434 532l-4 3 3 8 4-3z" color="#24878e"/><path d="M473 603l-4 4 3 2 4-3z" color="#48186a"/><path d="M361 457l-4 6 3 1 4-6z" color="#c8e020"/><path d="M317 511l-4 5 3-1 4-5z" color="#24aa83"/><path d="M371 454l-4 5 3 2 4-6z" color="#d5e21a"/><path d="M398 469l-4 3 4 3 4-4z" color="#9bd93c"/><path d="M324 503l-4 7 3-1 4-7z" color="#2fb47c"/><path d="M342 480l-4 7 4-1 4-7z" color="#73d056"/><path d="M476 606l-4 3 4 3 4-3z" color="#471365"/><path d="M446 573l-4 4 4 5 4-3z" color="#3d4d8a"/><path d="M408 477l-4 4 4 3 4-1z" color="#77d153"/><path d="M480 609l-4 3 3 3 4-3z" color="#470d60"/><path d="M437 549l-4 3 3 5 4-3z" color="#2c728e"/><path d="M402 471l-4 4 3 2 4-3z" color="#93d741"/><path d="M374 455l-4 6 4 3 4-6z" color="#cde11d"/><path d="M331 495l-4 7 3-1 4-7z" color="#42be71"/><path d="M405 474l-4 3 3 4 4-4z" color="#89d548"/><path d="M483 612l-4 3 4 3 3-3z" color="#46075a"/><path d="M378 458l-4 6 3 3 4-6z" color="#c2df23"/><path d="M364 458l-4 6 3 2 4-7z" color="#c5e021"/><path d="M349 471l-3 8 3-1 4-7z" color="#93d741"/><path d="M381 461l-4 6 3 3 4-5z" color="#b5de2b"/><path d="M443 568l-4 3 3 6 4-4z" color="#39568c"/><path d="M384 465l-4 5 4 2 4-4z" color="#aadc32"/><path d="M357 463l-4 8 3 0 4-7z" color="#b0dd2f"/><path d="M338 487l-4 7 4-1 4-7z" color="#5cc863"/><path d="M433 543l-3 4 3 5 4-3z" color="#297b8e"/><path d="M452 592l-3 3 3 3 4-3z" color="#472f7d"/><path d="M431 525l-4 3 3 7 4-3z" color="#20938c"/><path d="M388 468l-4 4 3 3 4-5z" color="#a2da37"/><path d="M367 459l-4 7 3 1 4-6z" color="#c2df23"/><path d="M449 587l-4 3 4 5 3-3z" color="#453882"/><path d="M456 595l-4 3 3 3 4-3z" color="#472c7a"/><path d="M320 510l-4 5 3 0 4-6z" color="#27ad81"/><path d="M440 563l-4 3 3 5 4-3z" color="#34608d"/><path d="M346 479l-4 7 3-1 4-7z" color="#7ad151"/><path d="M391 470l-4 5 3 2 4-5z" color="#9bd93c"/><path d="M421 522l-4-5 3 0 4 1z" color="#21a585"/><path d="M459 598l-4 3 4 3 3-3z" color="#482677"/><path d="M327 502l-4 7 3-1 4-7z" color="#35b779"/><path d="M360 464l-4 7 3 1 4-6z" color="#b0dd2f"/><path d="M370 461l-4 6 4 3 4-6z" color="#bade28"/><path d="M462 601l-3 3 3 3 4-3z" color="#482173"/><path d="M353 471l-4 7 3 0 4-7z" color="#98d83e"/><path d="M446 582l-4 3 3 5 4-3z" color="#414287"/><path d="M334 494l-4 7 4-1 4-7z" color="#4ac16d"/><path d="M394 472l-4 5 4 2 4-4z" color="#93d741"/><path d="M374 464l-4 6 3 2 4-5z" color="#b0dd2f"/><path d="M436 557l-4 4 4 5 4-3z" color="#30698e"/><path d="M466 604l-4 3 3 3 4-3z" color="#481c6e"/><path d="M430 535l-4 4 4 8 3-4z" color="#24868e"/><path d="M427 520l-4 2 4 6 4-3z" color="#1f9f88"/><path d="M377 467l-4 5 3 3 4-5z" color="#a8db34"/><path d="M469 607l-4 3 4 3 3-4z" color="#481769"/><path d="M398 475l-4 4 3 2 4-4z" color="#8bd646"/><path d="M342 486l-4 7 3-1 4-7z" color="#63cb5f"/><path d="M424 518l-4-1 3 5 4-2z" color="#21a585"/><path d="M363 466l-4 6 3 2 4-7z" color="#addc30"/><path d="M380 470l-4 5 4 3 4-6z" color="#9dd93b"/><path d="M472 609l-3 4 3 2 4-3z" color="#471164"/><path d="M442 577l-3 3 3 5 4-3z" color="#3e4c8a"/><path d="M433 552l-4 3 3 6 4-4z" color="#2c718e"/><path d="M401 477l-4 4 3 3 4-3z" color="#84d44b"/><path d="M476 612l-4 3 3 3 4-3z" color="#460b5e"/><path d="M356 471l-4 7 3 1 4-7z" color="#98d83e"/><path d="M404 481l-4 3 4 2 4-2z" color="#77d153"/><path d="M349 478l-4 7 3 0 4-7z" color="#7fd34e"/><path d="M384 472l-4 6 3 2 4-5z" color="#95d840"/><path d="M404 486l-4 1 3 16 4 9z" color="#a8e1b7"/><path d="M323 509l-4 6 3-1 4-6z" color="#2cb17e"/><path d="M479 615l-4 3 4 3 4-3z" color="#46075a"/><path d="M366 467l-4 7 4 2 4-6z" color="#a5db36"/><path d="M407 520l-4-16 3 5 4 13z" color="#2fb185"/><path d="M330 501l-4 7 4-1 4-7z" color="#3bbb75"/><path d="M439 571l-4 4 4 5 3-3z" color="#39558c"/><path d="M410 522l-4-13 3 6 4 7z" color="#24aa83"/><path d="M430 547l-4 3 3 5 4-3z" color="#297a8e"/><path d="M387 475l-4 5 3 2 4-5z" color="#8ed645"/><path d="M370 470l-4 6 3 2 4-6z" color="#9dd93b"/><path d="M338 493l-4 7 3-1 4-7z" color="#50c46a"/><path d="M449 595l-4 4 3 2 4-3z" color="#472f7d"/><path d="M427 528l-4 3 3 8 4-4z" color="#20938c"/><path d="M359 472l-4 7 4 2 3-7z" color="#95d840"/><path d="M373 472l-4 6 3 3 4-6z" color="#95d840"/><path d="M445 590l-4 3 4 6 4-4z" color="#453781"/><path d="M436 566l-4 3 3 6 4-4z" color="#355f8d"/><path d="M452 598l-4 3 3 3 4-3z" color="#472a7a"/><path d="M352 478l-4 7 3 1 4-7z" color="#81d34d"/><path d="M345 485l-4 7 3 0 4-7z" color="#69cd5b"/><path d="M390 477l-4 5 4 1 4-4z" color="#89d548"/><path d="M455 601l-4 3 4 3 4-3z" color="#482576"/><path d="M376 475l-4 6 4 2 4-5z" color="#8ed645"/><path d="M362 474l-3 7 3 2 4-7z" color="#90d743"/><path d="M459 604l-4 3 3 3 4-3z" color="#482071"/><path d="M413 522l-4-7 4 0 4 2z" color="#25ab82"/><path d="M442 585l-4 3 3 5 4-3z" color="#424186"/><path d="M432 561l-4 3 4 5 4-3z" color="#31688e"/><path d="M394 479l-4 4 3 2 4-4z" color="#84d44b"/><path d="M426 539l-4 3 4 8 4-3z" color="#25858e"/><path d="M326 508l-4 6 4-2 4-5z" color="#2fb47c"/><path d="M403 503l-4-7 4 8 4 16z" color="#49bf82"/><path d="M380 478l-4 5 3 2 4-5z" color="#86d549"/><path d="M462 607l-4 3 4 3 3-3z" color="#481b6d"/><path d="M366 476l-4 7 3 2 4-7z" color="#8bd646"/><path d="M355 479l-4 7 4 1 4-6z" color="#7fd34e"/><path d="M334 500l-4 7 3-1 4-7z" color="#40bd72"/><path d="M465 610l-3 3 3 3 4-3z" color="#481769"/><path d="M397 481l-4 4 3 3 4-4z" color="#7cd250"/><path d="M423 522l-4 2 4 7 4-3z" color="#1f9f88"/><path d="M348 485l-4 7 3 1 4-7z" color="#6ccd5a"/><path d="M439 580l-4 3 3 5 4-3z" color="#3e4a89"/><path d="M341 492l-4 7 3 0 4-7z" color="#58c765"/><path d="M469 613l-4 3 3 2 4-3z" color="#471164"/><path d="M429 555l-4 4 3 5 4-3z" color="#2d718e"/><path d="M383 480l-4 5 3 2 4-5z" color="#81d34d"/><path d="M369 478l-4 7 3 2 4-6z" color="#84d44b"/><path d="M472 615l-4 3 4 3 3-3z" color="#460b5e"/><path d="M359 481l-4 6 3 2 4-6z" color="#7cd250"/><path d="M400 484l-4 4 4-1 4-1z" color="#77d153"/><path d="M475 618l-3 3 3 3 4-3z" color="#450559"/><path d="M372 481l-4 6 4 2 4-6z" color="#7cd250"/><path d="M435 575l-4 3 4 5 4-3z" color="#3a548c"/><path d="M417 517l-4-2 3 3 4-1z" color="#26ad81"/><path d="M420 517l-4 1 3 6 4-2z" color="#22a884"/><path d="M386 482l-4 5 4 1 4-5z" color="#7cd250"/><path d="M426 550l-4 3 3 6 4-4z" color="#29798e"/><path d="M351 486l-4 7 4 1 4-7z" color="#6ccd5a"/><path d="M362 483l-4 6 3 2 4-6z" color="#77d153"/><path d="M423 531l-4 3 3 8 4-3z" color="#20928c"/><path d="M445 599l-4 3 3 3 4-4z" color="#472e7c"/><path d="M330 507l-4 5 3-1 4-5z" color="#35b779"/><path d="M376 483l-4 6 3 1 4-5z" color="#77d153"/><path d="M344 492l-4 7 3 0 4-6z" color="#5ac864"/><path d="M432 569l-4 4 3 5 4-3z" color="#355e8d"/><path d="M441 593l-3 4 3 5 4-3z" color="#453581"/><path d="M337 499l-4 7 3-1 4-6z" color="#48c16e"/><path d="M448 601l-4 4 4 2 3-3z" color="#482979"/><path d="M390 483l-4 5 3 2 4-5z" color="#7ad151"/><path d="M365 485l-4 6 3 2 4-6z" color="#73d056"/><path d="M451 604l-3 3 3 3 4-3z" color="#482475"/><path d="M355 487l-4 7 3 1 4-6z" color="#69cd5b"/><path d="M379 485l-4 5 3 2 4-5z" color="#75d054"/><path d="M455 607l-4 3 3 3 4-3z" color="#481f70"/><path d="M428 564l-3 3 3 6 4-4z" color="#31678e"/><path d="M438 588l-4 3 4 6 3-4z" color="#424086"/><path d="M393 485l-4 5 3 2 4-4z" color="#75d054"/><path d="M422 542l-4 3 4 8 4-3z" color="#25838e"/><path d="M347 493l-4 6 4 1 4-6z" color="#5ac864"/><path d="M458 610l-4 3 4 3 4-3z" color="#481b6d"/><path d="M368 487l-4 6 4 1 4-5z" color="#6ece58"/><path d="M358 489l-4 6 3 2 4-6z" color="#65cb5e"/><path d="M462 613l-4 3 3 3 4-3z" color="#481668"/><path d="M419 524l-4 3 4 7 4-3z" color="#1f9f88"/><path d="M435 583l-4 3 3 5 4-3z" color="#3e4989"/><path d="M425 559l-4 3 4 5 3-3z" color="#2e6f8e"/><path d="M340 499l-4 6 3 0 4-6z" color="#4ac16d"/><path d="M382 487l-4 5 4 1 4-5z" color="#70cf57"/><path d="M400 487l-4 2 3 7 4 7z" color="#78d272"/><path d="M465 616l-4 3 4 3 3-4z" color="#471063"/><path d="M333 506l-4 5 3-1 4-5z" color="#3bbb75"/><path d="M372 489l-4 5 3 2 4-6z" color="#69cd5b"/><path d="M468 618l-3 4 3 2 4-3z" color="#460a5d"/><path d="M351 494l-4 6 3 1 4-6z" color="#58c765"/><path d="M361 491l-4 6 3 1 4-5z" color="#63cb5f"/><path d="M396 488l-4 4 4-3 4-2z" color="#77d153"/><path d="M431 578l-4 3 4 5 4-3z" color="#3a538b"/><path d="M472 621l-4 3 3 3 4-3z" color="#450457"/><path d="M422 553l-4 4 3 5 4-3z" color="#2a778e"/><path d="M386 488l-4 5 3 1 4-4z" color="#70cf57"/><path d="M343 499l-4 6 4 1 4-6z" color="#4cc26c"/><path d="M419 534l-4 3 3 8 4-3z" color="#21918c"/><path d="M375 490l-4 6 3 1 4-5z" color="#67cc5c"/><path d="M441 602l-4 3 3 3 4-3z" color="#472d7b"/><path d="M416 518l-4 2 3 7 4-3z" color="#24aa83"/><path d="M364 493l-4 5 4 2 4-6z" color="#60ca60"/><path d="M354 495l-4 6 3 2 4-6z" color="#56c667"/><path d="M428 573l-4 3 3 5 4-3z" color="#365d8d"/><path d="M438 597l-4 3 3 5 4-3z" color="#463480"/><path d="M444 605l-4 3 4 3 4-4z" color="#482878"/><path d="M389 490l-4 4 3 2 4-4z" color="#6ccd5a"/><path d="M336 505l-4 5 3 1 4-6z" color="#3fbc73"/><path d="M448 607l-4 4 3 2 4-3z" color="#482475"/><path d="M409 515l-4-5 4 4 4 1z" color="#32b67a"/><path d="M378 492l-4 5 4 1 4-5z" color="#65cb5e"/><path d="M418 545l-4 4 4 8 4-4z" color="#26828e"/><path d="M413 515l-4-1 3 6 4-2z" color="#2db27d"/><path d="M425 567l-4 4 3 5 4-3z" color="#32658e"/><path d="M347 500l-4 6 3 1 4-6z" color="#4ac16d"/><path d="M368 494l-4 6 3 1 4-5z" color="#5ec962"/><path d="M434 591l-4 4 4 5 4-3z" color="#423f85"/><path d="M451 610l-4 3 4 3 3-3z" color="#481f70"/><path d="M357 497l-4 6 3 1 4-6z" color="#56c667"/><path d="M454 613l-3 3 3 3 4-3z" color="#481a6c"/><path d="M406 509l-4-10 3 11 4 5z" color="#40bd75"/><path d="M458 616l-4 3 3 3 4-3z" color="#481467"/><path d="M421 562l-4 3 4 6 4-4z" color="#2e6e8e"/><path d="M415 527l-3 3 3 7 4-3z" color="#1f9e89"/><path d="M339 505l-4 6 3 1 5-6z" color="#3fbc73"/><path d="M431 586l-4 3 3 6 4-4z" color="#3e4989"/><path d="M371 496l-4 5 3 1 4-5z" color="#5cc863"/><path d="M461 619l-4 3 4 3 4-3z" color="#471063"/><path d="M382 493l-4 5 3 1 4-5z" color="#65cb5e"/><path d="M350 501l-4 6 3 1 4-5z" color="#4ac16d"/><path d="M360 498l-4 6 4 1 4-5z" color="#54c568"/><path d="M465 622l-4 3 3 3 4-4z" color="#460a5d"/><path d="M418 557l-4 3 3 5 4-3z" color="#2a768e"/><path d="M427 581l-3 3 3 5 4-3z" color="#3b528b"/><path d="M392 492l-4 4 4-6 4-1z" color="#75d054"/><path d="M468 624l-4 4 4 2 3-3z" color="#450457"/><path d="M415 537l-4 4 3 8 4-4z" color="#21908d"/><path d="M403 504l-5-11 4 6 4 10z" color="#56c667"/><path d="M343 506l-5 6 4 0 4-5z" color="#3fbc73"/><path d="M385 494l-4 5 3 1 4-4z" color="#65cb5e"/><path d="M364 500l-4 5 3 1 4-5z" color="#52c569"/><path d="M374 497l-4 5 4 0 4-4z" color="#5cc863"/><path d="M353 503l-4 5 3 1 4-5z" color="#4ac16d"/><path d="M437 605l-4 3 4 3 3-3z" color="#472d7b"/><path d="M424 576l-4 3 4 5 3-3z" color="#365c8d"/><path d="M412 520l-4 2 4 8 3-3z" color="#24aa83"/><path d="M434 600l-4 3 3 5 4-3z" color="#463480"/><path d="M440 608l-3 3 3 3 4-3z" color="#482878"/><path d="M399 496l-4-5 3 2 5 11z" color="#67cc5c"/><path d="M444 611l-4 3 3 2 4-3z" color="#482374"/><path d="M414 549l-4 3 4 8 4-3z" color="#26818e"/><path d="M421 571l-4 3 3 5 4-3z" color="#32648e"/><path d="M396 489l-4 1 3 1 4 5z" color="#7ad151"/><path d="M346 507l-4 5 3 1 4-5z" color="#40bd72"/><path d="M367 501l-4 5 3 1 4-5z" color="#52c569"/><path d="M430 595l-4 3 4 5 4-3z" color="#433e85"/><path d="M447 613l-4 3 4 3 4-3z" color="#481d6f"/><path d="M356 504l-4 5 4 1 4-5z" color="#48c16e"/><path d="M378 498l-4 4 3 1 4-4z" color="#5cc863"/><path d="M451 616l-4 3 3 3 4-3z" color="#481a6c"/><path d="M412 530l-4 3 3 8 4-4z" color="#1e9c89"/><path d="M417 565l-4 4 4 5 4-3z" color="#2e6d8e"/><path d="M409 514l-4 1 3 7 4-2z" color="#2fb47c"/><path d="M454 619l-4 3 4 3 3-3z" color="#481467"/><path d="M427 589l-4 4 3 5 4-3z" color="#3f4889"/><path d="M457 622l-3 3 3 3 4-3z" color="#470e61"/><path d="M349 508l-4 5 3 1 4-5z" color="#40bd72"/><path d="M360 505l-4 5 3 1 4-5z" color="#48c16e"/><path d="M370 502l-4 5 4 0 4-5z" color="#52c569"/><path d="M461 625l-4 3 3 3 4-3z" color="#46085c"/><path d="M414 560l-4 3 3 6 4-4z" color="#2b758e"/><path d="M381 499l-4 4 3 1 4-4z" color="#5cc863"/><path d="M424 584l-4 3 3 6 4-4z" color="#3b518b"/><path d="M388 496l-4 4 4-8 4-2z" color="#73d056"/><path d="M405 510l-4-2 4 7 4-1z" color="#3fbc73"/><path d="M411 541l-4 3 3 8 4-3z" color="#218e8d"/><path d="M464 628l-4 3 4 2 4-3z" color="#450457"/><path d="M420 579l-4 3 4 5 4-3z" color="#375b8d"/><path d="M363 506l-4 5 3 1 4-5z" color="#48c16e"/><path d="M352 509l-4 5 4 1 4-5z" color="#40bd72"/><path d="M408 522l-4 3 4 8 4-3z" color="#23a983"/><path d="M374 502l-4 5 3 0 4-4z" color="#54c568"/><path d="M410 552l-4 3 4 8 4-3z" color="#27808e"/><path d="M417 574l-4 3 3 5 4-3z" color="#33638d"/><path d="M356 510l-4 5 3 0 4-4z" color="#40bd72"/><path d="M408 533l-4 3 3 8 4-3z" color="#1e9b8a"/><path d="M366 507l-4 5 4-1 4-4z" color="#4ac16d"/><path d="M413 569l-4 3 4 5 4-3z" color="#2f6c8e"/><path d="M377 503l-4 4 3 1 4-4z" color="#56c667"/><path d="M402 499l-4-6 3 15 4 2z" color="#69cd6c"/><path d="M405 515l-4 2 3 8 4-3z" color="#31b57b"/><path d="M410 563l-4 3 3 6 4-3z" color="#2b748e"/><path d="M384 500l-4 4 4-10 4-2z" color="#73d05a"/><path d="M407 544l-4 3 3 8 4-3z" color="#228d8d"/><path d="M359 511l-4 4 3 1 4-4z" color="#40bd72"/><path d="M392 490l-4 2 3-4 4 3z" color="#8bd646"/><path d="M370 507l-4 4 3 0 4-4z" color="#4ec36b"/><path d="M404 525l-4 3 4 8 4-3z" color="#22a884"/><path d="M406 555l-4 4 4 7 4-3z" color="#277f8e"/><path d="M401 508l-4 0 4 9 4-2z" color="#48c16e"/><path d="M362 512l-4 4 4 0 4-5z" color="#42be71"/><path d="M404 536l-4 4 3 7 4-3z" color="#1f998a"/><path d="M395 491l-4-3 3-2 4 7z" color="#93d741"/><path d="M373 507l-4 4 3 0 4-3z" color="#50c46a"/><path d="M398 493l-4-7 4 7 4 6z" color="#86d549"/><path d="M401 517l-4 2 3 9 4-3z" color="#31b57b"/><path d="M403 547l-4 4 3 8 4-4z" color="#228c8d"/><path d="M380 504l-4 4 3-12 5-2z" color="#77d15f"/><path d="M366 511l-4 5 3-1 4-4z" color="#48c16e"/><path d="M400 528l-4 4 4 8 4-4z" color="#21a685"/><path d="M388 492l-4 2 3-8 4 2z" color="#98d83e"/><path d="M369 511l-4 4 3 0 4-4z" color="#4cc26c"/><path d="M400 540l-4 3 3 8 4-4z" color="#1f988b"/><path d="M398 493l-4-3 3 18 4 0z" color="#87d666"/><path d="M397 508l-4 0 4 11 4-2z" color="#51c471"/><path d="M397 519l-4 3 3 10 4-4z" color="#2fb47c"/><path d="M376 508l-4 3 3-13 4-2z" color="#79d265"/><path d="M396 532l-4 3 4 8 4-3z" color="#21a585"/><path d="M391 488l-4-2 3-4 4 4z" color="#b5de2b"/><path d="M394 486l-4-4 4 8 4 3z" color="#addc30"/><path d="M384 494l-5 2 4-10 4 0z" color="#a6dc40"/><path d="M393 508l-4 1 4 13 4-3z" color="#61ca79"/><path d="M393 522l-5 3 4 10 4-3z" color="#2fb37d"/><path d="M372 511l-4 4 3-15 4-2z" color="#7ad26a"/><path d="M394 490l-5-1 4 19 4 0z" color="#9adb63"/><path d="M389 509l-4 2 3 14 5-3z" color="#6dce80"/><path d="M379 496l-4 2 3-11 5-1z" color="#b5e04b"/><path d="M387 486l-4 0 3-5 4 1z" color="#c8e020"/><path d="M390 482l-4-1 3 8 5 1z" color="#c5e021"/><path d="M389 489l-4 0 4 20 4-1z" color="#a5de62"/><path d="M375 498l-4 2 3-12 4-1z" color="#bbe254"/><path d="M383 486l-5 1 4-5 4-1z" color="#d5e21a"/><path d="M385 489l-4 1 4 21 4-2z" color="#ade060"/><path d="M386 481l-4 1 3 7 4 0z" color="#d2e21b"/><path d="M378 487l-4 1 3-5 5-1z" color="#dde318"/><path d="M382 482l-5 1 4 7 4-1z" color="#dde318"/></g><g id="Path3DCollection_13"><g clip-path="url(#p740e0da56d)"><circle cx="186.8" cy="281.6" r="2.0" style="fill: #ff0000"/></g></g><g id="Path3DCollection_14"><g clip-path="url(#p740e0da56d)"><circle cx="211.5" cy="288.6" r="2.4" style="fill: #ff0000"/></g></g><g id="Path3DCollection_15"><g clip-path="url(#p740e0da56d)"><circle cx="213.4" cy="289.1" r="2.6" style="fill: #ff0000"/></g></g><g id="text_64"><text style="font-size: 12px; font-family: 'DejaVu Sans'; text-anchor: start" x="136" y="190.1" transform="rotate(-0 136 190.1)">(d)</text></g></g><g id="patch_18"><path d="M 318.1 325.1 L 474.4 325.1 L 474.4 196.1 L 318.1 196.1 z" style="fill: #ffffff"/></g><g id="pane3d_13"><g id="patch_19"><path d="M 354.3 295.2 L 442.4 295.2 L 442.4 222.5 L 354.3 222.5" style="fill: #f2f2f2; opacity: 0.5; stroke: #f2f2f2; stroke-linejoin: miter"/></g></g><g id="pane3d_14"><g id="patch_20"><path d="M 354.3 295.2 L 349.2 299.5 L 349.2 218.3 L 354.3 222.5" style="fill: #e6e6e6; opacity: 0.5; stroke: #e6e6e6; stroke-linejoin: miter"/></g></g><g id="pane3d_15"><g id="patch_21"><path d="M 354.3 295.2 L 349.2 299.5 L 447.6 299.5 L 442.4 295.2" style="fill: #ececec; opacity: 0.5; stroke: #ececec; stroke-linejoin: miter"/></g></g><g id="grid3d_13"/><g id="grid3d_14"><g id="Line3DCollection_11"><path d="M 357.9 222.5 L 357.9 295.2 L 353.2 299.5" style="fill: none; stroke: #b0b0b0; stroke-width: 0.8"/><path d="M 376.3 222.5 L 376.3 295.2 L 373.7 299.5" style="fill: none; stroke: #b0b0b0; stroke-width: 0.8"/><path d="M 394.7 222.5 L 394.7 295.2 L 394.3 299.5" style="fill: none; stroke: #b0b0b0; stroke-width: 0.8"/><path d="M 413.1 222.5 L 413.1 295.2 L 414.8 299.5" style="fill: none; stroke: #b0b0b0; stroke-width: 0.8"/><path d="M 431.5 222.5 L 431.5 295.2 L 435.3 299.5" style="fill: none; stroke: #b0b0b0; stroke-width: 0.8"/></g></g><g id="grid3d_15"><g id="Line3DCollection_12"><path d="M 349.2 297.8 L 354.3 293.8 L 442.4 293.8" style="fill: none; stroke: #b0b0b0; stroke-width: 0.8"/><path d="M 349.2 282.2 L 354.3 279.8 L 442.4 279.8" style="fill: none; stroke: #b0b0b0; stroke-width: 0.8"/><path d="M 349.2 266.7 L 354.3 265.8 L 442.4 265.8" style="fill: none; stroke: #b0b0b0; stroke-width: 0.8"/><path d="M 349.2 251.1 L 354.3 251.9 L 442.4 251.9" style="fill: none; stroke: #b0b0b0; stroke-width: 0.8"/><path d="M 349.2 235.5 L 354.3 237.9 L 442.4 237.9" style="fill: none; stroke: #b0b0b0; stroke-width: 0.8"/><path d="M 349.2 219.9 L 354.3 224 L 442.4 224" style="fill: none; stroke: #b0b0b0; stroke-width: 0.8"/></g></g><g id="axis3d_13"><g id="line2d_63"><path d="M 442.4 295.2 L 447.6 299.5" style="fill: none; stroke: #000000; stroke-width: 0.8; stroke-linecap: square"/></g></g><g id="axis3d_14"><g id="line2d_64"><path d="M 349.2 299.5 L 447.6 299.5" style="fill: none; stroke: #000000; stroke-width: 0.8; stroke-linecap: square"/></g><g id="xtick_51"><g id="line2d_65"><path d="M 353.2 299.4 L 353.1 299.5" style="fill: none; stroke: #000000; stroke-width: 0.8; stroke-linecap: square"/></g><g id="text_65" transform="translate(-0.3 -10)"><text style="font-size: 10px; font-family: 'DejaVu Sans'" transform="translate(344.6 327.9) rotate(-24)">-2.0</text></g></g><g id="xtick_52"><g id="line2d_66"><path d="M 373.7 299.4 L 373.7 299.5" style="fill: none; stroke: #000000; stroke-width: 0.8; stroke-linecap: square"/></g><g id="text_66" transform="translate(-0.3 -10)"><text style="font-size: 10px; font-family: 'DejaVu Sans'" transform="translate(367.1 326.4) rotate(-24)">3.0</text></g></g><g id="xtick_53"><g id="line2d_67"><path d="M 394.3 299.4 L 394.2 299.5" style="fill: none; stroke: #000000; stroke-width: 0.8; stroke-linecap: square"/></g><g id="text_67" transform="translate(-0.3 -10)"><text style="font-size: 10px; font-family: 'DejaVu Sans'" transform="translate(388 326.4) rotate(-24)">8.0</text></g></g><g id="xtick_54"><g id="line2d_68"><path d="M 414.8 299.4 L 414.8 299.5" style="fill: none; stroke: #000000; stroke-width: 0.8; stroke-linecap: square"/></g><g id="text_68" transform="translate(-0.3 -10)"><text style="font-size: 10px; font-family: 'DejaVu Sans'" transform="translate(406 329) rotate(-24)">13.0</text></g></g><g id="xtick_55"><g id="line2d_69"><path d="M 435.3 299.4 L 435.4 299.5" style="fill: none; stroke: #000000; stroke-width: 0.8; stroke-linecap: square"/></g><g id="text_69" transform="translate(-0.3 -10)"><text style="font-size: 10px; font-family: 'DejaVu Sans'" transform="translate(427 329) rotate(-24)">18.0</text></g></g><g id="text_70" transform="translate(0.8 0.6)"><text style="font-size: 10px; font-family: 'DejaVu Sans'; text-anchor: middle" x="398.4" y="332.8" transform="rotate(-0 398.4 332.8)">Y (Å)</text></g></g><g id="axis3d_15"><g id="line2d_70"><path d="M 349.2 299.5 L 349.2 218.3" style="fill: none; stroke: #000000; stroke-width: 0.8; stroke-linecap: square"/></g><g id="xtick_56"><g id="line2d_71"><path d="M 349.2 297.8 L 349.1 297.9" style="fill: none; stroke: #000000; stroke-width: 0.8; stroke-linecap: square"/></g><g id="text_71" transform="translate(1.9 -0.6)"><text style="font-size: 10px; font-family: 'DejaVu Sans'; text-anchor: middle" x="332.8" y="306.1" transform="rotate(-0 332.8 306.1)">0.0</text></g></g><g id="xtick_57"><g id="line2d_72"><path d="M 349.2 282.2 L 349.1 282.3" style="fill: none; stroke: #000000; stroke-width: 0.8; stroke-linecap: square"/></g><g id="text_72" transform="translate(1.9 -0.6)"><text style="font-size: 10px; font-family: 'DejaVu Sans'; text-anchor: middle" x="332.8" y="290.3" transform="rotate(-0 332.8 290.3)">0.2</text></g></g><g id="xtick_58"><g id="line2d_73"><path d="M 349.2 266.6 L 349.1 266.7" style="fill: none; stroke: #000000; stroke-width: 0.8; stroke-linecap: square"/></g><g id="text_73" transform="translate(1.9 -0.6)"><text style="font-size: 10px; font-family: 'DejaVu Sans'; text-anchor: middle" x="332.8" y="274.4" transform="rotate(-0 332.8 274.4)">0.4</text></g></g><g id="xtick_59"><g id="line2d_74"><path d="M 349.2 251.1 L 349.1 251" style="fill: none; stroke: #000000; stroke-width: 0.8; stroke-linecap: square"/></g><g id="text_74" transform="translate(1.9 -0.6)"><text style="font-size: 10px; font-family: 'DejaVu Sans'; text-anchor: middle" x="332.8" y="258.5" transform="rotate(-0 332.8 258.5)">0.6</text></g></g><g id="xtick_60"><g id="line2d_75"><path d="M 349.2 235.5 L 349.1 235.4" style="fill: none; stroke: #000000; stroke-width: 0.8; stroke-linecap: square"/></g><g id="text_75" transform="translate(1.9 -0.6)"><text style="font-size: 10px; font-family: 'DejaVu Sans'; text-anchor: middle" x="332.8" y="242.6" transform="rotate(-0 332.8 242.6)">0.8</text></g></g><g id="xtick_61"><g id="line2d_76"><path d="M 349.2 219.9 L 349.1 219.8" style="fill: none; stroke: #000000; stroke-width: 0.8; stroke-linecap: square"/></g><g id="text_76" transform="translate(1.9 -0.6)"><text style="font-size: 10px; font-family: 'DejaVu Sans'; text-anchor: middle" x="332.8" y="226.8" transform="rotate(-0 332.8 226.8)">1.0</text></g></g><g id="text_77" transform="translate(-0.5 4.8)"><g transform="translate(315.5 278.3) rotate(-90)"><text><tspan x="0" y="-0.4" style="font-size: 10px; font-family: 'DejaVu Sans'">I</tspan><tspan x="16.6" y="-0.4" style="font-size: 10px; font-family: 'DejaVu Sans'"></tspan><tspan x="19.8" y="-0.4" style="font-size: 10px; font-family: 'DejaVu Sans'">(</tspan><tspan x="23.7" y="-0.4" style="font-size: 10px; font-family: 'DejaVu Sans'">E</tspan><tspan x="34.8" y="-0.4" style="font-size: 10px; font-family: 'DejaVu Sans'">)</tspan><tspan x="3" y="1.2" style="font-style: oblique; font-size: 7px; font-family: 'DejaVu Sans'">E</tspan><tspan x="7.5" y="1.2" style="font-style: oblique; font-size: 7px; font-family: 'DejaVu Sans'">K</tspan><tspan x="12.1" y="1.2" style="font-style: oblique; font-size: 7px; font-family: 'DejaVu Sans'">T</tspan><tspan x="30.1" y="1.2" style="font-style: oblique; font-size: 7px; font-family: 'DejaVu Sans'">h</tspan></text></g></g></g><g id="axes_5"><g id="surf_1_1" transform="scale(0.5)" fill="currentColor" stroke="currentColor" stroke-width="2.0"><path d="M712 506l-1-2 3-2 1 3zM804 501l0 0 3 5 0 1zM789 500l0 18-3-14 0-12zM801 500l0 4-3 6 0-8zM807 505l0 1-3 0 0-3zM804 506l0-4 4 2-1 2zM786 504l0-13 3 8 0 19zM798 510l0-9 3-2 0 5zM706 501l0 3-3 1 0-2zM808 505l0 1-3-6 0-1z" color="#21a585"/><path d="M715 505l-1-3 3-1 0 3zM711 504l0-3 3-2 0 3zM804 501l0-1 3 6 0 0zM804 500l0-1 3 6 0 1zM804 499l0 0 3 5 0 1zM807 503l0 1-3-4 0-1zM804 500l0 3-3 1 0-4zM807 504l0 1-3-2 0-3zM801 504l0-5 3 1 0 2zM804 502l0-2 4 3 0 1zM804 500l0-2 4 4 0 1zM808 503l0 1-3-6 0-1zM808 504l0 1-3-7 0 0zM707 497l-1 4-3 2 0-4zM808 505l0 0-3-6 0-1zM709 499l0 3-3 2 0-3z" color="#23a983"/><path d="M717 504l0-3 3-2 0 3zM720 502l0-3 3-1 0 3zM714 502l0-3 3-2 0 4zM804 499l0-1 3 6 0 0zM804 498l0 0 3 5 0 1zM807 503l0 0-3-4 0-1zM798 496l0 6-3 3 0-10zM795 504l0-11 3 2 0 6zM804 498l1-1 3 5 0 0zM808 502l0 1-3-6 0 0zM808 503l0 0-3-6 0 0zM710 496l-1 3-3 2 1-4zM713 497l-1 3-3 2 0-3zM716 496l0 3-4 1 1-3z" color="#26ad81"/><path d="M723 501l0-3 3-2 0 3zM801 494l0 0 3 7 0 0zM717 501l0-4 3-1 0 3zM711 501l0-3 3-2 0 3zM804 498l0 1-3-3 0-2zM795 495l0 10-3-4 0-14zM801 496l0 4-3 2 0-6zM804 499l0 1-3 0 0-4zM786 504l0 14-3-31 0-4zM783 486l0-5 3 23 0 14zM792 500l0-14 3 7 0 11zM798 501l0-6 3 0 0 4zM801 499l0-4 3 3 0 2zM801 495l0-2 4 4-1 1zM707 494l0 3-4 2 1-3zM713 494l0 3-4 2 1-3zM719 494l0 3-3 2 0-3zM805 499l0 1-3-8-1-1z" color="#2ab07f"/><path d="M726 499l0-3 3-2 0 3zM729 497l0-3 3-1 0 3zM720 499l0-3 3-2 0 4zM723 498l0-4 3-2 0 4zM801 494l0-1 3 7 0 1zM714 499l0-3 3-2 0 3zM801 493l0 0 3 6 0 1zM711 498l0-4 3-2 0 4zM801 493l0 0 3 6 0 0zM801 493l0 0 3 5 0 1zM804 498l0 0-3-4 0-1zM801 493l0-2 4 6 0 0zM801 491l0 0 4 6 0 0zM707 490l0 4-3 2 0-4zM805 497l0 1-4-7 0 0zM710 492l0 4-3 1 0-3zM805 498l0 0-4-7 0 0zM716 492l0 4-3 1 0-3zM719 490l0 4-3 2 0-4zM805 498l0 1-4-8 0 0zM722 492l0 3-3 2 0-3zM725 490l0 3-3 2 0-3z" color="#2fb47c"/><path d="M732 496l0-3 3-2 0 3zM726 496l0-4 3-1 0 3zM717 497l0-3 3-2 0 4zM720 496l0-4 3-2 0 4zM714 496l0-4 2-2 1 4zM798 492l0 4-3-1 0-8zM801 494l0 2-3 0 0-4zM792 487l0 14-3-1 0-15zM789 499l0-16 3 3 0 14zM795 493l0-8 3 5 0 5zM798 495l0-5 3 3 0 2zM710 488l0 4-3 2 0-4zM713 490l0 4-3 2 0-4zM716 488l0 4-3 2 0-4zM722 488l0 4-3 2 0-4zM728 489l0 3-3 1 0-3z" color="#35b779"/><path d="M735 494l0-3 2-1 1 2zM738 492l-1-2 3 0 1 2zM741 492l-1-2 3 0 0 2zM743 492l0-2 3-1 0 3zM746 492l0-3 3 0 0 3zM749 492l0-3 3 0 0 3zM752 492l0-3 3 0 0 3zM729 494l0-3 2-2 1 4zM723 494l0-4 2-1 1 3zM717 494l-1-4 3-2 1 4zM711 494l-1-4 3-2 1 4zM801 493l0 0-3-4 0-2zM801 493l0 1-3-2 0-3zM798 490l0-3 3 4 0 2zM708 486l-1 4-3 2 0-4zM798 487l0-2 3 6 0 0zM714 486l-1 4-3 2 0-4zM720 486l-1 4-3 2 0-4zM726 487l-1 3-3 2 0-4zM732 487l-1 3-3 2 0-3zM735 487l0 3-4 0 1-3zM738 487l0 2-3 1 0-3zM741 487l0 2-3 0 0-2zM744 487l0 2-3 0 0-2zM748 487l-1 2-3 0 0-2zM751 487l0 2-4 0 1-2z" color="#3bbb75"/><path d="M755 492l0-3 3 0 0 3zM758 492l0-3 3 0 0 2zM761 491l0-2 2 0 1 2zM764 491l-1-2 3 0 0 2zM766 491l0-2 3 0 0 1zM769 490l0-1 3-1 0 1zM798 485l0 0 3 9 0 0zM732 493l-1-4 3-1 1 3zM735 491l-1-3 3-1 0 3zM755 489l0-2 3 0 0 2zM758 489l0-2 2 0 1 2zM761 489l-1-2 3 0 0 2zM763 489l0-2 3 0 0 2zM798 485l0 0 3 8 0 1zM726 492l-1-3 3-2 1 4zM729 491l-1-4 3-1 0 3zM801 493l0 0-3-7 0-1zM720 492l-1-4 3-2 1 4zM801 493l0 0-3-6 0-1zM714 492l-1-4 3-2 0 4zM789 485l0 15-3-8 0-11zM786 491l0-12 3 4 0 16zM711 483l-1 5-3 2 1-4zM717 483l-1 5-3 2 1-4zM798 485l0-2 3 8 0 0zM723 485l-1 3-3 2 1-4zM726 483l0 4-4 1 1-3zM798 483l0 0 3 8 0 0zM729 485l-1 4-3 1 1-3zM732 484l0 3-4 2 1-4zM754 484l0 3-3 0 0-3zM757 485l0 2-3 0 0-3zM760 485l0 2-3 0 0-2zM764 485l-1 2-3 0 0-2zM798 483l0-1 3 9 0 0zM754 487l0 2-3 0 0-2zM757 487l0 2-3 0 0-2zM760 487l0 1-3 1 0-2zM763 487l0 1-3 0 0-1zM767 486l-1 1-3 1 0-1zM770 485l0 1-4 1 1-1zM798 482l0-1 4 11-1-1z" color="#42be71"/><path d="M772 489l0-1 3-1 0 1zM775 488l0-1 3-1 0 1zM737 490l0-3 3-1 0 4zM740 490l0-4 3 0 0 4zM743 490l0-4 3 1 0 2zM746 489l0-2 3 0 0 2zM749 489l0-2 3 0 0 2zM752 489l0-2 3 0 0 2zM766 489l0-2 3 0 0 2zM769 489l0-2 3-1 0 2zM772 488l0-2 3-1 0 2zM731 489l0-3 3-2 0 4zM758 487l-1-2 3 0 0 2zM760 487l0-2 3 0 0 2zM763 487l0-2 3 0 0 2zM766 487l0-2 3 0 0 2zM723 490l-1-4 3-2 0 5zM716 490l0-4 3-3 0 5zM710 490l0-4 3-2 0 4zM798 489l0 3-3-5 0-6zM795 487l0 8-3-8 0-11zM783 495l0 3-3-24 0 0zM783 499l0 0-3-25 0 0zM780 474l0-1 3 22 0 2zM792 486l0-12 3 11 0 8zM708 481l0 5-4 2 1-4zM795 485l0-6 3 8 0 3zM714 481l0 5-4 2 1-5zM720 482l0 4-4 2 1-5zM729 481l0 4-3 2 0-4zM757 482l0 3-3-1 0-2zM760 482l0 3-3 0 0-3zM764 483l0 2-4 0 0-3zM767 482l0 2-3 1 0-2zM735 484l0 3-3 0 0-3zM738 484l0 3-3 0 0-3zM741 484l0 3-3 0 0-3zM745 484l-1 3-3 0 0-3zM748 484l0 3-4 0 1-3zM751 484l0 3-3 0 0-3zM767 484l0 2-4 1 1-2zM770 483l0 2-3 1 0-2zM773 483l0 1-3 1 0-2zM773 484l0 1-3 1 0-1zM776 483l0 1-3 1 0-1z" color="#4ac16d"/><path d="M778 487l0-1 3-11 0 1zM778 486l0-1 3-10 0 0zM778 485l0-1 3-9 0 0zM798 485l0 1-3-11 0-2zM737 483l0-4 3 0 0 4zM740 483l0-4 3 0 0 4zM743 483l0-4 3 1 0 3zM798 486l0 1-3-10 0-2zM728 483l0-5 3-1 0 4zM751 481l0-4 3 1 0 3zM754 481l0-3 3 1 0 3zM757 482l0-3 3 1 0 2zM760 482l0-2 3 0 0 3zM719 483l0-4 3-2 0 4zM763 480l0-3 3 1 0 2zM766 480l0-2 3 0 0 3zM769 481l0-3 3 0 0 2zM772 480l0-2 3 1 0 2zM775 481l0-2 3 0 0 2zM713 484l0-5 3-2 0 4zM792 476l0 11-3-2 0-12zM783 483l0 4-3-13 0 0zM780 473l0 0 3 8 0 5zM711 474l0 5-3 2 0-4zM789 483l0-12 3 3 0 12zM717 474l0 5-3 2 0-5zM764 476l0 2-3-1 0-2zM767 476l0 2-3 0 0-2zM770 476l0 2-3 0 0-2zM773 476l0 2-3 0 0-2zM776 477l0 1-3 0 0-2zM726 474l0 5-3 1 0-4zM751 475l0 4-3-1 0-3zM754 476l0 3-3 0 0-4zM758 477l-1 3-3-1 0-3zM761 477l0 3-4 0 1-3zM736 476l-1 4-3 0 0-4zM739 476l-1 4-3 0 1-4zM742 477l0 3-4 0 1-4zM795 474l0-3 3 12 0 2zM779 472l0-1-3 11 0-1zM795 471l0-2 3 14 0 0zM779 471l0 0-3 12 0-1zM779 471l0 0-3 13 0-1z" color="#65cb5e"/><path d="M784 463l0 1-3 11 0 1zM784 464l0 1-3 10 0 0zM784 465l0 1-3 9 0 0zM795 475l0 2-3-14 0-4zM786 466l0 6-3 0 1-3zM789 465l0 8-3-1 0-6zM731 472l-1-4 3-1 1 4zM734 471l-1-4 3-1 0 5zM736 471l0-5 3 1 0 4zM739 471l0-4 3 0 0 4zM742 471l0-4 3 1 0 4zM722 472l-1-5 3-1 0 4zM724 470l0-4 3-2 0 5zM748 469l0-4 3 2 0 3zM751 470l0-3 3 1 0 3zM715 472l0-4 3-3 0 5zM754 468l0-3 3 2 0 3zM757 470l0-3 3 1 0 3zM712 471l0-4 3-3 0 4zM760 468l-1-2 3 1 1 2zM763 469l-1-2 3 1 1 2zM709 470l0-3 3-3 0 3zM765 468l0-2 3 1 0 2zM768 469l0-2 3 1 0 2zM768 467l0-1 3 1 0 1zM771 468l0-1 3 2 0 1zM771 467l0-1 3 2 0 1zM771 466l0-1 3 2 0 1zM771 465l0 0 3 2 0 0zM774 467l0 0-3-1 0-1zM774 467l0 1-3-2 0 0zM771 466l0 1-3-1 0-1zM774 468l0 1-3-2 0-1zM709 463l0 3-3 3 0-3zM768 466l0 1-4-1 1-1zM771 467l0 2-3-2 0-1zM712 462l0 4-3 3 0-3zM761 465l0 2-3-1 0-2zM764 466l0 2-3-1 0-2zM715 463l0 4-3 3 0-4zM755 465l0 2-3-1 0-3zM758 466l0 3-3-2 0-2zM721 463l0 5-3 1 0-4zM724 462l0 4-3 2 0-5zM749 464l0 4-4-2 1-3zM752 466l0 3-3-1 0-4zM730 464l0 4-3 2 0-5zM733 464l0 4-3 0 0-4zM736 464l0 4-3 0 0-4zM739 464l0 4-3 0 0-4zM742 465l0 4-3-1 0-4zM783 469l0-3 3-4 0 8zM786 470l0-8 3-1 0 10zM792 459l0-5 3 17 0 3zM779 472l0-1 3-11 1 2zM779 471l0 0 3-12 0 1zM779 471l0 0 3-13 0 1z" color="#95d840"/><path d="M787 454l0 1-3 9 0-1zM789 456l0 3-2 2 0-3zM727 460l0-4 3-1 0 4zM730 459l0-4 3-1 0 4zM733 458l0-4 3 0 0 4zM736 458l0-4 3 1 0 3zM739 458l0-3 3 0 0 4zM742 459l0-4 3 2 0 3zM721 458l-1-3 3-1 1 3zM745 457l-1-3 3 2 1 2zM747 456l0-3 3 2 0 3zM714 458l0-2 3-3 0 2zM750 455l0-1 3 2 0 1zM753 456l0-1 3 2 0 1zM711 459l-1-1 3-3 1 0zM753 455l0 0 3 2 0 0zM756 457l0 1-3-3 0 0zM716 452l0 2-3 3 0-1zM753 455l-1 1-3-2 1-1zM749 454l0 2-3-2 0-2zM722 452l-1 3-3 1 1-3zM746 454l0 3-3-2 0-3zM728 453l-1 3-3 2 1-4zM731 452l-1 3-3 1 1-3zM734 452l-1 4-3-1 1-3zM737 453l0 3-4 0 1-4zM740 453l0 4-3-1 0-3zM743 455l0 3-3-1 0-4zM786 457l0-4 3-3 0 5zM782 459l0-1 4-11 0 2z" color="#cae11f"/><path d="M790 452l-1 0-2 3 0-1zM792 454l0 1-3-3 1 0zM789 452l0 1-2 3 0-1zM792 455l0 1-3-3 0-1zM730 455l-1-4 3-1 1 4zM733 454l-1-4 3 1 1 3zM736 454l-1-3 3 1 1 3zM720 455l0-3 3-1 0 3zM723 454l0-3 3-2 0 3zM738 452l0-3 3 1 0 2zM741 452l0-2 3 1 0 3zM717 455l0-2 3-3 0 2zM744 451l0-2 3 3 0 1zM717 453l0-1 3-3 0 1zM747 452l0-1 3 2 0 1zM717 452l-1-1 3-3 1 1zM747 451l0-1 3 3 0 0zM719 448l0 1-3 3 0-1zM750 453l0 0-3-2 0-1zM719 449l0 2-3 3 0-2zM747 451l-1 1-3-2 1-1zM722 449l0 3-3 1 0-2zM725 448l0 3-3 1 0-3zM740 449l0 2-3-1 0-2zM743 450l0 2-3-1 0-2zM731 449l0 3-3 1 0-3zM734 449l0 3-3 0 0-3zM737 450l0 3-3-1 0-3zM786 451l0-2 3-3 0 2zM789 448l0-2 3 3 0 2zM786 449l0-2 3-2 0 1zM789 446l0-1 3 2 0 2z" color="#dfe318"/><path d="M795 470l0 1-3-16 0-1zM795 471l0 2-3-17 0-1zM787 458l0 3-3 6 0-1zM789 459l0 6-3 1 1-5zM727 464l0-4 3-1 0 4zM730 463l0-4 3-1 0 4zM739 462l0-4 3 1 0 4zM742 463l0-4 3 1 0 4zM718 465l0-4 3-3 0 4zM748 462l0-4 3 2 0 3zM715 464l0-3 3-3 0 3zM754 462l-1-2 3 2 1 2zM712 464l-1-3 3-3 1 3zM756 462l0-2 3 2 0 1zM756 460l0-2 3 2 0 2zM759 462l0-2 3 2 0 1zM708 463l0-1 3-3 0 1zM759 460l0-1 3 2 0 1zM708 462l-1 0 3-4 1 1zM759 459l0 0 3 2 0 0zM710 458l0 1-3 3 0 0zM762 461l0 0-3-1 0-1zM759 460l0 1-3-2 0-1zM762 461l0 1-3-1 0-1zM713 457l0 2-4 4 1-3zM759 461l-1 1-3-2 1-1zM716 456l-1 3-3 3 1-3zM755 460l0 2-3-2 0-2zM718 456l0 4-3 3 0-4zM749 458l0 3-3-1 0-3zM727 456l0 5-3 1 0-4zM730 455l0 5-3 1 0-5zM740 457l-1 3-3 0 1-4zM743 458l0 3-4-1 1-3zM786 462l0-5 3-2 0 6zM783 464l0-2 3-9 0 4zM792 451l0-2 3 18 0 2zM792 449l0-2 3 18 0 2z" color="#b5de2b"/><path d="M798 485l0 0-3-14 0-1zM798 485l0 0-3-12 0-2zM778 484l0-2 3-7 0 0zM731 481l0-4 3-1 0 4zM734 480l0-4 3-1 0 4zM737 479l0-4 3 0 0 4zM740 479l0-4 3 0 0 4zM743 479l0-4 2 1 1 4zM746 480l-1-4 3 1 1 3zM749 480l-1-3 3 0 0 4zM778 482l0-1 3-6 0 0zM722 481l0-4 3-2 0 5zM725 480l0-5 3-1 0 4zM754 478l0-3 3 1 0 3zM757 479l0-3 3 1 0 3zM760 480l0-3 3 0 0 3zM778 481l0-2 3-5 0 1zM795 481l0 6-3-11 0-8zM716 481l0-4 3-3 0 5zM766 478l0-3 3 1 0 2zM769 478l0-2 3 0 0 2zM772 478l0-2 3 1 0 2zM775 479l0-2 3 1 0 1zM778 479l0-1 3-4 0 0zM789 473l0 12-3-4 0-9zM710 482l-1-4 3-3 1 4zM775 477l0-2 2 1 1 2zM783 479l0 4-3-9 0 0zM780 473l0-1 3 5 0 4zM709 473l-1 4-3 3 0-4zM777 474l0 2-4-1 1-2zM714 472l0 4-3 3 0-5zM767 473l0 3-3 0 0-3zM770 474l0 2-3 0 0-3zM773 475l0 1-3 0 0-2zM777 476l-1 1-3-1 0-1zM780 472l0 0-4 5 1-1zM786 479l0-9 3 1 0 12zM720 473l0 4-3 2 0-5zM723 471l0 5-3 1 0-4zM755 473l-1 3-3-1 1-3zM758 474l0 3-4-1 1-3zM761 475l0 2-3 0 0-3zM780 472l0 0-4 6 0-1zM792 474l0-9 3 14 0 6zM729 473l0 4-3 2 0-5zM733 472l-1 4-3 1 0-4zM736 472l0 4-4 0 1-4zM739 473l0 3-3 0 0-4zM742 473l0 4-3-1 0-3zM745 474l0 3-3 0 0-4zM748 475l0 3-3-1 0-3zM780 472l-1 0-3 8 0-2zM779 472l0 0-3 9 0-1zM795 469l0-2 3 15 0 1zM795 467l0-2 3 16 0 1z" color="#6ece58"/><path d="M807 507l0-1 3 6 0 1zM807 506l0 0 3 6 0 0zM807 506l0-1 3 6 0 1zM792 501l0 16-3 1 0-18zM795 505l0 12-3 0 0-16zM798 502l0 8-3 7 0-12zM810 509l0 0-3-1 0-2zM810 509l0 1-3 0 0-2zM807 510l0-2 4 1-1 1zM807 508l0-2 4 2 0 1zM789 518l0-19 3 1 0 17zM792 517l0-17 3 4 0 13zM795 517l0-13 3-3 0 9zM811 510l0 1-3-6 0-1zM811 511l0 1-3-7 0 0zM811 512l0 0-3-6 0-1z" color="#1f9e89"/><path d="M810 513l0-1 3 6 0 0zM813 514l0-1 3 6 0 1zM813 513l0 0 3 6 0 0zM813 513l0 0 3 5 0 1zM813 513l0 0 3 5 0 0zM786 531l0 12-3-48 0-4zM804 510l0 4-3 10 0-6zM813 513l0 0 3 5 0 0zM813 513l0 0 3 5 0 0zM807 512l0 0-3 7 0-2zM813 513l0 0 3 5 0 0zM807 512l0 0-3 7 0 0zM813 513l0 0 3 5 0 0zM804 519l0-2 3-5 0 0zM813 513l0 0 3 5 0 0zM813 513l1 0 3 5-1 0zM783 495l0-4 3 41 0 11zM801 524l0-6 3-8 0 4zM814 513l0 0 3 5 0 0zM817 518l0 0-3-5 0 0zM817 518l0 1-3-6 0 0zM817 519l0 0-3-6 0 0zM817 519l0 1-3-6 0-1zM814 518l0 1-3-7 0 0z" color="#20928c"/><path d="M813 518l0 0 3 6-1 0zM813 518l0-1 3 6 0 1zM813 517l0 0 3 6 0 0zM813 517l0-1 3 6 0 1zM801 511l0 7-3 12 0-10zM816 518l0 0 3 6 0 0zM816 518l0 0 3 6 0 0zM804 514l0 3-3 13 0-6zM816 518l0 0 3 6 0 0zM816 518l0 0 3 5 0 1zM816 518l0 0 3 5 0 0zM816 518l0 0 4 6-1-1zM801 530l0-6 3-10 0 3zM820 524l0 0-3-6-1 0zM820 524l0 0-3-6 0 0zM798 531l0-11 3-10 0 8zM820 524l0 1-3-7 0 0zM817 522l0 1-3-6 0-1zM817 523l0 1-3-7 0 0zM817 524l0 0-3-6 0-1zM817 524l0 1-3-6 0-1z" color="#238a8d"/><path d="M815 524l1 0 2 5 0 1zM816 524l0-1 2 6 0 0zM819 526l0-1 3 5 0 1zM819 525l0 0 3 5 0 0zM792 517l0 18-3 2 0-19zM819 525l0-1 3 5 0 1zM819 524l0 0 3 5 0 0zM801 518l0 6-3 16 0-10zM819 524l0 0 3 4 0 1zM798 541l0-10 3-13 0 6zM823 528l0 1-3-5 0 0zM823 529l0 0-3-4 0-1zM789 538l0-20 3-1 0 19zM823 529l0 1-3-5 0 0zM823 530l0 1-3-5 0-1zM823 531l0 0-3-5 0 0zM820 530l1 1-4-7 0 0zM821 531l0 0-4-6 0-1z" color="#277f8e"/><path d="M818 530l0-1 3 5 0 0zM818 529l0 0 3 4 0 1zM818 529l1-1 2 5 0 0zM819 528l0 0 3 4-1 1zM822 531l0-1 3 4 0 0zM822 530l0 0 3 3 0 1zM822 530l0-1 3 4 0 0zM798 520l0 10-3 14 0-14zM822 529l0 0 3 4 0 0zM795 545l0-14 3-11 0 11zM826 533l0 0-3-4 0 0zM826 533l0 1-3-4 0-1zM826 534l0 1-3-4 0-1zM826 535l0 0-3-4 0 0zM823 533l1 1-4-5 0 0zM824 534l0 1-4-5 0-1zM824 535l0 0-3-4-1-1zM824 535l0 1-3-5 0 0z" color="#2a778e"/><path d="M821 534l0 0 3 3 0 1zM821 534l0-1 3 4 0 0zM821 533l0 0 3 4 0 0zM825 536l0-1 3 4-1 0zM825 535l0-1 3 4 0 1zM825 534l0 0 3 4 0 0zM825 534l0-1 3 4 0 1zM789 537l0 18-3-24 0-13zM801 524l0 6-3 18 0-8zM798 548l0-7 3-17 0 6zM786 532l0-14 3 20 0 18zM829 538l0 1-3-4 0-1zM829 539l0 0-3-4 0 0zM829 539l0 1-3-4 0-1zM829 540l1 1-4-4 0-1zM827 538l0 1-3-4 0-1zM827 539l0 0-3-4 0 0zM827 539l0 1-3-4 0-1z" color="#2d708e"/><path d="M824 538l0-1 3 4 0 0zM827 540l0-1 3 4 0 1zM827 539l1 0 3 4-1 0zM828 539l0-1 3 4 0 1zM828 538l0 0 3 4 0 0zM795 530l0 14-3 8 0-17zM831 540l0 0 3 4 0 0zM831 540l0 0 3 4 0 0zM831 540l1 0 3 4-1 0zM835 544l0 0-3-4 0 0zM835 544l0 1-3-4 0-1zM792 553l0-17 3-5 0 14zM832 543l0 0-3-4 0 0zM832 543l1 1-4-4 0-1zM833 544l0 1-3-4-1-1zM833 545l0 1-3-5 0 0zM830 543l0 1-3-4 0-1z" color="#31688e"/><path d="M827 541l0 0 3 4 0 0zM827 541l0 0 3 3 0 1zM827 541l0-1 3 4 0 0zM827 540l0 0 3 4 0 0zM831 542l0 0 3 4 0 0zM831 542l0-1 3 4 0 1zM831 541l0 0 3 4 0 0zM831 541l0-1 3 4 0 1zM798 530l0 10-3 17 0-13zM831 540l0 0 3 4 0 0zM801 533l0 0-3 19 0 0zM795 557l0-12 3-14 0 10zM835 545l0 0-3-4 0 0zM835 545l0 1-3-4 0-1zM835 546l0 0-3-4 0 0zM835 546l0 1-3-4 0-1zM835 547l1 0-4-4 0 0zM833 546l0 0-3-4 0-1zM833 546l0 1-3-4 0-1zM833 547l0 0-3-4 0 0zM833 547l0 1-3-4 0-1z" color="#32648e"/><path d="M830 545l0 0 3 3 0 1zM830 545l0-1 3 4 0 0zM830 544l0 0 3 4 0 0zM833 546l1 0 3 4-1 0zM834 546l0 0 3 3 0 1zM834 546l0-1 3 4 0 0zM834 545l0 0 3 4 0 0zM838 550l0 0-3-4 0 0zM838 550l1 1-4-4 0-1zM839 551l0 1-3-5-1 0zM839 552l0 0-3-4 0-1zM836 550l0 1-3-4 0-1zM836 551l0 0-3-4 0 0zM836 551l1 1-4-4 0-1z" color="#365c8d"/><path d="M833 549l0-1 3 4 0 0zM836 551l0 0 3 3 0 1zM836 551l0-1 3 4 0 0zM836 550l1 0 2 4 0 0zM837 550l0-1 3 4-1 1zM837 549l0 0 3 4 0 0zM841 554l1 1-3-4-1-1zM842 555l0 1-3-4 0-1zM842 556l0 0-3-4 0 0zM842 556l0 1-3-4 0-1zM842 557l0 1-3-4 0-1zM840 555l0 1-3-4-1-1z" color="#3a538b"/><path d="M836 552l0 0 3 4 0 0zM836 552l0 0 3 3 0 1zM836 552l0-1 3 4 0 0zM836 551l0 0 3 4 0 0zM839 554l1-1 3 4-1 1zM840 553l0 0 3 4 0 0zM840 553l0 0 3 4 0 0zM840 553l0-1 3 4 0 1zM795 544l0 13-3 10 0-15zM840 552l0 0 3 4 0 0zM840 552l0 0 3 4 0 0zM840 552l1 0 3 4-1 0zM841 552l0 0 3 4 0 0zM844 556l0 1-3-4 0-1zM844 557l0 0-3-4 0 0zM792 568l0-15 3-8 0 12zM844 557l0 0-3-4 0 0zM844 557l0 1-3-4 0-1zM844 558l1 0-4-4 0 0zM845 558l0 1-3-4-1-1zM845 559l0 1-3-4 0-1zM842 558l0 0-3-4 0 0zM842 558l1 1-4-4 0-1zM843 559l0 0-3-4-1 0zM843 559l0 1-3-4 0-1z" color="#3d4e8a"/><path d="M839 556l0 0 3 3-1 0zM839 556l0-1 3 4 0 0zM839 555l0 0 3 4 0 0zM842 558l0 0 3 3 0 1zM842 558l1-1 3 4-1 0zM843 557l0 0 3 4 0 0zM843 557l0 0 3 4 0 0zM843 557l0-1 3 4 0 1zM843 556l0 0 3 4 0 0zM798 548l0 4-3 20 0-6zM795 572l0-5 3-19 0 4zM847 561l0 0-3-4 0 0zM847 561l0 1-3-4 0-1zM847 562l1 0-3-4-1 0zM848 562l0 1-3-4 0-1zM848 563l0 1-3-4 0-1zM848 564l0 0-3-4 0 0zM846 562l0 1-3-4-1-1zM846 563l0 0-3-4 0 0zM846 563l0 1-3-4 0-1z" color="#404588"/><path d="M841 559l1 0 2 4 0 0zM842 559l0 0 3 4-1 0zM842 559l0 0 3 3 0 1zM842 559l0-1 3 4 0 0zM842 558l0 0 3 4 0 0zM842 558l0 0 3 4 0 0zM846 561l0-1 3 4 0 1zM792 552l0 15-3 4 0-16zM846 560l0 0 3 4 0 0zM789 571l0 12-3-31 0-9zM846 560l0 0 3 4 0 0zM846 560l1 0 3 4-1 0zM847 560l0 0 3 5 0-1zM850 565l0 0-3-4 0-1zM786 552l0-9 3 29 0 11zM850 565l0 0-3-4 0 0zM789 572l0-16 3-3 0 15zM850 565l0 1-3-5 0 0zM850 566l1 0-4-4 0-1zM848 564l0 1-3-4 0-1zM848 565l1 1-4-4 0-1zM849 566l0 0-3-4-1 0zM849 566l0 1-3-4 0-1zM849 567l0 0-3-4 0 0zM849 567l0 1-3-4 0-1z" color="#424086"/><path d="M844 563l0 0 3 3 0 1zM844 563l1 0 2 3 0 0zM845 563l0-1 3 4-1 0zM845 562l0 0 3 4 0 0zM848 565l1 0 2 3 0 0zM849 565l0 0 3 2-1 1zM849 565l0 0 3 2 0 0zM849 565l0-1 3 3 0 0zM849 564l0 0 3 3 0 0zM795 557l0 9-3 12 0-11zM849 564l0 0 3 3 0 0zM849 564l1 0 3 3-1 0zM850 564l0 1 3 2 0 0zM853 567l0 1-3-3 0 0zM792 579l0-11 3-11 0 10zM853 568l0 0-3-3 0 0zM853 568l0 0-3-2 0-1zM853 568l1 1-3-3-1 0zM854 569l0 0-3-2 0-1zM854 569l0 1-3-3 0 0zM854 570l0 1-3-3 0-1zM852 570l0 0-3-4 0 0zM852 570l0 1-3-4 0-1zM852 571l0 0-3-4 0 0zM852 571l0 1-3-4 0-1z" color="#453781"/><path d="M847 567l0-1 3 3 0 0zM847 566l0 0 3 3 0 0zM847 566l1 0 3 3-1 0zM848 566l0 0 3 3 0 0zM848 566l0 0 3 2 0 1zM848 566l0-1 3 3 0 0zM848 565l0 0 3 3 0 0zM851 568l0 0 3 1 0 1zM851 568l1-1 3 2-1 0zM852 567l0 0 3 2 0 0zM852 567l0 0 3 2 0 0zM852 567l0 0 3 2 0 0zM852 567l0 0 3 2 0 0zM855 569l0 0 3 2 0 0zM852 567l1 0 3 2-1 0zM855 569l1 0 3 2-1 0zM856 569l0 0-3-2 0 0zM859 571l0 0-3-2 0 0zM856 569l0 0-3-1 0-1zM859 571l0 0-3-2 0 0zM856 569l0 1-3-2 0 0zM859 571l0 1-3-2 0-1zM856 570l0 0-3-2 0 0zM856 570l1 1-3-2-1-1zM857 571l0 0-3-2 0 0zM857 571l0 1-3-2 0-1zM857 572l0 0-3-1 0-1zM854 571l0 0-3-3 0 0zM854 571l1 1-4-3 0-1zM855 572l0 0-3-2-1-1zM855 572l0 1-3-3 0 0zM855 573l0 0-3-2 0-1zM855 573l0 1-3-3 0 0zM855 574l1 0-4-2 0-1z" color="#46327e"/><path d="M850 569l0 0 3 2 0 0zM850 569l0 0 3 1 0 1zM850 569l1 0 2 1 0 0zM851 569l0 0 3 1-1 0zM851 569l0-1 3 2 0 0zM851 568l0 0 3 2 0 0zM854 570l0 0 3 1 0 1zM851 568l0 0 3 2 0 0zM854 570l0 0 3 1 0 0zM854 570l0-1 3 2 0 0zM854 569l1 0 3 2-1 0zM855 569l0 0 3 2 0 0zM855 569l0 0 3 2 0 0zM858 571l0 0 3 1 0 1zM855 569l0 0 3 2 0 0zM858 571l0 0 3 1 0 0zM858 571l0 0 3 1 0 0zM858 571l1 0 3 2-1-1zM789 589l0 0-3-33 0 0zM862 573l0 0-3-2 0 0zM862 573l0 0-3-2 0 0zM862 573l0 0-3-1 0-1zM859 572l1 0-4-2 0 0zM862 573l1 1-3-2-1 0zM860 572l0 0-3-1-1-1zM863 574l0 0-3-2 0 0zM860 572l0 1-3-2 0 0zM860 573l0 1-3-2 0-1zM860 574l0 0-3-2 0 0zM857 572l1 1-4-2 0 0zM860 574l1 1-3-2-1-1zM858 573l0 1-3-2-1-1zM861 575l0 0-3-1 0-1zM858 574l0 0-3-2 0 0zM858 574l0 1-3-2 0-1zM858 575l0 0-3-2 0 0zM858 575l1 1-4-2 0-1zM859 576l0 0-3-2-1 0z" color="#472d7b"/><path d="M853 571l0 0 3 1 0 0zM853 571l0-1 3 2 0 0zM853 570l0 0 3 2 0 0zM853 570l1 0 3 2-1 0zM856 572l1 0 3 1-1 1zM854 570l0 0 3 2 0 0zM857 572l0 0 3 1 0 0zM857 572l0-1 3 2 0 0zM857 571l0 0 3 2 0 0zM857 571l0 0 3 2 0 0zM857 571l1 0 3 2-1 0zM860 573l1 0 3 1-1 0zM858 571l0 0 3 2 0 0zM861 573l0 0 3 1 0 0zM861 573l0-1 3 2 0 0zM861 572l0 0 3 2 0 0zM861 572l0 0 3 2 0 0zM861 572l1 1 3 1-1 0zM865 574l0 1-3-2 0 0zM865 575l0 0-3-2 0 0zM865 575l0 0-3-2 0 0zM865 575l1 1-3-2-1-1zM866 576l0 0-3-2 0 0zM863 574l0 1-3-2 0-1zM866 576l0 1-3-2 0-1zM863 575l0 0-3-1 0-1zM866 577l0 0-3-2 0 0zM863 575l1 1-4-2 0 0zM864 576l0 0-3-1-1-1zM864 576l0 1-3-2 0 0zM861 575l0 1-3-2 0 0zM864 577l0 1-3-2 0-1zM861 576l0 0-3-1 0-1zM864 578l0 0-3-2 0 0zM861 576l1 1-4-2 0 0zM862 577l0 0-3-1-1-1zM862 577l0 1-3-2 0 0z" color="#482878"/><path d="M856 572l0 0 3 2 0 0zM856 572l0 0 3 2 0 0zM859 574l0 0 3 1 0 0zM856 572l0 0 3 2 0 0zM859 574l0 0 3 1 0 0zM859 574l1-1 2 2 0 0zM860 573l0 0 3 2-1 0zM860 573l0 0 3 2 0 0zM860 573l0 0 3 2 0 0zM863 575l0 0 3 1 0 0zM860 573l0 0 3 1 0 1zM863 575l0-1 3 2 0 0zM863 574l1 0 3 2-1 0zM864 574l0 0 3 2 0 0zM864 574l0 0 3 2 0 0zM864 574l0 0 3 2 0 0zM792 567l0 11-3 5 0-12zM864 574l0 0 3 2 0 0zM795 566l0 6-3 12 0-6zM864 574l1 0 3 2-1 0zM867 576l1 0 3 2-1 0zM868 576l0 0-3-1 0-1zM871 578l0 0-3-2 0 0zM792 584l0-5 3-12 0 5zM868 576l0 1-3-2 0 0zM871 578l0 0-3-1 0-1zM789 583l0-11 3-4 0 11zM868 577l0 0-3-2 0 0zM868 577l1 0-3-1-1-1zM869 577l0 1-3-2 0 0zM869 578l0 0-3-1 0-1zM869 578l0 1-3-2 0 0zM866 577l1 1-3-2-1-1zM869 579l1 0-3-1-1-1zM867 578l0 0-3-2 0 0zM870 579l0 1-3-2 0 0zM867 578l0 1-3-2 0-1zM867 579l0 0-3-1 0-1zM867 579l1 1-4-2 0 0zM864 578l1 1-3-2-1-1zM868 580l0 0-3-1-1-1zM865 579l0 0-3-2 0 0zM868 580l0 1-3-2 0 0zM865 579l0 1-3-2 0-1z" color="#482374"/><path d="M859 574l0 0 3 1 0 0zM862 575l0 0 3 2-1 0zM862 575l0 0 3 2 0 0zM862 575l0 0 3 2 0 0zM862 575l0 0 3 2 0 0zM862 575l1 0 3 2-1 0zM863 575l0 0 3 1 0 1zM866 577l0-1 3 2 0 0zM866 576l0 0 3 2 0 0zM866 576l0 0 3 2 0 0zM866 576l1 0 2 2 0 0zM867 576l0 0 3 2-1 0zM867 576l0 0 3 2 0 0zM870 578l0 0 3 1 0 0zM867 576l0 0 3 2 0 0zM870 578l0 0 3 1 0 0zM867 576l0 0 3 2 0 0zM870 578l0 0 3 2 0-1zM870 578l1 0 3 2-1 0zM795 572l0 0-3 12 0 0zM874 580l0 0-3-2 0 0zM874 580l0 0-3-2 0 0zM871 578l0 1-3-2 0 0zM874 580l1 1-4-2 0-1zM871 579l1 0-3-2-1 0zM875 581l0 0-3-2-1 0zM872 579l0 1-3-2 0-1zM875 581l0 0-3-1 0-1zM872 580l0 0-3-2 0 0zM872 580l1 1-4-2 0-1zM873 581l0 0-3-2-1 0zM873 581l0 1-3-2 0-1zM870 580l0 1-3-2 0-1zM873 582l0 0-3-1 0-1zM870 581l1 0-4-2 0 0zM871 581l0 1-3-2-1-1zM871 582l0 0-3-2 0 0zM871 582l0 1-3-2 0-1zM868 581l0 0-3-1 0-1zM871 583l1 0-4-2 0 0z" color="#481d6f"/><path d="M864 577l1 0 3 2-1 0zM865 577l0 0 3 2 0 0zM865 577l0 0 3 1 0 1zM865 577l0 0 3 1 0 0zM868 578l0 0 3 2 0 0zM865 577l1 0 3 1-1 0zM868 578l1 0 2 2 0 0zM869 578l0 0 3 2-1 0zM869 578l0 0 3 2 0 0zM869 578l0 0 3 2 0 0zM869 578l0 0 3 2 0 0zM872 580l0 0 3 1 0 0zM869 578l1 0 3 1-1 1zM872 580l1-1 3 2-1 0zM873 579l0 0 3 2 0 0zM873 579l0 0 3 2 0 0zM873 579l0 1 3 1 0 0zM873 580l1 0 3 1-1 0zM877 581l0 1-3-2 0 0zM877 582l0 0-3-2 0 0zM877 582l1 0-3-1-1-1zM878 582l0 1-3-2 0 0zM878 583l0 0-3-2 0 0zM875 581l0 1-3-2 0 0zM878 583l0 1-3-2 0-1zM875 582l1 0-3-1-1-1zM878 584l1 0-3-2-1 0zM876 582l0 1-3-2 0 0zM876 583l0 1-3-2 0-1zM876 584l0 0-3-2 0 0zM873 582l1 1-3-2-1 0zM876 584l1 1-3-2-1-1zM874 583l0 0-3-1 0-1zM877 585l0 0-3-2 0 0zM874 583l0 1-3-2 0 0zM874 584l0 0-3-1 0-1zM874 584l1 1-3-2-1 0z" color="#48186a"/><path d="M867 579l1 0 2 1 0 0zM870 580l0 0 3 2 0 0zM868 579l0 0 3 1-1 0zM870 580l1 0 3 2-1 0zM868 579l0-1 3 2 0 0zM871 580l0 0 3 2 0 0zM871 580l0 0 3 2 0 0zM871 580l0 0 3 2 0 0zM871 580l1 0 3 1-1 1zM872 580l0 0 3 1 0 0zM875 581l0 0 3 2 0 0zM872 580l0 0 3 1 0 0zM875 581l0 0 3 2 0 0zM875 581l0 0 3 2 0 0zM875 581l1 0 3 2-1 0zM876 581l0 0 3 2 0 0zM876 581l0 0 3 2 0 0zM876 581l0 0 4 2-1 0zM792 578l0 6-3 5 0-6zM876 581l1 0 3 2 0 0zM880 583l0 0-3-1 0-1zM789 589l0-6 3-4 0 5zM880 583l0 1-3-2 0 0zM880 584l1 0-3-2-1 0zM881 584l0 1-3-2 0-1zM881 585l0 0-3-2 0 0zM881 585l1 0-4-1 0-1zM882 585l0 1-3-2-1 0zM879 584l0 1-3-2 0-1zM882 586l0 1-3-2 0-1zM879 585l0 0-3-1 0-1zM882 587l0 0-3-2 0 0zM879 585l1 1-4-2 0 0zM880 586l0 0-3-1-1-1zM880 586l0 1-3-2 0 0zM877 585l0 1-3-2 0-1zM880 587l1 0-4-1 0-1zM877 586l1 0-4-2 0 0zM881 587l0 1-3-2-1 0zM878 586l0 1-3-2-1-1zM881 588l0 0-3-1 0-1z" color="#471365"/><path d="M873 582l0 0 3 1 0 0zM873 582l1 0 2 1 0 0zM874 582l0 0 3 1-1 0zM874 582l0 0 3 1 0 0zM874 582l0 0 3 1 0 0zM877 583l0 0 3 2 0 0zM874 582l1-1 3 2-1 0zM877 583l1 0 3 2-1 0zM878 583l0 0 3 2 0 0zM878 583l0 0 3 2 0 0zM878 583l0 0 3 2 0 0zM878 583l1 0 3 2-1 0zM879 583l0 0 3 2 0 0zM879 583l0 0 3 2 0 0zM882 585l0 0 3 2 0-1zM879 583l1 0 3 2-1 0zM882 585l1 0 3 2-1 0zM880 583l0 0 3 2 0 0zM886 587l0 0-3-2 0 0zM883 585l0 0-3-2 0 0zM886 587l0 0-3-2 0 0zM883 585l0 1-3-2 0-1zM886 587l0 0-3-1 0-1zM883 586l1 0-3-2-1 0zM886 587l1 1-3-2-1 0zM884 586l0 0-3-1 0-1zM887 588l0 0-3-2 0 0zM884 586l0 1-3-2 0 0zM884 587l1 0-3-2-1 0zM885 587l0 1-3-2 0-1zM885 588l0 0-3-1 0-1zM885 588l1 1-4-2 0 0zM882 587l1 1-3-2-1-1zM886 589l0 0-3-1-1-1zM883 588l0 0-3-2 0 0zM886 589l0 1-3-2 0 0zM883 588l0 1-3-2 0-1zM883 589l1 0-3-2-1 0zM884 589l0 1-3-2 0-1zM884 590l0 0-3-2 0 0z" color="#470d60"/><path d="M876 583l0 0 3 2 0 0zM876 583l0 0 3 2 0 0zM876 583l1 0 3 2-1 0zM879 585l1 0 3 2-1 0zM877 583l0 0 3 2 0 0zM880 585l0 0 3 2 0 0zM880 585l0 0 3 2 0 0zM880 585l1 0 2 1 0 1zM881 585l0 0 3 1-1 0zM881 585l0 0 3 1 0 0zM881 585l0 0 3 1 0 0zM881 585l1 0 3 1-1 0zM882 585l0 0 3 1 0 0zM792 584l0 0-3 5 0 0zM887 588l0 1-3-2 0-1zM887 589l1 0-3-2-1 0zM888 589l0 1-3-2 0-1zM888 590l0 0-3-2 0 0zM888 590l1 1-3-2-1-1zM889 591l0 0-3-2 0 0zM889 591l0 1-3-2 0-1zM886 590l1 0-4-1 0-1zM889 592l1 0-3-2-1 0zM887 590l0 1-3-2-1 0zM890 592l0 1-3-2 0-1zM887 591l0 0-3-1 0-1zM887 591l0 1-3-2 0 0z" color="#46075a"/><path d="M879 585l0 0 3 2 0-1zM879 585l0 0 3 2 0 0zM890 593l0 0-3-2 0 0zM890 593l1 1-4-2 0-1z" color="#440154"/><path d="M775 487l0-2 3 0 0 1zM734 488l0-4 3-1 0 4zM737 487l0-4 3 0 0 3zM740 486l0-3 3 0 0 3zM743 486l0-3 3 0 0 4zM746 487l0-4 3 1 0 3zM749 487l0-3 3 0 0 3zM752 487l0-3 3 0 0 3zM755 487l0-3 2 1 1 2zM769 487l0-2 3-1 0 2zM772 486l0-2 3 0 0 1zM775 485l0-1 3 0 0 1zM725 489l0-5 3-1 0 4zM728 487l0-4 3-2 0 5zM760 485l0-3 3 1 0 2zM763 485l0-2 3 0 0 2zM766 485l0-2 3 0 0 2zM769 485l0-2 3-1 0 2zM719 488l0-5 3-2 0 5zM798 487l0 2-3-8 0-4zM713 488l0-4 3-3 0 5zM711 479l0 4-3 3 0-5zM717 479l0 4-3 3 0-5zM795 479l0-5 3 11 0 2zM723 480l0 5-3 1 0-4zM726 479l0 4-3 2 0-5zM761 480l-1 2-3 0 0-2zM764 480l0 3-4-1 1-2zM767 480l0 2-3 1 0-3zM770 480l0 2-3 0 0-2zM732 480l0 4-3 1 0-4zM735 480l0 4-3 0 0-4zM738 480l0 4-3 0 0-4zM742 480l-1 4-3 0 0-4zM745 481l0 3-4 0 1-4zM748 481l0 3-3 0 0-3zM751 482l0 2-3 0 0-3zM754 482l0 2-3 0 0-2zM770 482l0 1-3 1 0-2zM773 481l0 2-3 0 0-1zM776 481l0 1-3 1 0-2zM776 482l0 1-3 1 0-1z" color="#52c569"/><path d="M787 455l0 1-3 9 0-1zM787 456l0 2-3 8 0-1zM792 459l0 4-3-4 0-3zM733 462l0-4 3 0 0 4zM736 462l0-4 3 0 0 4zM721 462l0-4 3-1 0 4zM724 461l0-4 3-1 0 4zM745 460l0-3 3 1 0 4zM718 461l0-3 2-3 1 3zM748 458l-1-2 3 2 1 2zM751 460l-1-2 3 2 1 2zM715 461l-1-3 3-3 1 3zM750 458l0-3 3 2 0 3zM753 460l0-3 3 3 0 2zM711 461l0-1 3-4 0 2zM753 457l0-1 3 2 0 2zM711 460l0-1 3-4 0 1zM756 458l0-1 3 2 0 1zM756 457l0 0 3 2 0 0zM713 455l0 1-3 3 0-1zM759 459l0 1-3-2 0-1zM713 456l0 1-3 3 0-1zM756 458l0 1-4-3 1-1zM716 454l0 2-3 3 0-2zM752 456l0 2-3-2 0-2zM756 459l-1 1-3-2 0-2zM719 453l-1 3-3 3 1-3zM749 456l0 2-3-1 0-3zM752 458l0 2-3-2 0-2zM721 455l0 4-3 1 0-4zM725 454l-1 4-3 1 0-4zM746 457l0 3-3-2 0-3zM733 456l0 3-3 1 0-5zM737 456l-1 4-3-1 0-3zM789 455l0-5 3 4 0 5zM783 462l-1-2 4-9 0 2zM782 460l0-1 4-10 0 2z" color="#c0df25"/><path d="M810 512l0 0 3 5 0 1zM810 512l0-1 3 6 0 0zM810 511l0-1 3 6 0 1zM810 510l0-1 3 6 0 1zM807 510l0 2-3 5 0-3zM804 517l0-3 3-4 0 2zM814 515l0 1-3-6 0-1zM814 516l0 1-3-7 0 0zM814 517l0 0-3-6 0-1zM814 517l0 1-3-6 0-1z" color="#1f968b"/><path d="M824 537l0 0 3 4 0 0zM824 537l0 0 3 3 0 1zM824 537l0-1 3 4 0 0zM824 536l1 0 2 3 0 1zM828 538l0-1 3 4 0 1zM828 537l0 0 3 4 0 0zM828 537l0-1 3 4 0 1zM828 536l0 0 3 4 0 0zM828 536l0 0 3 4 0 0zM828 536l0 0 3 4 0 0zM828 536l1 0 3 4-1 0zM832 540l0 0-3-4 0 0zM832 540l0 1-3-4 0-1zM832 541l0 0-3-4 0 0zM832 541l0 1-3-5 0 0zM832 542l0 0-3-4 0-1zM832 542l0 1-3-4 0-1zM830 541l0 0-3-4-1 0zM830 541l0 1-3-4 0-1zM830 542l0 1-3-4 0-1zM830 543l0 0-3-4 0 0z" color="#2f6c8e"/><path d="M833 548l0 0 3 4 0 0zM833 548l0 0 3 3 0 1zM833 548l0-1 3 4 0 0zM833 547l0 0 3 4 0 0zM833 547l0-1 3 4 0 1zM837 549l0 0 3 4 0 0zM837 549l0-1 3 4 0 1zM837 548l0 0 3 4 0 0zM837 548l0 0 3 4 0 0zM837 548l1 0 3 4-1 0zM838 548l0 0 3 4 0 0zM841 552l0 1-3-5 0 0zM841 553l0 0-3-4 0-1zM841 553l0 0-3-4 0 0zM841 553l0 1-3-4 0-1zM841 554l0 0-3-4 0 0zM839 552l0 1-3-4 0-1zM839 553l0 1-3-4 0-1zM839 554l0 0-3-4 0 0zM839 554l0 1-3-4 0-1zM839 555l1 0-4-4 0 0z" color="#38588c"/><path d="M789 453l0 3-2 2 0-2zM792 456l0 3-3-3 0-3zM724 457l-1-3 3-2 1 4zM727 456l-1-4 3-1 1 4zM739 455l-1-3 3 0 1 3zM742 455l-1-3 3 2 1 3zM718 458l-1-3 3-3 0 3zM744 454l0-3 3 2 0 3zM747 453l0-1 3 2 0 1zM714 456l0-1 3-3 0 1zM750 454l0-1 3 2 0 1zM714 455l-1 0 3-4 1 1zM750 453l0 0 3 2 0 0zM716 451l0 1-3 4 0-1zM753 455l0 0-3-2 0 0zM750 453l-1 1-3-2 1-1zM719 451l0 2-3 3 0-2zM746 452l0 2-3-2 0-2zM725 451l0 3-4 1 1-3zM728 450l0 3-3 1 0-3zM740 451l0 2-3 0 0-3zM743 452l0 3-3-2 0-2zM786 453l0-2 3-3 0 2zM789 450l0-2 3 3 0 3z" color="#d5e21a"/><path d="M795 473l0 2-3-16 0-3zM792 463l0 5-3-3 0-6zM730 468l0-5 3-1 0 5zM733 467l0-5 3 0 0 4zM736 466l0-4 3 0 0 5zM739 467l0-5 3 1 0 4zM721 467l0-5 3-1 0 5zM724 466l0-5 3-1 0 4zM745 464l0-4 3 2 0 3zM748 465l0-3 3 1 0 4zM715 468l0-4 3-3 0 4zM751 463l0-3 3 2 0 3zM754 465l0-3 3 2 0 3zM712 467l0-3 3-3 0 3zM757 464l-1-2 3 1 0 3zM759 463l0-1 3 1 0 2zM708 465l0-2 3-3 0 1zM762 463l0-1 3 1 0 1zM762 462l0-1 3 1 0 1zM765 463l0-1 3 2 0 1zM762 461l0 0 3 1 0 0zM765 462l0 0 3 2 0 0zM765 462l0 1-3-2 0 0zM768 464l0 0-3-1 0-1zM710 459l0 1-3 4 0-2zM765 463l0 0-3-1 0-1zM762 462l0 1-4-1 1-1zM713 459l-1 3-3 4 0-3zM758 462l0 2-3-2 0-2zM715 459l0 4-3 3 0-4zM752 460l0 3-3-2 0-3zM755 462l0 3-3-2 0-3zM721 459l0 4-3 2 0-5zM724 458l0 4-3 1 0-4zM746 460l0 3-3-2 0-3zM749 461l0 3-3-1 0-3zM730 460l0 4-3 1 0-4zM733 459l0 5-3 0 0-4zM736 460l0 4-3 0 0-5zM739 460l0 4-3 0 0-4zM789 461l0-6 3 4 0 6zM792 454l0-3 3 18 0 2z" color="#aadc32"/><path d="M816 523l0 0 3 5-1 1zM816 523l0-1 3 6 0 0zM816 522l0-1 3 6 0 1zM816 521l0 0 3 6 0 0zM795 517l0 13-3 5 0-18zM819 524l0 0 3 4 0 0zM786 552l0 4-3-57 0-1zM804 517l0 2-3 14 0-3zM819 524l0-1 3 5 0 0zM804 519l0 0-3 14 0 0zM819 523l0 0 3 5 0 0zM783 499l0-2 3 55 0 4zM801 533l0-3 3-13 0 2zM822 528l1 0-3-4-1-1zM823 528l0 0-3-4 0 0zM792 536l0-19 3 0 0 14zM820 527l0 1-3-6 0-1zM820 528l0 1-3-7 0 0zM820 529l0 0-3-6 0-1zM820 529l0 1-3-6 0-1z" color="#26828e"/><path d="M731 486l0-5 3-1 0 4zM734 484l0-4 3-1 0 4zM746 483l0-3 3 0 0 4zM749 484l0-4 2 1 1 3zM752 484l-1-3 3 0 1 3zM755 484l-1-3 3 1 0 3zM757 485l0-3 3 0 0 3zM772 484l0-2 3 0 0 2zM775 484l0-2 3 0 0 2zM722 486l0-5 3-1 0 4zM725 484l0-4 3-2 0 5zM763 483l0-3 3 0 0 3zM766 483l0-3 3 1 0 2zM769 483l0-2 3-1 0 2zM772 482l0-2 3 1 0 1zM775 482l0-1 3 0 0 1zM716 486l0-5 3-2 0 4zM710 486l0-4 3-3 0 5zM786 481l0 11-3-13 0-4zM783 487l0 4-3-17 0 0zM780 473l0 0 3 13 0 5zM783 477l0-4 3 6 0 12zM708 477l0 4-3 3 0-4zM714 476l0 5-3 2 0-4zM720 477l0 5-3 1 0-4zM723 476l0 4-3 2 0-5zM764 478l0 2-3 0 0-3zM767 478l0 2-3 0 0-2zM770 478l0 2-3 0 0-2zM773 478l0 2-3 0 0-2zM776 478l0 2-3 0 0-2zM729 477l0 4-3 2 0-4zM732 476l0 4-3 1 0-4zM745 477l0 4-3-1 0-3zM748 478l0 3-3 0 0-4zM751 479l0 3-3-1 0-3zM754 479l0 3-3 0 0-3zM757 480l0 2-3 0 0-3zM773 480l0 1-3 1 0-2zM776 480l0 1-3 0 0-1z" color="#5ac864"/><path d="M784 466l0 1-3 8 0 0zM784 467l0 2-3 6 0 0zM792 468l0 8-3-3 0-8zM728 474l-1-5 3-1 1 4zM745 472l0-4 3 1 0 4zM748 473l0-4 3 1 0 4zM719 474l-1-4 3-3 1 5zM754 471l0-3 3 2 0 3zM757 473l0-3 3 1 0 3zM712 475l0-4 3-3 0 4zM760 471l0-3 3 1 0 3zM763 472l0-3 3 1 0 3zM709 474l0-4 3-3 0 4zM766 470l-1-2 3 1 1 2zM769 471l-1-2 3 1 0 2zM771 470l0-2 3 2 0 1zM774 470l0-1 3 2 0 1zM774 469l0-1 3 3 0 0zM774 468l0-1 3 3 0 1zM774 467l0 0 3 3 0 0zM777 470l0 0-3-3 0 0zM777 470l0 1-3-3 0-1zM777 471l0 0-3-2 0-1zM774 469l0 1-3-1 0-2zM709 466l0 3-3 3 0-3zM768 467l-1 2-3-1 0-2zM771 469l0 1-4-1 1-2zM712 466l0 4-3 3 0-4zM761 467l0 3-3-1 0-3zM764 468l0 3-3-1 0-3zM718 465l0 4-4 3 1-5zM755 467l0 3-3-1 0-3zM758 469l0 2-3-1 0-3zM727 465l0 5-4 1 1-5zM745 466l0 4-3-1 0-4zM749 468l-1 3-3-1 0-4zM789 471l0-10 3 4 0 9zM780 472l-1 0 4-8 0 2zM779 472l0 0 4-10 0 2z" color="#8bd646"/><path d="M807 505l0-1 3 6 0 1zM807 504l0 0 3 5 0 1zM807 504l0-1 3 6 0 0zM807 503l0 0 3 5 0 1zM810 508l0 0-3-4 0-1zM810 508l0 0-3-3 0-1zM804 503l0 3-3 5 0-7zM810 508l0 1-3-3 0-1zM807 506l0 2-3 2 0-4zM804 510l0-4 3 0 0 2zM801 510l0-6 3-2 0 4zM807 506l1-2 3 4 0 0zM808 504l0-1 3 5 0 0zM808 503l0-1 3 6 0 0zM811 508l0 0-3-6 0 0zM811 508l0 1-3-6 0-1zM811 509l0 1-3-7 0 0zM811 510l0 0-3-6 0-1z" color="#1fa187"/><path d="M821 533l1-1 2 4 0 1zM822 532l0 0 3 4-1 0zM822 532l0-1 3 4 0 1zM822 531l0 0 3 3 0 1zM825 533l0 0 3 4 0 0zM825 533l0 0 3 3 0 1zM825 533l0-1 3 4 0 0zM825 532l0 0 3 4 0 0zM825 532l0 0 3 4 0 0zM825 532l1 0 3 4-1 0zM829 536l0 0-3-4 0 0zM829 536l0 1-3-5 0 0zM829 537l0 0-3-4 0-1zM829 537l0 0-3-4 0 0zM829 537l0 1-3-4 0-1zM826 535l0 1-3-4 0-1zM826 536l0 1-3-4 0-1zM826 537l1 0-4-4 0 0zM827 537l0 1-3-4-1-1z" color="#2c738e"/><path d="M830 544l0 0 3 3 0 1zM830 544l0-1 3 4 0 0zM830 543l1 0 2 3 0 1zM831 543l0-1 3 4-1 0zM792 535l0 17-3 3 0-18zM834 545l0-1 3 4 0 1zM834 544l0 0 3 4 0 0zM834 544l0 0 3 4 0 0zM834 544l0 0 4 4-1 0zM834 544l1 0 3 4 0 0zM838 548l0 0-3-4 0 0zM838 548l0 1-3-4 0-1zM838 549l0 0-3-4 0 0zM789 556l0-18 3-2 0 17zM838 549l0 1-3-4 0-1zM836 547l0 1-3-4-1-1zM836 548l0 1-3-4 0-1zM836 549l0 1-3-4 0-1zM836 550l0 0-3-4 0 0z" color="#34608d"/><path d="M839 555l0 0 3 3 0 1zM839 555l0-1 3 4 0 0zM839 554l0 0 3 4 0 0zM839 554l0 0 3 4 0 0zM843 556l0 0 3 4 0 0zM843 556l1 0 3 4-1 0zM844 556l0 0 3 4 0 0zM847 560l0 1-3-4 0-1zM847 561l0 0-3-4 0 0zM845 560l0 0-3-4 0 0zM845 560l0 1-3-4 0-1zM845 561l0 1-3-4 0-1zM845 562l1 0-4-4 0 0z" color="#3e4989"/><path d="M787 461l-1 5-2 3 0-2zM727 469l0-5 3-1 0 5zM742 467l0-4 3 1 0 4zM745 468l0-4 3 1 0 4zM718 470l0-5 3-3 0 5zM751 467l0-4 3 2 0 3zM757 467l0-3 2 2 1 2zM759 466l0-3 3 2 0 2zM762 467l0-2 3 1 0 2zM709 467l-1-2 3-4 1 3zM762 465l0-2 3 1 0 2zM765 466l0-2 3 2 0 1zM765 464l0-1 3 2 0 1zM768 466l0-1 3 1 0 1zM768 465l0-1 3 1 0 1zM768 464l0 0 3 1 0 0zM771 465l0 1-3-2 0 0zM768 464l0 1-3-2 0 0zM771 466l0 0-3-1 0-1zM710 460l-1 3-3 3 1-2zM765 463l0 2-3-2 0-1zM768 465l0 1-3-1 0-2zM762 463l-1 2-3-1 0-2zM765 465l-1 1-3-1 1-2zM758 464l0 2-3-1 0-3zM718 460l0 5-3 2 0-4zM752 463l0 3-3-2 0-3zM727 461l0 4-3 1 0-4zM743 461l-1 4-3-1 0-4zM746 463l-1 3-3-1 1-4zM783 466l0-2 3-7 0 5z" color="#a0da39"/><path d="M795 477l0 4-3-13 0-5zM731 477l0-5 3-1 0 5zM734 476l0-5 2 0 1 4zM737 475l-1-4 3 0 1 4zM740 475l-1-4 3 0 1 4zM743 475l-1-4 3 1 0 4zM745 476l0-4 3 1 0 4zM784 469l-1 3-2 2 0 1zM722 477l0-5 2-2 1 5zM725 475l-1-5 3-1 1 5zM751 474l0-4 3 1 0 4zM754 475l0-4 3 2 0 3zM783 472l0 3-2-1 0 0zM716 477l-1-5 3-2 1 4zM760 474l0-3 3 1 0 2zM763 474l0-2 3 1 0 2zM766 473l0-3 3 1 0 2zM769 473l0-2 2 1 1 2zM772 474l-1-2 3 1 1 2zM771 472l0-2 3 1 0 2zM774 473l0-2 3 2 0 2zM774 471l0-1 3 2 0 1zM777 473l0-1 3 2 0 0zM777 472l0-1 3 3 0 0zM777 471l0 0 3 3 0 0zM777 471l0-1 3 4 0 0zM777 470l0 0 3 4 0 0zM780 474l0 0-3-4 0 0zM780 474l0-1-3-2 0-1zM780 473l0 0-3-2 0 0zM777 471l0 1-3-2 0-1zM780 473l0 0-3-1 0-1zM774 470l0 1-3-1 0-1zM777 472l0 1-3-2 0-1zM767 469l0 2-3 0 0-3zM771 470l-1 2-3-1 0-2zM774 471l0 2-4-1 1-2zM715 467l-1 5-3 2 1-4zM761 470l0 2-3-1 0-2zM764 471l0 2-3-1 0-2zM721 468l-1 5-3 1 1-5zM724 466l-1 5-3 2 1-5zM752 469l0 3-4-1 1-3zM755 470l0 3-3-1 0-3zM780 472l0 0 3-3 0 4zM730 468l-1 5-3 1 1-4zM733 468l0 4-4 1 1-5zM736 468l0 4-3 0 0-4zM739 468l0 5-3-1 0-4zM742 469l0 4-3 0 0-5zM745 470l0 4-3-1 0-4zM780 472l0 0 3-6 0 3zM792 465l0-6 3 15 0 5z" color="#81d34d"/><path d="M813 516l0-1 3 6 0 1zM813 515l0 0 3 6 0 0zM813 515l0-1 3 6 0 1zM798 510l0 10-3 10 0-13zM795 531l0-14 3-7 0 10zM817 520l0 1-3-7 0 0zM817 521l0 1-3-7 0-1zM817 522l0 0-3-6 0-1z" color="#218e8d"/><path d="M819 528l0-1 3 5 0 0zM819 527l0 0 3 4 0 1zM819 527l0-1 3 5 0 0zM822 529l0-1 3 4 0 1zM822 528l0 0 3 4 0 0zM822 528l0 0 3 4 0 0zM822 528l0 0 4 4-1 0zM826 532l0 0-3-4-1 0zM826 532l0 0-3-4 0 0zM826 532l0 1-3-4 0-1zM823 531l0 1-3-5 0-1zM823 532l0 1-3-5 0-1zM823 533l0 0-3-4 0-1z" color="#297b8e"/><path d="M845 562l0 0 3 4 0 0zM845 562l0 0 3 3 0 1zM845 562l0-1 3 4 0 0zM845 561l1 0 3 4-1 0zM846 561l0 0 3 4 0 0zM846 561l0 0 3 4 0 0zM851 566l0 1-3-5-1 0zM851 567l0 0-3-4 0-1zM851 567l0 1-3-4 0-1zM851 568l0 0-3-4 0 0zM851 568l0 1-3-4 0-1zM851 569l1 1-3-4-1-1z" color="#443b84"/><path d="M728 478l0-4 3-2 0 5zM748 477l0-4 3 1 0 3zM751 477l0-3 3 1 0 3zM719 479l0-5 3-2 0 5zM757 476l0-3 3 1 0 3zM760 477l0-3 3 0 0 3zM763 477l0-3 3 1 0 3zM786 472l0 9-3-6 0-3zM713 479l-1-4 3-3 1 5zM766 475l0-2 3 0 0 3zM769 476l0-3 3 1 0 2zM772 476l0-2 3 1 0 2zM778 478l-1-2 3-2 1 0zM783 475l0 4-3-5 1 0zM709 478l0-4 3-3 0 4zM775 475l-1-2 3 2 0 1zM777 476l0-1 3-1 0 0zM777 475l0-2 3 1 0 0zM780 473l0 0-3 0 0-1zM709 469l0 4-4 3 1-4zM777 473l0 1-3-1 0-2zM780 473l0-1-3 2 0-1zM712 470l-1 4-3 3 1-4zM767 471l0 2-3 0 0-2zM770 472l0 2-3-1 0-2zM774 473l-1 2-3-1 0-2zM780 472l0 0-3 4 0-2zM780 472l0 0 3 1 0 4zM718 469l-1 5-3 2 0-4zM758 471l0 3-3-1 0-3zM761 472l0 3-3-1 0-3zM764 473l0 3-3-1 0-3zM783 473l0-4 3 1 0 9zM727 470l-1 4-3 2 0-5zM748 471l0 4-3-1 0-4zM752 472l-1 3-3 0 0-4z" color="#77d153"/><path d="M810 509l0 0 3 6 0 0zM810 509l0-1 3 6 0 1zM810 508l0 0 3 5 0 1zM810 508l0 0 3 5 0 0zM801 504l0 7-3 9 0-10zM813 513l0 0-3-4 0-1zM804 506l0 4-3 8 0-7zM813 513l0 0-3-4 0 0zM807 508l0 2-3 4 0-4zM813 513l0 0-3-3 0-1zM810 510l0 1-3 1 0-2zM813 513l0 0-3-2 0-1zM810 511l0 0-3 1 0 0zM813 513l0 0-3-2 0 0zM807 512l0 0 3-1 0 0zM810 511l0 0 3 2 0 0zM807 512l0 0 3-1 0 0zM810 511l0 0 3 2 0 0zM807 512l0-2 3 0 0 1zM810 511l0-1 4 3-1 0zM804 514l0-4 3-2 0 2zM810 510l1-1 3 4 0 0zM801 518l0-8 3-4 0 4zM811 509l0-1 3 5 0 0zM798 520l0-10 3-6 0 6zM811 508l0 0 3 5 0 0zM811 508l0 0 3 5 0 0zM814 513l0 1-3-6 0 0zM814 514l0 0-3-6 0 0zM814 514l0 1-3-6 0-1z" color="#1f9a8a"/><path d="M816 521l0-1 3 6 0 1zM816 520l0-1 3 6 0 1zM816 519l0 0 3 6 0 0zM816 519l0-1 3 6 0 1zM820 525l0 0-3-6 0-1zM820 525l0 1-3-7 0 0zM820 526l0 0-3-6 0-1zM820 526l0 1-3-6 0-1z" color="#24868e"/><path d="M786 492l0 12-3-21 0-4zM783 481l0-4 3 14 0 13z" color="#81d4a1"/><path d="M789 518l0 19-3-19 0-14zM786 518l0-14 3 14 0 20z" color="#6cb1b3"/><path d="M786 518l0 13-3-40 0-4zM783 491l0-5 3 32 0 14z" color="#b4e0d7"/><path d="M726 452l0-3 3-1 0 3zM729 451l0-3 3 0 0 2zM732 450l0-2 3 0 0 3zM735 451l0-3 3 1 0 3zM720 452l0-2 3-1 0 2zM723 451l0-2 3-2 0 2zM738 449l0-2 3 1 0 2zM741 450l0-2 3 1 0 2zM720 450l0-1 3-2 0 2zM741 448l0-1 3 1 0 1zM744 449l0-1 3 3 0 1zM720 449l-1-1 3-1 1 0zM744 448l0 0 3 2 0 1zM722 447l0 1-3 1 0-1zM744 448l0 1-4-2 1 0zM747 450l0 1-3-2 0-1zM722 448l0 1-3 2 0-2zM725 447l0 1-3 1 0-1zM740 447l0 2-3-1 0-2zM744 449l-1 1-3-1 0-2zM728 447l0 3-3 1 0-3zM731 446l0 3-3 1 0-3zM734 447l0 2-3 0 0-3zM737 448l0 2-3-1 0-2z" color="#eae51a"/><path d="M783 491l0 4-3-21 0 0zM780 473l0 0 3 18 0 4z" color="#8bd89b"/><path d="M789 555l0 16-3-28 0-12zM786 543l0-11 3 24 0 16z" color="#7a8fb2"/><path d="M726 449l0-2 3-1 0 2zM729 448l0-2 3 0 0 2zM732 448l0-2 3 0 0 2zM735 448l0-2 3 1 0 2zM723 449l0-2 3-1 0 1zM726 447l0-1 3-1 0 1zM735 446l0-1 3 1 0 1zM738 447l0-1 3 1 0 1zM723 447l-1 0 3-1 1 0zM726 446l-1 0 4-1 0 0zM735 445l0 0 3 1 0 0zM738 446l0 0 3 1 0 0zM741 447l0 0 3 1 0 0zM725 446l0 1-3 1 0-1zM729 445l-1 1-3 1 0-1zM738 446l-1 0-3 0 1-1zM741 447l-1 0-3-1 1 0zM728 446l0 1-3 1 0-1zM731 445l0 1-3 1 0-1zM734 446l0 1-3-1 0-1zM737 446l0 2-3-1 0-1z" color="#f4e61e"/><path d="M786 543l0 9-3-54 0-3zM783 497l0-2 3 48 0 9z" color="#b6d7d9"/><path d="M798 540l0 8-3 18 0-9zM795 567l0-10 3-16 0 7z" color="#7c8db2"/><path d="M729 446l0-1 3 0 0 1zM732 446l0-1 3 0 0 1zM729 445l0 0 3-1 0 1zM732 445l0-1 3 1 0 0zM732 444l-1 1-3 1 1-1zM735 445l-1 1-3-1 1-1z" color="#fde725"/><path d="M783 498l0 1-3-25 0 0zM780 474l0 0 3 23 0 2z" color="#86d69e"/><path d="M789 583l0 6-3-33 0-4zM786 556l0-4 3 31 0 6z" color="#c1bbd4"/><path d="M801 530l0 3-3 19 0-4zM798 552l0-4 3-18 0 3z" color="#759ab4"/><path d="M786 556l0 0-3-57 0 0z" color="#b7d4d9"/><path d="M798 552l0 0-3 20 0 0z" color="#8180ae"/></g><g id="Path3DCollection_16"><g clip-path="url(#p5fcb4ca312)"><circle cx="361.9" cy="295.7" r="2.0" style="fill: #ff0000"/></g></g><g id="Path3DCollection_17"><g clip-path="url(#p5fcb4ca312)"><circle cx="392.5" cy="295.7" r="2.4" style="fill: #ff0000"/></g></g><g id="Path3DCollection_18"><g clip-path="url(#p5fcb4ca312)"><circle cx="394.9" cy="295.7" r="2.6" style="fill: #ff0000"/></g></g><g id="text_78"><text style="font-size: 12px; font-family: 'DejaVu Sans'; text-anchor: start" x="318.1" y="190.1" transform="rotate(-0 318.1 190.1)">(e)</text></g></g><g id="patch_22"><path d="M 501.6 325.1 L 657.9 325.1 L 657.9 196.1 L 501.6 196.1 z" style="fill: #ffffff"/></g><g id="pane3d_16"><g id="patch_23"><path d="M 537.8 295.2 L 625.9 295.2 L 631.1 299.5 L 532.7 299.5" style="fill: #f2f2f2; opacity: 0.5; stroke: #f2f2f2; stroke-linejoin: miter"/></g></g><g id="pane3d_17"><g id="patch_24"><path d="M 625.9 222.5 L 625.9 295.2 L 631.1 299.5 L 631.1 218.3" style="fill: #e6e6e6; opacity: 0.5; stroke: #e6e6e6; stroke-linejoin: miter"/></g></g><g id="pane3d_18"><g id="patch_25"><path d="M 537.8 222.5 L 537.8 295.2 L 625.9 295.2 L 625.9 222.5" style="fill: #ececec; opacity: 0.5; stroke: #ececec; stroke-linejoin: miter"/></g></g><g id="grid3d_16"><g id="Line3DCollection_13"><path d="M 537.8 225.8 L 625.9 225.8 L 631.1 222" style="fill: none; stroke: #b0b0b0; stroke-width: 0.8"/><path d="M 537.8 242.3 L 625.9 242.3 L 631.1 240.4" style="fill: none; stroke: #b0b0b0; stroke-width: 0.8"/><path d="M 537.8 258.9 L 625.9 258.9 L 631.1 258.9" style="fill: none; stroke: #b0b0b0; stroke-width: 0.8"/><path d="M 537.8 275.4 L 625.9 275.4 L 631.1 277.3" style="fill: none; stroke: #b0b0b0; stroke-width: 0.8"/></g></g><g id="grid3d_17"><g id="Line3DCollection_14"><path d="M 536.7 299.5 L 541.4 295.2 L 541.4 222.5" style="fill: none; stroke: #b0b0b0; stroke-width: 0.8"/><path d="M 557.2 299.5 L 559.8 295.2 L 559.8 222.5" style="fill: none; stroke: #b0b0b0; stroke-width: 0.8"/><path d="M 577.8 299.5 L 578.2 295.2 L 578.2 222.5" style="fill: none; stroke: #b0b0b0; stroke-width: 0.8"/><path d="M 598.3 299.5 L 596.6 295.2 L 596.6 222.5" style="fill: none; stroke: #b0b0b0; stroke-width: 0.8"/><path d="M 618.8 299.5 L 615 295.2 L 615 222.5" style="fill: none; stroke: #b0b0b0; stroke-width: 0.8"/></g></g><g id="grid3d_18"/><g id="axis3d_16"><g id="line2d_77"><path d="M 537.8 295.2 L 537.8 222.5" style="fill: none; stroke: #000000; stroke-width: 0.8; stroke-linecap: square"/></g><g id="xtick_62"><g id="line2d_78"><path d="M 538.5 225.8 L 536.4 225.8" style="fill: none; stroke: #000000; stroke-width: 0.8; stroke-linecap: square"/></g><g id="text_79" transform="translate(-3.8 -0.6)"><text style="font-size: 10px; font-family: 'DejaVu Sans'; text-anchor: middle" x="525.1" y="233.9" transform="rotate(-0 525.1 233.9)">-2.0</text></g></g><g id="xtick_63"><g id="line2d_79"><path d="M 538.5 242.3 L 536.4 242.3" style="fill: none; stroke: #000000; stroke-width: 0.8; stroke-linecap: square"/></g><g id="text_80" transform="translate(-3.8 -0.6)"><text style="font-size: 10px; font-family: 'DejaVu Sans'; text-anchor: middle" x="525.1" y="250.2" transform="rotate(-0 525.1 250.2)">-1.0</text></g></g><g id="xtick_64"><g id="line2d_80"><path d="M 538.5 258.9 L 536.4 258.9" style="fill: none; stroke: #000000; stroke-width: 0.8; stroke-linecap: square"/></g><g id="text_81" transform="translate(-3.8 -0.6)"><text style="font-size: 10px; font-family: 'DejaVu Sans'; text-anchor: middle" x="525.1" y="266.5" transform="rotate(-0 525.1 266.5)">0.0</text></g></g><g id="xtick_65"><g id="line2d_81"><path d="M 538.5 275.4 L 536.4 275.4" style="fill: none; stroke: #000000; stroke-width: 0.8; stroke-linecap: square"/></g><g id="text_82" transform="translate(-3.8 -0.6)"><text style="font-size: 10px; font-family: 'DejaVu Sans'; text-anchor: middle" x="525.1" y="282.7" transform="rotate(-0 525.1 282.7)">1.0</text></g></g><g id="text_83" transform="translate(-11 -3.4)"><text style="font-size: 10px; font-family: 'DejaVu Sans'; text-anchor: middle" x="513.9" y="258.9" transform="rotate(-90 513.9 258.9)">X (Å)</text></g></g><g id="axis3d_17"><g id="line2d_82"><path d="M 631.1 299.5 L 532.7 299.5" style="fill: none; stroke: #000000; stroke-width: 0.8; stroke-linecap: square"/></g><g id="xtick_66"><g id="line2d_83"><path d="M 536.7 299.4 L 536.6 299.5" style="fill: none; stroke: #000000; stroke-width: 0.8; stroke-linecap: square"/></g><g id="text_84" transform="translate(0.1 -13)"><text style="font-size: 10px; font-family: 'DejaVu Sans'" transform="translate(528.1 327.9) rotate(-24)">-2.0</text></g></g><g id="xtick_67"><g id="line2d_84"><path d="M 557.2 299.4 L 557.2 299.5" style="fill: none; stroke: #000000; stroke-width: 0.8; stroke-linecap: square"/></g><g id="text_85" transform="translate(0.1 -13)"><text style="font-size: 10px; font-family: 'DejaVu Sans'" transform="translate(550.6 326.4) rotate(-24)">3.0</text></g></g><g id="xtick_68"><g id="line2d_85"><path d="M 577.8 299.4 L 577.7 299.5" style="fill: none; stroke: #000000; stroke-width: 0.8; stroke-linecap: square"/></g><g id="text_86" transform="translate(0.1 -13)"><text style="font-size: 10px; font-family: 'DejaVu Sans'" transform="translate(571.5 326.4) rotate(-24)">8.0</text></g></g><g id="xtick_69"><g id="line2d_86"><path d="M 598.3 299.4 L 598.3 299.5" style="fill: none; stroke: #000000; stroke-width: 0.8; stroke-linecap: square"/></g><g id="text_87" transform="translate(0.1 -13)"><text style="font-size: 10px; font-family: 'DejaVu Sans'" transform="translate(589.5 329) rotate(-24)">13.0</text></g></g><g id="xtick_70"><g id="line2d_87"><path d="M 618.8 299.4 L 618.9 299.5" style="fill: none; stroke: #000000; stroke-width: 0.8; stroke-linecap: square"/></g><g id="text_88" transform="translate(0.1 -13)"><text style="font-size: 10px; font-family: 'DejaVu Sans'" transform="translate(610.5 329) rotate(-24)">18.0</text></g></g><g id="text_89" transform="translate(0.2 -1.4)"><text style="font-size: 10px; font-family: 'DejaVu Sans'; text-anchor: middle" x="581.9" y="332.8" transform="rotate(-0 581.9 332.8)">Y (Å)</text></g></g><g id="axis3d_18"><g id="line2d_88"><path d="M 625.9 222.5 L 631.1 218.3" style="fill: none; stroke: #000000; stroke-width: 0.8; stroke-linecap: square"/></g></g><g id="axes_6"><g id="Path3DCollection_19"><g clip-path="url(#p4137d0b839)"><circle cx="547.2" cy="258.9" r="2.0" style="fill: #ff0000"/></g></g><g id="Path3DCollection_20"><g clip-path="url(#p4137d0b839)"><circle cx="576.3" cy="258.9" r="2.4" style="fill: #ff0000"/></g></g><g id="Path3DCollection_21"><g clip-path="url(#p4137d0b839)"><circle cx="578.5" cy="258.9" r="2.6" style="fill: #ff0000"/></g></g><g id="surf_1_2" transform="scale(0.5)" fill="currentColor" stroke="currentColor" stroke-width="2.0"><path d="M1249 451l0 7-3 0 0-7zM1249 577l0 7-3 0 0-7zM1249 458l0 7-3 0 0-7zM1249 571l0 6-3 0 0-6zM1249 465l0 6-3 0 0-6zM1249 564l0 7-3 0 0-7zM1249 471l0 7-3 0 0-7zM1249 558l0 6-3 0 0-6z" color="#440154"/><path d="M1249 478l0 7-3-1 0-6zM1249 551l0 7-3 0 0-7zM1246 451l0 7-3 0-1-7zM1246 577l0 7-4 0 1-6zM1249 485l0 6-3 0 0-7zM1249 544l0 7-3 0 0-7zM1246 458l0 7-3 0 0-7zM1246 571l0 6-3 1 0-7zM1249 491l0 7-3 0 0-7zM1249 538l0 6-3 0 0-6zM1246 564l0 7-3 0 0-7zM1246 465l0 6-3 0 0-6zM1249 498l0 6-3 0 0-6zM1249 531l0 7-3 0 0-7zM1249 504l0 7-3 0 0-7zM1249 524l0 7-3 0 0-7zM1249 511l0 7-3 0 0-7zM1249 518l0 6-3 0 0-6zM1246 471l0 7-3 0 0-7zM1246 558l0 6-3 0 0-6zM1246 478l0 6-3 0 0-6zM1246 551l0 7-3 0 0-7z" color="#46075a"/><path d="M1243 578l-1 6-3 0 0-6zM1242 451l1 7-4 0 0-7zM1246 484l0 7-3 0 0-7zM1246 544l0 7-3 0 0-7zM1243 458l0 7-4-1 0-6zM1243 571l0 7-4 0 0-7zM1246 491l0 7-3 0 0-7zM1246 538l0 6-3 0 0-6zM1243 465l0 6-4 0 0-7zM1243 564l0 7-4 0 0-7zM1246 498l0 6-3 0 0-6zM1246 531l0 7-3 0 0-7zM1246 504l0 7-3 0 0-7zM1246 524l0 7-3 0 0-7zM1243 558l0 6-4 0 1-6zM1243 471l0 7-3 0-1-7zM1246 511l0 7-3 0 0-7zM1246 518l0 6-3 0 0-6zM1243 478l0 6-3 0 0-6zM1243 551l0 7-3 0 0-7zM1239 451l0 7-3 0 0-7zM1239 578l0 6-3 0 0-6zM1243 484l0 7-3 0 0-7zM1243 544l0 7-3 0 0-7z" color="#470d60"/><path d="M1239 458l0 6-3 0 0-6zM1239 571l0 7-3 0 0-7zM1243 491l0 7-3 0 0-7zM1243 538l0 6-3 0 0-6zM1239 464l0 7-3 0 0-7zM1239 564l0 7-3 0 0-7zM1243 531l0 7-3 0 0-7zM1243 498l0 6-3 0 0-6zM1243 504l0 7-3 0 0-7zM1243 524l0 7-3 0 0-7zM1239 471l1 7-4 0 0-7zM1240 558l-1 6-3 0 0-6zM1243 511l0 7-3 0 0-7zM1243 518l0 6-3 0 0-6zM1161 511l0 7-4 0 0-7zM1161 518l0 6-4 0 0-6zM1240 478l0 6-4 0 0-6zM1240 551l0 7-4 0 0-7zM1236 451l0 7-3 0 0-7zM1236 578l0 6-3 0 0-6zM1240 484l0 7-3 0-1-7zM1240 544l0 7-4 0 1-7zM1236 458l0 6-3 0 0-6zM1236 571l0 7-3 0 0-7zM1240 491l0 7-3 0 0-7zM1240 538l0 6-3 0 0-6zM1236 564l0 7-3 0 0-7zM1236 464l0 7-3 0 0-7z" color="#471365"/><path d="M1240 498l0 6-3 0 0-6zM1240 531l0 7-3 0 0-7zM1236 471l0 7-3 0 0-7zM1236 558l0 6-3 0 0-6zM1240 504l0 7-3 0 0-7zM1240 524l0 7-3 0 0-7zM1240 511l0 7-3 0 0-7zM1240 518l0 6-3 0 0-6zM1236 478l0 6-3 0 0-6zM1236 551l0 7-3 0 0-7zM1233 451l0 7-3 0 0-7zM1233 578l0 6-3 1 0-7zM1236 484l1 7-4 0 0-7zM1237 544l-1 7-3 0 0-7zM1233 458l0 6-3 0 0-6zM1233 571l0 7-3 0 0-7zM1237 491l0 7-4 0 0-7zM1237 538l0 6-4 0 0-6zM1233 464l0 7-3 0 0-7zM1233 564l0 7-3 0 0-6zM1237 498l0 6-4 0 0-6zM1237 531l0 7-4 0 0-7z" color="#48186a"/><path d="M1233 558l0 6-3 1 0-7zM1233 471l0 7-3 0 0-7zM1237 504l0 7-4 0 0-7zM1237 524l0 7-4 0 0-7zM1237 511l0 7-4 0 0-7zM1237 518l0 6-4 0 0-6zM1233 551l0 7-3 0 0-7zM1233 478l0 6-3 0 0-6zM1230 451l0 7-3-1 0-6zM1230 578l0 7-3 0 0-7zM1230 458l0 6-3 0 0-7zM1230 571l0 7-3 0 0-7zM1233 484l0 7-3 0 0-7zM1233 544l0 7-3 0 0-7zM1230 464l0 7-3 0 0-7zM1230 565l0 6-3 0 0-6zM1233 491l0 7-3 0 0-7zM1233 538l0 6-3 0 0-6zM1233 498l0 6-3 0 0-6zM1233 531l0 7-3 0 0-7zM1230 471l0 7-3 0 0-7zM1230 558l0 7-3 0 0-7zM1233 504l0 7-3 0 0-7zM1233 524l0 7-3 0 0-7zM1233 518l0 6-3 0 0-6zM1233 511l0 7-3 0 0-7z" color="#481d6f"/><path d="M1227 451l0 6-3 0 0-6zM1227 578l0 7-3 0 0-7zM1230 478l0 6-3 0 0-6zM1230 551l0 7-3 0 0-7zM1157 511l0 7-3 0 0-7zM1157 518l0 6-3 0 0-6zM1227 457l0 7-3 0 0-7zM1227 571l0 7-3 0 0-7zM1230 484l0 7-3 0 0-7zM1230 544l0 7-3 0 0-6zM1227 565l0 6-3 0 0-6zM1227 464l0 7-3 0 0-7zM1230 491l0 7-3 0 0-7zM1230 538l0 6-3 1 0-7zM1227 471l0 7-3-1 0-6zM1227 558l0 7-3 0 0-7zM1230 498l0 6-3 0 0-6zM1230 531l0 7-3 0 0-7zM1230 504l0 7-3 0 0-7zM1230 524l0 7-3 0 0-7zM1224 578l0 7-3 0 0-7zM1224 451l0 6-3 0 0-6zM1230 511l0 7-3 0 0-7zM1230 518l0 6-3 0 0-6zM1227 478l0 6-3 0 0-7zM1227 551l0 7-3 0 0-7z" color="#482374"/><path d="M1224 457l0 7-3 0 0-7zM1224 571l0 7-3 0 0-7zM1227 545l0 6-3 0 0-6zM1227 484l0 7-3 0 0-7zM1224 464l0 7-3 0 0-7zM1224 565l0 6-3 0 0-6zM1227 491l0 7-3 0 0-7zM1227 538l0 7-3 0 0-7zM1224 471l0 6-3 0 0-6zM1224 558l0 7-3 0 0-7zM1227 498l0 6-3 0 0-6zM1227 531l0 7-3 0 0-7zM1227 524l0 7-3 0 0-7zM1227 504l0 7-3 0 0-7zM1221 451l0 6-3 0 0-6zM1221 578l0 7-3 0 0-7zM1227 511l0 7-3 0 0-7zM1227 518l0 6-3 0 0-6zM1224 477l0 7-3 0 0-7zM1224 551l0 7-3 0 0-7zM1221 571l0 7-3 0 0-7zM1221 457l0 7-3 0 0-7zM1224 484l0 7-3 0 0-7zM1224 545l0 6-3 0 0-6z" color="#482878"/><path d="M1221 464l0 7-3 0 0-7zM1221 565l0 6-3 0 0-6zM1224 538l0 7-3 0 0-7zM1224 491l0 7-3 0 0-7zM1221 471l0 6-3 0 0-6zM1221 558l0 7-3 0 0-7zM1224 498l0 6-3 0 0-6zM1224 531l0 7-3 0 0-7zM1224 504l0 7-3 0 0-7zM1224 524l0 7-3 0 0-7zM1221 477l0 7-3 0 0-7zM1221 551l0 7-3 0 0-7zM1161 504l0 7-4 0 0-7zM1161 524l0 7-4 0 0-7zM1224 518l0 6-3 0 0-6zM1224 511l0 7-3 0 0-7zM1218 451l0 6-3 0 0-7zM1218 578l0 7-3 0 0-7zM1221 484l0 7-3 0 0-7zM1221 545l0 6-3 0 0-6zM1218 457l0 7-3 0 0-7zM1218 571l0 7-3 0 0-6z" color="#472d7b"/><path d="M1221 491l0 7-3 0 0-7zM1221 538l0 7-3 0 0-7zM1164 511l0 7-3 0 0-7zM1164 518l0 6-3 0 0-6zM1218 464l0 7-3 0 0-7zM1218 565l0 6-3 1 0-7zM1221 498l0 6-3 0 0-6zM1221 531l0 7-3 0 0-7zM1218 471l0 6-3 0 0-6zM1218 558l0 7-3 0 0-7zM1221 504l0 7-3 0 0-7zM1221 524l0 7-3 0 0-7zM1221 511l0 7-3 0 0-7zM1221 518l0 6-3 0 0-6zM1218 477l0 7-3 0 0-7zM1218 551l0 7-3 0 0-7zM1218 484l0 7-3 0 0-7zM1218 545l0 6-3 0 0-6z" color="#46327e"/><path d="M1218 538l0 7-3 0 0-7zM1218 491l0 7-3-1 0-6zM1215 450l0 7-3 0 0-7zM1215 578l0 7-3 0 0-7zM1218 498l0 6-3 0 0-7zM1218 531l0 7-3 0 0-7zM1215 457l0 7-3 0 0-7zM1215 572l0 6-3 0 0-6zM1218 504l0 7-3 0 0-7zM1218 524l0 7-3 0 0-7zM1218 511l0 7-3 0 0-7zM1218 518l0 6-3 0 0-6zM1215 464l0 7-3-1 0-6zM1215 565l0 7-3 0 0-7zM1215 558l0 7-3 0 0-7zM1215 471l0 6-3 0 0-7zM1157 504l0 7-3 0 0-7zM1157 524l0 7-3 0 0-7z" color="#453781"/><path d="M1215 477l0 7-3 0 0-7zM1215 551l0 7-3 0 0-6zM1215 484l0 7-3 0 0-7zM1215 545l0 6-3 1 0-7zM1215 491l0 6-3 0 0-6zM1215 538l0 7-3 0 0-7zM1215 497l0 7-3 0 0-7zM1215 531l0 7-3 0 0-7z" color="#443b84"/><path d="M1212 450l0 7-3 0 0-7zM1212 578l0 7-3 0 0-6zM1215 504l0 7-3 0 0-7zM1215 524l0 7-3 0 0-7zM1215 511l0 7-3 0 0-7zM1215 518l0 6-3 0 0-6zM1212 457l0 7-3 0 0-7zM1212 572l0 6-3 1 0-7zM1212 464l0 6-3 0 0-6zM1212 565l0 7-3 0 0-7zM1212 470l0 7-3 0 0-7zM1212 558l0 7-3 0 0-7z" color="#424086"/><path d="M1212 552l0 6-3 0 0-6zM1212 477l0 7-3 0 0-7zM1212 484l0 7-3 0 0-7zM1212 545l0 7-3 0 0-7zM1164 504l0 7-3 0 0-7zM1164 524l0 7-3 0 0-7zM1212 491l0 6-3 0 0-6zM1212 538l0 7-3 0 0-7zM1209 450l0 7-3 0 0-7zM1209 579l0 6-3 1 0-7zM1212 497l0 7-3 0 0-7zM1212 531l0 7-3 0 0-7z" color="#404588"/><path d="M1212 504l0 7-3 0 0-7zM1212 524l0 7-3 0 0-6zM1209 572l0 7-3 0 0-7zM1209 457l0 7-3-1 0-6zM1212 511l0 7-3 0 0-7zM1212 518l0 6-3 1 0-7zM1209 464l0 6-3 0 0-7zM1209 565l0 7-3 0 0-7zM1209 558l0 7-3 0 0-7zM1209 470l0 7-3 0 0-7zM1209 552l0 6-3 0 0-6zM1209 477l0 7-3 0 0-7z" color="#3e4989"/><path d="M1209 484l0 7-3-1 0-6zM1209 545l0 7-3 0 0-7zM1209 491l0 6-3 0 0-7zM1209 538l0 7-3 0 0-7zM1206 579l0 7-4 0 0-7zM1206 450l0 7-4-1 0-6zM1209 497l0 7-3 0 0-7zM1209 531l0 7-3 0 0-7zM1206 572l0 7-4 0 0-7zM1206 457l0 6-4 0 0-7zM1209 504l0 7-3 0 0-7zM1209 525l0 6-3 0 0-6z" color="#3d4e8a"/><path d="M1209 511l0 7-3 0 0-7zM1209 518l0 7-3 0 0-7zM1206 565l0 7-4 0 0-7zM1206 463l0 7-4 0 0-7zM1206 470l0 7-3 0-1-7zM1206 558l0 7-4 0 1-6zM1206 477l0 7-3 0 0-7zM1206 552l0 6-3 1 0-7z" color="#3a538b"/><path d="M1206 484l0 6-3 0 0-6zM1206 545l0 7-3 0 0-7zM1160 497l1 7-4 0 0-7zM1161 531l-1 7-3 0 0-7zM1202 450l0 6-3 0 0-7zM1202 579l0 7-3 0 0-7zM1206 490l0 7-3 0 0-7zM1206 538l0 7-3 0 0-7zM1167 511l0 7-3 0 0-7zM1167 518l0 7-3-1 0-6zM1206 497l0 7-3 0 0-7zM1206 531l0 7-3 0 0-7zM1202 456l0 7-3 0 0-7zM1202 572l0 7-3 0 0-7zM1206 504l0 7-3 0 0-7zM1206 525l0 6-3 0 0-6z" color="#38588c"/><path d="M1206 511l0 7-3 0 0-7zM1206 518l0 7-3 0 0-7zM1202 463l0 7-3 0 0-7zM1202 565l0 7-3 0 0-6zM1202 470l1 7-4 0 0-7zM1203 559l-1 6-3 1 0-7zM1203 552l0 7-4 0 0-7zM1203 477l0 7-4 0 0-7z" color="#365c8d"/><path d="M1203 545l0 7-4 0 0-7zM1203 484l0 6-4 0 0-6zM1199 449l0 7-3 0 0-7zM1199 579l0 7-3 0 0-7zM1203 490l0 7-4 0 0-7zM1203 538l0 7-4 0 0-7zM1199 456l0 7-3 0 0-7zM1199 572l0 7-3 0 0-6zM1157 497l0 7-3 0 0-7zM1157 531l0 7-3 0 0-7zM1203 531l0 7-4 0 0-7zM1203 497l0 7-4 0 0-7zM1203 504l0 7-4 0 0-7zM1203 525l0 6-4 0 0-6zM1199 463l0 7-3 0 0-7zM1199 566l0 6-3 1 0-7zM1203 511l0 7-4 0 0-7zM1203 518l0 7-4 0 0-7z" color="#34608d"/><path d="M1199 470l0 7-3 0 0-7zM1199 559l0 7-3 0 0-7zM1199 477l0 7-3-1 0-6zM1199 552l0 7-3 0 0-7zM1199 484l0 6-3 0 0-7zM1199 545l0 7-3 0 0-7z" color="#32648e"/><path d="M1196 579l0 7-3 0 0-6zM1196 449l0 7-3 0 0-7zM1164 497l0 7-3 0-1-7zM1164 531l0 7-4 0 1-7zM1167 504l0 7-3 0 0-7zM1167 525l0 7-3-1 0-7zM1199 490l0 7-3 0 0-7zM1199 538l0 7-3 0 0-7zM1196 456l0 7-3 0 0-7zM1196 573l0 6-3 1 0-7zM1199 497l0 7-3 0 0-7zM1199 531l0 7-3 0 0-7zM1196 463l0 7-3 0 0-7zM1196 566l0 7-3 0 0-7zM1199 504l0 7-3 0 0-7zM1199 525l0 6-3 0 0-6zM1199 511l0 7-3 0 0-7zM1199 518l0 7-3 0 0-7z" color="#31688e"/><path d="M1196 470l0 7-3-1 0-6zM1196 559l0 7-3 0 0-7zM1196 477l0 6-3 0 0-7zM1196 552l0 7-3 0 0-7zM1196 483l0 7-3 0 0-7zM1196 545l0 7-3 0 0-7zM1193 580l0 6-3 1 0-7zM1193 449l0 7-3 0 0-7z" color="#2f6c8e"/><path d="M1196 490l0 7-3 0 0-7zM1196 538l0 7-3 0 0-7zM1193 456l0 7-3 0 0-7zM1193 573l0 7-3 0 0-7zM1196 497l0 7-3 0 0-7zM1196 531l0 7-3 0 0-6zM1193 463l0 7-3-1 0-6zM1193 566l0 7-3 0 0-7zM1196 504l0 7-3 0 0-7zM1196 525l0 6-3 1 0-7zM1196 511l0 7-3 0 0-7zM1196 518l0 7-3 0 0-7zM1193 470l0 6-3 0 0-7zM1193 559l0 7-3 0 0-7zM1154 511l0 7-4 0 0-7zM1154 518l0 6-4 1 0-7z" color="#2d708e"/><path d="M1193 476l0 7-3 0 0-7zM1193 552l0 7-3 0 0-7zM1193 483l0 7-3 0 0-7zM1193 545l0 7-3 0 0-7zM1190 449l0 7-3 0 0-7zM1190 580l0 7-3 0 0-7z" color="#2c738e"/><path d="M1193 490l0 7-3 0 0-7zM1193 538l0 7-3 0 0-7zM1190 456l0 7-3-1 0-6zM1190 573l0 7-3 0 0-7zM1193 497l0 7-3 0 0-7zM1193 532l0 6-3 0 0-6zM1190 463l0 6-3 0 0-7zM1190 566l0 7-3 0 0-7zM1193 525l0 7-3 0 0-7zM1193 504l0 7-3 0 0-7zM1193 511l0 7-3 0 0-7zM1193 518l0 7-3 0 0-7zM1190 469l0 7-3 0 0-7zM1190 559l0 7-3 0 0-7z" color="#2a778e"/><path d="M1170 511l0 7-3 0 0-7zM1170 518l0 7-3 0 0-7zM1190 476l0 7-3 0 0-7zM1190 552l0 7-3 0 0-7zM1190 483l0 7-3 0 0-7zM1190 545l0 7-3 0 0-7zM1167 497l0 7-3 0 0-7zM1167 532l0 7-3-1 0-7zM1154 524l0 7-4 1 0-7zM1154 504l0 7-4 0 0-7z" color="#297b8e"/><path d="M1190 490l0 7-3 0 0-7zM1190 538l0 7-3 0 0-6zM1187 449l0 7-4-1 0-7zM1187 580l0 7-4 0 0-7zM1190 497l0 7-3 0 0-7zM1190 532l0 6-3 1 0-7zM1190 504l0 7-3 0 0-7zM1190 525l0 7-3 0 0-7zM1187 456l0 6-4 0 0-7zM1187 573l0 7-4 0 0-7zM1190 511l0 7-3 0 0-7zM1190 518l0 7-3 0 0-7z" color="#277f8e"/><path d="M1187 462l0 7-4 0 0-7zM1187 566l0 7-4 0 0-7zM1160 490l0 7-3 0 0-7zM1160 538l0 8-3 0 0-8zM1187 469l0 7-3 0-1-7zM1187 559l0 7-4 0 1-7zM1170 504l0 7-3 0 0-7zM1170 525l0 7-3 0 0-7zM1187 476l0 7-3 0 0-7zM1187 552l0 7-3 0 0-6z" color="#26828e"/><path d="M1187 483l0 7-3 0 0-7zM1187 545l0 7-3 1 0-7zM1187 490l0 7-3 0 0-7zM1187 539l0 6-3 1 0-7zM1164 490l0 7-4 0 0-7zM1164 538l0 8-4 0 0-8zM1187 532l0 7-3 0 0-7zM1187 497l0 7-3 0 0-7z" color="#24868e"/><path d="M1187 504l0 7-3 0 0-7zM1187 525l0 7-3 0 0-7zM1187 511l0 7-3 0 0-7zM1187 518l0 7-3 0 0-7zM1183 448l0 7-3 0 0-7zM1183 580l0 7-3 0 0-7zM1157 538l0 8-3 0 0-8zM1157 490l0 7-3 0 0-7zM1183 455l0 7-3 0 0-7zM1183 573l0 7-3 0 0-6zM1183 462l0 7-3 0 0-7zM1183 566l0 7-3 1 0-7z" color="#238a8d"/><path d="M1183 469l1 7-4 0 0-7zM1184 559l-1 7-3 1 0-7zM1184 476l0 7-4 0 0-7zM1184 553l0 6-4 1 0-7zM1174 511l0 7-4 0 0-7zM1174 518l0 7-4 0 0-7z" color="#218e8d"/><path d="M1184 483l0 7-4 0 0-7zM1184 546l0 7-4 0 0-7zM1170 497l0 7-3 0 0-7zM1170 532l0 7-3 0 0-7zM1184 539l0 7-4 0 0-7zM1184 490l0 7-4 0 0-7zM1154 497l0 7-4 0 0-8zM1154 531l0 7-4 1 0-7zM1184 497l0 7-4 0 0-7zM1184 532l0 7-4 0 0-7zM1184 511l0 7-4 0 0-7zM1184 518l0 7-4 0 0-7zM1184 504l0 7-4 0 0-7zM1184 525l0 7-4 0 0-7z" color="#20928c"/><path d="M1180 448l0 7-3 0 0-7zM1180 580l0 7-3 1 0-7zM1167 490l0 7-3 0 0-7zM1167 539l0 7-3 0 0-8zM1174 525l0 7-4 0 0-7zM1174 504l0 7-4 0 0-7zM1180 455l0 7-3 0 0-7zM1180 574l0 6-3 1 0-7zM1180 462l0 7-3 0 0-7zM1180 567l0 7-3 0 0-7z" color="#1f968b"/><path d="M1180 518l0 7-3 0 0-7zM1180 511l0 7-3 0 0-7zM1177 511l0 7-3 0 0-7zM1177 518l0 7-3 0 0-7zM1180 469l0 7-3 0 0-7zM1180 560l0 7-3 0 0-7zM1180 504l0 7-3 0 0-7zM1180 525l0 7-3 0 0-7zM1180 476l0 7-3 0 0-7zM1180 553l0 7-3 0 0-7zM1180 497l0 7-3 0 0-7zM1180 532l0 7-3 0 0-7zM1177 504l0 7-3 0 0-7zM1177 525l0 7-3 0 0-7zM1180 490l0 7-3 0 0-7zM1180 539l0 7-3 0 0-7zM1180 483l0 7-3 0 0-7zM1180 546l0 7-3 0 0-7z" color="#1f9a8a"/><path d="M1174 497l0 7-4 0 0-7zM1174 532l0 7-4 0 0-7zM1177 497l0 7-3 0 0-7zM1177 532l0 7-3 0 0-7zM1177 448l0 7-3-1 0-7zM1177 581l0 7-3 0 0-7z" color="#1f9e89"/><path d="M1177 455l0 7-3-1 0-7zM1177 574l0 7-3 0 0-7zM1170 489l0 8-3 0 0-7zM1170 539l0 7-3 0 0-7zM1177 490l0 7-3 0 0-7zM1177 539l0 7-3 0 0-7zM1177 462l0 7-3-1 0-7zM1177 567l0 7-3 0 0-7z" color="#1fa187"/><path d="M1177 469l0 7-3-1 0-7zM1177 560l0 7-3 0 0-7zM1177 483l0 7-3 0 0-8zM1177 546l0 7-3 0 0-7zM1177 476l0 7-3-1 0-7zM1177 553l0 7-3 0 0-7zM1174 490l0 7-4 0 0-8zM1174 539l0 7-4 0 0-7zM1164 482l0 8-4 0 0-8zM1164 546l0 7-4 0 0-7z" color="#21a585"/><path d="M1077 447l0 7-4 0 1-7zM1077 581l0 7-3 0-1-7zM1167 482l0 8-3 0 0-8zM1167 546l0 7-3 0 0-7zM1160 482l0 8-3 0 0-8zM1160 546l0 7-3 0 0-7zM1174 447l0 7-4 0 0-7zM1174 581l0 7-4 0 0-7zM1080 447l0 7-3 0 0-7zM1080 581l0 7-3 0 0-7zM1174 482l0 8-4-1 0-7zM1174 546l0 7-4 0 0-7z" color="#23a983"/><path d="M1154 490l0 7-4-1 0-7zM1154 538l0 8-4 0 0-7zM1174 454l0 7-4 0 0-7zM1174 574l0 7-4 0 0-7zM1170 482l0 7-3 1 0-8zM1170 546l0 7-3 0 0-7zM1174 461l0 7-4 0 0-7zM1174 567l0 7-4 0 0-7zM1083 447l0 7-3 0 0-7zM1083 581l0 7-3 0 0-7zM1174 475l0 7-4 0 0-7zM1174 553l0 7-4 0 0-7zM1174 468l0 7-4 0 0-7zM1174 560l0 7-4 0 0-7z" color="#26ad81"/><path d="M1077 454l-1 7-3 0 0-7zM1076 574l1 7-4 0 0-7zM1087 447l-1 7-3 0 0-7zM1086 582l1 6-4 0 0-7zM1157 482l0 8-3 0 0-8zM1157 546l0 7-3 0 0-7zM1080 454l0 7-4 0 1-7zM1080 575l0 6-3 0-1-7z" color="#2ab07f"/><path d="M1090 447l0 7-4 0 1-7zM1090 582l0 6-3 0-1-6zM1170 553l0 7-3 0 0-7zM1170 475l0 7-3 0 0-7zM1083 454l0 7-3 0 0-7zM1083 575l0 6-3 0 0-6z" color="#2fb47c"/><path d="M1093 447l0 7-3 0 0-7zM1093 582l0 7-3-1 0-6zM1170 447l0 7-3 0 0-7zM1170 581l0 7-3 1 0-7zM1167 475l0 7-3 0 0-7zM1167 553l0 7-3 0 0-7zM1170 468l0 7-3 0 0-7zM1170 560l0 7-3 1 0-8zM1076 461l0 7-3 0 0-7zM1076 568l0 6-3 0 0-7zM1170 454l0 7-3 0 0-7zM1170 574l0 7-3 1 0-7zM1170 461l0 7-3 0 0-7zM1170 567l0 7-3 1 0-7zM1086 454l0 7-3 0 0-7zM1086 575l0 7-3-1 0-6zM1096 447l0 7-3 0 0-7zM1096 582l0 7-3 0 0-7z" color="#35b779"/><path d="M1080 461l-1 7-3 0 0-7zM1079 568l1 7-4-1 0-6zM1089 575l1 7-4 0 0-7zM1090 454l-1 7-3 0 0-7zM1100 447l0 7-4 0 0-7zM1100 582l0 7-4 0 0-7z" color="#3bbb75"/><path d="M1164 475l0 7-4 0 0-7zM1164 553l0 7-4 1 0-8zM1103 447l0 7-3 0 0-7zM1103 582l0 7-3 0 0-7zM1150 511l0 7-3 0 0-7zM1150 518l0 7-3 0 0-7zM1093 454l0 7-4 0 1-7zM1093 575l0 7-3 0-1-7zM1106 447l0 7-3 0 0-7zM1106 582l0 7-3 0 0-7zM1110 447l0 7-4 0 0-7zM1110 582l0 7-4 0 0-7zM1082 568l1 7-3 0-1-7zM1083 461l-1 7-3 0 1-7zM1113 447l0 7-3 0 0-7zM1113 582l0 7-3 0 0-7zM1117 447l-1 7-3 0 0-7zM1116 582l1 7-4 0 0-7zM1120 447l0 7-4 0 1-7zM1120 582l0 7-3 0-1-7zM1123 447l0 7-3 0 0-7zM1123 582l0 7-3 0 0-7zM1127 447l0 7-4 0 0-7zM1127 582l0 7-4 0 0-7zM1130 447l0 7-3 0 0-7zM1130 582l0 7-3 0 0-7zM1133 447l0 7-3 0 0-7zM1133 582l0 7-3 0 0-7zM1167 468l0 7-3 0 0-7zM1167 560l0 8-3 0 0-8zM1137 446l0 7-4 1 0-7zM1137 582l0 7-4 0 0-7zM1076 468l0 7-4 0 1-7zM1076 561l0 7-3-1-1-6zM1150 504l0 7-3 0 0-8zM1150 525l0 7-3 0 0-7z" color="#42be71"/><path d="M1096 454l0 7-3 0 0-7zM1096 575l0 7-3 0 0-7zM1086 461l0 7-4 0 1-7zM1086 568l0 7-3 0-1-7zM1140 446l0 7-3 0 0-7zM1140 582l0 7-3 0 0-7zM1154 482l0 8-4-1 0-7zM1154 546l0 7-4 1 0-8zM1130 454l0 7-4 0 1-7zM1130 575l0 7-3 0-1-7zM1133 454l0 7-3 0 0-7zM1133 575l0 7-3 0 0-7zM1127 454l-1 7-3 0 0-7zM1126 575l1 7-4 0 0-7zM1100 454l-1 6-3 1 0-7zM1099 575l1 7-4 0 0-7zM1123 454l0 7-3 0 0-7zM1123 575l0 7-3 0 0-7zM1143 446l0 7-3 0 0-7zM1143 582l0 7-3 0 0-7zM1167 461l0 7-3 0 0-8zM1167 568l0 7-3 0 0-7zM1120 454l0 7-4-1 0-6zM1120 575l0 7-4 0 0-7z" color="#4ac16d"/><path d="M1137 453l0 8-4 0 0-7zM1137 575l0 7-4 0 0-7zM1079 468l0 7-3 0 0-7zM1079 561l0 7-3 0 0-7zM1116 454l0 6-3 0 0-6zM1116 575l0 7-3 0 0-7zM1089 461l0 7-3 0 0-7zM1089 568l0 7-3 0 0-7zM1113 454l0 6-4 0 1-6zM1113 575l0 7-3 0-1-7zM1103 454l0 6-4 0 1-6zM1103 575l0 7-3 0-1-7zM1109 575l1 7-4 0 0-7zM1110 454l-1 6-3 0 0-6zM1106 454l0 6-3 0 0-6zM1106 575l0 7-3 0 0-7zM1140 453l0 7-3 1 0-8zM1140 575l0 7-3 0 0-7zM1150 496l0 8-3-1 0-7zM1150 532l0 7-3 0 0-7zM1167 454l0 7-3-1 0-7zM1167 575l0 7-3 0 0-7zM1143 453l0 7-3 0 0-7zM1143 575l0 7-3 0 0-7zM1093 461l-1 7-3 0 0-7zM1092 568l1 7-4 0 0-7zM1167 447l0 7-3-1 0-7zM1167 582l0 7-3 1 0-8zM1160 475l0 7-3 0 0-8zM1160 553l0 8-3 0 0-8z" color="#52c569"/><path d="M1082 468l0 7-3 0 0-7zM1082 561l0 7-3 0 0-7zM1133 461l0 7-3 0 0-7zM1133 568l0 7-3 0 0-7zM1130 461l0 7-4 0 0-7zM1130 568l0 7-4 0 0-7zM1137 568l0 7-4 0 0-7zM1137 461l0 7-4 0 0-7zM1126 461l0 7-3 0 0-7zM1126 568l0 7-3 0 0-7zM1140 460l0 8-3 0 0-7zM1140 568l0 7-3 0 0-7zM1143 460l0 8-3 0 0-8zM1143 568l0 7-3 0 0-7zM1123 461l0 7-3 0 0-7zM1123 568l0 7-3 0 0-7zM1096 461l0 6-4 1 1-7zM1096 568l0 7-3 0-1-7zM1076 475l-1 7-3 0 0-7zM1075 554l1 7-4 0 0-7zM1120 461l0 7-4-1 0-7zM1120 568l0 7-4 0 0-7z" color="#5ac864"/><path d="M1116 460l0 7-3 0 0-7zM1116 568l0 7-3 0 0-7zM1086 468l-1 7-3 0 0-7zM1085 561l1 7-4 0 0-7zM1099 460l0 7-3 0 0-6zM1099 568l0 7-3 0 0-7zM1150 489l0 7-3 0 0-7zM1150 539l0 7-3 1 0-8zM1113 460l0 7-4 0 0-7zM1113 568l0 7-4 0 0-7zM1164 468l0 7-4 0 0-8zM1164 560l0 8-4 0 0-7zM1109 460l0 7-3 0 0-7zM1109 568l0 7-3 0 0-7zM1143 468l0 7-3 0 0-7zM1143 561l0 7-3 0 0-7zM1103 460l-1 7-3 0 0-7zM1102 568l1 7-4 0 0-7zM1106 460l0 7-4 0 1-7zM1106 568l0 7-3 0-1-7zM1137 468l-1 7-3 0 0-7zM1136 561l1 7-4 0 0-7zM1140 468l0 7-4 0 1-7zM1140 561l0 7-3 0-1-7zM1133 468l0 7-3 0 0-7zM1133 561l0 7-3 0 0-7zM1147 446l0 7-4 0 0-7zM1147 583l0 7-4-1 0-7zM1079 475l-1 7-3 0 1-7zM1078 554l1 7-3 0-1-7zM1130 468l0 7-4 0 0-7zM1130 561l0 7-4 0 0-7zM1089 468l0 7-4 0 1-7zM1089 561l0 7-3 0-1-7z" color="#65cb5e"/><path d="M1147 453l0 7-4 0 0-7zM1147 575l0 8-4-1 0-7zM1126 468l0 7-3 0 0-7zM1126 561l0 7-3 0 0-7zM1157 474l0 8-3 0-1-8zM1157 553l0 8-4 0 1-8zM1147 460l0 7-4 1 0-8zM1147 568l0 7-4 0 0-7zM1123 468l0 7-4 0 1-7zM1123 561l0 7-3 0-1-7zM1143 475l0 7-3 0 0-7zM1143 554l0 7-3 0 0-7zM1092 468l0 6-3 1 0-7zM1092 561l0 7-3 0 0-7zM1120 468l-1 7-3-1 0-7zM1119 561l1 7-4 0 0-7zM1147 467l0 7-4 1 0-7zM1147 561l0 7-4 0 0-7zM1140 475l0 7-4 0 0-7zM1140 554l0 7-4 0 0-7zM1150 482l0 7-3 0 0-7zM1150 546l0 8-3 0 0-7z" color="#6ece58"/><path d="M1082 475l0 7-4 0 1-7zM1082 554l0 7-3 0-1-7zM1136 475l0 7-3 0 0-7zM1136 554l0 7-3 0 0-7zM1116 467l0 7-4 0 1-7zM1116 561l0 7-3 0-1-7zM1075 482l0 7-3 0 0-7zM1075 547l0 7-3 0 0-7zM1133 475l0 7-3 0 0-7zM1133 554l0 7-3 0 0-7zM1147 474l0 8-4 0 0-7zM1147 554l0 7-4 0 0-7zM1096 467l-1 7-3 0 0-6zM1095 561l1 7-4 0 0-7zM1130 475l0 7-4 0 0-7zM1130 554l0 7-4 0 0-7zM1143 482l0 7-3 0 0-7zM1143 547l0 7-3 0 0-7zM1113 467l-1 7-3 0 0-7zM1112 561l1 7-4 0 0-7zM1153 474l1 8-4 0 0-8zM1154 553l-1 8-3 0 0-7zM1147 482l0 7-4 0 0-7zM1147 547l0 7-4 0 0-7zM1109 467l0 7-3 0 0-7zM1109 561l0 7-3 0 0-7zM1126 475l0 7-3 0 0-7zM1126 554l0 7-3 0 0-7zM1099 467l0 7-4 0 1-7zM1099 561l0 7-3 0-1-7z" color="#77d153"/><path d="M1164 460l0 8-4-1 0-7zM1164 568l0 7-4 1 0-8zM1106 467l0 7-4 0 0-7zM1106 561l0 7-4 0 0-7zM1147 489l0 7-4 0 0-7zM1147 539l0 8-4 0 0-8zM1085 475l0 7-3 0 0-7zM1085 554l0 7-3 0 0-7zM1102 467l0 7-3 0 0-7zM1102 561l0 7-3 0 0-7zM1140 482l0 7-4 0 0-7zM1140 547l0 7-4 0 0-7zM1147 496l0 7-4 0 0-7zM1147 532l0 7-4 0 0-7zM1150 474l0 8-3 0 0-8zM1150 554l0 7-3 0 0-7zM1123 554l0 7-4 0 0-7zM1123 475l0 7-4 0 0-7zM1136 482l0 7-3 0 0-7zM1136 547l0 7-3 0 0-7zM1143 489l0 7-3 0 0-7zM1143 539l0 8-3 0 0-8zM1078 482l0 7-3 0 0-7zM1078 547l0 7-3 0 0-7zM1147 503l0 8-4-1 0-7zM1147 525l0 7-4 0 0-7zM1147 511l0 7-4 0 0-8zM1147 518l0 7-4 0 0-7zM1133 482l0 7-4 0 1-7zM1133 547l0 7-3 0-1-7zM1089 475l-1 7-3 0 0-7zM1088 554l1 7-4 0 0-7zM1119 475l0 7-3 0 0-8zM1119 554l0 7-3 0 0-7z" color="#81d34d"/><path d="M1129 547l1 7-4 0 0-7zM1130 482l-1 7-3 0 0-7zM1140 489l0 7-4 0 0-7zM1140 539l0 8-4 0 0-8zM1143 496l0 7-3 0 0-7zM1143 532l0 7-3 0 0-7zM1116 474l0 8-4 0 0-8zM1116 554l0 7-4 0 0-7zM1150 561l0 7-3 0 0-7zM1150 467l0 7-3 0 0-7zM1164 453l0 7-4 0 0-8zM1164 575l0 7-4 1 0-7zM1092 474l0 7-4 1 1-7zM1092 554l0 7-3 0-1-7zM1075 489l-1 7-3 0 1-7zM1074 539l1 8-3 0-1-8zM1126 482l0 7-3 0 0-7zM1126 547l0 7-3 0 0-7zM1136 489l0 7-3 0 0-7zM1136 539l0 8-3 0 0-8zM1160 467l0 8-3-1 0-7zM1160 561l0 7-3 1 0-8zM1082 482l-1 7-3 0 0-7zM1081 547l1 7-4 0 0-7zM1143 503l0 7-3 0 0-7zM1143 525l0 7-3 0 0-7z" color="#8bd646"/><path d="M1112 474l0 8-3-1 0-7zM1112 554l0 7-3 0 0-7zM1143 510l0 8-3 0 0-8zM1143 518l0 7-3 0 0-7zM1140 496l0 7-4 0 0-7zM1140 532l0 7-4 0 0-7zM1133 489l0 7-4 0 0-7zM1133 539l0 8-4 0 0-8zM1150 460l0 7-3 0 0-7zM1150 568l0 8-3-1 0-7zM1095 474l0 7-3 0 0-7zM1095 554l0 7-3 0 0-7zM1123 482l0 7-4 0 0-7zM1123 547l0 7-4 0 0-7zM1109 474l0 7-4 0 1-7zM1109 554l0 7-3 0-1-7zM1164 446l0 7-4-1 0-7zM1164 582l0 8-4 1 0-8zM1106 474l-1 7-3 0 0-7zM1105 554l1 7-4 0 0-7zM1099 474l-1 7-3 0 0-7zM1098 554l1 7-4 0 0-7zM1129 489l0 7-3 0 0-7zM1129 539l0 8-3 0 0-8zM1102 474l0 7-4 0 1-7zM1102 554l0 7-3 0-1-7zM1150 452l0 8-3 0 0-7zM1150 576l0 7-3 0 0-8zM1136 532l0 7-3 0 0-7zM1136 496l0 7-3 0 0-7zM1140 503l0 7-4 0 0-7zM1140 525l0 7-4 0 0-7z" color="#95d840"/><path d="M1119 482l0 7-3 0 0-7zM1119 547l0 7-3 0 0-7zM1085 482l0 7-4 0 1-7zM1085 547l0 7-3 0-1-7zM1078 540l0 7-3 0-1-8zM1078 489l0 7-4 0 1-7zM1150 445l0 7-3 1 0-7zM1150 583l0 8-3-1 0-7zM1140 510l0 8-4 0 0-8zM1140 518l0 7-4 0 0-7zM1126 489l0 7-4 0 1-7zM1126 539l0 8-3 0-1-8zM1133 496l0 7-4 0 0-7zM1133 532l0 7-4 0 0-7zM1153 467l0 7-3 0 0-7zM1153 561l0 8-3-1 0-7zM1074 496l0 7-3 0 0-7zM1074 532l0 7-3 0 0-7zM1136 503l0 7-3 0 0-7zM1136 525l0 7-3 0 0-7zM1116 482l0 7-4 0 0-7zM1116 547l0 7-4 0 0-7zM1088 482l0 7-3 0 0-7zM1088 547l0 7-3 0 0-7zM1157 467l0 7-4 0 0-7zM1157 561l0 8-4 0 0-8z" color="#a0da39"/><path d="M1136 510l0 8-3 0 0-8zM1136 518l0 7-3 0 0-7zM1129 532l0 7-3 0 0-7zM1129 496l0 7-3 0 0-7zM1123 489l-1 7-3 0 0-7zM1122 539l1 8-4 0 0-7zM1133 503l0 7-4 0 0-7zM1133 525l0 7-4 0 0-7zM1112 482l0 7-3 0 0-8zM1112 547l0 7-3 0 0-7zM1081 489l0 7-3 0 0-7zM1081 540l0 7-3 0 0-7zM1092 481l-1 8-3 0 0-7zM1091 547l1 7-4 0 0-7zM1126 496l0 7-4 0 0-7zM1126 532l0 7-4 0 0-7zM1133 510l0 8-4 0 0-8zM1133 518l0 7-4 0 0-7zM1119 489l0 7-4 0 1-7zM1119 540l0 7-3 0-1-7z" color="#aadc32"/><path d="M1109 481l0 8-4 0 0-8zM1109 547l0 7-4 0 0-7zM1129 503l0 7-3 0 0-7zM1129 525l0 7-3 0 0-7zM1074 503l0 7-3 0 0-7zM1074 525l0 7-3 0 0-7zM1095 481l0 8-4 0 1-8zM1095 547l0 7-3 0-1-7zM1077 532l1 8-4-1 0-7zM1078 496l-1 7-3 0 0-7zM1105 481l0 8-3 0 0-8zM1105 547l0 7-3 0 0-7zM1160 460l0 7-3 0 0-8zM1160 568l0 8-3 0 0-7zM1102 481l0 8-4 0 0-8zM1102 547l0 7-4 0 0-7zM1129 510l0 8-3 0 0-8zM1129 518l0 7-3 0 0-7zM1098 481l0 8-3 0 0-8zM1098 547l0 7-3 0 0-7zM1122 496l0 7-3 0 0-7zM1122 532l0 7-3 1 0-8zM1126 503l0 7-4 0 0-7zM1126 525l0 7-4 0 0-7zM1085 489l-1 7-3 0 0-7zM1084 540l1 7-4 0 0-7zM1116 489l-1 7-3 0 0-7zM1115 540l1 7-4 0 0-7zM1074 510l0 8-3 0 0-8zM1074 518l0 7-3 0 0-7zM1153 459l0 8-3 0 0-7zM1153 569l0 7-3 0 0-8z" color="#b5de2b"/><path d="M1126 510l0 8-4 0 0-8zM1126 518l0 7-4 0 0-7zM1119 496l0 7-4 0 0-7zM1119 532l0 8-4 0 0-8zM1088 489l0 7-4 0 1-7zM1088 540l0 7-3 0-1-7zM1112 489l0 7-4 0 1-7zM1112 540l0 7-3 0-1-7zM1122 503l0 7-3 0 0-7zM1122 525l0 7-3 0 0-7zM1077 503l0 7-3 0 0-7zM1077 525l0 7-3 0 0-7zM1081 496l0 7-4 0 1-7zM1081 532l0 8-3 0-1-8z" color="#c0df25"/><path d="M1122 510l0 8-3 0 0-8zM1122 518l0 7-3 0 0-7zM1091 489l0 7-3 0 0-7zM1091 540l0 7-3 0 0-7zM1109 489l-1 7-3 0 0-7zM1108 540l1 7-4 0 0-7zM1160 452l0 8-3-1 0-7zM1160 576l0 7-3 1 0-8zM1153 452l0 7-3 1 0-8zM1153 576l0 8-3-1 0-7zM1077 510l0 8-3 0 0-8zM1077 518l0 7-3 0 0-7zM1115 496l0 7-3 0 0-7zM1115 532l0 8-3 0 0-8zM1157 459l0 8-4 0 0-8zM1157 569l0 7-4 0 0-7zM1105 489l0 7-4 0 1-7zM1105 540l0 7-3 0-1-7zM1119 503l0 7-4 0 0-7zM1119 525l0 7-4 0 0-7zM1095 489l-1 7-3 0 0-7zM1094 540l1 7-4 0 0-7zM1102 489l-1 7-3 0 0-7zM1101 540l1 7-4 0 0-7z" color="#cae11f"/><path d="M1084 496l0 7-3 0 0-7zM1084 532l0 8-3 0 0-8zM1098 540l0 7-3 0-1-7zM1098 489l0 7-4 0 1-7zM1119 510l0 8-4 0 0-8zM1119 518l0 7-4 0 0-7zM1081 503l-1 7-3 0 0-7zM1080 525l1 7-4 0 0-7zM1153 444l0 8-3 0 0-7zM1153 584l0 7-3 0 0-8zM1112 496l0 7-4 0 0-7zM1112 532l0 8-4 0 0-8zM1160 445l0 7-3 0 0-8zM1160 583l0 8-3 0 0-7zM1115 503l0 7-3 0 0-7zM1115 525l0 7-3 0 0-7zM1087 532l1 8-4 0 0-8zM1088 496l-1 7-3 0 0-7z" color="#d5e21a"/><path d="M1080 510l0 8-3 0 0-8zM1080 518l0 7-3 0 0-7zM1108 496l0 7-3 0 0-7zM1108 532l0 8-3 0 0-8zM1115 510l0 8-3 0 0-8zM1115 518l0 7-3 0 0-7zM1091 496l0 7-4 0 1-7zM1091 532l0 8-3 0-1-8zM1157 452l0 7-4 0 0-7zM1157 576l0 8-4 0 0-8zM1084 503l0 7-4 0 1-7zM1084 525l0 7-3 0-1-7zM1105 496l0 7-4 0 0-7zM1105 532l0 8-4 0 0-8zM1112 503l0 7-4 0 0-7zM1112 525l0 7-4 0 0-7z" color="#dfe318"/><path d="M1101 532l0 8-3 0 0-8zM1101 496l0 7-3 0 0-7zM1094 496l0 7-3 0 0-7zM1094 532l0 8-3 0 0-8zM1098 496l0 7-4 0 0-7zM1098 532l0 8-4 0 0-8zM1112 510l0 8-4 0 0-8zM1112 518l0 7-4 0 0-7zM1087 525l0 7-3 0 0-7zM1087 503l0 7-3 0 0-7zM1084 510l0 8-4 0 0-8zM1084 518l0 7-4 0 0-7zM1157 584l0 7-4 0 0-7zM1157 444l0 8-4 0 0-8zM1108 503l0 7-3 0 0-7zM1108 525l0 7-3 0 0-7z" color="#eae51a"/><path d="M1091 503l0 7-4 0 0-7zM1091 525l0 7-4 0 0-7zM1105 503l0 7-4 0 0-7zM1105 525l0 7-4 0 0-7zM1087 510l0 8-3 0 0-8zM1087 518l0 7-3 0 0-7zM1108 510l0 8-3 0 0-8zM1108 518l0 7-3 0 0-7zM1101 503l0 7-4 0 1-7zM1101 525l0 7-3 0-1-7zM1094 503l0 7-3 0 0-7zM1094 525l0 7-3 0 0-7zM1098 503l-1 7-3 0 0-7zM1097 525l1 7-4 0 0-7zM1105 510l0 8-4 0 0-8zM1105 518l0 7-4 0 0-7zM1091 510l0 8-4 0 0-8zM1091 518l0 7-4 0 0-7z" color="#f4e61e"/><path d="M1101 510l0 8-4 0 0-8zM1101 518l0 7-4 0 0-7zM1094 510l0 8-3 0 0-8zM1094 518l0 7-3 0 0-7zM1097 510l0 8-3 0 0-8zM1097 518l0 7-3 0 0-7z" color="#fde725"/></g><g id="text_90"><text style="font-size: 12px; font-family: 'DejaVu Sans'; text-anchor: start" x="501.6" y="190.1" transform="rotate(-0 501.6 190.1)">(f)</text></g></g><g id="patch_26"><path d="M 136 484.5 L 292.3 484.5 L 292.3 355.5 L 136 355.5 z" style="fill: #ffffff"/></g><g id="pane3d_19"><g id="patch_27"><path d="M 203.2 424.4 L 277.8 444.5 L 281.3 378.6 L 202.5 360.8" style="fill: #f2f2f2; opacity: 0.5; stroke: #f2f2f2; stroke-linejoin: miter"/></g></g><g id="pane3d_20"><g id="patch_28"><path d="M 203.2 424.4 L 152.9 456.9 L 149.3 389.7 L 202.5 360.8" style="fill: #e6e6e6; opacity: 0.5; stroke: #e6e6e6; stroke-linejoin: miter"/></g></g><g id="pane3d_21"><g id="patch_29"><path d="M 203.2 424.4 L 152.9 456.9 L 231.2 480.3 L 277.8 444.5" style="fill: #ececec; opacity: 0.5; stroke: #ececec; stroke-linejoin: miter"/></g></g><g id="grid3d_19"><g id="Line3DCollection_15"><path d="M 275.9 446 L 201 425.8 L 200.2 362" style="fill: none; stroke: #b0b0b0; stroke-width: 0.8"/><path d="M 265.8 453.7 L 190.2 432.8 L 188.8 368.2" style="fill: none; stroke: #b0b0b0; stroke-width: 0.8"/><path d="M 255.5 461.7 L 179 440 L 177 374.7" style="fill: none; stroke: #b0b0b0; stroke-width: 0.8"/><path d="M 244.7 470 L 167.4 447.5 L 164.7 381.4" style="fill: none; stroke: #b0b0b0; stroke-width: 0.8"/></g></g><g id="grid3d_20"><g id="Line3DCollection_16"><path d="M 206.6 361.7 L 207.1 425.5 L 157.1 458.1" style="fill: none; stroke: #b0b0b0; stroke-width: 0.8"/><path d="M 220.2 364.8 L 220 428.9 L 170.5 462.2" style="fill: none; stroke: #b0b0b0; stroke-width: 0.8"/><path d="M 233.9 367.9 L 233 432.4 L 184.1 466.2" style="fill: none; stroke: #b0b0b0; stroke-width: 0.8"/><path d="M 247.9 371.1 L 246.3 436 L 198 470.4" style="fill: none; stroke: #b0b0b0; stroke-width: 0.8"/><path d="M 262.2 374.3 L 259.8 439.6 L 212.2 474.6" style="fill: none; stroke: #b0b0b0; stroke-width: 0.8"/><path d="M 276.7 377.6 L 273.5 443.3 L 226.6 479" style="fill: none; stroke: #b0b0b0; stroke-width: 0.8"/></g></g><g id="grid3d_21"><g id="Line3DCollection_17"><path d="M 152.9 455.6 L 203.1 423.2 L 277.9 443.2" style="fill: none; stroke: #b0b0b0; stroke-width: 0.8"/><path d="M 152.2 443.3 L 203 411.5 L 278.5 431.1" style="fill: none; stroke: #b0b0b0; stroke-width: 0.8"/><path d="M 151.5 430.7 L 202.9 399.5 L 279.2 418.7" style="fill: none; stroke: #b0b0b0; stroke-width: 0.8"/><path d="M 150.8 417.8 L 202.8 387.3 L 279.8 406.1" style="fill: none; stroke: #b0b0b0; stroke-width: 0.8"/><path d="M 150.1 404.6 L 202.6 374.8 L 280.5 393.2" style="fill: none; stroke: #b0b0b0; stroke-width: 0.8"/><path d="M 149.4 391.2 L 202.5 362.1 L 281.2 380" style="fill: none; stroke: #b0b0b0; stroke-width: 0.8"/></g></g><g id="axis3d_19"><g id="line2d_89"><path d="M 277.8 444.5 L 231.2 480.3" style="fill: none; stroke: #000000; stroke-width: 0.8; stroke-linecap: square"/></g><g id="xtick_71"><g id="line2d_90"><path d="M 275.3 445.8 L 277.1 446.3" style="fill: none; stroke: #000000; stroke-width: 0.8; stroke-linecap: square"/></g><g id="text_91" transform="translate(-7.6 -7.5)"><text style="font-size: 10px; font-family: 'DejaVu Sans'; text-anchor: middle" x="287.5" y="466.5" transform="rotate(-0 287.5 466.5)">-2.0</text></g></g><g id="xtick_72"><g id="line2d_91"><path d="M 265.2 453.5 L 267.1 454" style="fill: none; stroke: #000000; stroke-width: 0.8; stroke-linecap: square"/></g><g id="text_92" transform="translate(-7.6 -7.5)"><text style="font-size: 10px; font-family: 'DejaVu Sans'; text-anchor: middle" x="277.7" y="474.4" transform="rotate(-0 277.7 474.4)">-1.0</text></g></g><g id="xtick_73"><g id="line2d_92"><path d="M 254.8 461.5 L 256.7 462" style="fill: none; stroke: #000000; stroke-width: 0.8; stroke-linecap: square"/></g><g id="text_93" transform="translate(-7.6 -7.5)"><text style="font-size: 10px; font-family: 'DejaVu Sans'; text-anchor: middle" x="267.5" y="482.7" transform="rotate(-0 267.5 482.7)">0.0</text></g></g><g id="xtick_74"><g id="line2d_93"><path d="M 244 469.8 L 246 470.3" style="fill: none; stroke: #000000; stroke-width: 0.8; stroke-linecap: square"/></g><g id="text_94" transform="translate(-7.6 -7.5)"><text style="font-size: 10px; font-family: 'DejaVu Sans'; text-anchor: middle" x="257" y="491.2" transform="rotate(-0 257 491.2)">1.0</text></g></g><g id="text_95" transform="translate(-6 -5)"><text style="font-size: 10px; font-family: 'DejaVu Sans'; text-anchor: middle" x="283.7" y="493.3" transform="rotate(-37.56 283.7 493.3)">X (Å)</text></g></g><g id="axis3d_20"><g id="line2d_94"><path d="M 152.9 456.9 L 231.2 480.3" style="fill: none; stroke: #000000; stroke-width: 0.8; stroke-linecap: square"/></g><g id="xtick_75"><g id="line2d_95"><path d="M 157.5 457.9 L 156.2 458.7" style="fill: none; stroke: #000000; stroke-width: 0.8; stroke-linecap: square"/></g><g id="text_96" transform="translate(5.4 -12.4)"><text style="font-size: 10px; font-family: 'DejaVu Sans'" transform="translate(141.4 488.4) rotate(-24)">-2.0</text></g></g><g id="xtick_76"><g id="line2d_96"><path d="M 170.9 461.9 L 169.6 462.7" style="fill: none; stroke: #000000; stroke-width: 0.8; stroke-linecap: square"/></g><g id="text_97" transform="translate(5.4 -12.4)"><text style="font-size: 10px; font-family: 'DejaVu Sans'" transform="translate(156.4 491.1) rotate(-24)">3.0</text></g></g><g id="xtick_77"><g id="line2d_97"><path d="M 184.6 465.9 L 183.3 466.8" style="fill: none; stroke: #000000; stroke-width: 0.8; stroke-linecap: square"/></g><g id="text_98" transform="translate(5.4 -12.4)"><text style="font-size: 10px; font-family: 'DejaVu Sans'" transform="translate(170.1 495.3) rotate(-24)">8.0</text></g></g><g id="xtick_78"><g id="line2d_98"><path d="M 198.5 470.1 L 197.2 471" style="fill: none; stroke: #000000; stroke-width: 0.8; stroke-linecap: square"/></g><g id="text_99" transform="translate(5.4 -12.4)"><text style="font-size: 10px; font-family: 'DejaVu Sans'" transform="translate(181 502.2) rotate(-24)">13.0</text></g></g><g id="xtick_79"><g id="line2d_99"><path d="M 212.6 474.3 L 211.4 475.2" style="fill: none; stroke: #000000; stroke-width: 0.8; stroke-linecap: square"/></g><g id="text_100" transform="translate(5.4 -12.4)"><text style="font-size: 10px; font-family: 'DejaVu Sans'" transform="translate(195.2 506.6) rotate(-24)">18.0</text></g></g><g id="xtick_80"><g id="line2d_100"><path d="M 227 478.6 L 225.8 479.6" style="fill: none; stroke: #000000; stroke-width: 0.8; stroke-linecap: square"/></g><g id="text_101" transform="translate(5.4 -12.4)"><text style="font-size: 10px; font-family: 'DejaVu Sans'" transform="translate(209.6 511.1) rotate(-24)">23.0</text></g></g><g id="text_102" transform="translate(4.2 -6.2)"><text style="font-size: 10px; font-family: 'DejaVu Sans'; text-anchor: middle" x="172.8" y="505.8" transform="rotate(-343.34 172.8 505.8)">Y (Å)</text></g></g><g id="axis3d_21"><g id="line2d_101"><path d="M 152.9 456.9 L 149.3 389.7" style="fill: none; stroke: #000000; stroke-width: 0.8; stroke-linecap: square"/></g><g id="xtick_81"><g id="line2d_102"><path d="M 153.3 455.3 L 152 456.2" style="fill: none; stroke: #000000; stroke-width: 0.8; stroke-linecap: square"/></g><g id="text_103" transform="translate(3.1 -1.5)"><text style="font-size: 10px; font-family: 'DejaVu Sans'; text-anchor: middle" x="132.9" y="465.2" transform="rotate(-0 132.9 465.2)">0.0</text></g></g><g id="xtick_82"><g id="line2d_103"><path d="M 152.6 443 L 151.3 443.8" style="fill: none; stroke: #000000; stroke-width: 0.8; stroke-linecap: square"/></g><g id="text_104" transform="translate(3.1 -1.5)"><text style="font-size: 10px; font-family: 'DejaVu Sans'; text-anchor: middle" x="132" y="452.8" transform="rotate(-0 132 452.8)">0.2</text></g></g><g id="xtick_83"><g id="line2d_104"><path d="M 152 430.4 L 150.6 431.2" style="fill: none; stroke: #000000; stroke-width: 0.8; stroke-linecap: square"/></g><g id="text_105" transform="translate(3.1 -1.5)"><text style="font-size: 10px; font-family: 'DejaVu Sans'; text-anchor: middle" x="131.1" y="440.2" transform="rotate(-0 131.1 440.2)">0.4</text></g></g><g id="xtick_84"><g id="line2d_105"><path d="M 151.3 417.5 L 149.9 418.3" style="fill: none; stroke: #000000; stroke-width: 0.8; stroke-linecap: square"/></g><g id="text_106" transform="translate(3.1 -1.5)"><text style="font-size: 10px; font-family: 'DejaVu Sans'; text-anchor: middle" x="130.1" y="427.3" transform="rotate(-0 130.1 427.3)">0.6</text></g></g><g id="xtick_85"><g id="line2d_106"><path d="M 150.6 404.4 L 149.2 405.1" style="fill: none; stroke: #000000; stroke-width: 0.8; stroke-linecap: square"/></g><g id="text_107" transform="translate(3.1 -1.5)"><text style="font-size: 10px; font-family: 'DejaVu Sans'; text-anchor: middle" x="129.2" y="414.1" transform="rotate(-0 129.2 414.1)">0.8</text></g></g><g id="xtick_86"><g id="line2d_107"><path d="M 149.8 390.9 L 148.4 391.7" style="fill: none; stroke: #000000; stroke-width: 0.8; stroke-linecap: square"/></g><g id="text_108" transform="translate(3.1 -1.5)"><text style="font-size: 10px; font-family: 'DejaVu Sans'; text-anchor: middle" x="128.2" y="400.6" transform="rotate(-0 128.2 400.6)">1.0</text></g></g><g id="text_109" transform="translate(7.7 -5.3) rotate(180 106.2 428.4)"><g transform="translate(102.4 409.2) rotate(-273.101591)"><text><tspan x="0" y="-0.4" style="font-size: 10px; font-family: 'DejaVu Sans'">I</tspan><tspan x="16.6" y="-0.4" style="font-size: 10px; font-family: 'DejaVu Sans'"></tspan><tspan x="19.8" y="-0.4" style="font-size: 10px; font-family: 'DejaVu Sans'">(</tspan><tspan x="23.7" y="-0.4" style="font-size: 10px; font-family: 'DejaVu Sans'">E</tspan><tspan x="34.8" y="-0.4" style="font-size: 10px; font-family: 'DejaVu Sans'">)</tspan><tspan x="3" y="1.2" style="font-style: oblique; font-size: 7px; font-family: 'DejaVu Sans'">E</tspan><tspan x="7.5" y="1.2" style="font-style: oblique; font-size: 7px; font-family: 'DejaVu Sans'">K</tspan><tspan x="12.1" y="1.2" style="font-style: oblique; font-size: 7px; font-family: 'DejaVu Sans'">T</tspan><tspan x="30.1" y="1.2" style="font-style: oblique; font-size: 7px; font-family: 'DejaVu Sans'">h</tspan></text></g></g></g><g id="axes_7"><g id="Path3DCollection_22"><g clip-path="url(#pc0d22d3f73)"><circle cx="188.2" cy="441.4" r="1.9" style="fill: #ff0000"/></g></g><g id="surf_2_0" transform="scale(0.5)" fill="currentColor" stroke="currentColor" stroke-width="1.2"><path d="M405 834l-5 0 3 3 5-1z" color="#481a6c"/><path d="M408 836l-5 1 4 3 4-1z" color="#481467"/><path d="M411 839l-4 1 3 2 4-1z" color="#470d60"/><path d="M414 841l-4 1 3 3 4-1z" color="#450559"/><path d="M417 844l-4 1 3 1 4-2z" color="#440256"/><path d="M420 844l-4 2 3 1 4-2z" color="#440256"/><path d="M423 845l-4 2 3 1 4-2z" color="#450457"/><path d="M400 834l-4 1 3 2 4 0z" color="#482071"/><path d="M426 846l-4 2 3 0 4-2z" color="#450457"/><path d="M403 837l-4 0 3 4 5-1z" color="#481a6c"/><path d="M407 840l-5 1 3 3 5-2z" color="#471365"/><path d="M410 842l-5 2 3 2 5-1z" color="#460b5e"/><path d="M413 845l-5 1 3 2 5-2z" color="#46075a"/><path d="M429 846l-4 2 3 1 4-2z" color="#450457"/><path d="M416 846l-5 2 4 1 4-2z" color="#46075a"/><path d="M432 847l-4 2 3 1 4-2z" color="#450559"/><path d="M419 847l-4 2 3 1 4-2z" color="#450559"/><path d="M435 848l-4 2 3 0 4-2z" color="#450559"/><path d="M422 848l-4 2 3 1 4-3z" color="#46075a"/><path d="M396 835l-4 1 3 2 4-1z" color="#482576"/><path d="M399 837l-4 1 3 4 4-1z" color="#482071"/><path d="M402 841l-4 1 3 3 4-1z" color="#48186a"/><path d="M405 844l-4 1 3 3 4-2z" color="#471063"/><path d="M438 848l-4 2 3 1 5-2z" color="#46075a"/><path d="M408 846l-4 2 3 2 4-2z" color="#460b5e"/><path d="M425 848l-4 3 3 0 4-2z" color="#46075a"/><path d="M411 848l-4 2 3 1 5-2z" color="#460a5d"/><path d="M442 849l-5 2 3 0 5-2z" color="#46085c"/><path d="M428 849l-4 2 3 1 4-2z" color="#46075a"/><path d="M415 849l-5 2 3 1 5-2z" color="#46085c"/><path d="M445 849l-5 2 4 1 4-3z" color="#460a5d"/><path d="M431 850l-4 2 3 1 4-3z" color="#46085c"/><path d="M418 850l-5 2 3 1 5-2z" color="#46085c"/><path d="M448 849l-4 3 3 0 4-2z" color="#460b5e"/><path d="M392 836l-5 2 3 2 5-2z" color="#472a7a"/><path d="M434 850l-4 3 3 0 4-2z" color="#46085c"/><path d="M398 842l-5 1 4 4 4-2z" color="#481c6e"/><path d="M401 845l-4 2 3 3 4-2z" color="#481467"/><path d="M395 838l-5 2 3 3 5-1z" color="#482475"/><path d="M421 851l-5 2 3 1 5-3z" color="#46085c"/><path d="M404 848l-4 2 3 2 4-2z" color="#470e61"/><path d="M451 850l-4 2 3 0 4-2z" color="#470d60"/><path d="M407 850l-4 2 3 1 4-2z" color="#460b5e"/><path d="M437 851l-4 2 3 0 4-2z" color="#460a5d"/><path d="M424 851l-5 3 4 0 4-2z" color="#460a5d"/><path d="M410 851l-4 2 3 2 4-3z" color="#460a5d"/><path d="M454 850l-4 2 3 1 4-3z" color="#470e61"/><path d="M440 851l-4 2 3 1 5-2z" color="#460b5e"/><path d="M427 852l-4 2 3 1 4-2z" color="#460a5d"/><path d="M413 852l-4 3 3 0 4-2z" color="#460a5d"/><path d="M457 850l-4 3 3 0 4-2z" color="#471164"/><path d="M444 852l-5 2 3 0 5-2z" color="#470d60"/><path d="M430 853l-4 2 3 0 4-2z" color="#460b5e"/><path d="M387 838l-4 1 3 2 4-1z" color="#472e7c"/><path d="M416 853l-4 2 3 1 4-2z" color="#460a5d"/><path d="M397 847l-5 2 3 3 5-2z" color="#48186a"/><path d="M393 843l-4 2 3 4 5-2z" color="#482071"/><path d="M390 840l-4 1 3 4 4-2z" color="#482878"/><path d="M400 850l-5 2 3 2 5-2z" color="#471164"/><path d="M447 852l-5 2 4 1 4-3z" color="#471063"/><path d="M460 851l-4 2 3 0 4-2z" color="#471365"/><path d="M433 853l-4 2 3 1 4-3z" color="#470d60"/><path d="M403 852l-5 2 3 2 5-3z" color="#470e61"/><path d="M419 854l-4 2 3 1 5-3z" color="#460b5e"/><path d="M406 853l-5 3 4 1 4-2z" color="#470d60"/><path d="M450 852l-4 3 3 0 4-2z" color="#471164"/><path d="M436 853l-4 3 3 0 4-2z" color="#470e61"/><path d="M463 851l-4 2 3 0 5-2z" color="#481668"/><path d="M423 854l-5 3 3 0 5-2z" color="#460b5e"/><path d="M409 855l-4 2 3 1 4-3z" color="#460b5e"/><path d="M453 853l-4 2 3 0 4-2z" color="#471365"/><path d="M439 854l-4 2 3 1 4-3z" color="#471063"/><path d="M426 855l-5 2 3 1 5-3z" color="#470d60"/><path d="M467 851l-5 2 4 1 4-3z" color="#481769"/><path d="M412 855l-4 3 3 0 4-2z" color="#460b5e"/><path d="M392 849l-4 1 3 4 4-2z" color="#481b6d"/><path d="M383 839l-5 2 3 2 5-2z" color="#46327e"/><path d="M389 845l-4 2 3 3 4-1z" color="#482374"/><path d="M395 852l-4 2 3 2 4-2z" color="#481467"/><path d="M386 841l-5 2 4 4 4-2z" color="#472c7a"/><path d="M442 854l-4 3 3 0 5-2z" color="#471164"/><path d="M429 855l-5 3 4 0 4-2z" color="#470e61"/><path d="M456 853l-4 2 3 0 4-2z" color="#481668"/><path d="M398 854l-4 2 3 2 4-2z" color="#471063"/><path d="M470 851l-4 3 3 0 4-2z" color="#48186a"/><path d="M415 856l-4 2 3 1 4-2z" color="#470d60"/><path d="M401 856l-4 2 3 1 5-2z" color="#470e61"/><path d="M446 855l-5 2 4 0 4-2z" color="#471365"/><path d="M432 856l-4 2 3 1 4-3z" color="#471063"/><path d="M459 853l-4 2 3 1 4-3z" color="#481769"/><path d="M418 857l-4 2 3 1 4-3z" color="#470d60"/><path d="M473 852l-4 2 3 0 4-2z" color="#481b6d"/><path d="M405 857l-5 2 3 1 5-2z" color="#470d60"/><path d="M435 856l-4 3 3 0 4-2z" color="#471164"/><path d="M449 855l-4 2 3 1 4-3z" color="#481467"/><path d="M421 857l-4 3 3 0 4-2z" color="#470e61"/><path d="M462 853l-4 3 3 0 5-2z" color="#48186a"/><path d="M476 852l-4 2 3 0 4-2z" color="#481c6e"/><path d="M408 858l-5 2 3 1 5-3z" color="#470d60"/><path d="M388 850l-5 3 3 3 5-2z" color="#481d6f"/><path d="M378 841l-4 2 3 2 4-2z" color="#463480"/><path d="M391 854l-5 2 3 3 5-3z" color="#481769"/><path d="M385 847l-5 2 3 4 5-3z" color="#482576"/><path d="M381 843l-4 2 3 4 5-2z" color="#472e7c"/><path d="M438 857l-4 2 3 0 4-2z" color="#471365"/><path d="M424 858l-4 2 3 1 5-3z" color="#471063"/><path d="M452 855l-4 3 3 0 4-3z" color="#481769"/><path d="M394 856l-5 3 4 1 4-2z" color="#471164"/><path d="M466 854l-5 2 4 0 4-2z" color="#481b6d"/><path d="M411 858l-5 3 4 1 4-3z" color="#470e61"/><path d="M479 852l-4 2 3 0 5-3z" color="#482071"/><path d="M397 858l-4 2 3 2 4-3z" color="#471063"/><path d="M428 858l-5 3 3 0 5-2z" color="#471164"/><path d="M441 857l-4 2 3 1 5-3z" color="#481467"/><path d="M414 859l-4 3 3 0 4-2z" color="#470e61"/><path d="M455 855l-4 3 3 0 4-2z" color="#48186a"/><path d="M469 854l-4 2 3 0 4-2z" color="#481c6e"/><path d="M400 859l-4 3 3 1 4-3z" color="#470e61"/><path d="M483 851l-5 3 4-1 4-3z" color="#482576"/><path d="M431 859l-5 2 4 1 4-3z" color="#471365"/><path d="M417 860l-4 2 3 1 4-3z" color="#470e61"/><path d="M445 857l-5 3 3 0 5-2z" color="#481668"/><path d="M458 856l-4 2 3 0 4-2z" color="#481b6d"/><path d="M403 860l-4 3 3 1 4-3z" color="#470e61"/><path d="M472 854l-4 2 3 1 4-3z" color="#481f70"/><path d="M383 853l-4 2 3 3 4-2z" color="#481f70"/><path d="M386 856l-4 2 3 3 4-2z" color="#48186a"/><path d="M374 843l-5 3 3 1 5-2z" color="#453581"/><path d="M380 849l-5 2 4 4 4-2z" color="#482878"/><path d="M377 845l-5 2 3 4 5-2z" color="#46307e"/><path d="M420 860l-4 3 3 0 4-2z" color="#471063"/><path d="M434 859l-4 3 3 0 4-3z" color="#481467"/><path d="M389 859l-4 2 3 2 5-3z" color="#471365"/><path d="M448 858l-5 2 4 0 4-2z" color="#48186a"/><path d="M406 861l-4 3 3 0 5-2z" color="#470e61"/><path d="M461 856l-4 2 3 1 5-3z" color="#481c6e"/><path d="M486 850l-4 3 3-1 4-3z" color="#472c7a"/><path d="M475 854l-4 3 3-1 4-2z" color="#482173"/><path d="M393 860l-5 3 3 2 5-3z" color="#471063"/><path d="M423 861l-4 2 3 1 4-3z" color="#471365"/><path d="M437 859l-4 3 3 0 4-2z" color="#481668"/><path d="M410 862l-5 2 3 1 5-3z" color="#471063"/><path d="M451 858l-4 2 3 1 4-3z" color="#481a6c"/><path d="M465 856l-5 3 4 0 4-3z" color="#481f70"/><path d="M396 862l-5 3 3 1 5-3z" color="#470e61"/><path d="M478 854l-4 2 4-1 4-2z" color="#482677"/><path d="M413 862l-5 3 3 1 5-3z" color="#471063"/><path d="M426 861l-4 3 3 0 5-2z" color="#481467"/><path d="M440 860l-4 2 3 1 4-3z" color="#481769"/><path d="M489 849l-4 3 3-3 4-3z" color="#46337f"/><path d="M454 858l-4 3 3 0 4-3z" color="#481c6e"/><path d="M399 863l-5 3 4 0 4-2z" color="#470e61"/><path d="M468 856l-4 3 3 0 4-2z" color="#482071"/><path d="M382 858l-5 3 3 3 5-3z" color="#48186a"/><path d="M369 846l-4 2 3 2 4-3z" color="#453781"/><path d="M379 855l-5 2 3 4 5-3z" color="#482071"/><path d="M375 851l-4 2 3 4 5-2z" color="#482979"/><path d="M416 863l-5 3 4 0 4-3z" color="#471164"/><path d="M372 847l-4 3 3 3 4-2z" color="#46327e"/><path d="M430 862l-5 2 3 1 5-3z" color="#481668"/><path d="M385 861l-5 3 4 2 4-3z" color="#481467"/><path d="M443 860l-4 3 3 0 5-3z" color="#481a6c"/><path d="M402 864l-4 2 3 1 4-3z" color="#471063"/><path d="M457 858l-4 3 3 0 4-2z" color="#481d6f"/><path d="M482 853l-4 2 3-1 4-2z" color="#472d7b"/><path d="M471 857l-4 2 3 0 4-3z" color="#482374"/><path d="M388 863l-4 3 3 1 4-2z" color="#471164"/><path d="M419 863l-4 3 3 1 4-3z" color="#471365"/><path d="M433 862l-5 3 4 0 4-3z" color="#481769"/><path d="M405 864l-4 3 3 1 4-3z" color="#471063"/><path d="M447 860l-5 3 3 0 5-2z" color="#481b6d"/><path d="M460 859l-4 2 3 0 5-2z" color="#482071"/><path d="M391 865l-4 2 3 2 4-3z" color="#471063"/><path d="M474 856l-4 3 3-1 5-3z" color="#482878"/><path d="M492 846l-4 3 4-7 4-3z" color="#414287"/><path d="M408 865l-4 3 3 0 4-2z" color="#471164"/><path d="M422 864l-4 3 3 0 4-3z" color="#481467"/><path d="M436 862l-4 3 3 0 4-2z" color="#48186a"/><path d="M485 852l-4 2 3-2 4-3z" color="#463480"/><path d="M394 866l-4 3 3 0 5-3z" color="#471063"/><path d="M450 861l-5 2 4 0 4-2z" color="#481d6f"/><path d="M464 859l-5 2 4 1 4-3z" color="#482173"/><path d="M365 848l-5 3 3 2 5-3z" color="#453781"/><path d="M377 861l-4 3 3 3 4-3z" color="#481a6c"/><path d="M374 857l-4 3 3 4 4-3z" color="#482173"/><path d="M371 853l-5 3 4 4 4-3z" color="#472a7a"/><path d="M411 866l-4 2 3 1 5-3z" color="#471164"/><path d="M368 850l-5 3 3 3 5-3z" color="#46327e"/><path d="M425 864l-4 3 3 0 4-2z" color="#481668"/><path d="M380 864l-4 3 3 2 5-3z" color="#481467"/><path d="M398 866l-5 3 3 1 5-3z" color="#471063"/><path d="M439 863l-4 2 3 1 4-3z" color="#481a6c"/><path d="M453 861l-4 2 3 1 4-3z" color="#481f70"/><path d="M478 855l-5 3 4-1 4-3z" color="#472e7c"/><path d="M467 859l-4 3 3-1 4-2z" color="#482475"/><path d="M384 866l-5 3 3 1 5-3z" color="#471164"/><path d="M415 866l-5 3 3 0 5-2z" color="#481467"/><path d="M401 867l-5 3 3 1 5-3z" color="#471063"/><path d="M428 865l-4 2 3 1 5-3z" color="#481769"/><path d="M442 863l-4 3 3 0 4-3z" color="#481c6e"/><path d="M387 867l-5 3 3 1 5-2z" color="#471063"/><path d="M456 861l-4 3 3 0 4-3z" color="#482071"/><path d="M488 849l-4 3 3-7 5-3z" color="#414287"/><path d="M404 868l-5 3 3 0 5-3z" color="#471164"/><path d="M470 859l-4 2 3-1 4-2z" color="#482979"/><path d="M418 867l-5 2 3 1 5-3z" color="#481668"/><path d="M481 854l-4 3 3-2 4-3z" color="#463480"/><path d="M432 865l-5 3 3 0 5-3z" color="#481a6c"/><path d="M390 869l-5 2 4 1 4-3z" color="#471063"/><path d="M445 863l-4 3 3 0 5-3z" color="#481d6f"/><path d="M496 839l-4 3 3-7 4-2z" color="#38588c"/><path d="M459 861l-4 3 3 0 5-2z" color="#482374"/><path d="M360 851l-5 4 4 1 4-3z" color="#453781"/><path d="M373 864l-5 2 3 4 5-3z" color="#481a6c"/><path d="M370 860l-5 3 3 3 5-2z" color="#482374"/><path d="M366 856l-4 3 3 4 5-3z" color="#472a7a"/><path d="M363 853l-4 3 3 3 4-3z" color="#46327e"/><path d="M407 868l-5 3 4 1 4-3z" color="#471365"/><path d="M376 867l-5 3 3 2 5-3z" color="#481467"/><path d="M421 867l-5 3 4 0 4-3z" color="#481769"/><path d="M393 869l-4 3 3 1 4-3z" color="#471063"/><path d="M435 865l-5 3 4 0 4-2z" color="#481b6d"/><path d="M449 863l-5 3 4 0 4-2z" color="#482071"/><path d="M473 858l-4 2 3-1 5-2z" color="#472e7c"/><path d="M379 869l-5 3 4 1 4-3z" color="#471164"/><path d="M463 862l-5 2 4 0 4-3z" color="#482576"/><path d="M410 869l-4 3 3 0 4-3z" color="#481467"/><path d="M396 870l-4 3 3 1 4-3z" color="#471164"/><path d="M424 867l-4 3 3 1 4-3z" color="#48186a"/><path d="M438 866l-4 2 3 1 4-3z" color="#481c6e"/><path d="M382 870l-4 3 3 2 4-4z" color="#471063"/><path d="M452 864l-4 2 3 1 4-3z" color="#482173"/><path d="M484 852l-4 3 3-7 4-3z" color="#414287"/><path d="M399 871l-4 3 3 0 4-3z" color="#471164"/><path d="M413 869l-4 3 3 1 4-3z" color="#481668"/><path d="M466 861l-4 3 3-1 4-3z" color="#482979"/><path d="M385 871l-4 4 3 0 5-3z" color="#471063"/><path d="M477 857l-5 2 4-1 4-3z" color="#463480"/><path d="M427 868l-4 3 3 0 4-3z" color="#481a6c"/><path d="M441 866l-4 3 3 0 4-3z" color="#481f70"/><path d="M492 842l-5 3 4-7 4-3z" color="#39568c"/><path d="M355 855l-4 3 3 2 5-4z" color="#453581"/><path d="M455 864l-4 3 3 0 4-3z" color="#482475"/><path d="M368 866l-4 3 3 4 4-3z" color="#481a6c"/><path d="M365 863l-5 3 4 3 4-3z" color="#482374"/><path d="M359 856l-5 4 3 2 5-3z" color="#46327e"/><path d="M362 859l-5 3 3 4 5-3z" color="#472a7a"/><path d="M402 871l-4 3 3 1 5-3z" color="#471365"/><path d="M371 870l-4 3 3 2 4-3z" color="#481467"/><path d="M499 833l-4 2 4-6 4-3z" color="#30698e"/><path d="M389 872l-5 3 3 1 5-3z" color="#471063"/><path d="M416 870l-4 3 3 0 5-3z" color="#481769"/><path d="M430 868l-4 3 3 0 5-3z" color="#481b6d"/><path d="M444 866l-4 3 3 0 5-3z" color="#482071"/><path d="M374 872l-4 3 3 1 5-3z" color="#471164"/><path d="M469 860l-4 3 3-1 4-3z" color="#472f7d"/><path d="M458 864l-4 3 3 0 5-3z" color="#482576"/><path d="M406 872l-5 3 3 0 5-3z" color="#481467"/><path d="M392 873l-5 3 3 1 5-3z" color="#471063"/><path d="M420 870l-5 3 3 1 5-3z" color="#48186a"/><path d="M378 873l-5 3 3 2 5-3z" color="#471063"/><path d="M434 868l-5 3 3 0 5-2z" color="#481d6f"/><path d="M448 866l-5 3 3 0 5-2z" color="#482374"/><path d="M480 855l-4 3 3-6 4-4z" color="#424186"/><path d="M395 874l-5 3 3 0 5-3z" color="#471164"/><path d="M409 872l-5 3 4 1 4-3z" color="#481668"/><path d="M462 864l-5 3 4-1 4-3z" color="#472a7a"/><path d="M381 875l-5 3 3 0 5-3z" color="#471063"/><path d="M423 871l-5 3 4 0 4-3z" color="#481a6c"/><path d="M351 858l-5 4 3 1 5-3z" color="#46337f"/><path d="M472 859l-4 3 3-1 5-3z" color="#453581"/><path d="M487 845l-4 3 4-6 4-4z" color="#39568c"/><path d="M437 869l-5 2 4 1 4-3z" color="#481f70"/><path d="M451 867l-5 2 4 1 4-3z" color="#482475"/><path d="M364 869l-5 4 3 3 5-3z" color="#481a6c"/><path d="M354 860l-5 3 3 2 5-3z" color="#46307e"/><path d="M360 866l-4 3 3 4 5-4z" color="#482173"/><path d="M357 862l-5 3 4 4 4-3z" color="#472a7a"/><path d="M398 874l-5 3 4 1 4-3z" color="#471365"/><path d="M367 873l-5 3 3 2 5-3z" color="#481467"/><path d="M495 835l-4 3 3-6 5-3z" color="#30698e"/><path d="M384 875l-5 3 4 1 4-3z" color="#471063"/><path d="M412 873l-4 3 3 0 4-3z" color="#481769"/><path d="M426 871l-4 3 3 0 4-3z" color="#481c6e"/><path d="M503 826l-4 3 3-7 4-3z" color="#297a8e"/><path d="M440 869l-4 3 3 0 4-3z" color="#482173"/><path d="M370 875l-5 3 3 1 5-3z" color="#471164"/><path d="M465 863l-4 3 3-1 4-3z" color="#472f7d"/><path d="M454 867l-4 3 3 0 4-3z" color="#482677"/><path d="M387 876l-4 3 3 1 4-3z" color="#471063"/><path d="M401 875l-4 3 3 0 4-3z" color="#481467"/><path d="M415 873l-4 3 3 1 4-3z" color="#48186a"/><path d="M373 876l-5 3 4 2 4-3z" color="#471063"/><path d="M429 871l-4 3 3 0 4-3z" color="#481d6f"/><path d="M443 869l-4 3 3 0 4-3z" color="#482374"/><path d="M476 858l-5 3 4-6 4-3z" color="#424186"/><path d="M346 862l-5 4 4 1 4-4z" color="#46307e"/><path d="M390 877l-4 3 3 1 4-4z" color="#471164"/><path d="M404 875l-4 3 3 1 5-3z" color="#481668"/><path d="M376 878l-4 3 3 1 4-4z" color="#470e61"/><path d="M457 867l-4 3 3-1 5-3z" color="#472a7a"/><path d="M418 874l-4 3 3 0 5-3z" color="#481a6c"/><path d="M483 848l-4 4 3-7 5-3z" color="#39558c"/><path d="M468 862l-4 3 3-1 4-3z" color="#453581"/><path d="M432 871l-4 3 3 1 5-3z" color="#481f70"/><path d="M349 863l-4 4 3 2 4-4z" color="#472f7d"/><path d="M356 869l-5 4 3 3 5-3z" color="#482173"/><path d="M359 873l-5 3 3 3 5-3z" color="#481a6c"/><path d="M352 865l-4 4 3 4 5-4z" color="#482979"/><path d="M446 869l-4 3 3 1 5-3z" color="#482576"/><path d="M393 877l-4 4 3 0 5-3z" color="#471164"/><path d="M362 876l-5 3 4 2 4-3z" color="#481467"/><path d="M491 838l-4 4 3-7 4-3z" color="#30698e"/><path d="M379 878l-4 4 3 0 5-3z" color="#471063"/><path d="M408 876l-5 3 3 0 5-3z" color="#481769"/><path d="M422 874l-5 3 3 0 5-3z" color="#481c6e"/><path d="M499 829l-5 3 4-7 4-3z" color="#297a8e"/><path d="M365 878l-4 3 3 2 4-4z" color="#471164"/><path d="M436 872l-5 3 3 0 5-3z" color="#482173"/><path d="M461 866l-5 3 4-1 4-3z" color="#46307e"/><path d="M450 870l-5 3 4 0 4-3z" color="#482677"/><path d="M383 879l-5 3 3 1 5-3z" color="#471063"/><path d="M397 878l-5 3 3 1 5-4z" color="#471365"/><path d="M506 819l-4 3 4-7 4-2z" color="#238a8d"/><path d="M411 876l-5 3 3 1 5-3z" color="#48186a"/><path d="M368 879l-4 4 3 1 5-3z" color="#470e61"/><path d="M425 874l-5 3 4 0 4-3z" color="#481d6f"/><path d="M341 866l-4 4 3 1 5-4z" color="#472e7c"/><path d="M471 861l-4 3 3-6 5-3z" color="#424186"/><path d="M439 872l-5 3 4 0 4-3z" color="#482374"/><path d="M386 880l-5 3 3 1 5-3z" color="#471063"/><path d="M372 881l-5 3 3 1 5-3z" color="#470e61"/><path d="M400 878l-5 4 3 0 5-3z" color="#481467"/><path d="M479 852l-4 3 3-7 4-3z" color="#3a548c"/><path d="M453 870l-4 3 3-1 4-3z" color="#472a7a"/><path d="M414 877l-5 3 4 0 4-3z" color="#481a6c"/><path d="M345 867l-5 4 3 2 5-4z" color="#472d7b"/><path d="M464 865l-4 3 3-1 4-3z" color="#453581"/><path d="M351 873l-5 3 4 4 4-4z" color="#481f70"/><path d="M428 874l-4 3 3 1 4-3z" color="#481f70"/><path d="M348 869l-5 4 3 3 5-3z" color="#482677"/><path d="M354 876l-4 4 3 2 4-3z" color="#48186a"/><path d="M442 872l-4 3 3 0 4-2z" color="#482576"/><path d="M357 879l-4 3 3 3 5-4z" color="#471365"/><path d="M389 881l-5 3 3 0 5-3z" color="#471164"/><path d="M487 842l-5 3 4-7 4-3z" color="#31688e"/><path d="M375 882l-5 3 3 1 5-4z" color="#470e61"/><path d="M403 879l-5 3 4 0 4-3z" color="#481769"/><path d="M417 877l-4 3 3 0 4-3z" color="#481b6d"/><path d="M361 881l-5 4 3 1 5-3z" color="#471063"/><path d="M494 832l-4 3 4-7 4-3z" color="#29798e"/><path d="M431 875l-4 3 3 0 4-3z" color="#482173"/><path d="M456 869l-4 3 3-1 5-3z" color="#46307e"/><path d="M378 882l-5 4 3 0 5-3z" color="#470e61"/><path d="M445 873l-4 2 3 1 5-3z" color="#482677"/><path d="M392 881l-5 3 4 1 4-3z" color="#471365"/><path d="M502 822l-4 3 3-7 5-3z" color="#238a8d"/><path d="M337 870l-5 5 3 0 5-4z" color="#472a7a"/><path d="M406 879l-4 3 3 1 4-3z" color="#48186a"/><path d="M364 883l-5 3 3 1 5-3z" color="#470e61"/><path d="M420 877l-4 3 3 1 5-4z" color="#481d6f"/><path d="M510 813l-4 2 3-6 4-3z" color="#1f9a8a"/><path d="M467 864l-4 3 3-5 4-4z" color="#424086"/><path d="M434 875l-4 3 3 0 5-3z" color="#482374"/><path d="M381 883l-5 3 4 1 4-3z" color="#471063"/><path d="M367 884l-5 3 3 1 5-3z" color="#470d60"/><path d="M340 871l-5 4 3 2 5-4z" color="#482979"/><path d="M395 882l-4 3 3 0 4-3z" color="#481467"/><path d="M475 855l-5 3 4-7 4-3z" color="#3a538b"/><path d="M409 880l-4 3 3 0 5-3z" color="#481a6c"/><path d="M449 873l-5 3 3-1 5-3z" color="#472a7a"/><path d="M343 873l-5 4 4 3 4-4z" color="#482576"/><path d="M346 876l-4 4 3 3 5-3z" color="#481d6f"/><path d="M460 868l-5 3 3-1 5-3z" color="#453581"/><path d="M350 880l-5 3 3 3 5-4z" color="#481769"/><path d="M424 877l-5 4 3 0 5-3z" color="#481f70"/><path d="M353 882l-5 4 3 2 5-3z" color="#471164"/><path d="M482 845l-4 3 4-7 4-3z" color="#31688e"/><path d="M384 884l-4 3 3 1 4-4z" color="#471063"/><path d="M438 875l-5 3 4 1 4-4z" color="#482576"/><path d="M370 885l-5 3 4 1 4-3z" color="#470d60"/><path d="M398 882l-4 3 3 1 5-4z" color="#481668"/><path d="M413 880l-5 3 3 0 5-3z" color="#481b6d"/><path d="M356 885l-5 3 3 1 5-3z" color="#470e61"/><path d="M490 835l-4 3 3-7 5-3z" color="#29798e"/><path d="M332 875l-5 5 3 0 5-5z" color="#482576"/><path d="M427 878l-5 3 4 0 4-3z" color="#482173"/><path d="M452 872l-5 3 4-1 4-3z" color="#472f7d"/><path d="M373 886l-4 3 3 1 4-4z" color="#470e61"/><path d="M387 884l-4 4 3 0 5-3z" color="#471164"/><path d="M441 875l-4 4 3 0 4-3z" color="#482677"/><path d="M498 825l-4 3 3-7 4-3z" color="#238a8d"/><path d="M359 886l-5 3 4 2 4-4z" color="#470d60"/><path d="M402 882l-5 4 3 0 5-3z" color="#481769"/><path d="M416 880l-5 3 4 1 4-3z" color="#481d6f"/><path d="M506 815l-5 3 4-6 4-3z" color="#1f9a8a"/><path d="M335 875l-5 5 4 1 4-4z" color="#482576"/><path d="M463 867l-5 3 4-4 4-4z" color="#424086"/><path d="M430 878l-4 3 3 0 4-3z" color="#482374"/><path d="M376 886l-4 4 3 1 5-4z" color="#470e61"/><path d="M362 887l-4 4 3 1 4-4z" color="#460b5e"/><path d="M391 885l-5 3 3 1 5-4z" color="#471365"/><path d="M470 858l-4 4 4-7 4-4z" color="#3b528b"/><path d="M513 806l-4 3 4-7 4-3z" color="#24aa83"/><path d="M338 877l-4 4 3 3 5-4z" color="#482173"/><path d="M342 880l-5 4 3 3 5-4z" color="#481b6d"/><path d="M405 883l-5 3 4 1 4-4z" color="#48186a"/><path d="M444 876l-4 3 3-1 4-3z" color="#472a7a"/><path d="M345 883l-5 4 3 3 5-4z" color="#481467"/><path d="M455 871l-4 3 3-1 4-3z" color="#453581"/><path d="M419 881l-4 3 3 0 4-3z" color="#481f70"/><path d="M348 886l-5 4 3 2 5-4z" color="#471063"/><path d="M478 848l-4 3 3-7 5-3z" color="#31678e"/><path d="M380 887l-5 4 3 0 5-3z" color="#471063"/><path d="M365 888l-4 4 3 1 5-4z" color="#460b5e"/><path d="M433 878l-4 3 3 1 5-3z" color="#482576"/><path d="M327 880l-4 5 3 0 4-5z" color="#482071"/><path d="M394 885l-5 4 3 0 5-3z" color="#481467"/><path d="M351 888l-5 4 4 1 4-4z" color="#470d60"/><path d="M408 883l-4 4 3 0 4-4z" color="#481b6d"/><path d="M486 838l-4 3 3-7 4-3z" color="#2a788e"/><path d="M422 881l-4 3 3 0 5-3z" color="#482071"/><path d="M369 889l-5 4 3 0 5-3z" color="#470d60"/><path d="M383 888l-5 3 3 1 5-4z" color="#471164"/><path d="M447 875l-4 3 3-1 5-3z" color="#472f7d"/><path d="M494 828l-5 3 4-6 4-4z" color="#23898e"/><path d="M437 879l-5 3 3 0 5-3z" color="#482677"/><path d="M354 889l-4 4 3 1 5-3z" color="#460b5e"/><path d="M330 880l-4 5 3 1 5-5z" color="#482173"/><path d="M397 886l-5 3 4 1 4-4z" color="#481769"/><path d="M411 883l-4 4 3 0 5-3z" color="#481c6e"/><path d="M458 870l-4 3 3-4 5-3z" color="#423f85"/><path d="M501 818l-4 3 4-6 4-3z" color="#1f9a8a"/><path d="M334 881l-5 5 3 2 5-4z" color="#481f70"/><path d="M372 890l-5 3 3 1 5-3z" color="#470d60"/><path d="M358 891l-5 3 3 1 5-3z" color="#460a5d"/><path d="M426 881l-5 3 3 1 5-4z" color="#482374"/><path d="M466 862l-4 4 3-7 5-4z" color="#3b518b"/><path d="M337 884l-5 4 3 3 5-4z" color="#48186a"/><path d="M386 888l-5 4 4 0 4-3z" color="#471365"/><path d="M509 809l-4 3 4-7 4-3z" color="#24aa83"/><path d="M340 887l-5 4 3 2 5-3z" color="#471365"/><path d="M400 886l-4 4 3 0 5-3z" color="#48186a"/><path d="M440 879l-5 3 4-1 4-3z" color="#472a7a"/><path d="M323 885l-5 5 3 0 5-5z" color="#481a6c"/><path d="M451 874l-5 3 4-1 4-3z" color="#453581"/><path d="M343 890l-5 3 4 3 4-4z" color="#470d60"/><path d="M415 884l-5 3 3 0 5-3z" color="#481f70"/><path d="M474 851l-4 4 3-7 4-4z" color="#32658e"/><path d="M375 891l-5 3 4 1 4-4z" color="#470e61"/><path d="M361 892l-5 3 3 1 5-3z" color="#460a5d"/><path d="M517 799l-4 3 3-8 5-3z" color="#3bbb75"/><path d="M429 881l-5 4 4 0 4-3z" color="#482475"/><path d="M389 889l-4 3 3 1 4-4z" color="#481467"/><path d="M346 892l-4 4 3 0 5-3z" color="#460b5e"/><path d="M404 887l-5 3 3 0 5-3z" color="#481a6c"/><path d="M482 841l-5 3 4-6 4-4z" color="#2a778e"/><path d="M326 885l-5 5 3 0 5-4z" color="#481b6d"/><path d="M364 893l-5 3 3 1 5-4z" color="#460b5e"/><path d="M418 884l-5 3 4 1 4-4z" color="#482071"/><path d="M378 891l-4 4 3 0 4-3z" color="#471063"/><path d="M443 878l-4 3 3-1 4-3z" color="#472f7d"/><path d="M350 893l-5 3 3 2 5-4z" color="#460a5d"/><path d="M489 831l-4 3 4-6 4-3z" color="#23888e"/><path d="M392 889l-4 4 3 0 5-3z" color="#481668"/><path d="M432 882l-4 3 3 0 4-3z" color="#482677"/><path d="M329 886l-5 4 3 3 5-5z" color="#481a6c"/><path d="M407 887l-5 3 3 1 5-4z" color="#481b6d"/><path d="M454 873l-4 3 3-3 4-4z" color="#433e85"/><path d="M497 821l-4 4 3-7 5-3z" color="#1f998a"/><path d="M332 888l-5 5 3 2 5-4z" color="#481668"/><path d="M318 890l-5 6 3-1 5-5z" color="#471164"/><path d="M367 893l-5 4 4 1 4-4z" color="#460b5e"/><path d="M462 866l-5 3 4-7 4-3z" color="#3c4f8a"/><path d="M353 894l-5 4 3 1 5-4z" color="#46085c"/><path d="M421 884l-4 4 3 0 4-3z" color="#482173"/><path d="M381 892l-4 3 3 1 5-4z" color="#471164"/><path d="M335 891l-5 4 4 2 4-4z" color="#471063"/><path d="M505 812l-4 3 3-7 5-3z" color="#24aa83"/><path d="M396 890l-5 3 3 0 5-3z" color="#481769"/><path d="M338 893l-4 4 3 2 5-3z" color="#460b5e"/><path d="M435 882l-4 3 3 0 5-4z" color="#482979"/><path d="M446 877l-4 3 3-1 5-3z" color="#463480"/><path d="M470 855l-5 4 4-7 4-4z" color="#32648e"/><path d="M410 887l-5 4 4 0 4-4z" color="#481d6f"/><path d="M356 895l-5 4 3 1 5-4z" color="#46085c"/><path d="M370 894l-4 4 3 0 5-3z" color="#470d60"/><path d="M513 802l-4 3 3-8 4-3z" color="#3bbb75"/><path d="M321 890l-5 5 3 1 5-6z" color="#481668"/><path d="M385 892l-5 4 3 0 5-3z" color="#471365"/><path d="M424 885l-4 3 3 0 5-3z" color="#482475"/><path d="M342 896l-5 3 3 1 5-4z" color="#460a5d"/><path d="M399 890l-5 3 4 1 4-4z" color="#48186a"/><path d="M477 844l-4 4 3-7 5-3z" color="#2a768e"/><path d="M359 896l-5 4 4 1 4-4z" color="#46085c"/><path d="M413 887l-4 4 3 0 5-3z" color="#481f70"/><path d="M374 895l-5 3 3 1 5-4z" color="#470d60"/><path d="M324 890l-5 6 3 1 5-4z" color="#481467"/><path d="M439 881l-5 4 3-1 5-4z" color="#472e7c"/><path d="M345 896l-5 4 3 2 5-4z" color="#46085c"/><path d="M521 791l-5 3 4-9 4-3z" color="#65cb5e"/><path d="M485 834l-4 4 3-7 5-3z" color="#24878e"/><path d="M388 893l-5 3 3 1 5-4z" color="#481467"/><path d="M428 885l-5 3 3 1 5-4z" color="#482576"/><path d="M327 893l-5 4 4 2 4-4z" color="#471164"/><path d="M402 890l-4 4 3 0 4-3z" color="#481b6d"/><path d="M450 876l-5 3 4-2 4-4z" color="#433d84"/><path d="M457 869l-4 4 3-7 5-4z" color="#3d4e8a"/><path d="M493 825l-4 3 3-7 4-3z" color="#1f988b"/><path d="M362 897l-4 4 3 1 5-4z" color="#460a5d"/><path d="M348 898l-5 4 4 1 4-4z" color="#46075a"/><path d="M330 895l-4 4 3 2 5-4z" color="#460b5e"/><path d="M377 895l-5 4 3 0 5-3z" color="#470e61"/><path d="M417 888l-5 3 3 0 5-3z" color="#482173"/><path d="M391 893l-5 4 4 0 4-4z" color="#481668"/><path d="M501 815l-5 3 4-7 4-3z" color="#23a983"/><path d="M334 897l-5 4 3 2 5-4z" color="#46085c"/><path d="M431 885l-5 4 4-1 4-3z" color="#482878"/><path d="M465 859l-4 3 3-7 5-3z" color="#33638d"/><path d="M442 880l-5 4 4-1 4-4z" color="#463480"/><path d="M351 899l-4 4 3 1 4-4z" color="#46075a"/><path d="M405 891l-4 3 3 0 5-3z" color="#481c6e"/><path d="M366 898l-5 4 3 0 5-4z" color="#460a5d"/><path d="M380 896l-5 3 4 1 4-4z" color="#471164"/><path d="M509 805l-5 3 4-8 4-3z" color="#3aba76"/><path d="M337 899l-5 4 3 1 5-4z" color="#46075a"/><path d="M420 888l-5 3 3 1 5-4z" color="#482374"/><path d="M394 893l-4 4 3 0 5-3z" color="#481769"/><path d="M473 848l-4 4 3-7 4-4z" color="#2b758e"/><path d="M354 900l-4 4 3 1 5-4z" color="#46075a"/><path d="M369 898l-5 4 3 1 5-4z" color="#460b5e"/><path d="M409 891l-5 3 3 1 5-4z" color="#481d6f"/><path d="M340 900l-5 4 3 2 5-4z" color="#450559"/><path d="M434 885l-4 3 3-1 4-3z" color="#472d7b"/><path d="M481 838l-5 3 4-6 4-4z" color="#24868e"/><path d="M516 794l-4 3 4-9 4-3z" color="#63cb5f"/><path d="M383 896l-4 4 3 0 4-3z" color="#471365"/><path d="M423 888l-5 4 4 0 4-3z" color="#482576"/><path d="M445 879l-4 4 3-2 5-4z" color="#443a83"/><path d="M398 894l-5 3 3 1 5-4z" color="#481a6c"/><path d="M453 873l-4 4 3-7 4-4z" color="#3e4c8a"/><path d="M358 901l-5 4 3 0 5-3z" color="#46075a"/><path d="M343 902l-5 4 4 1 5-4z" color="#450457"/><path d="M489 828l-5 3 4-7 4-3z" color="#1f988b"/><path d="M372 899l-5 4 4 0 4-4z" color="#470d60"/><path d="M412 891l-5 4 4 0 4-4z" color="#482071"/><path d="M386 897l-4 3 3 1 5-4z" color="#481467"/><path d="M524 782l-4 3 4-8 4-3z" color="#98d83e"/><path d="M496 818l-4 3 4-7 4-3z" color="#23a983"/><path d="M461 862l-5 4 4-7 4-4z" color="#34618d"/><path d="M426 889l-4 3 3 0 5-4z" color="#482878"/><path d="M347 903l-5 4 3 1 5-4z" color="#450457"/><path d="M361 902l-5 3 3 1 5-4z" color="#46085c"/><path d="M401 894l-5 4 3 0 5-4z" color="#481b6d"/><path d="M437 884l-4 3 3-1 5-3z" color="#46337f"/><path d="M375 899l-4 4 3 1 5-4z" color="#470e61"/><path d="M504 808l-4 3 4-8 4-3z" color="#38b977"/><path d="M415 891l-4 4 3 0 4-3z" color="#482173"/><path d="M469 852l-5 3 4-7 4-3z" color="#2c738e"/><path d="M390 897l-5 4 3 0 5-4z" color="#481668"/><path d="M350 904l-5 4 3 0 5-3z" color="#450457"/><path d="M364 902l-5 4 4 1 4-4z" color="#460a5d"/><path d="M404 894l-5 4 4 0 4-3z" color="#481c6e"/><path d="M430 888l-5 4 3-1 5-4z" color="#472c7a"/><path d="M476 841l-4 4 4-7 4-3z" color="#25858e"/><path d="M379 900l-5 4 3 0 5-4z" color="#471063"/><path d="M512 797l-4 3 4-8 4-4z" color="#60ca60"/><path d="M418 892l-4 3 3 1 5-4z" color="#482475"/><path d="M449 877l-5 4 3-7 5-4z" color="#3e4989"/><path d="M441 883l-5 3 4-1 4-4z" color="#443983"/><path d="M393 897l-5 4 4 0 4-3z" color="#481769"/><path d="M353 905l-5 3 3 1 5-4z" color="#450559"/><path d="M484 831l-4 4 3-7 5-4z" color="#1f978b"/><path d="M367 903l-4 4 3 0 5-4z" color="#460b5e"/><path d="M407 895l-4 3 3 1 5-4z" color="#481f70"/><path d="M382 900l-5 4 3 1 5-4z" color="#471164"/><path d="M520 785l-4 3 4-8 4-3z" color="#95d840"/><path d="M456 866l-4 4 3-7 5-4z" color="#355f8d"/><path d="M492 821l-4 3 3-6 5-4z" color="#22a884"/><path d="M422 892l-5 4 3 0 5-4z" color="#482677"/><path d="M356 905l-5 4 4 1 4-4z" color="#450559"/><path d="M396 898l-4 3 3 1 4-4z" color="#481a6c"/><path d="M433 887l-5 4 4-1 4-4z" color="#46327e"/><path d="M371 903l-5 4 3 1 5-4z" color="#470d60"/><path d="M500 811l-4 3 3-7 5-4z" color="#38b977"/><path d="M411 895l-5 4 3 0 5-4z" color="#482071"/><path d="M464 855l-4 4 3-7 5-4z" color="#2c728e"/><path d="M385 901l-5 4 4 0 4-4z" color="#481467"/><path d="M528 774l-4 3 4-9 4-3z" color="#cde11d"/><path d="M359 906l-4 4 3 1 5-4z" color="#46075a"/><path d="M399 898l-4 4 3 0 5-4z" color="#481b6d"/><path d="M472 845l-4 3 3-6 5-4z" color="#25848e"/><path d="M425 892l-5 4 4-1 4-4z" color="#472a7a"/><path d="M374 904l-5 4 3 0 5-4z" color="#470e61"/><path d="M508 800l-4 3 3-8 5-3z" color="#5ec962"/><path d="M444 881l-4 4 3-7 4-4z" color="#3f4788"/><path d="M414 895l-5 4 4 0 4-3z" color="#482374"/><path d="M436 886l-4 4 3-1 5-4z" color="#453882"/><path d="M388 901l-4 4 3 0 5-4z" color="#481668"/><path d="M480 835l-4 3 3-7 4-3z" color="#1f958b"/><path d="M363 907l-5 4 3 0 5-4z" color="#46085c"/><path d="M403 898l-5 4 3 0 5-3z" color="#481d6f"/><path d="M377 904l-5 4 4 0 4-3z" color="#471063"/><path d="M452 870l-5 4 4-7 4-4z" color="#365d8d"/><path d="M488 824l-5 4 4-7 4-3z" color="#22a785"/><path d="M516 788l-4 4 3-9 5-3z" color="#93d741"/><path d="M417 896l-4 3 3 1 4-4z" color="#482475"/><path d="M392 901l-5 4 3 1 5-4z" color="#481769"/><path d="M428 891l-4 4 3-2 5-3z" color="#46307e"/><path d="M366 907l-5 4 3 1 5-4z" color="#460a5d"/><path d="M496 814l-5 4 4-8 4-3z" color="#37b878"/><path d="M532 765l-4 3 3 0 4-2z" color="#eae51a"/><path d="M460 859l-5 4 4-7 4-4z" color="#2d718e"/><path d="M406 899l-5 3 4 1 4-4z" color="#481f70"/><path d="M380 905l-4 3 3 1 5-4z" color="#471164"/><path d="M524 777l-4 3 3-9 5-3z" color="#cde11d"/><path d="M395 902l-5 4 3 0 5-4z" color="#481a6c"/><path d="M369 908l-5 4 4 0 4-4z" color="#460b5e"/><path d="M468 848l-5 4 4-7 4-3z" color="#26828e"/><path d="M420 896l-4 4 3-2 5-3z" color="#482979"/><path d="M440 885l-5 4 3-7 5-4z" color="#404588"/><path d="M504 803l-5 4 4-9 4-3z" color="#5cc863"/><path d="M409 899l-4 4 3 0 5-4z" color="#482173"/><path d="M432 890l-5 3 3-1 5-3z" color="#453581"/><path d="M384 905l-5 4 3 0 5-4z" color="#481467"/><path d="M476 838l-5 4 4-7 4-4z" color="#1f948c"/><path d="M398 902l-5 4 4 0 4-4z" color="#481b6d"/><path d="M372 908l-4 4 3 0 5-4z" color="#470d60"/><path d="M447 874l-4 4 3-7 5-4z" color="#375b8d"/><path d="M483 828l-4 3 4-6 4-4z" color="#21a685"/><path d="M512 792l-5 3 4-9 4-3z" color="#90d743"/><path d="M413 899l-5 4 3 0 5-3z" color="#482374"/><path d="M387 905l-5 4 3 1 5-4z" color="#481668"/><path d="M424 895l-5 3 4-1 4-4z" color="#472e7c"/><path d="M455 863l-4 4 3-7 5-4z" color="#2e6f8e"/><path d="M491 818l-4 3 4-7 4-4z" color="#34b679"/><path d="M401 902l-4 4 3 1 5-4z" color="#481d6f"/><path d="M376 908l-5 4 3 1 5-4z" color="#470e61"/><path d="M528 768l-5 3 4-1 4-2z" color="#ece51b"/><path d="M520 780l-5 3 4-9 4-3z" color="#cae11f"/><path d="M390 906l-5 4 4 0 4-4z" color="#481769"/><path d="M463 852l-4 4 3-7 5-4z" color="#26828e"/><path d="M416 900l-5 3 4-1 4-4z" color="#482677"/><path d="M435 889l-5 3 4-5 4-5z" color="#414287"/><path d="M499 807l-4 3 4-8 4-4z" color="#5ac864"/><path d="M405 903l-5 4 3 0 5-4z" color="#481f70"/><path d="M379 909l-5 4 3 0 5-4z" color="#471164"/><path d="M427 893l-4 4 3-1 4-4z" color="#463480"/><path d="M471 842l-4 3 3-6 5-4z" color="#20928c"/><path d="M443 878l-5 4 4-7 4-4z" color="#38598c"/><path d="M393 906l-4 4 3 0 5-4z" color="#481a6c"/><path d="M479 831l-4 4 3-7 5-3z" color="#20a486"/><path d="M507 795l-4 3 4-8 4-4z" color="#8ed645"/><path d="M408 903l-5 4 4 0 4-4z" color="#482173"/><path d="M382 909l-5 4 4 1 4-4z" color="#471365"/><path d="M419 898l-4 4 3-1 5-4z" color="#472d7b"/><path d="M451 867l-5 4 4-7 4-4z" color="#2e6d8e"/><path d="M397 906l-5 4 3 1 5-4z" color="#481b6d"/><path d="M487 821l-4 4 3-7 5-4z" color="#32b67a"/><path d="M523 771l-4 3 4-2 4-2z" color="#ece51b"/><path d="M385 910l-4 4 3 0 5-4z" color="#481668"/><path d="M515 783l-4 3 4-9 4-3z" color="#c8e020"/><path d="M459 856l-5 4 4-7 4-4z" color="#27808e"/><path d="M430 892l-4 4 3-5 5-4z" color="#424086"/><path d="M411 903l-4 4 3-1 5-4z" color="#482576"/><path d="M495 810l-4 4 3-9 5-3z" color="#58c765"/><path d="M400 907l-5 4 4 0 4-4z" color="#481d6f"/><path d="M423 897l-5 4 3-1 5-4z" color="#46337f"/><path d="M467 845l-5 4 4-7 4-3z" color="#20928c"/><path d="M438 882l-4 5 3-8 5-4z" color="#39558c"/><path d="M389 910l-5 4 3 0 5-4z" color="#481769"/><path d="M475 835l-5 4 4-7 4-4z" color="#20a386"/><path d="M403 907l-4 4 3 0 5-4z" color="#481f70"/><path d="M503 798l-4 4 3-9 5-3z" color="#8bd646"/><path d="M415 902l-5 4 3-1 5-4z" color="#472a7a"/><path d="M446 871l-4 4 3-7 5-4z" color="#2f6b8e"/><path d="M392 910l-5 4 3 1 5-4z" color="#481a6c"/><path d="M483 825l-5 3 4-7 4-3z" color="#2fb47c"/><path d="M454 860l-4 4 3-7 5-4z" color="#277e8e"/><path d="M426 896l-5 4 4-5 4-4z" color="#433e85"/><path d="M511 786l-4 4 4-9 4-4z" color="#c5e021"/><path d="M407 907l-5 4 3-1 5-4z" color="#482374"/><path d="M519 774l-4 3 3-2 5-3z" color="#ece51b"/><path d="M491 814l-5 4 4-9 4-4z" color="#54c568"/><path d="M395 911l-5 4 4 0 5-4z" color="#481b6d"/><path d="M418 901l-5 4 4-1 4-4z" color="#46307e"/><path d="M462 849l-4 4 3-7 5-4z" color="#21908d"/><path d="M434 887l-5 4 4-7 4-5z" color="#3b528b"/><path d="M470 839l-4 3 3-6 5-4z" color="#1fa187"/><path d="M399 911l-5 4 3 0 5-4z" color="#481c6e"/><path d="M499 802l-5 3 4-8 4-4z" color="#89d548"/><path d="M410 906l-5 4 4-1 4-4z" color="#482878"/><path d="M442 875l-5 4 4-7 4-4z" color="#31688e"/><path d="M478 828l-4 4 3-7 5-4z" color="#2eb37c"/><path d="M450 864l-5 4 4-7 4-4z" color="#297b8e"/><path d="M421 900l-4 4 3-4 5-5z" color="#443a83"/><path d="M402 911l-5 4 3 0 5-5z" color="#482071"/><path d="M507 790l-5 3 4-9 5-3z" color="#c2df23"/><path d="M486 818l-4 3 3-8 5-4z" color="#50c46a"/><path d="M515 777l-4 4 3-4 4-2z" color="#ece51b"/><path d="M413 905l-4 4 3-1 5-4z" color="#472e7c"/><path d="M429 891l-4 4 3-7 5-4z" color="#3c4f8a"/><path d="M458 853l-5 4 4-7 4-4z" color="#218e8d"/><path d="M466 842l-5 4 4-6 4-4z" color="#1fa088"/><path d="M437 879l-4 5 3-7 5-5z" color="#32658e"/><path d="M405 910l-5 5 4-1 5-5z" color="#482576"/><path d="M494 805l-4 4 4-9 4-3z" color="#84d44b"/><path d="M474 832l-5 4 4-7 4-4z" color="#2cb17e"/><path d="M445 868l-4 4 3-6 5-5z" color="#29798e"/><path d="M417 904l-5 4 3-3 5-5z" color="#453882"/><path d="M502 793l-4 4 4-9 4-4z" color="#c0df25"/><path d="M425 895l-5 5 3-7 5-5z" color="#3e4c8a"/><path d="M482 821l-5 4 4-8 4-4z" color="#4ec36b"/><path d="M409 909l-5 5 3-2 5-4z" color="#472c7a"/><path d="M453 857l-4 4 3-6 5-5z" color="#228b8d"/><path d="M511 781l-5 3 4-5 4-2z" color="#ece51b"/><path d="M461 846l-4 4 3-6 5-4z" color="#1f9e89"/><path d="M433 884l-5 4 3-7 5-4z" color="#33638d"/><path d="M490 809l-5 4 4-9 5-4z" color="#7fd34e"/><path d="M469 836l-4 4 3-7 5-4z" color="#29af7f"/><path d="M441 872l-5 5 3-7 5-4z" color="#2a768e"/><path d="M412 908l-5 4 3-2 5-5z" color="#463480"/><path d="M420 900l-5 5 4-7 4-5z" color="#3f4889"/><path d="M498 797l-4 3 3-9 5-3z" color="#bade28"/><path d="M477 825l-4 4 3-8 5-4z" color="#4ac16d"/><path d="M449 861l-5 5 3-7 5-4z" color="#23898e"/><path d="M506 784l-4 4 3-6 5-3z" color="#ece51b"/><path d="M428 888l-5 5 4-7 4-5z" color="#34608d"/><path d="M457 850l-5 5 4-7 4-4z" color="#1e9c89"/><path d="M485 813l-4 4 4-9 4-4z" color="#7ad151"/><path d="M465 840l-5 4 4-7 4-4z" color="#27ad81"/><path d="M436 877l-5 4 4-7 4-4z" color="#2c738e"/><path d="M415 905l-5 5 4-7 5-5z" color="#404588"/><path d="M494 800l-5 4 4-9 4-4z" color="#b5de2b"/><path d="M473 829l-5 4 4-8 4-4z" color="#46c06f"/><path d="M444 866l-5 4 4-7 4-4z" color="#24868e"/><path d="M423 893l-4 5 3-7 5-5z" color="#365c8d"/><path d="M502 788l-5 3 4-6 4-3z" color="#eae51a"/><path d="M452 855l-5 4 4-7 5-4z" color="#1f998a"/><path d="M481 817l-5 4 4-9 5-4z" color="#75d054"/><path d="M460 844l-4 4 3-7 5-4z" color="#25ac82"/><path d="M431 881l-4 5 3-7 5-5z" color="#2d718e"/><path d="M489 804l-4 4 3-9 5-4z" color="#b0dd2f"/><path d="M439 870l-4 4 3-6 5-5z" color="#25848e"/><path d="M468 833l-4 4 3-8 5-4z" color="#40bd72"/><path d="M419 898l-5 5 3-8 5-4z" color="#38598c"/><path d="M447 859l-4 4 3-7 5-4z" color="#1f978b"/><path d="M497 791l-4 4 4-8 4-2z" color="#e7e419"/><path d="M476 821l-4 4 4-9 4-4z" color="#70cf57"/><path d="M427 886l-5 5 3-7 5-5z" color="#2e6e8e"/><path d="M456 848l-5 4 3-7 5-4z" color="#23a983"/><path d="M435 874l-5 5 3-7 5-4z" color="#26828e"/><path d="M485 808l-5 4 4-9 4-4z" color="#aadc32"/><path d="M464 837l-5 4 4-8 4-4z" color="#3dbc74"/><path d="M443 863l-5 5 4-7 4-5z" color="#1f948c"/><path d="M493 795l-5 4 4-9 5-3z" color="#e7e419"/><path d="M472 825l-5 4 4-9 5-4z" color="#69cd5b"/><path d="M422 891l-5 4 4-7 4-4z" color="#2f6b8e"/><path d="M451 852l-5 4 4-7 4-4z" color="#22a785"/><path d="M430 879l-5 5 4-7 4-5z" color="#277f8e"/><path d="M459 841l-5 4 4-8 5-4z" color="#38b977"/><path d="M480 812l-4 4 3-9 5-4z" color="#a5db36"/><path d="M438 868l-5 4 4-7 5-4z" color="#20928c"/><path d="M467 829l-4 4 3-9 5-4z" color="#65cb5e"/><path d="M488 799l-4 4 4-9 4-4z" color="#e2e418"/><path d="M446 856l-4 5 3-7 5-5z" color="#20a486"/><path d="M425 884l-4 4 3-6 5-5z" color="#297b8e"/><path d="M454 845l-4 4 3-7 5-5z" color="#34b679"/><path d="M476 816l-5 4 4-9 4-4z" color="#9dd93b"/><path d="M433 872l-4 5 3-7 5-5z" color="#218f8d"/><path d="M463 833l-5 4 4-8 4-5z" color="#5ec962"/><path d="M484 803l-5 4 4-9 5-4z" color="#dde318"/><path d="M442 861l-5 4 3-7 5-4z" color="#1fa187"/><path d="M450 849l-5 5 4-7 4-5z" color="#2fb47c"/><path d="M471 820l-5 4 4-9 5-4z" color="#98d83e"/><path d="M429 877l-5 5 3-7 5-5z" color="#228b8d"/><path d="M458 837l-5 5 4-9 5-4z" color="#58c765"/><path d="M479 807l-4 4 3-9 5-4z" color="#d5e21a"/><path d="M437 865l-5 5 4-7 4-5z" color="#1f9f88"/><path d="M445 854l-5 4 4-7 5-4z" color="#2cb17e"/><path d="M466 824l-4 5 3-9 5-5z" color="#90d743"/><path d="M453 842l-4 5 3-9 5-5z" color="#52c569"/><path d="M432 870l-5 5 4-7 5-5z" color="#1e9c89"/><path d="M475 811l-5 4 4-8 4-5z" color="#d0e11c"/><path d="M440 858l-4 5 3-7 5-5z" color="#28ae80"/><path d="M462 829l-5 4 4-9 4-4z" color="#89d548"/><path d="M449 847l-5 4 4-8 4-5z" color="#4cc26c"/><path d="M470 815l-5 5 4-9 5-4z" color="#c8e020"/><path d="M436 863l-5 5 3-7 5-5z" color="#25ac82"/><path d="M457 833l-5 5 4-9 5-5z" color="#81d34d"/><path d="M444 851l-5 5 4-9 5-4z" color="#44bf70"/><path d="M465 820l-4 4 3-9 5-4z" color="#c0df25"/><path d="M452 838l-4 5 3-9 5-5z" color="#77d153"/><path d="M439 856l-5 5 4-9 5-5z" color="#3fbc73"/><path d="M461 824l-5 5 4-9 4-5z" color="#b8de29"/><path d="M448 843l-5 4 3-8 5-5z" color="#70cf57"/><path d="M456 829l-5 5 4-9 5-5z" color="#addc30"/><path d="M443 847l-5 5 4-8 4-5z" color="#67cc5c"/><path d="M451 834l-5 5 4-9 5-5z" color="#a5db36"/><path d="M446 839l-4 5 3-9 5-5z" color="#9bd93c"/></g><g id="Path3DCollection_23"><g clip-path="url(#pc0d22d3f73)"><circle cx="255.6" cy="460.4" r="3.4" style="fill: #ff0000"/></g></g><g id="Path3DCollection_24"><g clip-path="url(#pc0d22d3f73)"><circle cx="208.1" cy="409.2" r="1.4" style="fill: #25848e; fill-opacity: 0.75"/></g></g><g id="Path3DCollection_25"><g clip-path="url(#pc0d22d3f73)"><circle cx="230.4" cy="410.8" r="1.4" style="fill: #2e6f8e; fill-opacity: 0.75"/></g></g><g id="Path3DCollection_26"><g clip-path="url(#pc0d22d3f73)"><circle cx="211.1" cy="425.3" r="1.4" style="fill: #25848e; fill-opacity: 0.75"/></g></g><g id="Path3DCollection_27"><g clip-path="url(#pc0d22d3f73)"><circle cx="204.3" cy="433.8" r="1.4" style="fill: #414487; fill-opacity: 0.75"/></g></g><g id="Path3DCollection_28"><g clip-path="url(#pc0d22d3f73)"><circle cx="181.8" cy="442" r="1.4" style="fill: #46307e; fill-opacity: 0.75"/></g></g><g id="Path3DCollection_29"><g clip-path="url(#pc0d22d3f73)"><circle cx="246.7" cy="430.4" r="1.4" style="fill: #424086; fill-opacity: 0.75"/></g></g><g id="Path3DCollection_30"><g clip-path="url(#pc0d22d3f73)"><circle cx="216" cy="460.5" r="1.4" style="fill: #482173; fill-opacity: 0.75"/></g></g><g id="Path3DCollection_31"><g clip-path="url(#pc0d22d3f73)"><circle cx="243.8" cy="436.8" r="1.4" style="fill: #3c4f8a; fill-opacity: 0.75"/></g></g><g id="Path3DCollection_32"><g clip-path="url(#pc0d22d3f73)"><circle cx="204" cy="466.6" r="1.4" style="fill: #460b5e; fill-opacity: 0.75"/></g></g><g id="text_110"><text style="font-size: 12px; font-family: 'DejaVu Sans'; text-anchor: start" x="136" y="349.5" transform="rotate(-0 136 349.5)">(g)</text></g></g><g id="patch_30"><path d="M 318.1 484.5 L 474.4 484.5 L 474.4 355.5 L 318.1 355.5 z" style="fill: #ffffff"/></g><g id="pane3d_22"><g id="patch_31"><path d="M 354.3 454.6 L 442.4 454.6 L 442.4 381.9 L 354.3 381.9" style="fill: #f2f2f2; opacity: 0.5; stroke: #f2f2f2; stroke-linejoin: miter"/></g></g><g id="pane3d_23"><g id="patch_32"><path d="M 354.3 454.6 L 349.2 458.9 L 349.2 377.7 L 354.3 381.9" style="fill: #e6e6e6; opacity: 0.5; stroke: #e6e6e6; stroke-linejoin: miter"/></g></g><g id="pane3d_24"><g id="patch_33"><path d="M 354.3 454.6 L 349.2 458.9 L 447.6 458.9 L 442.4 454.6" style="fill: #ececec; opacity: 0.5; stroke: #ececec; stroke-linejoin: miter"/></g></g><g id="grid3d_22"/><g id="grid3d_23"><g id="Line3DCollection_18"><path d="M 359.2 381.9 L 359.2 454.6 L 354.6 458.9" style="fill: none; stroke: #b0b0b0; stroke-width: 0.8"/><path d="M 374.9 381.9 L 374.9 454.6 L 372.1 458.9" style="fill: none; stroke: #b0b0b0; stroke-width: 0.8"/><path d="M 390.5 381.9 L 390.5 454.6 L 389.6 458.9" style="fill: none; stroke: #b0b0b0; stroke-width: 0.8"/><path d="M 406.2 381.9 L 406.2 454.6 L 407.1 458.9" style="fill: none; stroke: #b0b0b0; stroke-width: 0.8"/><path d="M 421.9 381.9 L 421.9 454.6 L 424.6 458.9" style="fill: none; stroke: #b0b0b0; stroke-width: 0.8"/><path d="M 437.5 381.9 L 437.5 454.6 L 442.1 458.9" style="fill: none; stroke: #b0b0b0; stroke-width: 0.8"/></g></g><g id="grid3d_24"><g id="Line3DCollection_19"><path d="M 349.2 457.2 L 354.3 453.2 L 442.4 453.2" style="fill: none; stroke: #b0b0b0; stroke-width: 0.8"/><path d="M 349.2 441.6 L 354.3 439.2 L 442.4 439.2" style="fill: none; stroke: #b0b0b0; stroke-width: 0.8"/><path d="M 349.2 426.1 L 354.3 425.2 L 442.4 425.2" style="fill: none; stroke: #b0b0b0; stroke-width: 0.8"/><path d="M 349.2 410.5 L 354.3 411.3 L 442.4 411.3" style="fill: none; stroke: #b0b0b0; stroke-width: 0.8"/><path d="M 349.2 394.9 L 354.3 397.3 L 442.4 397.3" style="fill: none; stroke: #b0b0b0; stroke-width: 0.8"/><path d="M 349.2 379.3 L 354.3 383.4 L 442.4 383.4" style="fill: none; stroke: #b0b0b0; stroke-width: 0.8"/></g></g><g id="axis3d_22"><g id="line2d_108"><path d="M 442.4 454.6 L 447.6 458.9" style="fill: none; stroke: #000000; stroke-width: 0.8; stroke-linecap: square"/></g></g><g id="axis3d_23"><g id="line2d_109"><path d="M 349.2 458.9 L 447.6 458.9" style="fill: none; stroke: #000000; stroke-width: 0.8; stroke-linecap: square"/></g><g id="xtick_87"><g id="line2d_110"><path d="M 354.7 458.8 L 354.6 458.9" style="fill: none; stroke: #000000; stroke-width: 0.8; stroke-linecap: square"/></g><g id="text_111" transform="translate(-0.3 -10)"><text style="font-size: 10px; font-family: 'DejaVu Sans'" transform="translate(346 487.3) rotate(-24)">-2.0</text></g></g><g id="xtick_88"><g id="line2d_111"><path d="M 372.2 458.8 L 372.1 458.9" style="fill: none; stroke: #000000; stroke-width: 0.8; stroke-linecap: square"/></g><g id="text_112" transform="translate(-0.3 -10)"><text style="font-size: 10px; font-family: 'DejaVu Sans'" transform="translate(365.5 485.8) rotate(-24)">3.0</text></g></g><g id="xtick_89"><g id="line2d_112"><path d="M 389.6 458.8 L 389.6 458.9" style="fill: none; stroke: #000000; stroke-width: 0.8; stroke-linecap: square"/></g><g id="text_113" transform="translate(-0.3 -10)"><text style="font-size: 10px; font-family: 'DejaVu Sans'" transform="translate(383.3 485.8) rotate(-24)">8.0</text></g></g><g id="xtick_90"><g id="line2d_113"><path d="M 407.1 458.8 L 407.1 458.9" style="fill: none; stroke: #000000; stroke-width: 0.8; stroke-linecap: square"/></g><g id="text_114" transform="translate(-0.3 -10)"><text style="font-size: 10px; font-family: 'DejaVu Sans'" transform="translate(398.2 488.4) rotate(-24)">13.0</text></g></g><g id="xtick_91"><g id="line2d_114"><path d="M 424.6 458.8 L 424.6 458.9" style="fill: none; stroke: #000000; stroke-width: 0.8; stroke-linecap: square"/></g><g id="text_115" transform="translate(-0.3 -10)"><text style="font-size: 10px; font-family: 'DejaVu Sans'" transform="translate(416 488.4) rotate(-24)">18.0</text></g></g><g id="xtick_92"><g id="line2d_115"><path d="M 442.1 458.8 L 442.2 458.9" style="fill: none; stroke: #000000; stroke-width: 0.8; stroke-linecap: square"/></g><g id="text_116" transform="translate(-0.3 -10)"><text style="font-size: 10px; font-family: 'DejaVu Sans'" transform="translate(433.8 488.4) rotate(-24)">23.0</text></g></g><g id="text_117" transform="translate(0.8 0.6)"><text style="font-size: 10px; font-family: 'DejaVu Sans'; text-anchor: middle" x="398.4" y="492.2" transform="rotate(-0 398.4 492.2)">Y (Å)</text></g></g><g id="axis3d_24"><g id="line2d_116"><path d="M 349.2 458.9 L 349.2 377.7" style="fill: none; stroke: #000000; stroke-width: 0.8; stroke-linecap: square"/></g><g id="xtick_93"><g id="line2d_117"><path d="M 349.2 457.2 L 349.1 457.3" style="fill: none; stroke: #000000; stroke-width: 0.8; stroke-linecap: square"/></g><g id="text_118" transform="translate(1.9 -0.6)"><text style="font-size: 10px; font-family: 'DejaVu Sans'; text-anchor: middle" x="332.8" y="465.5" transform="rotate(-0 332.8 465.5)">0.0</text></g></g><g id="xtick_94"><g id="line2d_118"><path d="M 349.2 441.6 L 349.1 441.7" style="fill: none; stroke: #000000; stroke-width: 0.8; stroke-linecap: square"/></g><g id="text_119" transform="translate(1.9 -0.6)"><text style="font-size: 10px; font-family: 'DejaVu Sans'; text-anchor: middle" x="332.8" y="449.7" transform="rotate(-0 332.8 449.7)">0.2</text></g></g><g id="xtick_95"><g id="line2d_119"><path d="M 349.2 426 L 349.1 426.1" style="fill: none; stroke: #000000; stroke-width: 0.8; stroke-linecap: square"/></g><g id="text_120" transform="translate(1.9 -0.6)"><text style="font-size: 10px; font-family: 'DejaVu Sans'; text-anchor: middle" x="332.8" y="433.8" transform="rotate(-0 332.8 433.8)">0.4</text></g></g><g id="xtick_96"><g id="line2d_120"><path d="M 349.2 410.5 L 349.1 410.4" style="fill: none; stroke: #000000; stroke-width: 0.8; stroke-linecap: square"/></g><g id="text_121" transform="translate(1.9 -0.6)"><text style="font-size: 10px; font-family: 'DejaVu Sans'; text-anchor: middle" x="332.8" y="417.9" transform="rotate(-0 332.8 417.9)">0.6</text></g></g><g id="xtick_97"><g id="line2d_121"><path d="M 349.2 394.9 L 349.1 394.8" style="fill: none; stroke: #000000; stroke-width: 0.8; stroke-linecap: square"/></g><g id="text_122" transform="translate(1.9 -0.6)"><text style="font-size: 10px; font-family: 'DejaVu Sans'; text-anchor: middle" x="332.8" y="402" transform="rotate(-0 332.8 402)">0.8</text></g></g><g id="xtick_98"><g id="line2d_122"><path d="M 349.2 379.3 L 349.1 379.2" style="fill: none; stroke: #000000; stroke-width: 0.8; stroke-linecap: square"/></g><g id="text_123" transform="translate(1.9 -0.6)"><text style="font-size: 10px; font-family: 'DejaVu Sans'; text-anchor: middle" x="332.8" y="386.2" transform="rotate(-0 332.8 386.2)">1.0</text></g></g><g id="text_124" transform="translate(-0.5 4.8)"><g transform="translate(315.5 437.7) rotate(-90)"><text><tspan x="0" y="-0.4" style="font-size: 10px; font-family: 'DejaVu Sans'">I</tspan><tspan x="16.6" y="-0.4" style="font-size: 10px; font-family: 'DejaVu Sans'"></tspan><tspan x="19.8" y="-0.4" style="font-size: 10px; font-family: 'DejaVu Sans'">(</tspan><tspan x="23.7" y="-0.4" style="font-size: 10px; font-family: 'DejaVu Sans'">E</tspan><tspan x="34.8" y="-0.4" style="font-size: 10px; font-family: 'DejaVu Sans'">)</tspan><tspan x="3" y="1.2" style="font-style: oblique; font-size: 7px; font-family: 'DejaVu Sans'">E</tspan><tspan x="7.5" y="1.2" style="font-style: oblique; font-size: 7px; font-family: 'DejaVu Sans'">K</tspan><tspan x="12.1" y="1.2" style="font-style: oblique; font-size: 7px; font-family: 'DejaVu Sans'">T</tspan><tspan x="30.1" y="1.2" style="font-style: oblique; font-size: 7px; font-family: 'DejaVu Sans'">h</tspan></text></g></g></g><g id="axes_8"><g id="surf_2_1" transform="scale(0.5)" fill="currentColor" stroke="currentColor" stroke-width="2.0"><path d="M712 887l-1-2 3 2 1 2zM791 888l0-1 3 0 0 0zM794 887l0 0 3-1 0 1zM797 887l0-1 3 0 0 0zM714 887l0-2 3 2 0 2zM788 888l0 0 3-1 0 0zM791 887l0 0 3-1 0 1zM794 887l0-1 3 0 0 0zM717 887l0-2 3 3 0 1zM785 888l0 0 3-1 0 1zM788 888l0-1 3 0 0 0zM791 887l0 0 3-1 0 0zM782 888l0 0 3 0 0 0zM785 888l0 0 3-1 0 0zM788 887l0 0 3-1 0 1zM720 887l-1-1 3 2 1 1zM778 889l0 0 3-1 1 0zM782 888l-1 0 4-1 0 1zM785 888l0-1 3 0 0 0zM722 888l0-1 3 3 0 0zM775 889l0 0 3-1 0 1zM778 889l0-1 3 0 0 0zM781 888l0 0 4-1 0 0zM785 887l0 0 3 0 0 0zM722 887l0 0 3 2 0 1zM775 889l0 0 3-1 0 0zM778 888l0 0 3 0 0 0zM781 888l0 0 3-1 1 0zM722 887l-1-1 4 3 0 0zM775 889l0 0-3 0 0 0zM778 888l0 0-3 1 0 0zM781 888l0 0-3 0 0 0zM784 887l0 0-3 1 0 0zM775 889l0 0-3 1 0-1zM778 888l0 0-3 1 0 0zM781 888l0 0-3 0 0 0zM784 887l0 0-3 1 0 0zM727 891l0 0-3-3 0 0zM775 889l0 0-3 1 0 0zM778 888l0 1-3 0 0 0zM781 888l0 0-3 1 0-1zM727 891l0 0-3-3 0 0zM775 889l0 0-4 1 1 0zM778 889l0 0-3 0 0 0zM781 888l0 0-3 1 0 0zM727 891l0 0-4-3 1 0zM775 889l0 1-4 0 0 0zM778 889l0 0-3 1 0-1zM781 888l0 1-3 0 0 0zM727 891l-1 0-3-3 0 0zM775 890l-1 0-3 1 0-1zM778 889l0 1-4 0 1 0zM781 889l0 0-3 1 0-1zM784 888l0 0-3 1 0 0zM726 891l0 0-3-2 0-1zM774 890l0 0-3 1 0 0zM778 890l0 0-4 0 0 0zM781 889l0 0-3 1 0 0zM784 888l0 1-3 0 0 0zM726 891l0 0-4-2 1 0zM778 890l0 0-4 1 0-1zM781 889l0 1-3 0 0 0zM784 889l0 0-3 1 0-1zM726 891l-1 1-3-2 0-1zM778 890l-1 1-3 1 0-1zM781 890l0 0-4 1 1-1zM784 889l0 1-3 0 0 0zM787 889l0 0-3 1 0-1zM725 892l0 0-3-2 0 0zM781 890l0 1-4 1 0-1zM784 890l0 0-3 1 0-1zM787 889l0 1-3 0 0 0zM722 890l-1 1-3-2 0-1zM784 890l0 1-3 1 0-1zM787 890l0 1-3 0 0-1zM790 889l0 1-3 1 0-1zM721 891l0 1-3-2 0-1zM787 891l0 0-3 1 0-1zM790 890l0 1-3 0 0 0zM794 889l0 1-4 1 0-1zM721 892l0 1-4-2 1-1zM787 891l0 1-3 1 0-1zM790 891l0 1-3 0 0-1zM794 890l0 1-4 1 0-1zM797 890l0 0-3 1 0-1zM717 891l0 2-3-2 0-2zM794 891l0 1-4 1 0-1zM797 890l0 1-3 1 0-1zM800 890l0 1-3 0 0-1zM707 891l0 2-4 2 1-3zM710 890l0 3-3 0 0-2zM714 891l-1 2-3 0 0-3zM717 893l0 1-4-1 1-2zM797 891l0 1-3 1 0-1zM800 891l0 1-3 0 0-1zM804 890l0 1-4 1 0-1zM800 892l0 1-3 0 0-1zM804 891l0 1-4 1 0-1zM807 890l0 2-3 0 0-1z" color="#48186a"/><path d="M715 889l-1-2 3 2 1 2zM779 890l0 0 3-1 0 0zM782 889l0 0 3-1 0 1zM785 889l0-1 3 0 0 0zM788 888l0 0 3-1 0 1zM717 889l0-2 3 2 1 2zM776 890l0 0 3-1 0 1zM779 890l0-1 3 0 0 0zM782 889l0 0 3-1 0 0zM785 888l0 0 3 0 0 0zM720 889l0-1 3 2 0 1zM772 890l0 0 3 0 1 0zM776 890l-1 0 3-1 1 0zM779 889l-1 0 4-1 0 1zM782 889l0-1 3 0 0 0zM720 888l0-1 3 2 0 1zM769 890l0 0 3 0 0 0zM772 890l0 0 3-1 0 1zM775 890l0-1 3 0 0 0zM778 889l0 0 4-1 0 0zM723 889l-1-1 3 2 1 1zM766 891l0-1 3 0 0 0zM769 890l0 0 3 0 0 0zM772 890l0 0 3-1 0 0zM775 889l0 0 3 0 0 0zM725 890l0 0 3 1 1 1zM763 891l0 0 3-1 0 0zM766 890l0 0 3 0 0 0zM769 890l0 0 3 0 0 0zM772 890l0 0 3-1 0 0zM725 890l0-1 3 2 0 0zM760 891l-1 0 4 0 0 0zM763 891l0 0 3-1 0 0zM766 890l0 0 3 0 0 0zM769 890l0 0 3-1 0 1zM772 890l0-1 3 0 0 0zM725 889l0 0 3 2 0 0zM728 891l0 0 3 0 0 1zM759 891l0 0 3 0 1 0zM763 891l-1 0 4-1 0 0zM766 890l0 0 3 0 0 0zM769 890l0 0 3-1 0 0zM728 891l-1 0-3-3 1 1zM728 891l-1 0 4 0 0 0zM759 891l0 0-3 1 0 0zM762 891l0 0-3 0 0 0zM766 890l-1 0-3 1 0 0zM769 890l0 0-4 0 1 0zM772 889l0 1-3 0 0 0zM731 891l-1 0-3 0 0 0zM734 892l-1 0-3-1 1 0zM759 891l0 0-3 1 0 0zM762 891l0 0-3 0 0 0zM765 890l0 1-3 0 0 0zM769 890l-1 0-3 1 0-1zM772 890l0 0-4 0 1 0zM730 891l0 0-3 0 0 0zM733 892l0 0-3-1 0 0zM759 891l0 1-3 0 0 0zM762 891l0 0-3 1 0-1zM765 891l0 0-3 0 0 0zM768 890l0 0-3 1 0 0zM772 890l-1 0-3 0 0 0zM730 891l0 1-3-1 0 0zM733 892l0 0-3 0 0-1zM759 892l0 0-4 0 1 0zM762 891l0 1-3 0 0 0zM765 891l0 0-3 1 0-1zM768 890l0 1-3 0 0 0zM771 890l0 0-3 1 0-1zM730 892l-1 0-3-1 1 0zM733 892l0 1-4-1 1 0zM759 892l-1 0-3 1 0-1zM762 892l0 0-4 0 1 0zM765 891l0 0-3 1 0 0zM768 891l0 0-3 0 0 0zM771 890l0 1-3 0 0 0zM729 892l0 0-3-1 0 0zM733 893l-1 0-3-1 0 0zM762 892l-1 0-3 1 0-1zM765 891l0 1-4 0 1 0zM768 891l0 0-3 1 0-1zM771 891l0 0-3 0 0 0zM729 892l0 1-3-2 0 0zM732 893l0 0-3 0 0-1zM761 892l0 1-3 0 0 0zM765 892l0 0-4 1 0-1zM768 891l0 1-3 0 0 0zM771 891l0 0-3 1 0-1zM774 890l0 1-3 0 0 0zM729 893l0 0-4-1 1-1zM765 892l-1 1-3 0 0 0zM768 892l0 0-4 1 1-1zM771 891l0 1-3 0 0 0zM774 891l0 1-3 0 0-1zM729 893l-1 1-3-2 0 0zM764 893l0 1-3 0 0-1zM768 892l0 1-4 1 0-1zM771 892l0 1-3 0 0-1zM774 892l0 0-3 1 0-1zM777 891l0 1-3 0 0 0zM725 892l0 1-4-2 1-1zM728 894l0 1-3-2 0-1zM768 893l-1 1-3 0 0 0zM771 893l0 0-4 1 1-1zM774 892l0 1-3 0 0 0zM777 892l0 0-3 1 0-1zM781 891l0 1-4 0 0 0zM725 893l-1 1-3-2 0-1zM774 893l0 1-3 0 0-1zM777 892l0 1-3 1 0-1zM781 892l-1 1-3 0 0-1zM784 891l0 1-4 1 1-1zM724 894l0 1-3-2 0-1zM777 893l0 1-3 1 0-1zM780 893l0 0-3 1 0-1zM784 892l0 1-4 0 0 0zM721 893l-1 2-3-2 0-2zM780 893l0 1-3 1 0-1zM784 893l0 1-4 0 0-1zM787 892l0 1-3 1 0-1zM790 892l0 1-3 0 0-1zM720 895l0 1-3-2 0-1zM784 894l0 1-4 0 0-1zM787 893l0 1-3 1 0-1zM790 893l0 1-3 0 0-1zM794 892l0 1-4 1 0-1zM710 893l0 2-4 1 1-3zM713 893l0 2-3 0 0-2zM717 894l-1 2-3-1 0-2zM790 894l0 1-3 0 0-1zM794 893l0 1-4 1 0-1zM797 892l0 1-3 1 0-1z" color="#471365"/><path d="M718 891l-1-2 4 2 0 1zM767 892l-1 0 3-1 1 1zM770 892l-1-1 4 0 0 0zM773 891l0 0 3-1 0 1zM776 891l0-1 3 0 0 0zM721 891l-1-2 3 2 1 2zM763 892l0 0 3-1 0 1zM766 892l0-1 3 0 0 0zM769 891l0 0 3-1 1 1zM773 891l-1-1 4 0 0 0zM723 891l0-1 3 2 0 1zM760 892l0 0 3-1 0 1zM763 892l0-1 3 0 0 0zM766 891l0 0 3-1 0 1zM769 891l0-1 3 0 0 0zM723 890l0-1 3 2 0 1zM726 892l0-1 3 1 0 1zM754 893l0-1 3 0 0 0zM757 892l0 0 3 0 0 0zM760 892l0 0 3-1 0 0zM763 891l0 0 3 0 0 0zM766 891l0 0 3-1 0 0zM726 891l-1-1 4 2 0 0zM729 892l0 0 3 0 0 1zM751 893l-1-1 3 0 1 0zM754 892l-1 0 4 0 0 0zM757 892l0 0 3-1 0 1zM760 892l0-1 3 0 0 0zM763 891l0 0 3-1 0 1zM729 892l-1-1 3 1 1 0zM732 892l-1 0 4 0 0 1zM735 893l0-1 3 1 0 0zM741 893l0 0 3 0 0 0zM744 893l0 0 3-1 0 1zM747 893l0-1 3 0 0 0zM750 892l0 0 3 0 0 0zM753 892l0 0 3 0 1 0zM757 892l-1 0 4-1 0 0zM760 891l0 0 3 0 0 0zM728 891l0 0 3 1 0 0zM731 892l0 0 3 0 1 0zM735 892l-1 0 3 1 1 0zM738 893l-1 0 4 0 0 0zM741 893l0 0 3-1 0 1zM744 893l0-1 3 0 0 0zM747 892l0 0 3 0 0 0zM750 892l0 0 3 0 0 0zM753 892l0 0 3 0 0 0zM756 892l0 0 3-1 1 0zM731 892l0-1 3 1 0 0zM734 892l0 0 3 1 0 0zM737 893l0 0 3 0 1 0zM741 893l-1 0 3-1 1 0zM744 892l-1 0 4 0 0 0zM747 892l0 0 3 0 0 0zM750 892l0 0 3 0 0 0zM753 892l0 0 3 0 0 0zM756 892l0 0 3-1 0 0zM734 892l0 0-3-1 0 0zM737 893l0 0-3-1 0 0zM740 893l0 0-3 0 0 0zM743 892l0 1-3 0 0 0zM747 892l-1 0-3 1 0-1zM750 892l0 0-4 0 1 0zM753 892l0 0-3 0 0 0zM756 892l0 0-3 0 0 0zM737 893l0 0-4-1 1 0zM740 893l0 0-3 0 0 0zM743 893l0 0-3 0 0 0zM746 892l0 1-3 0 0 0zM750 892l-1 0-3 1 0-1zM753 892l0 0-4 0 1 0zM756 892l0 0-3 0 0 0zM737 893l-1 0-3-1 0 0zM740 893l0 0-4 0 1 0zM743 893l0 0-3 0 0 0zM746 893l0 0-3 0 0 0zM749 892l0 1-3 0 0 0zM753 892l-1 0-3 1 0-1zM756 892l0 0-4 0 1 0zM736 893l0 0-3-1 0 0zM740 893l-1 0-3 0 0 0zM743 893l0 0-4 0 1 0zM746 893l0 0-3 0 0 0zM749 893l0 0-3 0 0 0zM752 892l0 1-3 0 0 0zM756 892l-1 0-3 1 0-1zM736 893l0 0-3 0 0-1zM739 893l0 1-3-1 0 0zM743 893l-1 0-3 1 0-1zM746 893l0 0-4 0 1 0zM749 893l0 0-3 0 0 0zM752 893l0 0-3 0 0 0zM755 892l0 1-3 0 0 0zM736 893l0 1-4-1 1 0zM739 894l0 0-3 0 0-1zM742 893l0 1-3 0 0 0zM746 893l-1 1-3 0 0-1zM749 893l0 1-4 0 1-1zM752 893l0 0-3 1 0-1zM755 893l0 0-3 0 0 0zM758 892l0 1-3 0 0 0zM736 894l-1 0-3-1 0 0zM739 894l0 0-4 0 1 0zM742 894l0 0-3 0 0 0zM745 894l0 0-3 0 0 0zM749 894l-1 0-3 0 0 0zM752 893l0 1-4 0 1 0zM755 893l0 1-3 0 0-1zM758 893l0 0-3 1 0-1zM732 893l0 1-3-1 0 0zM735 894l0 0-3 0 0-1zM739 894l-1 1-3-1 0 0zM742 894l0 1-4 0 1-1zM745 894l0 1-3 0 0-1zM748 894l0 1-3 0 0-1zM752 894l-1 0-3 1 0-1zM755 894l0 0-4 0 1 0zM758 893l0 1-3 0 0 0zM761 893l0 0-3 1 0-1zM732 894l-1 0-3 0 1-1zM735 894l0 1-4-1 1 0zM738 895l0 1-3-1 0-1zM742 895l-1 0-3 1 0-1zM745 895l0 0-4 0 1 0zM748 895l0 0-3 0 0 0zM751 894l0 1-3 0 0 0zM755 894l-1 1-3 0 0-1zM758 894l0 0-4 1 1-1zM761 893l0 1-3 0 0 0zM731 894l0 1-3 0 0-1zM735 895l-1 1-3-1 0-1zM738 896l0 0-4 0 1-1zM745 895l-1 1-3 0 0-1zM748 895l0 1-4 0 1-1zM751 895l0 1-3 0 0-1zM754 895l0 1-3 0 0-1zM758 894l0 1-4 1 0-1zM761 894l0 1-3 0 0-1zM764 894l0 0-3 1 0-1zM728 895l0 1-4-2 1-1zM731 895l0 1-3 0 0-1zM734 896l0 0-3 0 0-1zM754 896l0 0-3 1 0-1zM758 895l-1 1-3 0 0 0zM761 895l0 1-4 0 1-1zM764 894l0 1-3 1 0-1zM767 894l0 1-3 0 0-1zM771 893l0 1-4 1 0-1zM728 896l-1 1-3-2 0-1zM731 896l0 1-4 0 1-1zM761 896l-1 0-3 1 0-1zM764 895l0 1-4 0 1 0zM767 895l0 0-3 1 0-1zM771 894l-1 1-3 0 0 0zM774 894l0 1-4 0 1-1zM724 895l0 1-4-1 1-2zM727 897l0 0-3-1 0-1zM767 895l0 1-3 1 0-1zM770 895l0 1-3 0 0-1zM774 895l0 0-4 1 0-1zM777 894l0 1-3 0 0 0zM724 896l-1 1-3-1 0-1zM770 896l0 1-3 0 0-1zM774 895l0 2-4 0 0-1zM777 895l0 1-3 1 0-2zM780 894l0 1-3 1 0-1zM707 893l-1 3-3 2 0-3zM720 896l0 1-4-1 1-2zM777 896l0 1-4 1 1-1zM780 895l0 2-3 0 0-1zM784 895l0 1-4 1 0-2zM787 894l0 1-3 1 0-1z" color="#470d60"/><path d="M721 892l0-1 3 2 0 1zM754 894l0-1 3 0 0 0zM757 893l0 0 3-1 0 1zM760 893l0-1 3 0 0 0zM763 892l0 0 3 0 1 0zM724 893l-1-2 3 2 1 1zM727 894l-1-1 3 1 1 0zM742 894l0 0 3-1 0 1zM745 894l0-1 3 0 0 1zM748 894l0-1 3 0 0 1zM751 894l0-1 3 0 0 0zM754 893l0 0 3 0 0 0zM757 893l0 0 3-1 0 0zM760 892l0 0 3 0 0 0zM726 893l0-1 3 1 0 1zM729 894l0-1 3 0 1 1zM733 894l-1-1 3 0 1 1zM736 894l-1-1 3 0 1 1zM739 894l-1-1 3 0 1 1zM742 894l-1-1 4 0 0 0zM745 893l0 0 3 0 0 0zM748 893l0 0 3 0 0 0zM751 893l0 0 3 0 0 0zM754 893l0 0 3-1 0 1zM757 893l0-1 3 0 0 0zM729 893l0-1 3 1 0 0zM732 893l0 0 3 0 0 0zM735 893l0 0 3 0 0 0zM738 893l0 0 3 0 0 0zM741 893l0 0 3 0 1 0zM745 893l-1 0 3 0 1 0zM748 893l-1 0 4 0 0 0zM751 893l0 0 3-1 0 1zM732 893l0-1 3 1 0 0zM735 893l0 0 3 0 0 0zM738 893l0 0 3 0 0 0zM741 893l0 0 3 0 0 0zM744 893l0 0 3 0 0 0zM747 893l0 0 3-1 1 1zM738 893l0 0 3 0 0 0zM741 895l0 1-3 0 0 0zM738 896l0 1-4-1 0 0zM741 896l0 1-3 0 0-1zM744 896l0 1-3 0 0-1zM748 896l-1 1-3 0 0-1zM751 896l0 1-4 0 1-1zM734 896l0 1-3 0 0-1zM738 897l-1 1-3-1 0-1zM741 897l0 1-4 0 1-1zM744 897l0 1-3 0 0-1zM747 897l0 0-3 1 0-1zM751 897l0 0-4 0 0 0zM754 896l0 1-3 0 0 0zM757 896l0 1-3 0 0-1zM731 897l-1 0-3 0 0 0zM734 897l0 1-4-1 1 0zM737 898l0 1-3-1 0-1zM741 898l-1 1-3 0 0-1zM744 898l0 1-4 0 1-1zM747 897l0 1-3 1 0-1zM751 897l-1 1-3 0 0-1zM754 897l0 1-4 0 1-1zM757 897l0 1-3 0 0-1zM760 896l0 1-3 1 0-1zM764 896l0 1-4 0 0-1zM727 897l0 1-4-1 1-1zM730 897l0 1-3 0 0-1zM734 898l-1 1-3-1 0-1zM737 899l0 0-4 0 1-1zM747 898l0 1-4 1 1-1zM750 898l0 1-3 0 0-1zM754 898l-1 1-3 0 0-1zM757 898l0 1-4 0 1-1zM760 897l0 1-3 1 0-1zM764 897l0 1-4 0 0-1zM767 896l0 1-3 1 0-1zM723 897l0 2-3-2 0-1zM727 898l-1 2-3-1 0-2zM730 898l0 1-4 1 1-2zM733 899l0 1-3-1 0-1zM760 898l0 1-3 1 0-1zM764 898l-1 1-3 0 0-1zM767 897l0 2-4 0 1-1zM770 897l0 1-3 1 0-2zM774 897l-1 1-3 0 0-1z" color="#46075a"/><path d="M724 894l0-1 3 1 0 1zM727 895l0-1 3 0 0 1zM730 895l0-1 3 0 0 1zM733 895l0-1 3 0 0 1zM736 895l0-1 3 0 0 1zM739 895l0-1 3 0 0 0zM742 894l0 0 3 0 0 0zM745 894l0 0 3 0 0 0zM748 894l0 0 3 0 0 0zM751 894l0 0 3-1 0 1zM730 894l-1 0 4 0 0 0zM733 894l0 0 3 0 0 0zM736 894l0 0 3 0 0 0zM739 894l0 0 3 0 0 0zM740 899l0 1-3-1 0 0zM744 899l-1 1-3 0 0-1zM737 899l-1 1-3 0 0-1zM740 900l0 1-4-1 1-1zM743 900l0 1-3 0 0-1zM747 899l0 1-4 1 0-1zM750 899l0 1-3 0 0-1zM753 899l0 1-3 0 0-1zM757 899l0 1-4 0 0-1z" color="#440154"/><path d="M800 886l0 0 3-1 0 0zM803 885l0 0 3-2 0 0zM711 885l0-1 3 1 0 2zM797 886l0 0 3-1 0 1zM800 886l0-1 3 0 0 0zM714 885l0-2 3 2 0 2zM794 886l0 0 3-1 0 1zM797 886l0-1 3 0 0 0zM800 885l0 0 3-1 0 1zM717 885l-1-1 4 3 0 1zM791 887l0-1 3 0 0 0zM794 886l0 0 3-1 0 0zM797 885l0 0 3 0 0 0zM800 885l0 0 3-1 0 0zM716 884l0-1 3 3 1 1zM788 887l0 0 3-1 0 0zM791 886l0 0 3 0 0 0zM794 886l0 0 3-1 0 0zM797 885l0 0 3-1 0 1zM719 886l0-1 3 2 0 1zM788 887l0 0 3-1 0 0zM791 886l0 0 3 0 0 0zM794 886l0 0 3-1 0 0zM719 885l0-1 3 3 0 0zM785 887l-1 0 4 0 0 0zM788 887l0 0 3-1 0 0zM791 886l0 0 3-1 0 1zM794 886l0-1 3 0 0 0zM788 887l0 0-4 0 0 0zM791 886l0 0-3 1 0 0zM794 885l0 0-3 1 0 0zM721 886l0 0 3 2 1 1zM788 887l0 0-4 0 0 0zM791 886l0 0-3 1 0 0zM794 885l0 1-3 0 0 0zM724 888l0 0-3-2 0 0zM784 887l0 0-3 1 0 0zM788 887l-1 0-3 0 0 0zM791 886l0 0-4 1 1 0zM794 886l0 0-3 0 0 0zM724 888l0 0-4-3 1 1zM784 887l0 1-3 0 0 0zM787 887l0 0-3 1 0-1zM791 886l0 0-4 1 0 0zM794 886l0 0-3 0 0 0zM724 888l-1 0-3-3 0 0zM784 888l0 0-3 1 0-1zM787 887l0 0-3 1 0 0zM791 886l0 1-4 0 0 0zM794 886l0 0-3 1 0-1zM723 888l0 0-3-2 0-1zM787 887l0 1-3 0 0 0zM791 887l0 0-4 1 0-1zM794 886l0 1-3 0 0 0zM723 888l0 1-4-3 1 0zM787 888l0 0-3 1 0-1zM791 887l0 1-4 0 0 0zM794 887l0 0-3 1 0-1zM723 889l-1 0-3-3 0 0zM787 888l0 1-3 0 0 0zM791 888l0 0-4 1 0-1zM794 887l0 0-3 1 0 0zM797 886l0 1-3 0 0 0zM722 889l0 1-3-3 0-1zM791 888l-1 1-3 0 0 0zM794 887l0 1-4 1 1-1zM797 887l0 0-3 1 0-1zM722 890l0 0-4-2 1-1zM790 889l0 0-3 1 0-1zM794 888l0 1-4 0 0 0zM797 887l0 1-3 1 0-1zM800 887l0 0-3 1 0-1zM794 889l0 0-4 1 0-1zM797 888l0 1-3 0 0 0zM800 887l0 1-3 1 0-1zM804 887l0 1-4 0 0-1zM718 889l0 1-4-2 1-2zM797 889l0 1-3 0 0-1zM800 888l0 1-3 1 0-1zM804 888l0 0-4 1 0-1zM718 890l-1 1-3-2 0-1zM800 889l0 1-3 0 0 0zM804 888l0 1-4 1 0-1zM807 888l0 1-3 0 0-1zM707 888l0 3-3 1 0-3zM711 888l-1 2-3 1 0-3zM714 889l0 2-4-1 1-2zM804 889l0 1-4 1 0-1zM807 889l0 0-3 1 0-1zM810 888l0 1-3 0 0 0zM807 889l0 1-3 1 0-1zM810 889l0 1-3 0 0-1zM814 887l0 1-4 2 0-1zM810 890l0 1-3 1 0-2zM814 888l0 1-4 2 0-1z" color="#481d6f"/><path d="M806 883l0 0 3-2 0 0zM803 885l0 0 3-2 0 0zM711 884l0-2 3 1 0 2zM803 885l0-1 3-1 0 0zM714 883l-1-1 3 2 1 1zM803 884l0 0 3-2 0 1zM800 885l0-1 3 0 0 0zM803 884l0 0 3-2 0 0zM716 883l0-1 3 3 0 1zM797 885l0 0 3-1 0 0zM800 884l0 0 3 0 0 0zM803 884l0 0 3-2 0 0zM797 885l0 0 3-1 0 0zM800 884l0 0 3 0 0 0zM806 882l0 1-3 1 0 0zM719 884l-1-1 3 3 1 1zM797 885l0 0-3 0 0 0zM800 884l0 0-3 1 0 0zM803 884l0 0-3 0 0 0zM718 883l0 0 3 3 0 0zM797 885l0 0-3 1 0-1zM800 884l0 0-3 1 0 0zM803 884l0 0-3 0 0 0zM721 886l0 0-3-3 0 0zM797 885l0 0-3 1 0 0zM800 884l0 1-3 0 0 0zM803 884l0 0-3 1 0-1zM721 886l-1-1-3-3 1 1zM797 885l0 0-3 1 0 0zM800 885l0 0-3 0 0 0zM803 884l0 0-3 1 0 0zM797 885l0 1-3 0 0 0zM800 885l0 0-3 1 0-1zM803 884l0 0-3 1 0 0zM797 886l0 0-3 1 0-1zM800 885l0 0-3 1 0 0zM803 884l0 1-3 0 0 0zM797 886l0 0-3 1 0 0zM800 885l0 1-3 0 0 0zM803 885l0 0-3 1 0-1zM807 884l0 1-4 0 0 0zM719 886l0 0-3-2 0-1zM800 886l0 0-3 1 0-1zM803 885l1 1-4 0 0 0zM807 885l0 0-3 1-1-1zM719 886l0 1-4-3 1 0zM800 886l0 1-3 0 0 0zM804 886l0 0-4 1 0-1zM807 885l0 1-3 0 0 0zM719 887l-1 1-3-3 0-1zM804 886l0 1-4 0 0 0zM807 886l0 0-3 1 0-1zM810 884l0 1-3 1 0 0zM718 888l0 1-3-3 0-1zM807 886l0 1-3 1 0-1zM810 885l0 1-3 1 0-1zM715 886l-1 2-3-2 0-1zM807 887l0 1-3 0 0 0zM810 886l0 1-3 1 0-1zM708 886l-1 2-3 1 0-2zM711 886l0 2-4 0 1-2zM714 888l0 1-3-1 0-2zM810 887l0 1-3 1 0-1zM814 885l0 1-4 2 0-1zM814 886l0 1-4 2 0-1zM817 885l0 1-3 2 0-1zM817 886l0 1-3 2 0-1z" color="#482374"/><path d="M809 881l0 0 3-2 0 1zM806 883l0 0 3-2 0 0zM806 883l0 0 3-2 0 0zM711 882l-1-1 3 1 1 1zM806 883l0-1 3-1 0 0zM713 882l0-2 3 3 0 1zM806 882l0 0 3-1 0 0zM713 880l0-1 3 3 0 1zM809 881l0 0-3 1 0 0zM716 882l-1-1 4 3 0 1zM809 881l1 0-4 2 0-1zM715 881l0-1 3 3 1 1zM806 883l0 0-3 1 0 0zM810 881l0 0-4 2 0 0zM715 880l0 0 3 3 0 0zM806 883l0 0-3 1 0 0zM810 881l0 0-4 2 0 0zM806 883l1 0-4 1 0 0zM810 881l0 0-3 2-1 0zM807 883l0 0-4 1 0 0zM810 881l0 1-3 1 0 0zM720 885l0 0-3-2 0-1zM807 883l0 1-4 0 0 0zM810 882l0 0-3 2 0-1zM720 885l0 1-3-3 0 0zM807 884l0 0-4 1 0-1zM810 882l0 0-3 2 0 0zM720 886l-1 0-3-3 1 0zM810 882l0 1-3 2 0-1zM810 883l0 1-3 1 0 0zM810 884l0 0-3 2 0-1zM813 882l0 0-3 2 0 0zM715 884l0 1-3-2 0-1zM813 882l0 1-3 2 0-1zM709 883l-1 1-3 1 0-2zM712 883l-1 2-3-1 1-1zM715 885l0 1-4-1 1-2zM813 883l0 1-3 2 0-1zM708 884l0 2-4 1 1-2zM711 885l0 1-3 0 0-2zM813 884l1 1-4 2 0-1zM817 883l0 1-3 2 0-1zM817 884l0 1-3 2 0-1zM820 883l0 1-3 2 0-1zM820 884l1 1-4 2 0-1z" color="#482878"/><path d="M812 880l0-1 3-2 0 0zM809 881l0 0 3-2 0 0zM812 879l0 0 3-2 0 0zM809 881l0 0 3-2 0 0zM809 881l0 0 3-2 0 0zM710 881l0-2 3 1 0 2zM809 881l0 0 4-2-1 0zM710 879l0 0 3 0 0 1zM813 879l0 0-4 2 0 0zM713 879l-1 0 3 2 1 1zM813 879l0 0-3 2-1 0zM712 879l0-1 3 2 0 1zM813 879l0 0-3 2 0 0zM813 879l0 0-3 2 0 0zM718 883l0 0-4-3 1 0zM813 879l0 0-3 2 0 0zM718 883l-1-1-3-2 0 0zM813 879l0 1-3 2 0-1zM717 882l0 1-3-3 0 0zM813 880l0 0-3 2 0 0zM717 883l0 0-4-3 1 0zM813 880l0 0-3 2 0 0zM717 883l-1 0-3-3 0 0zM813 880l0 1-3 2 0-1zM716 883l0 1-3-3 0-1zM813 881l0 1-3 2 0-1zM713 881l-1 1-3-1 0-1zM716 884l-1 0-3-2 1-1zM816 880l1 0-4 2 0 0zM709 881l0 2-4 0 1-2zM712 882l0 1-3 0 0-2zM817 880l0 1-4 2 0-1zM817 881l0 1-4 2 0-1zM817 882l0 1-3 2-1-1zM820 881l0 1-3 2 0-1zM820 882l0 1-3 2 0-1zM824 881l0 1-4 2 0-1zM824 882l0 1-3 2-1-1z" color="#472d7b"/><path d="M818 870l0 0-3 7 0 0zM818 870l0 1-3 6 0 0zM818 871l1 0-3 6-1 0zM819 871l0 0-3 6 0 0zM819 871l0 1-3 5 0 0zM819 872l0 0-3 5 0 0zM819 872l0 1-3 4 0 0zM819 873l0 1-3 3 0 0zM823 872l0 1-3 5 0-1zM823 873l0 1-3 4 0 0zM823 874l0 2-3 3 0-1zM827 871l0 1-3 8-1-2zM827 872l0 2-3 7 0-1z" color="#443b84"/><path d="M821 863l0 0-3 7 0 0zM821 863l1 0-4 8 0-1zM822 863l0 1-3 7-1 0zM822 864l0 0-3 7 0 0zM822 864l0 0-3 8 0-1zM822 864l0 1-3 7 0 0zM822 865l0 1-3 7 0-1zM826 864l0 1-3 8 0-1zM826 865l0 2-3 7 0-1zM830 864l0 2-3 8 0-2zM830 866l1 2-4 8 0-2z" color="#3e4989"/><path d="M824 856l1 0-4 7 0 0zM825 856l0 0-3 7-1 0zM825 856l0 0-3 8 0-1zM825 856l0 1-3 7 0 0zM825 857l0 0-3 7 0 0zM825 857l0 1-3 7 0-1zM829 856l0 2-3 7 0-1zM829 858l1 1-4 8 0-2zM834 857l0 1-4 8 0-2z" color="#365c8d"/><path d="M827 849l1 0-3 7-1 0zM828 849l0 0-3 7 0 0zM828 849l0 0-3 7 0 0zM828 849l0 0-3 8 0-1zM832 848l1 1-4 7 0-1zM833 849l0 1-4 8 0-2zM837 849l0 1-3 8 0-1z" color="#2f6c8e"/><path d="M830 842l1 0-3 7-1 0zM831 842l0 0-3 7 0 0zM831 842l0 0-3 7 0 0zM831 842l0 1-3 6 0 0zM831 843l0 0-3 7 0-1zM831 843l0 0-3 7 0 0zM831 843l1 1-4 7 0-1zM836 842l0 1-3 7 0-1zM836 843l0 1-3 7 0-1zM840 842l0 1-3 7 0-1zM840 843l1 1-4 8 0-2z" color="#2a778e"/><path d="M834 835l0 0-3 7-1 0zM834 835l0 0-3 7 0 0zM834 835l0 0-3 7 0 0zM834 835l0 1-3 7 0-1zM839 834l0 0-3 8 0-1zM839 834l0 1-3 8 0-1zM844 834l0 2-4 7 0-1z" color="#24868e"/><path d="M837 828l0 0-3 7 0 0zM837 828l0 0-3 7 0 0zM837 828l0 1-3 6 0 0zM837 829l0 0-3 7 0-1zM837 829l0 0-3 7 0 0zM837 829l1 0-4 7 0 0zM838 829l0 1-3 7-1-1zM842 827l0 1-3 7 0-1zM842 828l1 1-4 8 0-2zM847 827l0 1-3 8 0-2zM847 828l0 2-3 7 0-1z" color="#20928c"/><path d="M840 822l0 0-3 6 0 0zM840 822l0 0-3 6 0 0zM840 822l0 0-3 7 0-1zM840 822l0 0-3 7 0 0zM845 819l1 1-4 7 0-1zM846 820l0 1-4 7 0-1zM850 819l0 2-3 7 0-1z" color="#1fa187"/><path d="M843 815l0 0-3 7 0 0zM843 815l0 0-3 7 0 0zM843 815l0 0-3 7 0 0zM843 815l0 0-3 7 0 0zM843 815l1 0-3 7-1 0zM844 815l0 0-3 7 0 0zM844 815l0 1-3 7 0-1zM849 813l0 1-3 7 0-1zM849 814l0 1-3 7 0-1zM853 812l1 1-4 8 0-2zM854 813l0 2-3 7-1-1z" color="#26ad81"/><path d="M846 807l0 0-3 8 0 0zM846 807l0 0-3 8 0 0zM846 807l0 0-3 8 0 0zM846 807l1 0-4 8 0 0zM847 807l0 1-3 7-1 0zM852 805l0 1-3 8 0-1zM857 803l0 2-3 8-1-1z" color="#3bbb75"/><path d="M849 798l0 0-3 9 0 0zM849 798l0 0-3 9 0 0zM849 798l0 1-3 8 0 0zM849 799l1 0-3 8-1 0zM850 799l0 0-3 9 0-1zM855 796l0 1-3 9 0-1zM860 794l0 2-3 9 0-2zM860 796l1 1-4 9 0-1z" color="#5ac864"/><path d="M852 790l0 0-3 8 0 0zM852 790l0 0-3 8 0 0zM858 786l0 1-3 8 0-1zM858 787l0 0-3 9 0-1zM863 784l0 1-3 9 0-1zM863 785l1 2-4 9 0-2z" color="#8bd646"/><path d="M855 782l0 0-3 8 0 0zM855 782l0 0-3 8 0 0zM855 782l1 0-3 8-1 0zM861 778l1 1-4 8 0 0zM862 779l0 1-3 8-1-1zM867 776l0 1-3 10-1-2z" color="#b5de2b"/><path d="M858 775l0 0-3 7 0 0zM858 775l0-1-3 8 0 0zM858 774l1-1-3 9-1 0zM859 773l0 1-3 8 0 0zM859 774l0 0-3 8 0 0zM865 769l0 1-3 9-1-1zM865 770l0 1-3 9 0-1z" color="#dfe318"/><path d="M858 775l0 0 3 0 0 0zM858 775l0-1 3 0 0 1zM858 774l1-1 3 0-1 1zM859 773l0 1 3-2 0 1zM859 774l0 0 3-3 0 1zM862 771l1 0-4 3 0 0zM863 771l0-1-3 4-1 0zM863 770l0-1-3 6 0-1zM863 769l0 0-3 6 0 0zM863 769l1 0-3 7-1-1zM864 769l0-1-3 8 0 0z" color="#f4e61e"/><path d="M812 879l0 0 4-2-1 0zM812 879l0 0 4-2 0 0zM812 879l1 0 3-2 0 0zM816 877l0 0-3 2 0 0zM710 879l-1-1 3 1 1 0zM816 877l0 0-3 2 0 0zM709 878l0-1 3 1 0 1zM816 877l0 0-3 2 0 0zM709 877l-1 0 4 1 0 0zM712 878l0 0 3 2 0 0zM816 877l0 0-3 2 0 0zM715 880l-1 0-3-2 1 0zM816 877l0 0-3 2 0 0zM714 880l0 0-3-2 0 0zM816 877l0 1-3 2 0-1zM714 880l0 0-4-2 1 0zM816 878l0 0-3 2 0 0zM714 880l-1 0-3-1 0-1zM816 878l0 0-3 2 0 0zM710 879l0 0-4 0 1-1zM713 880l0 0-3-1 0 0zM816 878l0 1-3 2 0-1zM710 879l-1 1-3 0 0-1zM713 880l0 1-4-1 1-1zM816 879l0 1-3 2 0-1zM709 880l0 1-3 0 0-1zM820 878l0 0-3 2-1 0zM820 878l0 1-3 2 0-1zM820 879l0 1-3 2 0-1zM820 880l0 1-3 2 0-1zM823 878l1 2-4 2 0-1zM824 880l0 1-4 2 0-1z" color="#46327e"/><path d="M852 790l1 0-4 9 0-1zM853 790l0 0-3 9-1 0zM853 790l0 1-3 8 0 0zM853 791l0 0-3 8 0 0zM858 787l1 1-4 9 0-1zM859 788l0 1-3 9-1-1zM864 787l0 1-3 9-1-1z" color="#81d34d"/><path d="M856 782l0 0-3 8 0 0zM856 782l0 0-3 9 0-1zM856 782l0 1-3 8 0 0zM856 783l1 0-4 8 0 0zM862 780l0 0-3 9 0-1zM867 777l0 2-3 9 0-1z" color="#aadc32"/><path d="M828 849l0 1-3 7 0 0zM828 850l0 0-3 8 0-1zM828 850l0 1-3 7 0 0zM828 851l1 0-4 8 0-1zM833 850l0 1-3 8-1-1zM833 851l0 1-3 8 0-1zM837 850l0 2-3 8 0-2z" color="#31688e"/><path d="M834 836l0 0-3 7 0 0zM834 836l0 0-3 7 0 0zM834 836l1 1-3 7-1-1zM835 837l0 0-3 7 0 0zM835 837l0 1-3 7 0-1zM839 835l0 2-3 7 0-1zM839 837l1 1-4 7 0-1zM844 836l0 1-3 7-1-1z" color="#26828e"/><path d="M840 822l1 0-4 7 0 0zM841 822l0 0-3 7-1 0zM841 822l0 1-3 7 0-1zM841 823l0 0-3 7 0 0zM841 823l0 1-3 7 0-1zM846 821l0 1-3 7-1-1zM846 822l0 1-3 7 0-1zM850 821l1 1-4 8 0-2z" color="#1f9e89"/><path d="M847 808l0 0-3 7 0 0zM847 808l0 0-3 8 0-1zM847 808l0 1-3 7 0 0zM847 809l1 1-4 7 0-1zM852 806l0 1-3 8 0-1zM852 807l1 1-4 8 0-1zM857 805l0 1-3 9 0-2zM857 806l1 2-4 8 0-1z" color="#35b779"/><path d="M850 799l0 0-3 9 0 0zM850 799l0 1-3 8 0 0zM850 800l1 0-4 9 0-1zM851 800l0 1-3 9-1-1zM855 797l1 1-4 9 0-1zM856 798l0 1-3 9-1-1zM861 797l0 2-3 9-1-2z" color="#52c569"/><path d="M859 774l0 0-3 9 0-1zM859 774l1 0-3 9-1 0zM860 774l0 1-3 8 0 0zM865 771l1 1-4 8 0 0zM866 772l0 1-3 9-1-2z" color="#d5e21a"/><path d="M825 858l0 0-3 8 0-1zM825 858l0 1-3 7 0 0zM825 859l0 0-3 8 0-1zM830 859l0 1-3 8-1-1zM834 858l0 2-3 8-1-2zM834 860l0 2-3 7 0-1z" color="#38588c"/><path d="M853 791l0 0-3 9 0-1zM853 791l1 1-3 8-1 0zM854 792l0 0-3 9 0-1zM859 789l0 1-3 9 0-1zM864 788l0 2-3 9 0-2z" color="#77d153"/><path d="M822 866l0 0-3 8 0-1zM822 866l0 1-3 7 0 0zM822 867l0 1-3 7 0-1zM826 867l1 1-4 8 0-2zM827 868l0 1-4 8 0-1zM831 868l0 1-4 8 0-1z" color="#404588"/><path d="M832 844l0 0-3 7-1 0zM832 844l0 1-3 7 0-1zM832 845l0 0-3 8 0-1zM836 844l0 1-3 7 0-1zM836 845l1 1-4 8 0-2zM841 844l0 2-4 8 0-2z" color="#2c738e"/><path d="M838 830l0 0-3 7 0 0zM838 830l0 1-3 7 0-1zM838 831l0 0-3 7 0 0zM843 829l0 1-3 8-1-1zM843 830l0 2-3 7 0-1zM847 830l1 1-4 8 0-2z" color="#218e8d"/><path d="M844 816l0 0-3 7 0 0zM844 816l0 1-3 7 0-1zM844 817l1 0-4 7 0 0zM849 815l0 1-3 7 0-1zM849 816l1 1-4 7 0-1zM854 815l0 1-3 8 0-2z" color="#23a983"/><path d="M857 783l0 0-3 9-1-1zM857 783l0 1-3 8 0 0zM857 784l0 0-3 9 0-1zM862 780l1 2-4 8 0-1zM863 782l0 1-3 9-1-2zM867 779l1 1-4 10 0-2z" color="#a0da39"/><path d="M819 874l0 0-3 3 0 0zM712 878l-1 0-3-1 0 0zM819 874l0 1-3 2 0 0zM711 878l0 0-3-1 0 0zM819 875l0 1-3 2 0-1zM711 878l-1 0-3-1 1 0zM819 876l0 0-3 2 0 0zM710 878l0 1-3-1 0-1zM819 876l1 0-4 2 0 0zM820 876l0 1-4 2 0-1zM820 877l0 1-4 2 0-1zM823 876l0 1-3 3 0-1zM823 877l0 1-3 3 0-1zM827 874l0 2-3 6 0-1zM827 876l0 1-3 6 0-1z" color="#453781"/><path d="M829 851l0 1-4 7 0 0zM829 852l0 1-3 7-1-1zM829 853l0 1-3 7 0-1zM833 852l0 2-3 7 0-1zM833 854l0 1-3 8 0-2zM837 852l0 2-3 8 0-2z" color="#32648e"/><path d="M860 775l0 0-3 9 0-1zM860 775l1 1-4 8 0 0zM861 776l0 0-3 9-1-1zM866 773l0 1-3 9 0-1z" color="#cae11f"/><path d="M825 859l1 1-4 8 0-1zM826 860l0 1-3 8-1-1zM826 861l0 1-3 8 0-1zM830 860l0 1-3 8 0-1zM830 861l0 2-3 8 0-2z" color="#3a538b"/><path d="M835 838l0 0-3 7 0 0zM835 838l0 1-3 7 0-1zM835 839l0 1-3 7 0-1zM840 838l0 1-3 7-1-1zM840 839l0 1-3 8 0-2zM844 837l0 2-3 7 0-2z" color="#277f8e"/><path d="M841 824l0 0-3 7 0 0zM841 824l1 1-4 7 0-1zM842 825l0 1-3 7-1-1zM846 823l0 1-3 8 0-2zM846 824l1 1-4 8 0-1zM851 822l0 2-3 7-1-1z" color="#1f9a8a"/><path d="M848 810l0 0-3 7-1 0zM848 810l0 1-3 7 0-1zM848 811l0 0-3 7 0 0zM853 808l0 1-3 8-1-1zM853 809l0 2-3 7 0-1z" color="#2fb47c"/><path d="M851 801l0 1-3 8 0 0zM851 802l0 0-3 9 0-1zM856 799l0 2-3 8 0-1zM856 801l1 1-4 9 0-2z" color="#4ac16d"/><path d="M854 792l0 1-3 9 0-1zM854 793l0 1-3 8 0 0zM854 794l1 0-4 9 0-1zM859 790l1 2-4 9 0-2zM860 792l0 1-3 9-1-1z" color="#6ece58"/><path d="M822 868l1 1-4 7 0-1zM823 869l0 1-4 6 0 0zM823 870l0 1-3 5-1 0zM823 871l0 1-3 5 0-1zM827 869l0 2-4 7 0-1z" color="#424086"/><path d="M832 845l0 1-3 8 0-1zM832 846l0 1-3 7 0 0zM832 847l0 1-3 7 0-1zM837 846l0 2-4 7 0-1zM837 848l0 1-3 8-1-2z" color="#2d708e"/><path d="M838 831l0 1-3 7 0-1zM838 832l1 1-4 7 0-1zM839 833l0 1-3 7-1-1zM843 832l0 1-3 7 0-1zM843 833l1 1-4 8 0-2z" color="#238a8d"/><path d="M845 817l0 1-3 7-1-1zM845 818l0 0-3 8 0-1zM845 818l0 1-3 7 0 0zM850 817l0 1-3 7-1-1zM850 818l0 1-3 8 0-2z" color="#21a585"/><path d="M857 784l1 1-4 9 0-1zM858 785l0 1-3 8-1 0zM863 783l0 1-3 9 0-1z" color="#95d840"/><path d="M829 854l0 0-3 8 0-1zM829 854l0 1-3 8 0-1zM829 855l0 1-3 8 0-1zM833 855l1 2-4 7 0-1z" color="#34608d"/><path d="M851 802l0 1-3 8 0 0zM851 803l1 1-3 8-1-1zM852 804l0 1-3 8 0-1zM857 802l0 1-4 9 0-1z" color="#42be71"/><path d="M861 776l0 1-3 9 0-1zM861 777l0 1-3 9 0-1zM866 774l0 1-3 9 0-1zM866 775l1 1-4 9 0-1z" color="#c0df25"/><path d="M864 768l0 0-3 9 0-1zM864 768l1 1-4 9 0-1z" color="#eae51a"/><path d="M826 862l0 1-3 8 0-1zM826 863l0 1-3 8 0-1zM830 863l0 1-3 8 0-1z" color="#3d4e8a"/><path d="M835 840l1 1-4 7 0-1zM836 841l0 1-3 7-1-1zM840 840l0 2-3 7 0-1z" color="#297b8e"/><path d="M842 826l0 0-3 8 0-1zM842 826l0 1-3 7 0 0zM847 825l0 2-3 7-1-1z" color="#1f968b"/><path d="M848 811l1 1-4 7 0-1zM849 812l0 1-3 7-1-1zM853 811l0 1-3 7 0-1z" color="#2ab07f"/><path d="M855 794l0 1-3 9-1-1zM855 795l0 1-3 9 0-1zM860 793l0 1-3 9 0-1z" color="#65cb5e"/></g><g id="Path3DCollection_33"><g clip-path="url(#p1bf89837bf)"><circle cx="363.7" cy="455.1" r="1.9" style="fill: #ff0000"/></g></g><g id="Path3DCollection_34"><g clip-path="url(#p1bf89837bf)"><circle cx="445" cy="455.1" r="3.4" style="fill: #ff0000"/></g></g><g id="Path3DCollection_35"><g clip-path="url(#p1bf89837bf)"><circle cx="375.5" cy="421.8" r="1.4" style="fill: #25848e; fill-opacity: 0.75"/></g></g><g id="Path3DCollection_36"><g clip-path="url(#p1bf89837bf)"><circle cx="389.5" cy="428.1" r="1.4" style="fill: #2e6f8e; fill-opacity: 0.75"/></g></g><g id="Path3DCollection_37"><g clip-path="url(#p1bf89837bf)"><circle cx="399" cy="422" r="1.4" style="fill: #25848e; fill-opacity: 0.75"/></g></g><g id="Path3DCollection_38"><g clip-path="url(#p1bf89837bf)"><circle cx="383.8" cy="440.4" r="1.4" style="fill: #414487; fill-opacity: 0.75"/></g></g><g id="Path3DCollection_39"><g clip-path="url(#p1bf89837bf)"><circle cx="369.5" cy="445.5" r="1.4" style="fill: #46307e; fill-opacity: 0.75"/></g></g><g id="Path3DCollection_40"><g clip-path="url(#p1bf89837bf)"><circle cx="414.9" cy="440.3" r="1.4" style="fill: #424086; fill-opacity: 0.75"/></g></g><g id="Path3DCollection_41"><g clip-path="url(#p1bf89837bf)"><circle cx="419" cy="449.6" r="1.4" style="fill: #482173; fill-opacity: 0.75"/></g></g><g id="Path3DCollection_42"><g clip-path="url(#p1bf89837bf)"><circle cx="424.2" cy="437.2" r="1.4" style="fill: #3c4f8a; fill-opacity: 0.75"/></g></g><g id="Path3DCollection_43"><g clip-path="url(#p1bf89837bf)"><circle cx="411.6" cy="454.7" r="1.4" style="fill: #460b5e; fill-opacity: 0.75"/></g></g><g id="text_125"><text style="font-size: 12px; font-family: 'DejaVu Sans'; text-anchor: start" x="318.1" y="349.5" transform="rotate(-0 318.1 349.5)">(h)</text></g></g><g id="patch_34"><path d="M 501.6 484.5 L 657.9 484.5 L 657.9 355.5 L 501.6 355.5 z" style="fill: #ffffff"/></g><g id="pane3d_25"><g id="patch_35"><path d="M 537.8 454.6 L 625.9 454.6 L 631.1 458.9 L 532.7 458.9" style="fill: #f2f2f2; opacity: 0.5; stroke: #f2f2f2; stroke-linejoin: miter"/></g></g><g id="pane3d_26"><g id="patch_36"><path d="M 625.9 381.9 L 625.9 454.6 L 631.1 458.9 L 631.1 377.7" style="fill: #e6e6e6; opacity: 0.5; stroke: #e6e6e6; stroke-linejoin: miter"/></g></g><g id="pane3d_27"><g id="patch_37"><path d="M 537.8 381.9 L 537.8 454.6 L 625.9 454.6 L 625.9 381.9" style="fill: #ececec; opacity: 0.5; stroke: #ececec; stroke-linejoin: miter"/></g></g><g id="grid3d_25"><g id="Line3DCollection_20"><path d="M 537.8 385.2 L 625.9 385.2 L 631.1 381.4" style="fill: none; stroke: #b0b0b0; stroke-width: 0.8"/><path d="M 537.8 401.7 L 625.9 401.7 L 631.1 399.8" style="fill: none; stroke: #b0b0b0; stroke-width: 0.8"/><path d="M 537.8 418.3 L 625.9 418.3 L 631.1 418.3" style="fill: none; stroke: #b0b0b0; stroke-width: 0.8"/><path d="M 537.8 434.8 L 625.9 434.8 L 631.1 436.7" style="fill: none; stroke: #b0b0b0; stroke-width: 0.8"/></g></g><g id="grid3d_26"><g id="Line3DCollection_21"><path d="M 538.1 458.9 L 542.7 454.6 L 542.7 381.9" style="fill: none; stroke: #b0b0b0; stroke-width: 0.8"/><path d="M 555.6 458.9 L 558.4 454.6 L 558.4 381.9" style="fill: none; stroke: #b0b0b0; stroke-width: 0.8"/><path d="M 573.1 458.9 L 574 454.6 L 574 381.9" style="fill: none; stroke: #b0b0b0; stroke-width: 0.8"/><path d="M 590.6 458.9 L 589.7 454.6 L 589.7 381.9" style="fill: none; stroke: #b0b0b0; stroke-width: 0.8"/><path d="M 608.1 458.9 L 605.4 454.6 L 605.4 381.9" style="fill: none; stroke: #b0b0b0; stroke-width: 0.8"/><path d="M 625.6 458.9 L 621 454.6 L 621 381.9" style="fill: none; stroke: #b0b0b0; stroke-width: 0.8"/></g></g><g id="grid3d_27"/><g id="axis3d_25"><g id="line2d_123"><path d="M 537.8 454.6 L 537.8 381.9" style="fill: none; stroke: #000000; stroke-width: 0.8; stroke-linecap: square"/></g><g id="xtick_99"><g id="line2d_124"><path d="M 538.5 385.2 L 536.4 385.2" style="fill: none; stroke: #000000; stroke-width: 0.8; stroke-linecap: square"/></g><g id="text_126" transform="translate(-3.8 -0.6)"><text style="font-size: 10px; font-family: 'DejaVu Sans'; text-anchor: middle" x="525.1" y="393.3" transform="rotate(-0 525.1 393.3)">-2.0</text></g></g><g id="xtick_100"><g id="line2d_125"><path d="M 538.5 401.7 L 536.4 401.7" style="fill: none; stroke: #000000; stroke-width: 0.8; stroke-linecap: square"/></g><g id="text_127" transform="translate(-3.8 -0.6)"><text style="font-size: 10px; font-family: 'DejaVu Sans'; text-anchor: middle" x="525.1" y="409.6" transform="rotate(-0 525.1 409.6)">-1.0</text></g></g><g id="xtick_101"><g id="line2d_126"><path d="M 538.5 418.3 L 536.4 418.3" style="fill: none; stroke: #000000; stroke-width: 0.8; stroke-linecap: square"/></g><g id="text_128" transform="translate(-3.8 -0.6)"><text style="font-size: 10px; font-family: 'DejaVu Sans'; text-anchor: middle" x="525.1" y="425.9" transform="rotate(-0 525.1 425.9)">0.0</text></g></g><g id="xtick_102"><g id="line2d_127"><path d="M 538.5 434.8 L 536.4 434.8" style="fill: none; stroke: #000000; stroke-width: 0.8; stroke-linecap: square"/></g><g id="text_129" transform="translate(-3.8 -0.6)"><text style="font-size: 10px; font-family: 'DejaVu Sans'; text-anchor: middle" x="525.1" y="442.1" transform="rotate(-0 525.1 442.1)">1.0</text></g></g><g id="text_130" transform="translate(-11 -3.4)"><text style="font-size: 10px; font-family: 'DejaVu Sans'; text-anchor: middle" x="513.9" y="418.3" transform="rotate(-90 513.9 418.3)">X (Å)</text></g></g><g id="axis3d_26"><g id="line2d_128"><path d="M 631.1 458.9 L 532.7 458.9" style="fill: none; stroke: #000000; stroke-width: 0.8; stroke-linecap: square"/></g><g id="xtick_103"><g id="line2d_129"><path d="M 538.2 458.8 L 538.1 458.9" style="fill: none; stroke: #000000; stroke-width: 0.8; stroke-linecap: square"/></g><g id="text_131" transform="translate(0.1 -13)"><text style="font-size: 10px; font-family: 'DejaVu Sans'" transform="translate(529.5 487.3) rotate(-24)">-2.0</text></g></g><g id="xtick_104"><g id="line2d_130"><path d="M 555.7 458.8 L 555.6 458.9" style="fill: none; stroke: #000000; stroke-width: 0.8; stroke-linecap: square"/></g><g id="text_132" transform="translate(0.1 -13)"><text style="font-size: 10px; font-family: 'DejaVu Sans'" transform="translate(549 485.8) rotate(-24)">3.0</text></g></g><g id="xtick_105"><g id="line2d_131"><path d="M 573.1 458.8 L 573.1 458.9" style="fill: none; stroke: #000000; stroke-width: 0.8; stroke-linecap: square"/></g><g id="text_133" transform="translate(0.1 -13)"><text style="font-size: 10px; font-family: 'DejaVu Sans'" transform="translate(566.8 485.8) rotate(-24)">8.0</text></g></g><g id="xtick_106"><g id="line2d_132"><path d="M 590.6 458.8 L 590.6 458.9" style="fill: none; stroke: #000000; stroke-width: 0.8; stroke-linecap: square"/></g><g id="text_134" transform="translate(0.1 -13)"><text style="font-size: 10px; font-family: 'DejaVu Sans'" transform="translate(581.7 488.4) rotate(-24)">13.0</text></g></g><g id="xtick_107"><g id="line2d_133"><path d="M 608.1 458.8 L 608.1 458.9" style="fill: none; stroke: #000000; stroke-width: 0.8; stroke-linecap: square"/></g><g id="text_135" transform="translate(0.1 -13)"><text style="font-size: 10px; font-family: 'DejaVu Sans'" transform="translate(599.5 488.4) rotate(-24)">18.0</text></g></g><g id="xtick_108"><g id="line2d_134"><path d="M 625.6 458.8 L 625.7 458.9" style="fill: none; stroke: #000000; stroke-width: 0.8; stroke-linecap: square"/></g><g id="text_136" transform="translate(0.1 -13)"><text style="font-size: 10px; font-family: 'DejaVu Sans'" transform="translate(617.3 488.4) rotate(-24)">23.0</text></g></g><g id="text_137" transform="translate(0.2 -1.4)"><text style="font-size: 10px; font-family: 'DejaVu Sans'; text-anchor: middle" x="581.9" y="492.2" transform="rotate(-0 581.9 492.2)">Y (Å)</text></g></g><g id="axis3d_27"><g id="line2d_135"><path d="M 625.9 381.9 L 631.1 377.7" style="fill: none; stroke: #000000; stroke-width: 0.8; stroke-linecap: square"/></g></g><g id="axes_9"><g id="Path3DCollection_44"><g clip-path="url(#p5855ef2dca)"><circle cx="548.9" cy="418.3" r="1.9" style="fill: #ff0000"/></g></g><g id="Path3DCollection_45"><g clip-path="url(#p5855ef2dca)"><circle cx="626.1" cy="418.3" r="3.4" style="fill: #ff0000"/></g></g><g id="Path3DCollection_46"><g clip-path="url(#p5855ef2dca)"><circle cx="558.5" cy="400.9" r="1.4" style="fill: #25848e; fill-opacity: 0.75"/></g></g><g id="Path3DCollection_47"><g clip-path="url(#p5855ef2dca)"><circle cx="572.7" cy="383.9" r="1.4" style="fill: #2e6f8e; fill-opacity: 0.75"/></g></g><g id="Path3DCollection_48"><g clip-path="url(#p5855ef2dca)"><circle cx="582.5" cy="426.9" r="1.4" style="fill: #25848e; fill-opacity: 0.75"/></g></g><g id="Path3DCollection_49"><g clip-path="url(#p5855ef2dca)"><circle cx="567.8" cy="418.3" r="1.4" style="fill: #414487; fill-opacity: 0.75"/></g></g><g id="Path3DCollection_50"><g clip-path="url(#p5855ef2dca)"><circle cx="554.8" cy="435.1" r="1.4" style="fill: #46307e; fill-opacity: 0.75"/></g></g><g id="Path3DCollection_51"><g clip-path="url(#p5855ef2dca)"><circle cx="598.5" cy="392.9" r="1.4" style="fill: #424086; fill-opacity: 0.75"/></g></g><g id="Path3DCollection_52"><g clip-path="url(#p5855ef2dca)"><circle cx="600.9" cy="443.3" r="1.4" style="fill: #482173; fill-opacity: 0.75"/></g></g><g id="Path3DCollection_53"><g clip-path="url(#p5855ef2dca)"><circle cx="607.3" cy="409.8" r="1.4" style="fill: #3c4f8a; fill-opacity: 0.75"/></g></g><g id="Path3DCollection_54"><g clip-path="url(#p5855ef2dca)"><circle cx="593.8" cy="451.5" r="1.4" style="fill: #460b5e; fill-opacity: 0.75"/></g></g><g id="surf_2_2" transform="scale(0.5)" fill="currentColor" stroke="currentColor" stroke-width="2.0"><path d="M1098 770l0 9-4 0 1-9zM1101 770l0 9-3 0 0-9zM1104 770l0 9-3 0 0-9zM1114 894l0 9-3 0 0-9zM1108 770l0 9-4 0 0-9zM1117 894l0 9-3 0 0-9zM1111 770l0 9-3 0 0-9zM1111 894l0 9-3 0 0-9zM1121 894l0 9-4 0 0-9zM1114 770l0 9-3 0 0-9zM1095 770l-1 9-3 0 0-9zM1124 894l0 9-3 0 0-9zM1117 770l0 9-3 0 0-9z" color="#440154"/><path d="M1127 894l0 9-3 0 0-9zM1121 770l0 9-4 0 0-9zM1108 894l0 9-4 0 0-9zM1130 894l0 9-3 0 0-9zM1104 894l0 9-3 0 0-9zM1108 779l-1 10-3 0 0-10zM1104 779l0 10-3 0 0-10zM1124 770l0 9-3 0 0-9zM1114 884l0 10-3 0 0-10zM1111 779l0 10-4 0 1-10zM1111 884l0 10-3 0-1-10zM1117 884l0 10-3 0 0-10zM1101 779l0 10-3 0 0-10zM1101 894l0 9-3 0 0-9zM1114 779l0 10-3 0 0-10zM1121 884l0 10-4 0 0-10zM1134 894l0 9-4 0 0-9zM1117 779l0 10-3 0 0-10zM1098 779l0 10-4 0 0-10zM1124 884l0 10-3 0 0-10zM1127 770l0 9-3 0 0-9zM1121 779l0 10-4 0 0-10zM1127 884l0 10-3 0 0-10zM1107 884l1 10-4 0 0-10zM1107 789l0 9-3 0 0-9zM1137 894l0 9-3 0 0-9zM1091 770l0 9-3 0 0-9zM1114 875l0 9-3 0 0-9zM1130 770l0 9-3 0 0-9zM1111 875l0 9-4 0 0-9zM1124 779l0 10-3 0 0-10zM1111 789l0 9-4 0 0-9zM1104 789l0 9-3 0 0-9zM1104 884l0 10-3 0 0-10zM1117 875l0 9-3 0 0-9zM1130 884l0 10-3 0 0-10zM1114 789l0 9-3 0 0-9zM1121 875l0 9-4 0 0-9zM1117 789l0 9-3 0 0-9zM1098 894l0 9-4 0 0-9zM1140 894l0 9-3 0 0-9zM1124 875l0 9-3 0 0-9zM1134 770l0 9-4 0 0-9zM1127 779l0 10-3 0 0-10zM1121 789l0 9-4 0 0-9zM1101 789l0 9-3 0 0-9zM1107 875l0 9-3 0 0-9zM1094 779l0 10-3 0 0-10zM1101 884l0 10-3 0 0-10zM1134 884l0 10-4 0 0-10z" color="#46075a"/><path d="M1107 798l0 10-3 0 0-10zM1127 875l0 9-3 0 0-9zM1111 865l0 10-4 0 0-10zM1114 865l0 10-3 0 0-10zM1111 798l0 10-4 0 0-10zM1143 894l0 9-3 0 0-9zM1124 789l0 9-3 0 0-9zM1117 865l0 10-3 0 0-10zM1114 798l0 10-3 0 0-10zM1137 770l0 9-3 0 0-9zM1104 798l0 10-3 0 0-10zM1130 779l0 10-3 0 0-10zM1104 875l0 9-3 0 0-9zM1121 865l0 10-4 0 0-10zM1117 798l0 10-3 0 0-10zM1098 789l0 9-4 0 0-9zM1137 884l0 10-3 0 0-10zM1130 875l0 9-3 0 0-9zM1107 865l0 10-3 0 0-10zM1124 865l0 10-3 0 0-10zM1111 856l0 9-4 0 0-9zM1121 798l0 10-4 0 0-10zM1107 808l0 9-3 0 0-9zM1111 808l0 9-4 0 0-9zM1114 856l0 9-3 0 0-9zM1127 789l0 9-3 0 0-9zM1147 894l0 10-4-1 0-9zM1114 808l0 9-3 0 0-9zM1140 770l0 9-3 0 0-9zM1117 856l0 9-3 0 0-9zM1127 865l0 10-3 0 0-10zM1134 779l0 10-4 0 0-10zM1124 798l0 10-3 0 0-10zM1111 846l0 10-4 0 0-10zM1140 884l0 10-3 0 0-10zM1117 808l0 9-3 0 0-9zM1107 856l0 9-3 0 0-9zM1134 875l0 9-4 0 0-9zM1121 856l0 9-4 0 0-9zM1111 817l0 10-4 0 0-10zM1101 798l0 10-3 0 0-10zM1101 875l0 9-3 0 0-9zM1107 817l0 10-3 0 0-10zM1114 846l0 10-3 0 0-10zM1104 808l0 9-3 0 0-9zM1121 808l-1 9-3 0 0-9zM1104 865l0 10-3 0 0-10zM1111 837l0 9-4 0 0-9zM1114 817l0 10-3 0 0-10zM1124 856l0 9-3 0 0-9zM1111 827l0 10-4 0 0-10zM1094 894l0 9-3 1 0-10zM1130 789l0 9-3 0 0-9zM1117 846l0 10-3 0 0-10zM1107 846l0 10-3 0 0-10zM1098 884l0 10-4 0 0-10zM1114 837l0 9-3 0 0-9zM1107 827l0 10-3 0 0-10zM1117 817l0 10-3 0 0-10zM1114 827l0 10-3 0 0-10zM1130 865l0 10-3 0 0-10zM1150 894l0 10-3 0 0-10zM1137 779l0 10-3 0 0-10zM1107 837l0 9-3 0 0-9zM1120 846l1 10-4 0 0-10zM1127 798l0 10-3 0 0-10zM1088 770l0 9-4 0 1-9zM1124 808l0 9-4 0 1-9zM1143 769l0 10-3 0 0-9zM1143 884l0 10-3 0 0-10zM1117 837l0 9-3 0 0-9zM1120 817l0 10-3 0 0-10zM1117 827l0 10-3 0 0-10zM1137 875l0 9-3 0 0-9zM1127 856l0 9-3 0 0-9zM1124 846l0 10-3 0-1-10zM1120 837l0 9-3 0 0-9zM1104 817l0 10-3 0 0-10zM1120 827l0 10-3 0 0-10zM1104 856l0 9-3 0 0-9zM1134 789l0 9-4 0 0-9zM1124 817l0 10-4 0 0-10zM1134 865l0 10-4 0 0-10zM1124 837l0 9-4 0 0-9zM1101 865l0 10-3 0 0-10zM1101 808l0 9-3 0 0-9zM1140 779l0 10-3 0 0-10zM1124 827l0 10-4 0 0-10zM1098 798l0 10-4 0 0-10zM1127 808l0 9-3 0 0-9zM1130 798l0 10-3 0 0-10zM1127 846l0 10-3 0 0-10zM1104 827l0 10-3 0 0-10zM1104 846l0 10-3 0 0-10zM1147 884l0 10-4 0 0-10zM1130 856l0 9-3 0 0-9zM1140 875l0 9-3 0 0-9zM1094 789l0 9-3 0 0-9zM1153 894l0 10-3 0 0-10zM1104 837l0 9-3 0 0-9zM1091 779l0 10-3 0 0-10zM1147 769l0 10-4 0 0-10z" color="#470d60"/><path d="M1127 817l0 10-3 0 0-10zM1127 837l0 9-3 0 0-9zM1137 789l0 9-3 0 0-9zM1127 827l0 10-3 0 0-10zM1137 865l0 10-3 0 0-10zM1130 808l0 9-3 0 0-9zM1101 856l0 9-3 0 0-9zM1134 798l0 10-4 0 0-10zM1101 817l0 10-3 0 0-10zM1130 846l0 10-3 0 0-10zM1143 779l0 10-3 0 0-10zM1134 856l0 9-4 0 0-9zM1143 875l0 9-3 0 0-9zM1098 875l0 9-4 0 0-9zM1150 884l0 10-3 0 0-10zM1081 894l0 10-3-1 0-9zM1157 894l0 10-4 0 0-10zM1130 817l0 10-3 0 0-10zM1101 846l0 10-3 0 0-10zM1130 837l0 9-3 0 0-9zM1140 789l0 9-3 0 0-9zM1101 827l0 10-3 0 0-10zM1150 769l0 10-3 0 0-10zM1130 827l0 10-3 0 0-10zM1101 837l0 9-3 0 0-9zM1140 865l0 10-3 0 0-10zM1134 808l0 9-4 0 0-9zM1137 798l0 10-3 0 0-10zM1091 894l0 10-3 0 0-10zM1134 846l0 10-4 0 0-10zM1137 856l0 9-3 0 0-9zM1098 808l0 9-4 0 0-9zM1147 875l0 9-4 0 0-9zM1094 884l0 10-3 0 0-9zM1147 779l0 10-4 0 0-10zM1134 817l0 10-4 0 0-10zM1134 837l0 9-4 0 0-9zM1153 884l0 10-3 0 0-10zM1134 827l0 10-4 0 0-10zM1143 789l0 9-3 0 0-9zM1143 865l0 10-3 0 0-10zM1160 894l0 10-3 0 0-10zM1137 808l0 9-3 0 0-9zM1140 798l0 10-3 0 0-10zM1153 769l0 10-3 0 0-10zM1137 846l0 10-3 0 0-10zM1140 856l0 9-3 0 0-9zM1098 865l0 10-4 0 0-10zM1150 875l0 9-3 0 0-9zM1137 817l0 10-3 0 0-10zM1137 837l0 9-3 0 0-9zM1084 894l0 10-3 0 0-10zM1094 798l0 10-3 0 0-10zM1137 827l0 10-3 0 0-10zM1150 779l0 10-3 0 0-10zM1098 817l0 10-4 0 0-10zM1085 770l-1 9-3 0 0-10zM1147 865l0 10-4 0 0-10zM1140 808l0 9-3 0 0-9zM1156 885l1 9-4 0 0-10zM1088 894l0 10-4 0 0-10zM1140 846l0 10-3 0 0-10zM1147 789l0 9-4 0 0-9zM1143 798l0 10-3 0 0-10zM1143 856l0 9-3 0 0-9zM1163 894l0 10-3 0 0-10zM1157 769l-1 10-3 0 0-10zM1098 856l0 9-4 0 0-9zM1140 817l0 10-3 0 0-10zM1140 837l0 9-3 0 0-9z" color="#471365"/><path d="M1140 827l0 10-3 0 0-10zM1153 875l0 9-3 0 0-9zM1098 827l0 10-4 0 0-10zM1098 846l0 10-4 0 0-10zM1143 846l0 10-3 0 0-10zM1143 808l0 9-3 0 0-9zM1153 779l0 10-3 0 0-10zM1098 837l0 9-4 0 0-9zM1091 789l0 9-4 0 1-9zM1150 865l0 10-3 0 0-10zM1147 856l0 9-4 0 0-9zM1088 779l0 10-4-1 0-9zM1160 885l0 9-3 0-1-9zM1147 798l0 10-4 0 0-10zM1150 789l0 9-3 0 0-9zM1166 894l0 10-3 0 0-10zM1094 875l0 9-3 1 0-10zM1143 837l0 9-3 0 0-9zM1143 817l0 10-3 0 0-10zM1160 769l0 10-4 0 1-10zM1143 827l0 10-3 0 0-10zM1156 875l0 10-3-1 0-9zM1147 846l0 10-4 0 0-10zM1147 808l0 9-4 0 0-9zM1156 779l0 9-3 1 0-10zM1153 865l0 10-3 0 0-10zM1094 808l0 9-3 0 0-9zM1150 856l0 9-3 0 0-9zM1091 885l0 9-3 0-1-9zM1163 885l0 9-3 0 0-9zM1150 798l0 10-3 0 0-10zM1153 789l0 9-3 0 0-9zM1147 837l0 9-4 0 0-9zM1170 894l0 10-4 0 0-10zM1147 817l0 10-4 0 0-10zM1147 827l0 10-4 0 0-10zM1163 769l0 10-3 0 0-10zM1160 875l0 10-4 0 0-10zM1150 846l0 10-3 0 0-10zM1150 808l0 9-3 0 0-9zM1081 769l0 10-3 0 0-10zM1160 779l0 9-4 0 0-9zM1156 865l0 10-3 0 0-10zM1094 865l0 10-3 0 0-10zM1153 856l0 9-3 0 0-9zM1166 885l0 9-3 0 0-9zM1153 798l0 10-3 0 0-10zM1156 788l0 10-3 0 0-9zM1150 837l0 9-3 0 0-9zM1173 894l0 10-3 0 0-10zM1150 817l0 10-3 0 0-10zM1150 827l0 10-3 0 0-10zM1166 769l0 10-3 0 0-10zM1094 817l0 10-3 0 0-10zM1163 875l0 10-3 0 0-10zM1153 846l0 10-3 0 0-10zM1153 808l0 9-3 0 0-9z" color="#48186a"/><path d="M1163 779l0 9-3 0 0-9zM1091 798l0 10-4 0 0-10zM1160 865l0 10-4 0 0-10zM1156 856l0 9-3 0 0-9zM1170 885l0 9-4 0 0-9zM1081 885l0 9-3 0 0-9zM1156 798l0 10-3 0 0-10zM1160 788l0 10-4 0 0-10zM1153 837l0 9-3 0 0-9zM1094 856l0 9-3 0 0-9zM1176 894l0 10-3 0 0-10zM1153 817l0 10-3 0 0-10zM1153 827l0 10-3 0 0-10zM1170 769l0 10-4 0 0-10zM1087 885l1 9-4 0 0-9zM1094 827l0 10-3 0 0-10zM1166 875l0 10-3 0 0-10zM1156 846l0 10-3 0 0-10zM1091 875l0 10-4 0 0-10zM1156 808l0 9-3 0 0-9zM1094 846l0 10-3 0 0-10zM1166 779l0 9-3 0 0-9zM1094 837l0 9-3 0 0-9zM1163 865l0 10-3 0 0-10zM1160 856l0 9-4 0 0-9zM1084 885l0 9-3 0 0-9zM1173 885l0 9-3 0 0-9zM1088 789l-1 9-3 0 0-10zM1160 798l0 10-4 0 0-10zM1163 788l0 10-3 0 0-10zM1156 837l0 9-3 0 0-9zM1084 779l0 9-3 0 0-9zM1156 817l0 10-3 0 0-10zM1156 827l0 10-3 0 0-10zM1170 875l0 10-4 0 0-10zM1160 846l0 10-4 0 0-10zM1160 808l0 9-4 0 0-9zM1170 779l0 9-4 0 0-9zM1166 865l0 10-3 0 0-10zM1163 856l0 9-3 0 0-9zM1176 885l0 9-3 0 0-9zM1180 894l0 10-4 0 0-10zM1163 798l0 10-3 0 0-10zM1166 788l0 10-3 0 0-10zM1160 837l0 9-4 0 0-9zM1160 817l0 10-4 0 0-10zM1091 808l0 9-4 0 0-9zM1160 827l0 10-4 0 0-10zM1173 769l0 10-3 0 0-10zM1173 875l0 10-3 0 0-10zM1163 846l0 10-3 0 0-10zM1163 808l0 9-3 0 0-9zM1091 865l0 10-4 0 0-10zM1170 865l0 10-4 0 0-10zM1166 856l0 9-3 0 0-9z" color="#481d6f"/><path d="M1166 798l0 10-3 0 0-10zM1170 788l0 10-4 0 0-10zM1163 837l0 9-3 0 0-9zM1163 817l0 10-3 0 0-10zM1163 827l0 10-3 0 0-10zM1166 846l0 10-3 0 0-10zM1176 875l0 10-3 0 0-10zM1173 779l0 9-3 0 0-9zM1166 808l0 9-3 0 0-9zM1173 865l0 10-3 0 0-10zM1170 856l0 9-4 0 0-9zM1091 817l0 10-4 0 0-10zM1087 875l0 10-3 0 0-10zM1170 798l0 10-4 0 0-10zM1166 837l0 9-3 0 0-9zM1180 885l0 9-4 0 0-9zM1166 817l0 10-3 0 0-10zM1081 779l0 9-4 0 1-9zM1166 827l0 10-3 0 0-10zM1091 856l0 9-4 0 0-9zM1087 798l0 10-3 0 0-10zM1170 846l0 10-4 0 0-10zM1170 808l0 9-4 0 0-9zM1173 788l0 10-3 0 0-10zM1173 856l0 9-3 0 0-9zM1091 827l0 10-4 0 0-10zM1081 875l0 10-3 0-1-10zM1170 837l0 9-4 0 0-9zM1183 894l0 10-3 0 0-10zM1170 817l0 10-4 0 0-10zM1091 846l0 10-4 0 0-10zM1176 865l0 10-3 0 0-10zM1170 827l0 10-4 0 0-10zM1091 837l0 9-4 0 0-9zM1084 875l0 10-3 0 0-10zM1084 788l0 10-3 0 0-10zM1173 798l0 10-3 0 0-10zM1173 846l0 10-3 0 0-10zM1176 769l0 10-3 0 0-10zM1180 875l0 10-4 0 0-10zM1173 808l0 9-3 0 0-9zM1173 837l0 9-3 0 0-9z" color="#482374"/><path d="M1173 827l0 10-3 0 0-10zM1173 817l0 10-3 0 0-10zM1176 856l0 9-3 0 0-9zM1087 865l0 10-3 0 0-10zM1176 779l0 9-3 0 0-9zM1087 808l0 9-3 0 0-9zM1183 885l0 9-3 0 0-9zM1176 846l0 10-3 0 0-10zM1176 788l0 10-3 0 0-10zM1180 865l0 10-4 0 0-10zM1176 837l0 9-3 0 0-9zM1176 798l0 10-3 0 0-10zM1176 827l0 10-3 0 0-10zM1186 894l0 10-3 0 0-10zM1176 808l0 9-3 0 0-9zM1176 817l0 10-3 0 0-10zM1081 788l0 10-4 0 0-10zM1087 817l0 10-3 0 0-10zM1087 856l0 9-3 0 0-9zM1180 769l0 10-4 0 0-10zM1084 865l0 10-3 0 0-10zM1084 798l0 10-4 0 1-10zM1180 856l0 9-4 0 0-9zM1081 865l0 10-4 0 0-10zM1183 875l0 10-3 0 0-10z" color="#482878"/><path d="M1087 827l0 10-3 0 0-10zM1087 846l0 10-3 0 0-10zM1180 779l0 9-4 0 0-9zM1180 846l0 10-4 0 0-10zM1087 837l0 9-3 0 0-9zM1186 885l0 9-3 0 0-9zM1180 788l0 10-4 0 0-10zM1183 866l0 9-3 0 0-10zM1180 837l0 9-4 0 0-9zM1180 798l0 10-4 0 0-10zM1084 856l0 9-3 0-1-9zM1084 808l0 9-4 0 0-9zM1180 827l0 10-4 0 0-10zM1190 895l-1 9-3 0 0-10zM1180 808l0 9-4 0 0-9zM1180 817l0 10-4 0 0-10zM1081 798l-1 10-3 0 0-10zM1080 856l1 9-4 0 0-9zM1183 856l0 10-3-1 0-9z" color="#472d7b"/><path d="M1186 875l0 10-3 0 0-10zM1183 769l0 9-3 1 0-10zM1084 817l0 10-4 0 0-10zM1084 846l0 10-4 0 0-10zM1183 778l0 10-3 0 0-9zM1183 846l0 10-3 0 0-10zM1084 827l0 10-4 0 0-10zM1084 837l0 9-4 0 0-9zM1183 788l0 10-3 0 0-10zM1186 866l0 9-3 0 0-9zM1190 885l0 10-4-1 0-9zM1183 837l0 9-3 0 0-9zM1080 808l0 9-3 0 0-9zM1080 846l0 10-3 0 0-10zM1183 798l0 9-3 1 0-10zM1183 827l0 10-3 0 0-10zM1183 807l0 10-3 0 0-9zM1183 817l0 10-3 0 0-10zM1186 856l0 10-3 0 0-10z" color="#46327e"/><path d="M1080 817l0 10-3 0 0-10zM1080 837l0 9-3 0 0-9zM1080 827l0 10-3 0 0-10zM1186 846l0 10-3 0 0-10zM1190 875l0 10-4 0 0-10zM1186 837l0 9-3 0 0-9zM1186 827l0 10-3 0 0-10z" color="#453781"/><path d="M1193 895l0 9-4 0 1-9zM1190 866l0 9-4 0 0-9zM1186 817l0 10-3 0 0-10zM1186 807l0 10-3 0 0-10zM1186 798l0 9-3 0 0-9zM1186 778l0 10-3 0 0-10zM1186 768l0 10-3 0 0-9zM1186 788l0 10-3 0 0-10zM1190 856l0 10-4 0 0-10z" color="#443b84"/><path d="M1193 885l0 10-3 0 0-10zM1190 846l0 10-4 0 0-10zM1190 837l0 9-4 0 0-9z" color="#424086"/><path d="M1193 876l0 9-3 0 0-10zM1190 827l0 10-4 0 0-10z" color="#404588"/><path d="M1190 817l0 10-4 0 0-10zM1193 866l0 10-3-1 0-9zM1190 807l0 10-4 0 0-10zM1196 895l0 10-3-1 0-9zM1190 797l0 10-4 0 0-9z" color="#3e4989"/><path d="M1193 856l0 10-3 0 0-10zM1190 788l0 9-4 1 0-10zM1190 778l0 10-4 0 0-10zM1190 768l0 10-4 0 0-10z" color="#3d4e8a"/><path d="M1193 846l0 10-3 0 0-10zM1197 885l-1 10-3 0 0-10zM1193 837l0 9-3 0 0-9z" color="#3a538b"/><path d="M1197 876l0 9-4 0 0-9zM1193 827l0 10-3 0 0-10z" color="#38588c"/><path d="M1193 817l0 10-3 0 0-10zM1197 866l0 10-4 0 0-10zM1193 807l0 10-3 0 0-10zM1200 896l0 9-4 0 0-10zM1193 797l0 10-3 0 0-10z" color="#365c8d"/><path d="M1197 856l0 10-4 0 0-10zM1193 787l0 10-3 0 0-9zM1193 777l0 10-3 1 0-10zM1193 768l0 9-3 1 0-10zM1197 846l0 10-4 0 0-10z" color="#34608d"/><path d="M1200 886l0 10-4-1 1-10zM1197 837l0 9-4 0 0-9z" color="#32648e"/><path d="M1200 876l0 10-3-1 0-9zM1197 827l0 10-4 0 0-10zM1197 817l0 10-4 0 0-10z" color="#31688e"/><path d="M1200 866l0 10-3 0 0-10zM1197 807l0 10-4 0 0-10zM1204 896l0 10-4-1 0-9zM1197 797l0 10-4 0 0-10z" color="#2f6c8e"/><path d="M1200 856l0 10-3 0 0-10zM1197 787l0 10-4 0 0-10zM1197 777l0 10-4 0 0-10zM1197 767l0 10-4 0 0-9zM1200 846l0 10-3 0 0-10zM1204 886l0 10-4 0 0-10z" color="#2d708e"/><path d="M1200 837l0 9-3 0 0-9zM1204 876l0 10-4 0 0-10z" color="#2c738e"/><path d="M1200 827l0 10-3 0 0-10zM1200 817l0 10-3 0 0-10zM1204 866l0 10-4 0 0-10z" color="#2a778e"/><path d="M1200 807l0 10-3 0 0-10zM1207 896l0 10-3 0 0-10zM1200 797l0 10-3 0 0-10zM1200 787l0 10-3 0 0-10zM1204 856l0 10-4 0 0-10z" color="#297b8e"/><path d="M1200 777l0 10-3 0 0-10zM1200 767l0 10-3 0 0-10zM1204 846l0 10-4 0 0-10zM1207 886l0 10-3 0 0-10z" color="#277f8e"/><path d="M1204 837l0 9-4 0 0-9zM1207 876l0 10-3 0 0-10zM1204 827l0 10-4 0 0-10z" color="#26828e"/><path d="M1204 817l0 10-4 0 0-10zM1207 866l0 10-3 0 0-10zM1204 807l0 10-4 0 0-10z" color="#24868e"/><path d="M1211 897l0 9-4 0 0-10zM1204 797l0 10-4 0 0-10zM1204 787l0 10-4 0 0-10zM1207 857l0 9-3 0 0-10zM1204 777l0 10-4 0 0-10zM1204 767l0 10-4 0 0-10z" color="#238a8d"/><path d="M1208 847l-1 10-3-1 0-10zM1211 887l0 10-4-1 0-10z" color="#218e8d"/><path d="M1208 837l0 10-4-1 0-9zM1211 877l0 10-4-1 0-10zM1208 826l0 11-4 0 0-10z" color="#20928c"/><path d="M1208 816l0 10-4 1 0-10zM1211 867l0 10-4-1 0-10zM1208 806l0 10-4 1 0-10zM1215 897l-1 10-3-1 0-9z" color="#1f968b"/><path d="M1208 796l0 10-4 1 0-10zM1208 786l0 10-4 1 0-10zM1211 857l0 10-4-1 0-9zM1208 776l0 10-4 1 0-10zM1208 766l0 10-4 1 0-10z" color="#1f9a8a"/><path d="M1211 847l0 10-4 0 1-10zM1215 887l0 10-4 0 0-10zM1211 837l0 10-3 0 0-10z" color="#1f9e89"/><path d="M1215 877l0 10-4 0 0-10zM1211 826l0 11-3 0 0-11zM1211 816l0 10-3 0 0-10z" color="#1fa187"/><path d="M1215 867l0 10-4 0 0-10zM1211 806l0 10-3 0 0-10zM1218 897l0 10-4 0 1-10zM1211 796l0 10-3 0 0-10z" color="#21a585"/><path d="M1211 786l0 10-3 0 0-10zM1215 857l0 10-4 0 0-10zM1211 776l0 10-3 0 0-10zM1211 766l0 10-3 0 0-10zM1215 847l0 10-4 0 0-10zM1218 887l0 10-3 0 0-10z" color="#23a983"/><path d="M1215 837l0 10-4 0 0-10zM1218 877l0 10-3 0 0-10z" color="#26ad81"/><path d="M1215 826l0 11-4 0 0-11zM1215 816l0 10-4 0 0-10zM1219 867l-1 10-3 0 0-10z" color="#2ab07f"/><path d="M1215 806l0 10-4 0 0-10zM1215 796l0 10-4 0 0-10zM1222 898l0 10-4-1 0-10zM1219 857l0 10-4 0 0-10zM1215 786l0 10-4 0 0-10z" color="#2fb47c"/><path d="M1215 775l0 11-4 0 0-10zM1215 765l0 10-4 1 0-10zM1219 847l0 10-4 0 0-10zM1222 887l0 11-4-1 0-10z" color="#35b779"/><path d="M1219 837l0 10-4 0 0-10zM1222 877l0 10-4 0 0-10z" color="#3bbb75"/><path d="M1219 826l0 11-4 0 0-11zM1219 816l0 10-4 0 0-10zM1222 867l0 10-4 0 1-10z" color="#42be71"/><path d="M1219 806l0 10-4 0 0-10zM1219 796l0 10-4 0 0-10zM1226 898l0 10-4 0 0-10zM1223 857l-1 10-3 0 0-10z" color="#4ac16d"/><path d="M1219 785l0 11-4 0 0-10zM1219 775l0 10-4 1 0-11zM1219 765l0 10-4 0 0-10zM1223 847l0 10-4 0 0-10z" color="#52c569"/><path d="M1226 888l0 10-4 0 0-11zM1223 837l0 10-4 0 0-10z" color="#5ac864"/><path d="M1226 878l0 10-4-1 0-10zM1223 826l0 11-4 0 0-11z" color="#65cb5e"/><path d="M1223 816l0 10-4 0 0-10zM1226 867l0 11-4-1 0-10zM1223 806l0 10-4 0 0-10z" color="#6ece58"/><path d="M1223 795l0 11-4 0 0-10zM1230 898l0 11-4-1 0-10zM1226 857l0 10-4 0 1-10zM1223 785l0 10-4 1 0-11zM1223 775l0 10-4 0 0-10z" color="#77d153"/><path d="M1223 764l0 11-4 0 0-10zM1227 847l-1 10-3 0 0-10zM1230 888l0 10-4 0 0-10z" color="#81d34d"/><path d="M1227 837l0 10-4 0 0-10zM1230 878l0 10-4 0 0-10z" color="#8bd646"/><path d="M1227 826l0 11-4 0 0-11zM1227 816l0 10-4 0 0-10zM1230 868l0 10-4 0 0-11z" color="#95d840"/><path d="M1227 805l0 11-4 0 0-10zM1227 795l0 10-4 1 0-11zM1234 899l0 10-4 0 0-11z" color="#a0da39"/><path d="M1230 857l0 11-4-1 0-10zM1227 785l0 10-4 0 0-10zM1227 774l0 11-4 0 0-10zM1227 764l0 10-4 1 0-11zM1231 847l-1 10-4 0 1-10z" color="#aadc32"/><path d="M1234 889l0 10-4-1 0-10zM1231 837l0 10-4 0 0-10z" color="#b5de2b"/><path d="M1234 878l0 11-4-1 0-10zM1231 826l0 11-4 0 0-11z" color="#c0df25"/><path d="M1231 816l0 10-4 0 0-10zM1234 868l0 10-4 0 0-10zM1231 805l0 11-4 0 0-11z" color="#cae11f"/><path d="M1231 795l0 10-4 0 0-10zM1234 857l0 11-4 0 0-11zM1231 784l0 11-4 0 0-10zM1231 774l0 10-4 1 0-11z" color="#d5e21a"/><path d="M1231 763l0 11-4 0 0-10zM1235 847l-1 10-4 0 1-10z" color="#dfe318"/><path d="M1235 837l0 10-4 0 0-10zM1235 826l0 11-4 0 0-11z" color="#eae51a"/><path d="M1234 763l0 11-3 0 0-11zM1235 816l0 10-4 0 0-10zM1235 805l0 11-4 0 0-11zM1234 774l1 10-4 0 0-10zM1235 795l0 10-4 0 0-10zM1235 784l0 11-4 0 0-11z" color="#f4e61e"/></g><g id="text_138"><text style="font-size: 12px; font-family: 'DejaVu Sans'; text-anchor: start" x="501.6" y="349.5" transform="rotate(-0 501.6 349.5)">(i)</text></g></g><g id="text_139"><text style="font-size: 14.1px; font-family: 'Liberation Serif'; text-anchor: middle" x="409.2" y="10.4" transform="rotate(-0 409.2 10.4)">First ionization energy surface of LiH using the Extended Koopmans's Theorem</text></g></g><defs><clipPath id="p0fc404df47"><rect x="136" y="35.8" width="156.333333" height="129"/></clipPath><clipPath id="pd40494ff04"><rect x="318.1" y="35.8" width="156.333333" height="129"/></clipPath><clipPath id="p53922de5e3"><rect x="501.6" y="35.8" width="156.333333" height="129"/></clipPath><clipPath id="p740e0da56d"><rect x="136" y="196.1" width="156.333333" height="129"/></clipPath><clipPath id="p5fcb4ca312"><rect x="318.1" y="196.1" width="156.333333" height="129"/></clipPath><clipPath id="p4137d0b839"><rect x="501.6" y="196.1" width="156.333333" height="129"/></clipPath><clipPath id="pc0d22d3f73"><rect x="136" y="355.5" width="156.333333" height="129"/></clipPath><clipPath id="p1bf89837bf"><rect x="318.1" y="355.5" width="156.333333" height="129"/></clipPath><clipPath id="p5855ef2dca"><rect x="501.6" y="355.5" width="156.333333" height="129"/></clipPath></defs></svg>
</body></html>
